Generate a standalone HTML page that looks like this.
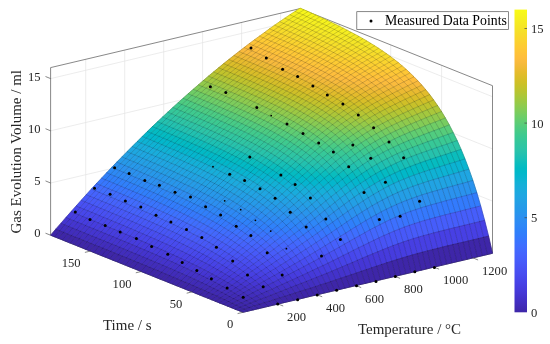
<!DOCTYPE html>
<html><head><meta charset="utf-8"><title>Gas Evolution Volume</title>
<style>html,body{margin:0;padding:0;background:#fff}svg{display:block}</style></head>
<body>
<svg width="550" height="344" viewBox="0 0 550 344" font-family="'Liberation Serif', 'Times New Roman', serif">
<rect width="550" height="344" fill="#fff"/>
<path d="M85.7,226.9L85.7,59.3M278.1,304L85.7,226.9M124.7,217.7L124.7,50.1M317.1,294.8L124.7,217.7M163.7,208.5L163.7,40.9M356.1,285.6L163.7,208.5M202.6,199.2L202.6,31.6M395,276.3L202.6,199.2M241.6,190L241.6,22.4M434,267.1L241.6,190M280.6,180.8L280.6,13.2M473,257.9L280.6,180.8M441.6,232.9L441.6,65.3M192.1,291.9L441.6,232.9M390.7,212.5L390.7,44.9M141.2,271.5L390.7,212.5M339.8,192.1L339.8,24.5M90.3,251.1L339.8,192.1M50.6,183L300.1,124M300.1,124L492.5,201.1M50.6,130.8L300.1,71.8M300.1,71.8L492.5,148.9M50.6,78.6L300.1,19.6M300.1,19.6L492.5,96.7" stroke="#e4e4e4" stroke-width="0.7" fill="none"/>
<path d="M50.6,235.2L50.6,67.6M50.6,67.6L300.1,8.6M300.1,8.6L492.5,85.7M492.5,85.7L492.5,253.3M300.1,176.2L300.1,8.6M50.6,235.2L243,312.3M243,312.3L492.5,253.3" stroke="#555" stroke-width="0.7" fill="none"/>
<g stroke-width="0.7" stroke-linejoin="round">
<path fill="#f7f61a" stroke="#f7f61a" d="M298.9,13.1L304,9.8 300.1,8.1 295,11.4z"/>
<path fill="#f6f11e" stroke="#f6f11e" d="M293.8,16.5L298.9,13.1 295,11.4 289.9,14.8z"/>
<path fill="#f5ec22" stroke="#f5ec22" d="M288.8,19.9L293.8,16.5 289.9,14.8 284.8,18.2z"/>
<path fill="#f5e725" stroke="#f5e725" d="M283.7,23.4L288.8,19.9 284.8,18.2 279.7,21.7z"/>
<path fill="#f5e128" stroke="#f5e128" d="M278.6,26.9L283.7,23.4 279.7,21.7 274.6,25.2z"/>
<path fill="#f7dc2a" stroke="#f7dc2a" d="M273.5,30.5L278.6,26.9 274.6,25.2 269.5,28.8z"/>
<path fill="#fad62d" stroke="#fad62d" d="M268.4,34.1L273.5,30.5 269.5,28.8 264.5,32.5z"/>
<path fill="#fcd030" stroke="#fcd030" d="M263.3,37.8L268.4,34.1 264.5,32.5 259.4,36.2z"/>
<path fill="#feca33" stroke="#feca33" d="M258.2,41.6L263.3,37.8 259.4,36.2 254.3,39.9z"/>
<path fill="#fec438" stroke="#fec438" d="M253.1,45.4L258.2,41.6 254.3,39.9 249.2,43.7z"/>
<path fill="#febe3c" stroke="#febe3c" d="M248,49.2L253.1,45.4 249.2,43.7 244.1,47.6z"/>
<path fill="#f9ba3d" stroke="#f9ba3d" d="M242.9,53.2L248,49.2 244.1,47.6 239,51.5z"/>
<path fill="#f0ba36" stroke="#f0ba36" d="M237.8,57.1L242.9,53.2 239,51.5 233.9,55.5z"/>
<path fill="#e7bb2d" stroke="#e7bb2d" d="M232.7,61.2L237.8,57.1 233.9,55.5 228.8,59.5z"/>
<path fill="#dbbd29" stroke="#dbbd29" d="M227.6,65.3L232.7,61.2 228.8,59.5 223.7,63.6z"/>
<path fill="#cfc028" stroke="#cfc028" d="M222.6,69.4L227.6,65.3 223.7,63.6 218.6,67.8z"/>
<path fill="#c2c22c" stroke="#c2c22c" d="M217.5,73.6L222.6,69.4 218.6,67.8 213.5,72z"/>
<path fill="#b3c534" stroke="#b3c534" d="M212.4,77.8L217.5,73.6 213.5,72 208.4,76.2z"/>
<path fill="#a3c83f" stroke="#a3c83f" d="M207.3,82.1L212.4,77.8 208.4,76.2 203.4,80.5z"/>
<path fill="#92ca4b" stroke="#92ca4b" d="M202.2,86.5L207.3,82.1 203.4,80.5 198.3,84.9z"/>
<path fill="#81cc59" stroke="#81cc59" d="M197.1,90.9L202.2,86.5 198.3,84.9 193.2,89.3z"/>
<path fill="#6fcd66" stroke="#6fcd66" d="M192,95.4L197.1,90.9 193.2,89.3 188.1,93.8z"/>
<path fill="#5ecc74" stroke="#5ecc74" d="M186.9,99.9L192,95.4 188.1,93.8 183,98.3z"/>
<path fill="#4ecc81" stroke="#4ecc81" d="M181.8,104.5L186.9,99.9 183,98.3 177.9,102.9z"/>
<path fill="#3fca8e" stroke="#3fca8e" d="M176.7,109.1L181.8,104.5 177.9,102.9 172.8,107.5z"/>
<path fill="#35c79a" stroke="#35c79a" d="M171.6,113.8L176.7,109.1 172.8,107.5 167.7,112.2z"/>
<path fill="#2ec4a4" stroke="#2ec4a4" d="M166.5,118.6L171.6,113.8 167.7,112.2 162.6,117z"/>
<path fill="#24c1ae" stroke="#24c1ae" d="M161.5,123.4L166.5,118.6 162.6,117 157.5,121.8z"/>
<path fill="#14beb8" stroke="#14beb8" d="M156.4,128.2L161.5,123.4 157.5,121.8 152.4,126.6z"/>
<path fill="#04bbc2" stroke="#04bbc2" d="M151.3,133.1L156.4,128.2 152.4,126.6 147.3,131.5z"/>
<path fill="#02b7cb" stroke="#02b7cb" d="M146.2,138.1L151.3,133.1 147.3,131.5 142.3,136.5z"/>
<path fill="#0db3d4" stroke="#0db3d4" d="M141.1,143.1L146.2,138.1 142.3,136.5 137.2,141.5z"/>
<path fill="#18addb" stroke="#18addb" d="M136,148.2L141.1,143.1 137.2,141.5 132.1,146.6z"/>
<path fill="#1ea7e1" stroke="#1ea7e1" d="M130.9,153.3L136,148.2 132.1,146.6 127,151.7z"/>
<path fill="#23a0e5" stroke="#23a0e5" d="M125.8,158.5L130.9,153.3 127,151.7 121.9,156.9z"/>
<path fill="#2699e9" stroke="#2699e9" d="M120.7,163.7L125.8,158.5 121.9,156.9 116.8,162.1z"/>
<path fill="#2b91ef" stroke="#2b91ef" d="M115.6,169L120.7,163.7 116.8,162.1 111.7,167.4z"/>
<path fill="#2d89f5" stroke="#2d89f5" d="M110.5,174.4L115.6,169 111.7,167.4 106.6,172.8z"/>
<path fill="#2f80fa" stroke="#2f80fa" d="M105.4,179.8L110.5,174.4 106.6,172.8 101.5,178.2z"/>
<path fill="#3777fe" stroke="#3777fe" d="M100.4,185.2L105.4,179.8 101.5,178.2 96.4,183.6z"/>
<path fill="#406dfe" stroke="#406dfe" d="M95.3,190.7L100.4,185.2 96.4,183.6 91.3,189.1z"/>
<path fill="#4563fd" stroke="#4563fd" d="M90.2,196.3L95.3,190.7 91.3,189.1 86.2,194.7z"/>
<path fill="#475af9" stroke="#475af9" d="M85.1,201.9L90.2,196.3 86.2,194.7 81.2,200.3z"/>
<path fill="#4850f3" stroke="#4850f3" d="M80,207.6L85.1,201.9 81.2,200.3 76.1,206z"/>
<path fill="#4747eb" stroke="#4747eb" d="M74.9,213.3L80,207.6 76.1,206 71,211.7z"/>
<path fill="#463de0" stroke="#463de0" d="M69.8,219.1L74.9,213.3 71,211.7 65.9,217.5z"/>
<path fill="#4435d0" stroke="#4435d0" d="M64.7,224.9L69.8,219.1 65.9,217.5 60.8,223.4z"/>
<path fill="#412dbd" stroke="#412dbd" d="M59.6,230.8L64.7,224.9 60.8,223.4 55.7,229.2z"/>
<path fill="#3e26a8" stroke="#3e26a8" d="M54.5,236.8L59.6,230.8 55.7,229.2 50.6,235.2z"/>
<path fill="#f7f61b" stroke="#f7f61b" d="M302.9,14.8L308,11.5 304,9.8 298.9,13.1z"/>
<path fill="#f6f11f" stroke="#f6f11f" d="M297.8,18.2L302.9,14.8 298.9,13.1 293.8,16.5z"/>
<path fill="#f5ec22" stroke="#f5ec22" d="M292.7,21.6L297.8,18.2 293.8,16.5 288.8,19.9z"/>
<path fill="#f5e725" stroke="#f5e725" d="M287.6,25.1L292.7,21.6 288.8,19.9 283.7,23.4z"/>
<path fill="#f5e128" stroke="#f5e128" d="M282.5,28.6L287.6,25.1 283.7,23.4 278.6,26.9z"/>
<path fill="#f7db2a" stroke="#f7db2a" d="M277.4,32.2L282.5,28.6 278.6,26.9 273.5,30.5z"/>
<path fill="#fad62d" stroke="#fad62d" d="M272.3,35.8L277.4,32.2 273.5,30.5 268.4,34.1z"/>
<path fill="#fcd030" stroke="#fcd030" d="M267.2,39.5L272.3,35.8 268.4,34.1 263.3,37.8z"/>
<path fill="#feca33" stroke="#feca33" d="M262.1,43.2L267.2,39.5 263.3,37.8 258.2,41.6z"/>
<path fill="#fec438" stroke="#fec438" d="M257,47L262.1,43.2 258.2,41.6 253.1,45.4z"/>
<path fill="#febe3c" stroke="#febe3c" d="M251.9,50.9L257,47 253.1,45.4 248,49.2z"/>
<path fill="#f9ba3d" stroke="#f9ba3d" d="M246.9,54.8L251.9,50.9 248,49.2 242.9,53.2z"/>
<path fill="#f0ba36" stroke="#f0ba36" d="M241.8,58.8L246.9,54.8 242.9,53.2 237.8,57.1z"/>
<path fill="#e6bb2d" stroke="#e6bb2d" d="M236.7,62.8L241.8,58.8 237.8,57.1 232.7,61.2z"/>
<path fill="#dbbd29" stroke="#dbbd29" d="M231.6,66.9L236.7,62.8 232.7,61.2 227.6,65.3z"/>
<path fill="#cfc028" stroke="#cfc028" d="M226.5,71L231.6,66.9 227.6,65.3 222.6,69.4z"/>
<path fill="#c1c32c" stroke="#c1c32c" d="M221.4,75.2L226.5,71 222.6,69.4 217.5,73.6z"/>
<path fill="#b3c534" stroke="#b3c534" d="M216.3,79.5L221.4,75.2 217.5,73.6 212.4,77.8z"/>
<path fill="#a3c83f" stroke="#a3c83f" d="M211.2,83.8L216.3,79.5 212.4,77.8 207.3,82.1z"/>
<path fill="#92ca4b" stroke="#92ca4b" d="M206.1,88.1L211.2,83.8 207.3,82.1 202.2,86.5z"/>
<path fill="#81cc59" stroke="#81cc59" d="M201,92.5L206.1,88.1 202.2,86.5 197.1,90.9z"/>
<path fill="#6fcd66" stroke="#6fcd66" d="M195.9,97L201,92.5 197.1,90.9 192,95.4z"/>
<path fill="#5ecc74" stroke="#5ecc74" d="M190.8,101.5L195.9,97 192,95.4 186.9,99.9z"/>
<path fill="#4dcc82" stroke="#4dcc82" d="M185.7,106.1L190.8,101.5 186.9,99.9 181.8,104.5z"/>
<path fill="#3fca8e" stroke="#3fca8e" d="M180.7,110.8L185.7,106.1 181.8,104.5 176.7,109.1z"/>
<path fill="#35c79a" stroke="#35c79a" d="M175.6,115.5L180.7,110.8 176.7,109.1 171.6,113.8z"/>
<path fill="#2ec4a4" stroke="#2ec4a4" d="M170.5,120.2L175.6,115.5 171.6,113.8 166.5,118.6z"/>
<path fill="#24c1af" stroke="#24c1af" d="M165.4,125L170.5,120.2 166.5,118.6 161.5,123.4z"/>
<path fill="#14beb8" stroke="#14beb8" d="M160.3,129.9L165.4,125 161.5,123.4 156.4,128.2z"/>
<path fill="#04bbc2" stroke="#04bbc2" d="M155.2,134.8L160.3,129.9 156.4,128.2 151.3,133.1z"/>
<path fill="#02b7cb" stroke="#02b7cb" d="M150.1,139.7L155.2,134.8 151.3,133.1 146.2,138.1z"/>
<path fill="#0eb3d4" stroke="#0eb3d4" d="M145,144.8L150.1,139.7 146.2,138.1 141.1,143.1z"/>
<path fill="#18addb" stroke="#18addb" d="M139.9,149.8L145,144.8 141.1,143.1 136,148.2z"/>
<path fill="#1ea7e1" stroke="#1ea7e1" d="M134.8,155L139.9,149.8 136,148.2 130.9,153.3z"/>
<path fill="#23a0e5" stroke="#23a0e5" d="M129.7,160.1L134.8,155 130.9,153.3 125.8,158.5z"/>
<path fill="#2699e9" stroke="#2699e9" d="M124.6,165.4L129.7,160.1 125.8,158.5 120.7,163.7z"/>
<path fill="#2b91ef" stroke="#2b91ef" d="M119.6,170.7L124.6,165.4 120.7,163.7 115.6,169z"/>
<path fill="#2d89f5" stroke="#2d89f5" d="M114.5,176L119.6,170.7 115.6,169 110.5,174.4z"/>
<path fill="#2f80fa" stroke="#2f80fa" d="M109.4,181.4L114.5,176 110.5,174.4 105.4,179.8z"/>
<path fill="#3777fe" stroke="#3777fe" d="M104.3,186.9L109.4,181.4 105.4,179.8 100.4,185.2z"/>
<path fill="#406dfe" stroke="#406dfe" d="M99.2,192.4L104.3,186.9 100.4,185.2 95.3,190.7z"/>
<path fill="#4563fd" stroke="#4563fd" d="M94.1,197.9L99.2,192.4 95.3,190.7 90.2,196.3z"/>
<path fill="#475af9" stroke="#475af9" d="M89,203.5L94.1,197.9 90.2,196.3 85.1,201.9z"/>
<path fill="#4850f3" stroke="#4850f3" d="M83.9,209.2L89,203.5 85.1,201.9 80,207.6z"/>
<path fill="#4747eb" stroke="#4747eb" d="M78.8,214.9L83.9,209.2 80,207.6 74.9,213.3z"/>
<path fill="#463de0" stroke="#463de0" d="M73.7,220.7L78.8,214.9 74.9,213.3 69.8,219.1z"/>
<path fill="#4435d0" stroke="#4435d0" d="M68.6,226.5L73.7,220.7 69.8,219.1 64.7,224.9z"/>
<path fill="#412dbd" stroke="#412dbd" d="M63.5,232.4L68.6,226.5 64.7,224.9 59.6,230.8z"/>
<path fill="#3e26a8" stroke="#3e26a8" d="M58.5,238.3L63.5,232.4 59.6,230.8 54.5,236.8z"/>
<path fill="#f7f51b" stroke="#f7f51b" d="M306.8,16.6L311.9,13.3 308,11.5 302.9,14.8z"/>
<path fill="#f6f01f" stroke="#f6f01f" d="M301.7,19.9L306.8,16.6 302.9,14.8 297.8,18.2z"/>
<path fill="#f5eb23" stroke="#f5eb23" d="M296.6,23.3L301.7,19.9 297.8,18.2 292.7,21.6z"/>
<path fill="#f5e626" stroke="#f5e626" d="M291.5,26.8L296.6,23.3 292.7,21.6 287.6,25.1z"/>
<path fill="#f6e128" stroke="#f6e128" d="M286.4,30.3L291.5,26.8 287.6,25.1 282.5,28.6z"/>
<path fill="#f7db2a" stroke="#f7db2a" d="M281.3,33.9L286.4,30.3 282.5,28.6 277.4,32.2z"/>
<path fill="#fad52d" stroke="#fad52d" d="M276.2,37.5L281.3,33.9 277.4,32.2 272.3,35.8z"/>
<path fill="#fccf30" stroke="#fccf30" d="M271.1,41.2L276.2,37.5 272.3,35.8 267.2,39.5z"/>
<path fill="#fec934" stroke="#fec934" d="M266.1,44.9L271.1,41.2 267.2,39.5 262.1,43.2z"/>
<path fill="#fec438" stroke="#fec438" d="M261,48.7L266.1,44.9 262.1,43.2 257,47z"/>
<path fill="#febe3c" stroke="#febe3c" d="M255.9,52.5L261,48.7 257,47 251.9,50.9z"/>
<path fill="#f8ba3d" stroke="#f8ba3d" d="M250.8,56.4L255.9,52.5 251.9,50.9 246.9,54.8z"/>
<path fill="#f0ba36" stroke="#f0ba36" d="M245.7,60.4L250.8,56.4 246.9,54.8 241.8,58.8z"/>
<path fill="#e6bb2d" stroke="#e6bb2d" d="M240.6,64.4L245.7,60.4 241.8,58.8 236.7,62.8z"/>
<path fill="#dbbd29" stroke="#dbbd29" d="M235.5,68.5L240.6,64.4 236.7,62.8 231.6,66.9z"/>
<path fill="#cfc028" stroke="#cfc028" d="M230.4,72.6L235.5,68.5 231.6,66.9 226.5,71z"/>
<path fill="#c1c32c" stroke="#c1c32c" d="M225.3,76.8L230.4,72.6 226.5,71 221.4,75.2z"/>
<path fill="#b2c534" stroke="#b2c534" d="M220.2,81.1L225.3,76.8 221.4,75.2 216.3,79.5z"/>
<path fill="#a3c83f" stroke="#a3c83f" d="M215.1,85.4L220.2,81.1 216.3,79.5 211.2,83.8z"/>
<path fill="#92ca4c" stroke="#92ca4c" d="M210,89.8L215.1,85.4 211.2,83.8 206.1,88.1z"/>
<path fill="#80cc59" stroke="#80cc59" d="M205,94.2L210,89.8 206.1,88.1 201,92.5z"/>
<path fill="#6ecd66" stroke="#6ecd66" d="M199.9,98.6L205,94.2 201,92.5 195.9,97z"/>
<path fill="#5dcc74" stroke="#5dcc74" d="M194.8,103.2L199.9,98.6 195.9,97 190.8,101.5z"/>
<path fill="#4dcc82" stroke="#4dcc82" d="M189.7,107.8L194.8,103.2 190.8,101.5 185.7,106.1z"/>
<path fill="#3fca8e" stroke="#3fca8e" d="M184.6,112.4L189.7,107.8 185.7,106.1 180.7,110.8z"/>
<path fill="#35c79a" stroke="#35c79a" d="M179.5,117.1L184.6,112.4 180.7,110.8 175.6,115.5z"/>
<path fill="#2ec4a5" stroke="#2ec4a5" d="M174.4,121.8L179.5,117.1 175.6,115.5 170.5,120.2z"/>
<path fill="#24c1af" stroke="#24c1af" d="M169.3,126.7L174.4,121.8 170.5,120.2 165.4,125z"/>
<path fill="#13beb8" stroke="#13beb8" d="M164.2,131.5L169.3,126.7 165.4,125 160.3,129.9z"/>
<path fill="#04bbc2" stroke="#04bbc2" d="M159.1,136.4L164.2,131.5 160.3,129.9 155.2,134.8z"/>
<path fill="#02b7cb" stroke="#02b7cb" d="M154,141.4L159.1,136.4 155.2,134.8 150.1,139.7z"/>
<path fill="#0eb2d4" stroke="#0eb2d4" d="M148.9,146.4L154,141.4 150.1,139.7 145,144.8z"/>
<path fill="#19addc" stroke="#19addc" d="M143.8,151.5L148.9,146.4 145,144.8 139.9,149.8z"/>
<path fill="#1ea7e1" stroke="#1ea7e1" d="M138.8,156.6L143.8,151.5 139.9,149.8 134.8,155z"/>
<path fill="#23a0e5" stroke="#23a0e5" d="M133.7,161.8L138.8,156.6 134.8,155 129.7,160.1z"/>
<path fill="#2699e9" stroke="#2699e9" d="M128.6,167L133.7,161.8 129.7,160.1 124.6,165.4z"/>
<path fill="#2b91ef" stroke="#2b91ef" d="M123.5,172.3L128.6,167 124.6,165.4 119.6,170.7z"/>
<path fill="#2d89f5" stroke="#2d89f5" d="M118.4,177.6L123.5,172.3 119.6,170.7 114.5,176z"/>
<path fill="#2f80fa" stroke="#2f80fa" d="M113.3,183L118.4,177.6 114.5,176 109.4,181.4z"/>
<path fill="#3777fe" stroke="#3777fe" d="M108.2,188.5L113.3,183 109.4,181.4 104.3,186.9z"/>
<path fill="#406dfe" stroke="#406dfe" d="M103.1,194L108.2,188.5 104.3,186.9 99.2,192.4z"/>
<path fill="#4563fd" stroke="#4563fd" d="M98,199.5L103.1,194 99.2,192.4 94.1,197.9z"/>
<path fill="#475af9" stroke="#475af9" d="M92.9,205.1L98,199.5 94.1,197.9 89,203.5z"/>
<path fill="#4850f3" stroke="#4850f3" d="M87.8,210.8L92.9,205.1 89,203.5 83.9,209.2z"/>
<path fill="#4747eb" stroke="#4747eb" d="M82.7,216.5L87.8,210.8 83.9,209.2 78.8,214.9z"/>
<path fill="#463de0" stroke="#463de0" d="M77.7,222.3L82.7,216.5 78.8,214.9 73.7,220.7z"/>
<path fill="#4435d0" stroke="#4435d0" d="M72.6,228.1L77.7,222.3 73.7,220.7 68.6,226.5z"/>
<path fill="#412dbd" stroke="#412dbd" d="M67.5,234L72.6,228.1 68.6,226.5 63.5,232.4z"/>
<path fill="#3e26a8" stroke="#3e26a8" d="M62.4,239.9L67.5,234 63.5,232.4 58.5,238.3z"/>
<path fill="#f7f51b" stroke="#f7f51b" d="M310.7,18.4L315.8,15.1 311.9,13.3 306.8,16.6z"/>
<path fill="#f6f01f" stroke="#f6f01f" d="M305.6,21.7L310.7,18.4 306.8,16.6 301.7,19.9z"/>
<path fill="#f5eb23" stroke="#f5eb23" d="M300.5,25.1L305.6,21.7 301.7,19.9 296.6,23.3z"/>
<path fill="#f5e626" stroke="#f5e626" d="M295.4,28.5L300.5,25.1 296.6,23.3 291.5,26.8z"/>
<path fill="#f6e028" stroke="#f6e028" d="M290.3,32L295.4,28.5 291.5,26.8 286.4,30.3z"/>
<path fill="#f7db2b" stroke="#f7db2b" d="M285.3,35.6L290.3,32 286.4,30.3 281.3,33.9z"/>
<path fill="#fad52d" stroke="#fad52d" d="M280.2,39.2L285.3,35.6 281.3,33.9 276.2,37.5z"/>
<path fill="#fccf30" stroke="#fccf30" d="M275.1,42.9L280.2,39.2 276.2,37.5 271.1,41.2z"/>
<path fill="#fec934" stroke="#fec934" d="M270,46.6L275.1,42.9 271.1,41.2 266.1,44.9z"/>
<path fill="#fec338" stroke="#fec338" d="M264.9,50.4L270,46.6 266.1,44.9 261,48.7z"/>
<path fill="#febe3c" stroke="#febe3c" d="M259.8,54.2L264.9,50.4 261,48.7 255.9,52.5z"/>
<path fill="#f8ba3d" stroke="#f8ba3d" d="M254.7,58.1L259.8,54.2 255.9,52.5 250.8,56.4z"/>
<path fill="#efba35" stroke="#efba35" d="M249.6,62.1L254.7,58.1 250.8,56.4 245.7,60.4z"/>
<path fill="#e6bb2d" stroke="#e6bb2d" d="M244.5,66.1L249.6,62.1 245.7,60.4 240.6,64.4z"/>
<path fill="#dbbd28" stroke="#dbbd28" d="M239.4,70.2L244.5,66.1 240.6,64.4 235.5,68.5z"/>
<path fill="#cec028" stroke="#cec028" d="M234.3,74.3L239.4,70.2 235.5,68.5 230.4,72.6z"/>
<path fill="#c1c32c" stroke="#c1c32c" d="M229.2,78.5L234.3,74.3 230.4,72.6 225.3,76.8z"/>
<path fill="#b2c535" stroke="#b2c535" d="M224.2,82.7L229.2,78.5 225.3,76.8 220.2,81.1z"/>
<path fill="#a2c83f" stroke="#a2c83f" d="M219.1,87L224.2,82.7 220.2,81.1 215.1,85.4z"/>
<path fill="#92ca4c" stroke="#92ca4c" d="M214,91.4L219.1,87 215.1,85.4 210,89.8z"/>
<path fill="#80cc59" stroke="#80cc59" d="M208.9,95.8L214,91.4 210,89.8 205,94.2z"/>
<path fill="#6ecd67" stroke="#6ecd67" d="M203.8,100.3L208.9,95.8 205,94.2 199.9,98.6z"/>
<path fill="#5dcc75" stroke="#5dcc75" d="M198.7,104.8L203.8,100.3 199.9,98.6 194.8,103.2z"/>
<path fill="#4dcc82" stroke="#4dcc82" d="M193.6,109.4L198.7,104.8 194.8,103.2 189.7,107.8z"/>
<path fill="#3eca8f" stroke="#3eca8f" d="M188.5,114L193.6,109.4 189.7,107.8 184.6,112.4z"/>
<path fill="#35c79a" stroke="#35c79a" d="M183.4,118.7L188.5,114 184.6,112.4 179.5,117.1z"/>
<path fill="#2dc4a5" stroke="#2dc4a5" d="M178.3,123.5L183.4,118.7 179.5,117.1 174.4,121.8z"/>
<path fill="#23c1af" stroke="#23c1af" d="M173.2,128.3L178.3,123.5 174.4,121.8 169.3,126.7z"/>
<path fill="#13beb9" stroke="#13beb9" d="M168.1,133.2L173.2,128.3 169.3,126.7 164.2,131.5z"/>
<path fill="#03bbc2" stroke="#03bbc2" d="M163.1,138.1L168.1,133.2 164.2,131.5 159.1,136.4z"/>
<path fill="#02b7cb" stroke="#02b7cb" d="M158,143L163.1,138.1 159.1,136.4 154,141.4z"/>
<path fill="#0eb2d4" stroke="#0eb2d4" d="M152.9,148.1L158,143 154,141.4 148.9,146.4z"/>
<path fill="#19addc" stroke="#19addc" d="M147.8,153.1L152.9,148.1 148.9,146.4 143.8,151.5z"/>
<path fill="#1ea7e1" stroke="#1ea7e1" d="M142.7,158.3L147.8,153.1 143.8,151.5 138.8,156.6z"/>
<path fill="#23a0e5" stroke="#23a0e5" d="M137.6,163.4L142.7,158.3 138.8,156.6 133.7,161.8z"/>
<path fill="#2699ea" stroke="#2699ea" d="M132.5,168.7L137.6,163.4 133.7,161.8 128.6,167z"/>
<path fill="#2b91ef" stroke="#2b91ef" d="M127.4,173.9L132.5,168.7 128.6,167 123.5,172.3z"/>
<path fill="#2d89f5" stroke="#2d89f5" d="M122.3,179.3L127.4,173.9 123.5,172.3 118.4,177.6z"/>
<path fill="#2f80fa" stroke="#2f80fa" d="M117.2,184.7L122.3,179.3 118.4,177.6 113.3,183z"/>
<path fill="#3777fe" stroke="#3777fe" d="M112.1,190.1L117.2,184.7 113.3,183 108.2,188.5z"/>
<path fill="#406dfe" stroke="#406dfe" d="M107,195.6L112.1,190.1 108.2,188.5 103.1,194z"/>
<path fill="#4563fd" stroke="#4563fd" d="M101.9,201.2L107,195.6 103.1,194 98,199.5z"/>
<path fill="#475af9" stroke="#475af9" d="M96.9,206.8L101.9,201.2 98,199.5 92.9,205.1z"/>
<path fill="#4850f3" stroke="#4850f3" d="M91.8,212.4L96.9,206.8 92.9,205.1 87.8,210.8z"/>
<path fill="#4747eb" stroke="#4747eb" d="M86.7,218.1L91.8,212.4 87.8,210.8 82.7,216.5z"/>
<path fill="#463de0" stroke="#463de0" d="M81.6,223.9L86.7,218.1 82.7,216.5 77.7,222.3z"/>
<path fill="#4435d0" stroke="#4435d0" d="M76.5,229.7L81.6,223.9 77.7,222.3 72.6,228.1z"/>
<path fill="#412dbd" stroke="#412dbd" d="M71.4,235.6L76.5,229.7 72.6,228.1 67.5,234z"/>
<path fill="#3e26a8" stroke="#3e26a8" d="M66.3,241.5L71.4,235.6 67.5,234 62.4,239.9z"/>
<path fill="#f7f41c" stroke="#f7f41c" d="M314.6,20.1L319.7,16.9 315.8,15.1 310.7,18.4z"/>
<path fill="#f6f020" stroke="#f6f020" d="M309.5,23.5L314.6,20.1 310.7,18.4 305.6,21.7z"/>
<path fill="#f5eb23" stroke="#f5eb23" d="M304.5,26.8L309.5,23.5 305.6,21.7 300.5,25.1z"/>
<path fill="#f5e526" stroke="#f5e526" d="M299.4,30.3L304.5,26.8 300.5,25.1 295.4,28.5z"/>
<path fill="#f6e028" stroke="#f6e028" d="M294.3,33.8L299.4,30.3 295.4,28.5 290.3,32z"/>
<path fill="#f8da2b" stroke="#f8da2b" d="M289.2,37.3L294.3,33.8 290.3,32 285.3,35.6z"/>
<path fill="#fad52e" stroke="#fad52e" d="M284.1,40.9L289.2,37.3 285.3,35.6 280.2,39.2z"/>
<path fill="#fccf30" stroke="#fccf30" d="M279,44.6L284.1,40.9 280.2,39.2 275.1,42.9z"/>
<path fill="#fec934" stroke="#fec934" d="M273.9,48.3L279,44.6 275.1,42.9 270,46.6z"/>
<path fill="#fec338" stroke="#fec338" d="M268.8,52L273.9,48.3 270,46.6 264.9,50.4z"/>
<path fill="#febe3c" stroke="#febe3c" d="M263.7,55.9L268.8,52 264.9,50.4 259.8,54.2z"/>
<path fill="#f8ba3d" stroke="#f8ba3d" d="M258.6,59.8L263.7,55.9 259.8,54.2 254.7,58.1z"/>
<path fill="#efba35" stroke="#efba35" d="M253.5,63.7L258.6,59.8 254.7,58.1 249.6,62.1z"/>
<path fill="#e5bb2d" stroke="#e5bb2d" d="M248.4,67.7L253.5,63.7 249.6,62.1 244.5,66.1z"/>
<path fill="#dabd28" stroke="#dabd28" d="M243.4,71.8L248.4,67.7 244.5,66.1 239.4,70.2z"/>
<path fill="#cec028" stroke="#cec028" d="M238.3,75.9L243.4,71.8 239.4,70.2 234.3,74.3z"/>
<path fill="#c1c32d" stroke="#c1c32d" d="M233.2,80.1L238.3,75.9 234.3,74.3 229.2,78.5z"/>
<path fill="#b2c635" stroke="#b2c635" d="M228.1,84.4L233.2,80.1 229.2,78.5 224.2,82.7z"/>
<path fill="#a2c83f" stroke="#a2c83f" d="M223,88.7L228.1,84.4 224.2,82.7 219.1,87z"/>
<path fill="#91ca4c" stroke="#91ca4c" d="M217.9,93L223,88.7 219.1,87 214,91.4z"/>
<path fill="#80cc59" stroke="#80cc59" d="M212.8,97.4L217.9,93 214,91.4 208.9,95.8z"/>
<path fill="#6ecd67" stroke="#6ecd67" d="M207.7,101.9L212.8,97.4 208.9,95.8 203.8,100.3z"/>
<path fill="#5dcc75" stroke="#5dcc75" d="M202.6,106.5L207.7,101.9 203.8,100.3 198.7,104.8z"/>
<path fill="#4dcb82" stroke="#4dcb82" d="M197.5,111L202.6,106.5 198.7,104.8 193.6,109.4z"/>
<path fill="#3eca8f" stroke="#3eca8f" d="M192.4,115.7L197.5,111 193.6,109.4 188.5,114z"/>
<path fill="#35c79a" stroke="#35c79a" d="M187.3,120.4L192.4,115.7 188.5,114 183.4,118.7z"/>
<path fill="#2dc4a5" stroke="#2dc4a5" d="M182.3,125.1L187.3,120.4 183.4,118.7 178.3,123.5z"/>
<path fill="#23c1af" stroke="#23c1af" d="M177.2,130L182.3,125.1 178.3,123.5 173.2,128.3z"/>
<path fill="#12beb9" stroke="#12beb9" d="M172.1,134.8L177.2,130 173.2,128.3 168.1,133.2z"/>
<path fill="#03bbc2" stroke="#03bbc2" d="M167,139.7L172.1,134.8 168.1,133.2 163.1,138.1z"/>
<path fill="#03b7cc" stroke="#03b7cc" d="M161.9,144.7L167,139.7 163.1,138.1 158,143z"/>
<path fill="#0eb2d4" stroke="#0eb2d4" d="M156.8,149.7L161.9,144.7 158,143 152.9,148.1z"/>
<path fill="#19addc" stroke="#19addc" d="M151.7,154.8L156.8,149.7 152.9,148.1 147.8,153.1z"/>
<path fill="#1ea6e1" stroke="#1ea6e1" d="M146.6,159.9L151.7,154.8 147.8,153.1 142.7,158.3z"/>
<path fill="#23a0e5" stroke="#23a0e5" d="M141.5,165.1L146.6,159.9 142.7,158.3 137.6,163.4z"/>
<path fill="#2698ea" stroke="#2698ea" d="M136.4,170.3L141.5,165.1 137.6,163.4 132.5,168.7z"/>
<path fill="#2b91ef" stroke="#2b91ef" d="M131.3,175.6L136.4,170.3 132.5,168.7 127.4,173.9z"/>
<path fill="#2d89f6" stroke="#2d89f6" d="M126.2,180.9L131.3,175.6 127.4,173.9 122.3,179.3z"/>
<path fill="#3080fa" stroke="#3080fa" d="M121.2,186.3L126.2,180.9 122.3,179.3 117.2,184.7z"/>
<path fill="#3776fe" stroke="#3776fe" d="M116.1,191.7L121.2,186.3 117.2,184.7 112.1,190.1z"/>
<path fill="#406dfe" stroke="#406dfe" d="M111,197.2L116.1,191.7 112.1,190.1 107,195.6z"/>
<path fill="#4563fc" stroke="#4563fc" d="M105.9,202.8L111,197.2 107,195.6 101.9,201.2z"/>
<path fill="#475af9" stroke="#475af9" d="M100.8,208.4L105.9,202.8 101.9,201.2 96.9,206.8z"/>
<path fill="#4850f3" stroke="#4850f3" d="M95.7,214L100.8,208.4 96.9,206.8 91.8,212.4z"/>
<path fill="#4747eb" stroke="#4747eb" d="M90.6,219.7L95.7,214 91.8,212.4 86.7,218.1z"/>
<path fill="#463de0" stroke="#463de0" d="M85.5,225.5L90.6,219.7 86.7,218.1 81.6,223.9z"/>
<path fill="#4435d0" stroke="#4435d0" d="M80.4,231.3L85.5,225.5 81.6,223.9 76.5,229.7z"/>
<path fill="#412dbd" stroke="#412dbd" d="M75.3,237.2L80.4,231.3 76.5,229.7 71.4,235.6z"/>
<path fill="#3e26a8" stroke="#3e26a8" d="M70.2,243.1L75.3,237.2 71.4,235.6 66.3,241.5z"/>
<path fill="#f7f41c" stroke="#f7f41c" d="M318.6,21.9L323.7,18.7 319.7,16.9 314.6,20.1z"/>
<path fill="#f6ef20" stroke="#f6ef20" d="M313.5,25.3L318.6,21.9 314.6,20.1 309.5,23.5z"/>
<path fill="#f5ea24" stroke="#f5ea24" d="M308.4,28.6L313.5,25.3 309.5,23.5 304.5,26.8z"/>
<path fill="#f5e526" stroke="#f5e526" d="M303.3,32L308.4,28.6 304.5,26.8 299.4,30.3z"/>
<path fill="#f6e029" stroke="#f6e029" d="M298.2,35.5L303.3,32 299.4,30.3 294.3,33.8z"/>
<path fill="#f8da2b" stroke="#f8da2b" d="M293.1,39L298.2,35.5 294.3,33.8 289.2,37.3z"/>
<path fill="#fad42e" stroke="#fad42e" d="M288,42.6L293.1,39 289.2,37.3 284.1,40.9z"/>
<path fill="#fdce31" stroke="#fdce31" d="M282.9,46.3L288,42.6 284.1,40.9 279,44.6z"/>
<path fill="#fec934" stroke="#fec934" d="M277.8,50L282.9,46.3 279,44.6 273.9,48.3z"/>
<path fill="#fec338" stroke="#fec338" d="M272.7,53.7L277.8,50 273.9,48.3 268.8,52z"/>
<path fill="#febd3c" stroke="#febd3c" d="M267.6,57.6L272.7,53.7 268.8,52 263.7,55.9z"/>
<path fill="#f8ba3d" stroke="#f8ba3d" d="M262.6,61.4L267.6,57.6 263.7,55.9 258.6,59.8z"/>
<path fill="#efba35" stroke="#efba35" d="M257.5,65.4L262.6,61.4 258.6,59.8 253.5,63.7z"/>
<path fill="#e5bb2d" stroke="#e5bb2d" d="M252.4,69.4L257.5,65.4 253.5,63.7 248.4,67.7z"/>
<path fill="#dabd28" stroke="#dabd28" d="M247.3,73.5L252.4,69.4 248.4,67.7 243.4,71.8z"/>
<path fill="#cec028" stroke="#cec028" d="M242.2,77.6L247.3,73.5 243.4,71.8 238.3,75.9z"/>
<path fill="#c0c32d" stroke="#c0c32d" d="M237.1,81.8L242.2,77.6 238.3,75.9 233.2,80.1z"/>
<path fill="#b1c635" stroke="#b1c635" d="M232,86L237.1,81.8 233.2,80.1 228.1,84.4z"/>
<path fill="#a2c840" stroke="#a2c840" d="M226.9,90.3L232,86 228.1,84.4 223,88.7z"/>
<path fill="#91ca4c" stroke="#91ca4c" d="M221.8,94.7L226.9,90.3 223,88.7 217.9,93z"/>
<path fill="#7fcc5a" stroke="#7fcc5a" d="M216.7,99.1L221.8,94.7 217.9,93 212.8,97.4z"/>
<path fill="#6dcd67" stroke="#6dcd67" d="M211.6,103.6L216.7,99.1 212.8,97.4 207.7,101.9z"/>
<path fill="#5ccc75" stroke="#5ccc75" d="M206.5,108.1L211.6,103.6 207.7,101.9 202.6,106.5z"/>
<path fill="#4ccb83" stroke="#4ccb83" d="M201.5,112.7L206.5,108.1 202.6,106.5 197.5,111z"/>
<path fill="#3eca8f" stroke="#3eca8f" d="M196.4,117.4L201.5,112.7 197.5,111 192.4,115.7z"/>
<path fill="#35c79b" stroke="#35c79b" d="M191.3,122.1L196.4,117.4 192.4,115.7 187.3,120.4z"/>
<path fill="#2dc4a5" stroke="#2dc4a5" d="M186.2,126.8L191.3,122.1 187.3,120.4 182.3,125.1z"/>
<path fill="#22c1af" stroke="#22c1af" d="M181.1,131.6L186.2,126.8 182.3,125.1 177.2,130z"/>
<path fill="#12beb9" stroke="#12beb9" d="M176,136.5L181.1,131.6 177.2,130 172.1,134.8z"/>
<path fill="#03bbc3" stroke="#03bbc3" d="M170.9,141.4L176,136.5 172.1,134.8 167,139.7z"/>
<path fill="#03b7cc" stroke="#03b7cc" d="M165.8,146.4L170.9,141.4 167,139.7 161.9,144.7z"/>
<path fill="#0fb2d4" stroke="#0fb2d4" d="M160.7,151.4L165.8,146.4 161.9,144.7 156.8,149.7z"/>
<path fill="#19addc" stroke="#19addc" d="M155.6,156.5L160.7,151.4 156.8,149.7 151.7,154.8z"/>
<path fill="#1fa6e1" stroke="#1fa6e1" d="M150.5,161.6L155.6,156.5 151.7,154.8 146.6,159.9z"/>
<path fill="#239fe5" stroke="#239fe5" d="M145.4,166.8L150.5,161.6 146.6,159.9 141.5,165.1z"/>
<path fill="#2798ea" stroke="#2798ea" d="M140.4,172L145.4,166.8 141.5,165.1 136.4,170.3z"/>
<path fill="#2b91ef" stroke="#2b91ef" d="M135.3,177.3L140.4,172 136.4,170.3 131.3,175.6z"/>
<path fill="#2d88f6" stroke="#2d88f6" d="M130.2,182.6L135.3,177.3 131.3,175.6 126.2,180.9z"/>
<path fill="#3080fb" stroke="#3080fb" d="M125.1,188L130.2,182.6 126.2,180.9 121.2,186.3z"/>
<path fill="#3776fe" stroke="#3776fe" d="M120,193.4L125.1,188 121.2,186.3 116.1,191.7z"/>
<path fill="#406cfe" stroke="#406cfe" d="M114.9,198.9L120,193.4 116.1,191.7 111,197.2z"/>
<path fill="#4563fc" stroke="#4563fc" d="M109.8,204.4L114.9,198.9 111,197.2 105.9,202.8z"/>
<path fill="#4759f9" stroke="#4759f9" d="M104.7,210L109.8,204.4 105.9,202.8 100.8,208.4z"/>
<path fill="#4850f3" stroke="#4850f3" d="M99.6,215.6L104.7,210 100.8,208.4 95.7,214z"/>
<path fill="#4747eb" stroke="#4747eb" d="M94.5,221.3L99.6,215.6 95.7,214 90.6,219.7z"/>
<path fill="#463de0" stroke="#463de0" d="M89.4,227.1L94.5,221.3 90.6,219.7 85.5,225.5z"/>
<path fill="#4435d0" stroke="#4435d0" d="M84.3,232.9L89.4,227.1 85.5,225.5 80.4,231.3z"/>
<path fill="#412dbd" stroke="#412dbd" d="M79.3,238.7L84.3,232.9 80.4,231.3 75.3,237.2z"/>
<path fill="#3e26a8" stroke="#3e26a8" d="M74.2,244.6L79.3,238.7 75.3,237.2 70.2,243.1z"/>
<path fill="#f7f31d" stroke="#f7f31d" d="M322.5,23.8L327.6,20.5 323.7,18.7 318.6,21.9z"/>
<path fill="#f5ee21" stroke="#f5ee21" d="M317.4,27.1L322.5,23.8 318.6,21.9 313.5,25.3z"/>
<path fill="#f5ea24" stroke="#f5ea24" d="M312.3,30.4L317.4,27.1 313.5,25.3 308.4,28.6z"/>
<path fill="#f5e426" stroke="#f5e426" d="M307.2,33.8L312.3,30.4 308.4,28.6 303.3,32z"/>
<path fill="#f6df29" stroke="#f6df29" d="M302.1,37.3L307.2,33.8 303.3,32 298.2,35.5z"/>
<path fill="#f8da2b" stroke="#f8da2b" d="M297,40.8L302.1,37.3 298.2,35.5 293.1,39z"/>
<path fill="#fad42e" stroke="#fad42e" d="M291.9,44.4L297,40.8 293.1,39 288,42.6z"/>
<path fill="#fdce31" stroke="#fdce31" d="M286.9,48L291.9,44.4 288,42.6 282.9,46.3z"/>
<path fill="#fec834" stroke="#fec834" d="M281.8,51.7L286.9,48 282.9,46.3 277.8,50z"/>
<path fill="#fec339" stroke="#fec339" d="M276.7,55.4L281.8,51.7 277.8,50 272.7,53.7z"/>
<path fill="#fdbd3d" stroke="#fdbd3d" d="M271.6,59.3L276.7,55.4 272.7,53.7 267.6,57.6z"/>
<path fill="#f7ba3c" stroke="#f7ba3c" d="M266.5,63.1L271.6,59.3 267.6,57.6 262.6,61.4z"/>
<path fill="#eeba35" stroke="#eeba35" d="M261.4,67.1L266.5,63.1 262.6,61.4 257.5,65.4z"/>
<path fill="#e5bb2c" stroke="#e5bb2c" d="M256.3,71.1L261.4,67.1 257.5,65.4 252.4,69.4z"/>
<path fill="#dabd28" stroke="#dabd28" d="M251.2,75.1L256.3,71.1 252.4,69.4 247.3,73.5z"/>
<path fill="#cdc028" stroke="#cdc028" d="M246.1,79.3L251.2,75.1 247.3,73.5 242.2,77.6z"/>
<path fill="#c0c32d" stroke="#c0c32d" d="M241,83.4L246.1,79.3 242.2,77.6 237.1,81.8z"/>
<path fill="#b1c635" stroke="#b1c635" d="M235.9,87.7L241,83.4 237.1,81.8 232,86z"/>
<path fill="#a1c840" stroke="#a1c840" d="M230.8,92L235.9,87.7 232,86 226.9,90.3z"/>
<path fill="#90ca4d" stroke="#90ca4d" d="M225.7,96.3L230.8,92 226.9,90.3 221.8,94.7z"/>
<path fill="#7fcc5a" stroke="#7fcc5a" d="M220.7,100.8L225.7,96.3 221.8,94.7 216.7,99.1z"/>
<path fill="#6dcd68" stroke="#6dcd68" d="M215.6,105.2L220.7,100.8 216.7,99.1 211.6,103.6z"/>
<path fill="#5ccc76" stroke="#5ccc76" d="M210.5,109.8L215.6,105.2 211.6,103.6 206.5,108.1z"/>
<path fill="#4ccb83" stroke="#4ccb83" d="M205.4,114.4L210.5,109.8 206.5,108.1 201.5,112.7z"/>
<path fill="#3eca8f" stroke="#3eca8f" d="M200.3,119L205.4,114.4 201.5,112.7 196.4,117.4z"/>
<path fill="#34c79b" stroke="#34c79b" d="M195.2,123.7L200.3,119 196.4,117.4 191.3,122.1z"/>
<path fill="#2dc4a6" stroke="#2dc4a6" d="M190.1,128.5L195.2,123.7 191.3,122.1 186.2,126.8z"/>
<path fill="#22c1b0" stroke="#22c1b0" d="M185,133.3L190.1,128.5 186.2,126.8 181.1,131.6z"/>
<path fill="#11beb9" stroke="#11beb9" d="M179.9,138.2L185,133.3 181.1,131.6 176,136.5z"/>
<path fill="#02bbc3" stroke="#02bbc3" d="M174.8,143.1L179.9,138.2 176,136.5 170.9,141.4z"/>
<path fill="#03b7cc" stroke="#03b7cc" d="M169.7,148.1L174.8,143.1 170.9,141.4 165.8,146.4z"/>
<path fill="#0fb2d5" stroke="#0fb2d5" d="M164.6,153.1L169.7,148.1 165.8,146.4 160.7,151.4z"/>
<path fill="#19acdc" stroke="#19acdc" d="M159.6,158.1L164.6,153.1 160.7,151.4 155.6,156.5z"/>
<path fill="#1fa6e2" stroke="#1fa6e2" d="M154.5,163.3L159.6,158.1 155.6,156.5 150.5,161.6z"/>
<path fill="#249fe5" stroke="#249fe5" d="M149.4,168.4L154.5,163.3 150.5,161.6 145.4,166.8z"/>
<path fill="#2798ea" stroke="#2798ea" d="M144.3,173.7L149.4,168.4 145.4,166.8 140.4,172z"/>
<path fill="#2b90ef" stroke="#2b90ef" d="M139.2,178.9L144.3,173.7 140.4,172 135.3,177.3z"/>
<path fill="#2d88f6" stroke="#2d88f6" d="M134.1,184.2L139.2,178.9 135.3,177.3 130.2,182.6z"/>
<path fill="#3080fb" stroke="#3080fb" d="M129,189.6L134.1,184.2 130.2,182.6 125.1,188z"/>
<path fill="#3876fe" stroke="#3876fe" d="M123.9,195L129,189.6 125.1,188 120,193.4z"/>
<path fill="#406cfe" stroke="#406cfe" d="M118.8,200.5L123.9,195 120,193.4 114.9,198.9z"/>
<path fill="#4563fc" stroke="#4563fc" d="M113.7,206L118.8,200.5 114.9,198.9 109.8,204.4z"/>
<path fill="#4759f9" stroke="#4759f9" d="M108.6,211.6L113.7,206 109.8,204.4 104.7,210z"/>
<path fill="#4850f3" stroke="#4850f3" d="M103.5,217.3L108.6,211.6 104.7,210 99.6,215.6z"/>
<path fill="#4746eb" stroke="#4746eb" d="M98.5,222.9L103.5,217.3 99.6,215.6 94.5,221.3z"/>
<path fill="#463de0" stroke="#463de0" d="M93.4,228.7L98.5,222.9 94.5,221.3 89.4,227.1z"/>
<path fill="#4435d0" stroke="#4435d0" d="M88.3,234.5L93.4,228.7 89.4,227.1 84.3,232.9z"/>
<path fill="#412dbd" stroke="#412dbd" d="M83.2,240.3L88.3,234.5 84.3,232.9 79.3,238.7z"/>
<path fill="#3e26a8" stroke="#3e26a8" d="M78.1,246.2L83.2,240.3 79.3,238.7 74.2,244.6z"/>
<path fill="#f6f31d" stroke="#f6f31d" d="M326.4,25.6L331.5,22.4 327.6,20.5 322.5,23.8z"/>
<path fill="#f5ee21" stroke="#f5ee21" d="M321.3,28.9L326.4,25.6 322.5,23.8 317.4,27.1z"/>
<path fill="#f5e924" stroke="#f5e924" d="M316.2,32.2L321.3,28.9 317.4,27.1 312.3,30.4z"/>
<path fill="#f5e427" stroke="#f5e427" d="M311.1,35.6L316.2,32.2 312.3,30.4 307.2,33.8z"/>
<path fill="#f6df29" stroke="#f6df29" d="M306.1,39.1L311.1,35.6 307.2,33.8 302.1,37.3z"/>
<path fill="#f8d92b" stroke="#f8d92b" d="M301,42.6L306.1,39.1 302.1,37.3 297,40.8z"/>
<path fill="#fbd32e" stroke="#fbd32e" d="M295.9,46.1L301,42.6 297,40.8 291.9,44.4z"/>
<path fill="#fdce31" stroke="#fdce31" d="M290.8,49.8L295.9,46.1 291.9,44.4 286.9,48z"/>
<path fill="#fec835" stroke="#fec835" d="M285.7,53.4L290.8,49.8 286.9,48 281.8,51.7z"/>
<path fill="#fec239" stroke="#fec239" d="M280.6,57.2L285.7,53.4 281.8,51.7 276.7,55.4z"/>
<path fill="#fdbd3d" stroke="#fdbd3d" d="M275.5,61L280.6,57.2 276.7,55.4 271.6,59.3z"/>
<path fill="#f7ba3c" stroke="#f7ba3c" d="M270.4,64.8L275.5,61 271.6,59.3 266.5,63.1z"/>
<path fill="#eeba34" stroke="#eeba34" d="M265.3,68.8L270.4,64.8 266.5,63.1 261.4,67.1z"/>
<path fill="#e4bb2c" stroke="#e4bb2c" d="M260.2,72.8L265.3,68.8 261.4,67.1 256.3,71.1z"/>
<path fill="#d9bd28" stroke="#d9bd28" d="M255.1,76.8L260.2,72.8 256.3,71.1 251.2,75.1z"/>
<path fill="#cdc028" stroke="#cdc028" d="M250,80.9L255.1,76.8 251.2,75.1 246.1,79.3z"/>
<path fill="#bfc32d" stroke="#bfc32d" d="M245,85.1L250,80.9 246.1,79.3 241,83.4z"/>
<path fill="#b0c636" stroke="#b0c636" d="M239.9,89.3L245,85.1 241,83.4 235.9,87.7z"/>
<path fill="#a1c840" stroke="#a1c840" d="M234.8,93.6L239.9,89.3 235.9,87.7 230.8,92z"/>
<path fill="#90ca4d" stroke="#90ca4d" d="M229.7,98L234.8,93.6 230.8,92 225.7,96.3z"/>
<path fill="#7ecc5b" stroke="#7ecc5b" d="M224.6,102.4L229.7,98 225.7,96.3 220.7,100.8z"/>
<path fill="#6ccd68" stroke="#6ccd68" d="M219.5,106.9L224.6,102.4 220.7,100.8 215.6,105.2z"/>
<path fill="#5bcc76" stroke="#5bcc76" d="M214.4,111.5L219.5,106.9 215.6,105.2 210.5,109.8z"/>
<path fill="#4bcb83" stroke="#4bcb83" d="M209.3,116L214.4,111.5 210.5,109.8 205.4,114.4z"/>
<path fill="#3dca90" stroke="#3dca90" d="M204.2,120.7L209.3,116 205.4,114.4 200.3,119z"/>
<path fill="#34c79b" stroke="#34c79b" d="M199.1,125.4L204.2,120.7 200.3,119 195.2,123.7z"/>
<path fill="#2dc4a6" stroke="#2dc4a6" d="M194,130.2L199.1,125.4 195.2,123.7 190.1,128.5z"/>
<path fill="#22c1b0" stroke="#22c1b0" d="M188.9,135L194,130.2 190.1,128.5 185,133.3z"/>
<path fill="#11beba" stroke="#11beba" d="M183.8,139.9L188.9,135 185,133.3 179.9,138.2z"/>
<path fill="#02bbc3" stroke="#02bbc3" d="M178.8,144.8L183.8,139.9 179.9,138.2 174.8,143.1z"/>
<path fill="#03b6cc" stroke="#03b6cc" d="M173.7,149.7L178.8,144.8 174.8,143.1 169.7,148.1z"/>
<path fill="#10b2d5" stroke="#10b2d5" d="M168.6,154.8L173.7,149.7 169.7,148.1 164.6,153.1z"/>
<path fill="#19acdc" stroke="#19acdc" d="M163.5,159.8L168.6,154.8 164.6,153.1 159.6,158.1z"/>
<path fill="#1fa6e2" stroke="#1fa6e2" d="M158.4,164.9L163.5,159.8 159.6,158.1 154.5,163.3z"/>
<path fill="#249fe5" stroke="#249fe5" d="M153.3,170.1L158.4,164.9 154.5,163.3 149.4,168.4z"/>
<path fill="#2798ea" stroke="#2798ea" d="M148.2,175.3L153.3,170.1 149.4,168.4 144.3,173.7z"/>
<path fill="#2b90f0" stroke="#2b90f0" d="M143.1,180.6L148.2,175.3 144.3,173.7 139.2,178.9z"/>
<path fill="#2d88f6" stroke="#2d88f6" d="M138,185.9L143.1,180.6 139.2,178.9 134.1,184.2z"/>
<path fill="#307ffb" stroke="#307ffb" d="M132.9,191.3L138,185.9 134.1,184.2 129,189.6z"/>
<path fill="#3876fe" stroke="#3876fe" d="M127.8,196.7L132.9,191.3 129,189.6 123.9,195z"/>
<path fill="#406cfe" stroke="#406cfe" d="M122.7,202.2L127.8,196.7 123.9,195 118.8,200.5z"/>
<path fill="#4562fc" stroke="#4562fc" d="M117.7,207.7L122.7,202.2 118.8,200.5 113.7,206z"/>
<path fill="#4759f8" stroke="#4759f8" d="M112.6,213.3L117.7,207.7 113.7,206 108.6,211.6z"/>
<path fill="#4850f2" stroke="#4850f2" d="M107.5,218.9L112.6,213.3 108.6,211.6 103.5,217.3z"/>
<path fill="#4746eb" stroke="#4746eb" d="M102.4,224.6L107.5,218.9 103.5,217.3 98.5,222.9z"/>
<path fill="#463de0" stroke="#463de0" d="M97.3,230.3L102.4,224.6 98.5,222.9 93.4,228.7z"/>
<path fill="#4435d0" stroke="#4435d0" d="M92.2,236.1L97.3,230.3 93.4,228.7 88.3,234.5z"/>
<path fill="#412dbd" stroke="#412dbd" d="M87.1,241.9L92.2,236.1 88.3,234.5 83.2,240.3z"/>
<path fill="#3e26a8" stroke="#3e26a8" d="M82,247.8L87.1,241.9 83.2,240.3 78.1,246.2z"/>
<path fill="#f6f21e" stroke="#f6f21e" d="M330.3,27.5L335.4,24.3 331.5,22.4 326.4,25.6z"/>
<path fill="#f5ed21" stroke="#f5ed21" d="M325.3,30.8L330.3,27.5 326.4,25.6 321.3,28.9z"/>
<path fill="#f5e825" stroke="#f5e825" d="M320.2,34.1L325.3,30.8 321.3,28.9 316.2,32.2z"/>
<path fill="#f5e327" stroke="#f5e327" d="M315.1,37.5L320.2,34.1 316.2,32.2 311.1,35.6z"/>
<path fill="#f6de29" stroke="#f6de29" d="M310,40.9L315.1,37.5 311.1,35.6 306.1,39.1z"/>
<path fill="#f8d82c" stroke="#f8d82c" d="M304.9,44.4L310,40.9 306.1,39.1 301,42.6z"/>
<path fill="#fbd32e" stroke="#fbd32e" d="M299.8,47.9L304.9,44.4 301,42.6 295.9,46.1z"/>
<path fill="#fdcd31" stroke="#fdcd31" d="M294.7,51.5L299.8,47.9 295.9,46.1 290.8,49.8z"/>
<path fill="#fec835" stroke="#fec835" d="M289.6,55.2L294.7,51.5 290.8,49.8 285.7,53.4z"/>
<path fill="#fec239" stroke="#fec239" d="M284.5,58.9L289.6,55.2 285.7,53.4 280.6,57.2z"/>
<path fill="#fdbd3d" stroke="#fdbd3d" d="M279.4,62.7L284.5,58.9 280.6,57.2 275.5,61z"/>
<path fill="#f6ba3c" stroke="#f6ba3c" d="M274.3,66.6L279.4,62.7 275.5,61 270.4,64.8z"/>
<path fill="#eeba34" stroke="#eeba34" d="M269.2,70.5L274.3,66.6 270.4,64.8 265.3,68.8z"/>
<path fill="#e4bb2c" stroke="#e4bb2c" d="M264.2,74.5L269.2,70.5 265.3,68.8 260.2,72.8z"/>
<path fill="#d9be28" stroke="#d9be28" d="M259.1,78.5L264.2,74.5 260.2,72.8 255.1,76.8z"/>
<path fill="#ccc028" stroke="#ccc028" d="M254,82.6L259.1,78.5 255.1,76.8 250,80.9z"/>
<path fill="#bfc32d" stroke="#bfc32d" d="M248.9,86.8L254,82.6 250,80.9 245,85.1z"/>
<path fill="#b0c636" stroke="#b0c636" d="M243.8,91L248.9,86.8 245,85.1 239.9,89.3z"/>
<path fill="#a0c841" stroke="#a0c841" d="M238.7,95.3L243.8,91 239.9,89.3 234.8,93.6z"/>
<path fill="#8fcb4e" stroke="#8fcb4e" d="M233.6,99.7L238.7,95.3 234.8,93.6 229.7,98z"/>
<path fill="#7ecc5b" stroke="#7ecc5b" d="M228.5,104.1L233.6,99.7 229.7,98 224.6,102.4z"/>
<path fill="#6ccd69" stroke="#6ccd69" d="M223.4,108.6L228.5,104.1 224.6,102.4 219.5,106.9z"/>
<path fill="#5bcc77" stroke="#5bcc77" d="M218.3,113.1L223.4,108.6 219.5,106.9 214.4,111.5z"/>
<path fill="#4bcb84" stroke="#4bcb84" d="M213.2,117.7L218.3,113.1 214.4,111.5 209.3,116z"/>
<path fill="#3dc990" stroke="#3dc990" d="M208.1,122.4L213.2,117.7 209.3,116 204.2,120.7z"/>
<path fill="#34c79c" stroke="#34c79c" d="M203.1,127.1L208.1,122.4 204.2,120.7 199.1,125.4z"/>
<path fill="#2cc4a6" stroke="#2cc4a6" d="M198,131.9L203.1,127.1 199.1,125.4 194,130.2z"/>
<path fill="#21c1b0" stroke="#21c1b0" d="M192.9,136.7L198,131.9 194,130.2 188.9,135z"/>
<path fill="#10beba" stroke="#10beba" d="M187.8,141.6L192.9,136.7 188.9,135 183.8,139.9z"/>
<path fill="#02bac3" stroke="#02bac3" d="M182.7,146.5L187.8,141.6 183.8,139.9 178.8,144.8z"/>
<path fill="#04b6cd" stroke="#04b6cd" d="M177.6,151.4L182.7,146.5 178.8,144.8 173.7,149.7z"/>
<path fill="#10b2d5" stroke="#10b2d5" d="M172.5,156.5L177.6,151.4 173.7,149.7 168.6,154.8z"/>
<path fill="#1aacdd" stroke="#1aacdd" d="M167.4,161.5L172.5,156.5 168.6,154.8 163.5,159.8z"/>
<path fill="#1fa6e2" stroke="#1fa6e2" d="M162.3,166.6L167.4,161.5 163.5,159.8 158.4,164.9z"/>
<path fill="#249fe6" stroke="#249fe6" d="M157.2,171.8L162.3,166.6 158.4,164.9 153.3,170.1z"/>
<path fill="#2798ea" stroke="#2798ea" d="M152.1,177L157.2,171.8 153.3,170.1 148.2,175.3z"/>
<path fill="#2c90f0" stroke="#2c90f0" d="M147,182.3L152.1,177 148.2,175.3 143.1,180.6z"/>
<path fill="#2d88f6" stroke="#2d88f6" d="M141.9,187.6L147,182.3 143.1,180.6 138,185.9z"/>
<path fill="#307ffb" stroke="#307ffb" d="M136.9,193L141.9,187.6 138,185.9 132.9,191.3z"/>
<path fill="#3876fe" stroke="#3876fe" d="M131.8,198.4L136.9,193 132.9,191.3 127.8,196.7z"/>
<path fill="#406cfe" stroke="#406cfe" d="M126.7,203.8L131.8,198.4 127.8,196.7 122.7,202.2z"/>
<path fill="#4562fc" stroke="#4562fc" d="M121.6,209.3L126.7,203.8 122.7,202.2 117.7,207.7z"/>
<path fill="#4759f8" stroke="#4759f8" d="M116.5,214.9L121.6,209.3 117.7,207.7 112.6,213.3z"/>
<path fill="#4850f2" stroke="#4850f2" d="M111.4,220.5L116.5,214.9 112.6,213.3 107.5,218.9z"/>
<path fill="#4746ea" stroke="#4746ea" d="M106.3,226.2L111.4,220.5 107.5,218.9 102.4,224.6z"/>
<path fill="#463ddf" stroke="#463ddf" d="M101.2,231.9L106.3,226.2 102.4,224.6 97.3,230.3z"/>
<path fill="#4435d0" stroke="#4435d0" d="M96.1,237.7L101.2,231.9 97.3,230.3 92.2,236.1z"/>
<path fill="#412dbd" stroke="#412dbd" d="M91,243.5L96.1,237.7 92.2,236.1 87.1,241.9z"/>
<path fill="#3e26a8" stroke="#3e26a8" d="M85.9,249.4L91,243.5 87.1,241.9 82,247.8z"/>
<path fill="#f6f11e" stroke="#f6f11e" d="M334.3,29.4L339.4,26.2 335.4,24.3 330.3,27.5z"/>
<path fill="#f5ec22" stroke="#f5ec22" d="M329.2,32.7L334.3,29.4 330.3,27.5 325.3,30.8z"/>
<path fill="#f5e825" stroke="#f5e825" d="M324.1,36L329.2,32.7 325.3,30.8 320.2,34.1z"/>
<path fill="#f5e327" stroke="#f5e327" d="M319,39.3L324.1,36 320.2,34.1 315.1,37.5z"/>
<path fill="#f6dd29" stroke="#f6dd29" d="M313.9,42.7L319,39.3 315.1,37.5 310,40.9z"/>
<path fill="#f9d82c" stroke="#f9d82c" d="M308.8,46.2L313.9,42.7 310,40.9 304.9,44.4z"/>
<path fill="#fbd22f" stroke="#fbd22f" d="M303.7,49.7L308.8,46.2 304.9,44.4 299.8,47.9z"/>
<path fill="#fdcd32" stroke="#fdcd32" d="M298.6,53.3L303.7,49.7 299.8,47.9 294.7,51.5z"/>
<path fill="#fec735" stroke="#fec735" d="M293.5,57L298.6,53.3 294.7,51.5 289.6,55.2z"/>
<path fill="#fec239" stroke="#fec239" d="M288.4,60.7L293.5,57 289.6,55.2 284.5,58.9z"/>
<path fill="#fcbd3d" stroke="#fcbd3d" d="M283.4,64.5L288.4,60.7 284.5,58.9 279.4,62.7z"/>
<path fill="#f6ba3b" stroke="#f6ba3b" d="M278.3,68.3L283.4,64.5 279.4,62.7 274.3,66.6z"/>
<path fill="#edba33" stroke="#edba33" d="M273.2,72.2L278.3,68.3 274.3,66.6 269.2,70.5z"/>
<path fill="#e3bc2c" stroke="#e3bc2c" d="M268.1,76.2L273.2,72.2 269.2,70.5 264.2,74.5z"/>
<path fill="#d8be28" stroke="#d8be28" d="M263,80.2L268.1,76.2 264.2,74.5 259.1,78.5z"/>
<path fill="#ccc028" stroke="#ccc028" d="M257.9,84.3L263,80.2 259.1,78.5 254,82.6z"/>
<path fill="#bec32e" stroke="#bec32e" d="M252.8,88.5L257.9,84.3 254,82.6 248.9,86.8z"/>
<path fill="#afc636" stroke="#afc636" d="M247.7,92.7L252.8,88.5 248.9,86.8 243.8,91z"/>
<path fill="#9fc941" stroke="#9fc941" d="M242.6,97L247.7,92.7 243.8,91 238.7,95.3z"/>
<path fill="#8ecb4e" stroke="#8ecb4e" d="M237.5,101.4L242.6,97 238.7,95.3 233.6,99.7z"/>
<path fill="#7dcc5c" stroke="#7dcc5c" d="M232.4,105.8L237.5,101.4 233.6,99.7 228.5,104.1z"/>
<path fill="#6bcd69" stroke="#6bcd69" d="M227.3,110.3L232.4,105.8 228.5,104.1 223.4,108.6z"/>
<path fill="#5acc77" stroke="#5acc77" d="M222.3,114.8L227.3,110.3 223.4,108.6 218.3,113.1z"/>
<path fill="#4acb84" stroke="#4acb84" d="M217.2,119.4L222.3,114.8 218.3,113.1 213.2,117.7z"/>
<path fill="#3dc991" stroke="#3dc991" d="M212.1,124.1L217.2,119.4 213.2,117.7 208.1,122.4z"/>
<path fill="#34c79c" stroke="#34c79c" d="M207,128.8L212.1,124.1 208.1,122.4 203.1,127.1z"/>
<path fill="#2cc4a7" stroke="#2cc4a7" d="M201.9,133.6L207,128.8 203.1,127.1 198,131.9z"/>
<path fill="#20c1b1" stroke="#20c1b1" d="M196.8,138.4L201.9,133.6 198,131.9 192.9,136.7z"/>
<path fill="#0fbeba" stroke="#0fbeba" d="M191.7,143.3L196.8,138.4 192.9,136.7 187.8,141.6z"/>
<path fill="#02bac4" stroke="#02bac4" d="M186.6,148.2L191.7,143.3 187.8,141.6 182.7,146.5z"/>
<path fill="#04b6cd" stroke="#04b6cd" d="M181.5,153.2L186.6,148.2 182.7,146.5 177.6,151.4z"/>
<path fill="#11b1d6" stroke="#11b1d6" d="M176.4,158.2L181.5,153.2 177.6,151.4 172.5,156.5z"/>
<path fill="#1aacdd" stroke="#1aacdd" d="M171.3,163.2L176.4,158.2 172.5,156.5 167.4,161.5z"/>
<path fill="#1fa5e2" stroke="#1fa5e2" d="M166.2,168.4L171.3,163.2 167.4,161.5 162.3,166.6z"/>
<path fill="#249fe6" stroke="#249fe6" d="M161.2,173.5L166.2,168.4 162.3,166.6 157.2,171.8z"/>
<path fill="#2797ea" stroke="#2797ea" d="M156.1,178.7L161.2,173.5 157.2,171.8 152.1,177z"/>
<path fill="#2c90f0" stroke="#2c90f0" d="M151,184L156.1,178.7 152.1,177 147,182.3z"/>
<path fill="#2d88f6" stroke="#2d88f6" d="M145.9,189.3L151,184 147,182.3 141.9,187.6z"/>
<path fill="#307ffb" stroke="#307ffb" d="M140.8,194.6L145.9,189.3 141.9,187.6 136.9,193z"/>
<path fill="#3875fe" stroke="#3875fe" d="M135.7,200L140.8,194.6 136.9,193 131.8,198.4z"/>
<path fill="#416cfe" stroke="#416cfe" d="M130.6,205.5L135.7,200 131.8,198.4 126.7,203.8z"/>
<path fill="#4562fc" stroke="#4562fc" d="M125.5,211L130.6,205.5 126.7,203.8 121.6,209.3z"/>
<path fill="#4759f8" stroke="#4759f8" d="M120.4,216.5L125.5,211 121.6,209.3 116.5,214.9z"/>
<path fill="#4850f2" stroke="#4850f2" d="M115.3,222.1L120.4,216.5 116.5,214.9 111.4,220.5z"/>
<path fill="#4746ea" stroke="#4746ea" d="M110.2,227.8L115.3,222.1 111.4,220.5 106.3,226.2z"/>
<path fill="#463ddf" stroke="#463ddf" d="M105.1,233.5L110.2,227.8 106.3,226.2 101.2,231.9z"/>
<path fill="#4434d0" stroke="#4434d0" d="M100,239.3L105.1,233.5 101.2,231.9 96.1,237.7z"/>
<path fill="#412dbd" stroke="#412dbd" d="M95,245.1L100,239.3 96.1,237.7 91,243.5z"/>
<path fill="#3e26a8" stroke="#3e26a8" d="M89.9,250.9L95,245.1 91,243.5 85.9,249.4z"/>
<path fill="#f6f01f" stroke="#f6f01f" d="M338.2,31.4L343.3,28.2 339.4,26.2 334.3,29.4z"/>
<path fill="#f5ec22" stroke="#f5ec22" d="M333.1,34.6L338.2,31.4 334.3,29.4 329.2,32.7z"/>
<path fill="#f5e725" stroke="#f5e725" d="M328,37.9L333.1,34.6 329.2,32.7 324.1,36z"/>
<path fill="#f5e228" stroke="#f5e228" d="M322.9,41.2L328,37.9 324.1,36 319,39.3z"/>
<path fill="#f7dd2a" stroke="#f7dd2a" d="M317.8,44.6L322.9,41.2 319,39.3 313.9,42.7z"/>
<path fill="#f9d72c" stroke="#f9d72c" d="M312.7,48.1L317.8,44.6 313.9,42.7 308.8,46.2z"/>
<path fill="#fbd22f" stroke="#fbd22f" d="M307.6,51.6L312.7,48.1 308.8,46.2 303.7,49.7z"/>
<path fill="#fdcc32" stroke="#fdcc32" d="M302.6,55.1L307.6,51.6 303.7,49.7 298.6,53.3z"/>
<path fill="#fec736" stroke="#fec736" d="M297.5,58.8L302.6,55.1 298.6,53.3 293.5,57z"/>
<path fill="#fec13a" stroke="#fec13a" d="M292.4,62.5L297.5,58.8 293.5,57 288.4,60.7z"/>
<path fill="#fcbc3d" stroke="#fcbc3d" d="M287.3,66.2L292.4,62.5 288.4,60.7 283.4,64.5z"/>
<path fill="#f5ba3b" stroke="#f5ba3b" d="M282.2,70.1L287.3,66.2 283.4,64.5 278.3,68.3z"/>
<path fill="#ecba33" stroke="#ecba33" d="M277.1,74L282.2,70.1 278.3,68.3 273.2,72.2z"/>
<path fill="#e3bc2c" stroke="#e3bc2c" d="M272,77.9L277.1,74 273.2,72.2 268.1,76.2z"/>
<path fill="#d7be28" stroke="#d7be28" d="M266.9,82L272,77.9 268.1,76.2 263,80.2z"/>
<path fill="#cbc129" stroke="#cbc129" d="M261.8,86.1L266.9,82 263,80.2 257.9,84.3z"/>
<path fill="#bdc32e" stroke="#bdc32e" d="M256.7,90.2L261.8,86.1 257.9,84.3 252.8,88.5z"/>
<path fill="#afc637" stroke="#afc637" d="M251.6,94.4L256.7,90.2 252.8,88.5 247.7,92.7z"/>
<path fill="#9fc942" stroke="#9fc942" d="M246.5,98.7L251.6,94.4 247.7,92.7 242.6,97z"/>
<path fill="#8ecb4f" stroke="#8ecb4f" d="M241.5,103.1L246.5,98.7 242.6,97 237.5,101.4z"/>
<path fill="#7ccc5c" stroke="#7ccc5c" d="M236.4,107.5L241.5,103.1 237.5,101.4 232.4,105.8z"/>
<path fill="#6acd6a" stroke="#6acd6a" d="M231.3,112L236.4,107.5 232.4,105.8 227.3,110.3z"/>
<path fill="#5acc78" stroke="#5acc78" d="M226.2,116.6L231.3,112 227.3,110.3 222.3,114.8z"/>
<path fill="#49cb85" stroke="#49cb85" d="M221.1,121.2L226.2,116.6 222.3,114.8 217.2,119.4z"/>
<path fill="#3cc991" stroke="#3cc991" d="M216,125.8L221.1,121.2 217.2,119.4 212.1,124.1z"/>
<path fill="#33c79d" stroke="#33c79d" d="M210.9,130.5L216,125.8 212.1,124.1 207,128.8z"/>
<path fill="#2cc4a7" stroke="#2cc4a7" d="M205.8,135.3L210.9,130.5 207,128.8 201.9,133.6z"/>
<path fill="#20c1b1" stroke="#20c1b1" d="M200.7,140.1L205.8,135.3 201.9,133.6 196.8,138.4z"/>
<path fill="#0fbebb" stroke="#0fbebb" d="M195.6,145L200.7,140.1 196.8,138.4 191.7,143.3z"/>
<path fill="#02bac4" stroke="#02bac4" d="M190.5,149.9L195.6,145 191.7,143.3 186.6,148.2z"/>
<path fill="#05b6cd" stroke="#05b6cd" d="M185.4,154.9L190.5,149.9 186.6,148.2 181.5,153.2z"/>
<path fill="#11b1d6" stroke="#11b1d6" d="M180.4,159.9L185.4,154.9 181.5,153.2 176.4,158.2z"/>
<path fill="#1aacdd" stroke="#1aacdd" d="M175.3,165L180.4,159.9 176.4,158.2 171.3,163.2z"/>
<path fill="#1fa5e2" stroke="#1fa5e2" d="M170.2,170.1L175.3,165 171.3,163.2 166.2,168.4z"/>
<path fill="#249ee6" stroke="#249ee6" d="M165.1,175.2L170.2,170.1 166.2,168.4 161.2,173.5z"/>
<path fill="#2797eb" stroke="#2797eb" d="M160,180.4L165.1,175.2 161.2,173.5 156.1,178.7z"/>
<path fill="#2c8ff0" stroke="#2c8ff0" d="M154.9,185.7L160,180.4 156.1,178.7 151,184z"/>
<path fill="#2d87f7" stroke="#2d87f7" d="M149.8,191L154.9,185.7 151,184 145.9,189.3z"/>
<path fill="#307ffb" stroke="#307ffb" d="M144.7,196.3L149.8,191 145.9,189.3 140.8,194.6z"/>
<path fill="#3875fe" stroke="#3875fe" d="M139.6,201.7L144.7,196.3 140.8,194.6 135.7,200z"/>
<path fill="#416bfe" stroke="#416bfe" d="M134.5,207.2L139.6,201.7 135.7,200 130.6,205.5z"/>
<path fill="#4562fc" stroke="#4562fc" d="M129.4,212.6L134.5,207.2 130.6,205.5 125.5,211z"/>
<path fill="#4759f8" stroke="#4759f8" d="M124.3,218.2L129.4,212.6 125.5,211 120.4,216.5z"/>
<path fill="#4850f2" stroke="#4850f2" d="M119.3,223.8L124.3,218.2 120.4,216.5 115.3,222.1z"/>
<path fill="#4746ea" stroke="#4746ea" d="M114.2,229.4L119.3,223.8 115.3,222.1 110.2,227.8z"/>
<path fill="#463ddf" stroke="#463ddf" d="M109.1,235.1L114.2,229.4 110.2,227.8 105.1,233.5z"/>
<path fill="#4434d0" stroke="#4434d0" d="M104,240.9L109.1,235.1 105.1,233.5 100,239.3z"/>
<path fill="#412dbd" stroke="#412dbd" d="M98.9,246.7L104,240.9 100,239.3 95,245.1z"/>
<path fill="#3e26a8" stroke="#3e26a8" d="M93.8,252.5L98.9,246.7 95,245.1 89.9,250.9z"/>
<path fill="#f6ef20" stroke="#f6ef20" d="M342.1,33.4L347.2,30.2 343.3,28.2 338.2,31.4z"/>
<path fill="#f5eb23" stroke="#f5eb23" d="M337,36.6L342.1,33.4 338.2,31.4 333.1,34.6z"/>
<path fill="#f5e626" stroke="#f5e626" d="M331.9,39.8L337,36.6 333.1,34.6 328,37.9z"/>
<path fill="#f6e128" stroke="#f6e128" d="M326.9,43.2L331.9,39.8 328,37.9 322.9,41.2z"/>
<path fill="#f7dc2a" stroke="#f7dc2a" d="M321.8,46.5L326.9,43.2 322.9,41.2 317.8,44.6z"/>
<path fill="#f9d62d" stroke="#f9d62d" d="M316.7,50L321.8,46.5 317.8,44.6 312.7,48.1z"/>
<path fill="#fcd12f" stroke="#fcd12f" d="M311.6,53.4L316.7,50 312.7,48.1 307.6,51.6z"/>
<path fill="#fdcb32" stroke="#fdcb32" d="M306.5,57L311.6,53.4 307.6,51.6 302.6,55.1z"/>
<path fill="#fec636" stroke="#fec636" d="M301.4,60.6L306.5,57 302.6,55.1 297.5,58.8z"/>
<path fill="#fec13a" stroke="#fec13a" d="M296.3,64.3L301.4,60.6 297.5,58.8 292.4,62.5z"/>
<path fill="#fbbc3d" stroke="#fbbc3d" d="M291.2,68L296.3,64.3 292.4,62.5 287.3,66.2z"/>
<path fill="#f5ba3a" stroke="#f5ba3a" d="M286.1,71.8L291.2,68 287.3,66.2 282.2,70.1z"/>
<path fill="#ecba32" stroke="#ecba32" d="M281,75.7L286.1,71.8 282.2,70.1 277.1,74z"/>
<path fill="#e2bc2b" stroke="#e2bc2b" d="M275.9,79.7L281,75.7 277.1,74 272,77.9z"/>
<path fill="#d7be28" stroke="#d7be28" d="M270.8,83.7L275.9,79.7 272,77.9 266.9,82z"/>
<path fill="#cac129" stroke="#cac129" d="M265.7,87.8L270.8,83.7 266.9,82 261.8,86.1z"/>
<path fill="#bdc32f" stroke="#bdc32f" d="M260.7,92L265.7,87.8 261.8,86.1 256.7,90.2z"/>
<path fill="#aec637" stroke="#aec637" d="M255.6,96.2L260.7,92 256.7,90.2 251.6,94.4z"/>
<path fill="#9ec942" stroke="#9ec942" d="M250.5,100.5L255.6,96.2 251.6,94.4 246.5,98.7z"/>
<path fill="#8dcb4f" stroke="#8dcb4f" d="M245.4,104.8L250.5,100.5 246.5,98.7 241.5,103.1z"/>
<path fill="#7bcc5d" stroke="#7bcc5d" d="M240.3,109.3L245.4,104.8 241.5,103.1 236.4,107.5z"/>
<path fill="#69cd6a" stroke="#69cd6a" d="M235.2,113.7L240.3,109.3 236.4,107.5 231.3,112z"/>
<path fill="#59cc78" stroke="#59cc78" d="M230.1,118.3L235.2,113.7 231.3,112 226.2,116.6z"/>
<path fill="#49cb86" stroke="#49cb86" d="M225,122.9L230.1,118.3 226.2,116.6 221.1,121.2z"/>
<path fill="#3cc992" stroke="#3cc992" d="M219.9,127.6L225,122.9 221.1,121.2 216,125.8z"/>
<path fill="#33c69d" stroke="#33c69d" d="M214.8,132.3L219.9,127.6 216,125.8 210.9,130.5z"/>
<path fill="#2bc3a8" stroke="#2bc3a8" d="M209.7,137.1L214.8,132.3 210.9,130.5 205.8,135.3z"/>
<path fill="#1fc0b2" stroke="#1fc0b2" d="M204.6,141.9L209.7,137.1 205.8,135.3 200.7,140.1z"/>
<path fill="#0ebdbb" stroke="#0ebdbb" d="M199.6,146.8L204.6,141.9 200.7,140.1 195.6,145z"/>
<path fill="#02bac5" stroke="#02bac5" d="M194.5,151.7L199.6,146.8 195.6,145 190.5,149.9z"/>
<path fill="#05b6ce" stroke="#05b6ce" d="M189.4,156.6L194.5,151.7 190.5,149.9 185.4,154.9z"/>
<path fill="#12b1d6" stroke="#12b1d6" d="M184.3,161.7L189.4,156.6 185.4,154.9 180.4,159.9z"/>
<path fill="#1aabdd" stroke="#1aabdd" d="M179.2,166.7L184.3,161.7 180.4,159.9 175.3,165z"/>
<path fill="#20a5e2" stroke="#20a5e2" d="M174.1,171.8L179.2,166.7 175.3,165 170.2,170.1z"/>
<path fill="#249ee6" stroke="#249ee6" d="M169,177L174.1,171.8 170.2,170.1 165.1,175.2z"/>
<path fill="#2797eb" stroke="#2797eb" d="M163.9,182.2L169,177 165.1,175.2 160,180.4z"/>
<path fill="#2c8ff0" stroke="#2c8ff0" d="M158.8,187.4L163.9,182.2 160,180.4 154.9,185.7z"/>
<path fill="#2e87f7" stroke="#2e87f7" d="M153.7,192.7L158.8,187.4 154.9,185.7 149.8,191z"/>
<path fill="#307efb" stroke="#307efb" d="M148.6,198L153.7,192.7 149.8,191 144.7,196.3z"/>
<path fill="#3975fe" stroke="#3975fe" d="M143.5,203.4L148.6,198 144.7,196.3 139.6,201.7z"/>
<path fill="#416bfe" stroke="#416bfe" d="M138.5,208.8L143.5,203.4 139.6,201.7 134.5,207.2z"/>
<path fill="#4562fc" stroke="#4562fc" d="M133.4,214.3L138.5,208.8 134.5,207.2 129.4,212.6z"/>
<path fill="#4759f8" stroke="#4759f8" d="M128.3,219.8L133.4,214.3 129.4,212.6 124.3,218.2z"/>
<path fill="#484ff2" stroke="#484ff2" d="M123.2,225.4L128.3,219.8 124.3,218.2 119.3,223.8z"/>
<path fill="#4746ea" stroke="#4746ea" d="M118.1,231L123.2,225.4 119.3,223.8 114.2,229.4z"/>
<path fill="#463ddf" stroke="#463ddf" d="M113,236.7L118.1,231 114.2,229.4 109.1,235.1z"/>
<path fill="#4434d0" stroke="#4434d0" d="M107.9,242.5L113,236.7 109.1,235.1 104,240.9z"/>
<path fill="#412dbd" stroke="#412dbd" d="M102.8,248.2L107.9,242.5 104,240.9 98.9,246.7z"/>
<path fill="#3e26a8" stroke="#3e26a8" d="M97.7,254.1L102.8,248.2 98.9,246.7 93.8,252.5z"/>
<path fill="#f5ee21" stroke="#f5ee21" d="M346.1,35.4L351.1,32.3 347.2,30.2 342.1,33.4z"/>
<path fill="#f5ea24" stroke="#f5ea24" d="M341,38.6L346.1,35.4 342.1,33.4 337,36.6z"/>
<path fill="#f5e526" stroke="#f5e526" d="M335.9,41.8L341,38.6 337,36.6 331.9,39.8z"/>
<path fill="#f6e028" stroke="#f6e028" d="M330.8,45.1L335.9,41.8 331.9,39.8 326.9,43.2z"/>
<path fill="#f7db2b" stroke="#f7db2b" d="M325.7,48.5L330.8,45.1 326.9,43.2 321.8,46.5z"/>
<path fill="#fad62d" stroke="#fad62d" d="M320.6,51.9L325.7,48.5 321.8,46.5 316.7,50z"/>
<path fill="#fcd030" stroke="#fcd030" d="M315.5,55.3L320.6,51.9 316.7,50 311.6,53.4z"/>
<path fill="#fdcb33" stroke="#fdcb33" d="M310.4,58.9L315.5,55.3 311.6,53.4 306.5,57z"/>
<path fill="#fec537" stroke="#fec537" d="M305.3,62.5L310.4,58.9 306.5,57 301.4,60.6z"/>
<path fill="#fec03b" stroke="#fec03b" d="M300.2,66.1L305.3,62.5 301.4,60.6 296.3,64.3z"/>
<path fill="#fbbc3d" stroke="#fbbc3d" d="M295.1,69.8L300.2,66.1 296.3,64.3 291.2,68z"/>
<path fill="#f4ba39" stroke="#f4ba39" d="M290,73.6L295.1,69.8 291.2,68 286.1,71.8z"/>
<path fill="#ebba31" stroke="#ebba31" d="M285,77.5L290,73.6 286.1,71.8 281,75.7z"/>
<path fill="#e1bc2b" stroke="#e1bc2b" d="M279.9,81.5L285,77.5 281,75.7 275.9,79.7z"/>
<path fill="#d6be28" stroke="#d6be28" d="M274.8,85.5L279.9,81.5 275.9,79.7 270.8,83.7z"/>
<path fill="#c9c129" stroke="#c9c129" d="M269.7,89.6L274.8,85.5 270.8,83.7 265.7,87.8z"/>
<path fill="#bcc42f" stroke="#bcc42f" d="M264.6,93.7L269.7,89.6 265.7,87.8 260.7,92z"/>
<path fill="#adc638" stroke="#adc638" d="M259.5,97.9L264.6,93.7 260.7,92 255.6,96.2z"/>
<path fill="#9dc943" stroke="#9dc943" d="M254.4,102.2L259.5,97.9 255.6,96.2 250.5,100.5z"/>
<path fill="#8ccb50" stroke="#8ccb50" d="M249.3,106.6L254.4,102.2 250.5,100.5 245.4,104.8z"/>
<path fill="#7acc5d" stroke="#7acc5d" d="M244.2,111L249.3,106.6 245.4,104.8 240.3,109.3z"/>
<path fill="#68cd6b" stroke="#68cd6b" d="M239.1,115.5L244.2,111 240.3,109.3 235.2,113.7z"/>
<path fill="#58cc79" stroke="#58cc79" d="M234,120.1L239.1,115.5 235.2,113.7 230.1,118.3z"/>
<path fill="#48cb86" stroke="#48cb86" d="M228.9,124.7L234,120.1 230.1,118.3 225,122.9z"/>
<path fill="#3bc992" stroke="#3bc992" d="M223.8,129.3L228.9,124.7 225,122.9 219.9,127.6z"/>
<path fill="#32c69e" stroke="#32c69e" d="M218.8,134.1L223.8,129.3 219.9,127.6 214.8,132.3z"/>
<path fill="#2bc3a8" stroke="#2bc3a8" d="M213.7,138.8L218.8,134.1 214.8,132.3 209.7,137.1z"/>
<path fill="#1ec0b2" stroke="#1ec0b2" d="M208.6,143.7L213.7,138.8 209.7,137.1 204.6,141.9z"/>
<path fill="#0dbdbc" stroke="#0dbdbc" d="M203.5,148.5L208.6,143.7 204.6,141.9 199.6,146.8z"/>
<path fill="#01bac5" stroke="#01bac5" d="M198.4,153.4L203.5,148.5 199.6,146.8 194.5,151.7z"/>
<path fill="#05b6ce" stroke="#05b6ce" d="M193.3,158.4L198.4,153.4 194.5,151.7 189.4,156.6z"/>
<path fill="#12b1d7" stroke="#12b1d7" d="M188.2,163.4L193.3,158.4 189.4,156.6 184.3,161.7z"/>
<path fill="#1babde" stroke="#1babde" d="M183.1,168.5L188.2,163.4 184.3,161.7 179.2,166.7z"/>
<path fill="#20a5e3" stroke="#20a5e3" d="M178,173.6L183.1,168.5 179.2,166.7 174.1,171.8z"/>
<path fill="#249ee6" stroke="#249ee6" d="M172.9,178.7L178,173.6 174.1,171.8 169,177z"/>
<path fill="#2797eb" stroke="#2797eb" d="M167.8,183.9L172.9,178.7 169,177 163.9,182.2z"/>
<path fill="#2c8ff1" stroke="#2c8ff1" d="M162.7,189.1L167.8,183.9 163.9,182.2 158.8,187.4z"/>
<path fill="#2e87f7" stroke="#2e87f7" d="M157.7,194.4L162.7,189.1 158.8,187.4 153.7,192.7z"/>
<path fill="#317efb" stroke="#317efb" d="M152.6,199.7L157.7,194.4 153.7,192.7 148.6,198z"/>
<path fill="#3975fe" stroke="#3975fe" d="M147.5,205.1L152.6,199.7 148.6,198 143.5,203.4z"/>
<path fill="#416bfe" stroke="#416bfe" d="M142.4,210.5L147.5,205.1 143.5,203.4 138.5,208.8z"/>
<path fill="#4562fc" stroke="#4562fc" d="M137.3,216L142.4,210.5 138.5,208.8 133.4,214.3z"/>
<path fill="#4758f8" stroke="#4758f8" d="M132.2,221.5L137.3,216 133.4,214.3 128.3,219.8z"/>
<path fill="#484ff2" stroke="#484ff2" d="M127.1,227.1L132.2,221.5 128.3,219.8 123.2,225.4z"/>
<path fill="#4746ea" stroke="#4746ea" d="M122,232.7L127.1,227.1 123.2,225.4 118.1,231z"/>
<path fill="#463cdf" stroke="#463cdf" d="M116.9,238.3L122,232.7 118.1,231 113,236.7z"/>
<path fill="#4434cf" stroke="#4434cf" d="M111.8,244.1L116.9,238.3 113,236.7 107.9,242.5z"/>
<path fill="#412dbd" stroke="#412dbd" d="M106.7,249.8L111.8,244.1 107.9,242.5 102.8,248.2z"/>
<path fill="#3e26a8" stroke="#3e26a8" d="M101.6,255.7L106.7,249.8 102.8,248.2 97.7,254.1z"/>
<path fill="#f5ed22" stroke="#f5ed22" d="M350,37.5L355.1,34.4 351.1,32.3 346.1,35.4z"/>
<path fill="#f5e924" stroke="#f5e924" d="M344.9,40.7L350,37.5 346.1,35.4 341,38.6z"/>
<path fill="#f5e427" stroke="#f5e427" d="M339.8,43.9L344.9,40.7 341,38.6 335.9,41.8z"/>
<path fill="#f6df29" stroke="#f6df29" d="M334.7,47.1L339.8,43.9 335.9,41.8 330.8,45.1z"/>
<path fill="#f8da2b" stroke="#f8da2b" d="M329.6,50.5L334.7,47.1 330.8,45.1 325.7,48.5z"/>
<path fill="#fad52e" stroke="#fad52e" d="M324.5,53.8L329.6,50.5 325.7,48.5 320.6,51.9z"/>
<path fill="#fccf30" stroke="#fccf30" d="M319.4,57.3L324.5,53.8 320.6,51.9 315.5,55.3z"/>
<path fill="#feca33" stroke="#feca33" d="M314.3,60.8L319.4,57.3 315.5,55.3 310.4,58.9z"/>
<path fill="#fec537" stroke="#fec537" d="M309.2,64.4L314.3,60.8 310.4,58.9 305.3,62.5z"/>
<path fill="#febf3b" stroke="#febf3b" d="M304.2,68L309.2,64.4 305.3,62.5 300.2,66.1z"/>
<path fill="#fabb3d" stroke="#fabb3d" d="M299.1,71.7L304.2,68 300.2,66.1 295.1,69.8z"/>
<path fill="#f3ba39" stroke="#f3ba39" d="M294,75.5L299.1,71.7 295.1,69.8 290,73.6z"/>
<path fill="#eaba31" stroke="#eaba31" d="M288.9,79.3L294,75.5 290,73.6 285,77.5z"/>
<path fill="#e0bc2a" stroke="#e0bc2a" d="M283.8,83.3L288.9,79.3 285,77.5 279.9,81.5z"/>
<path fill="#d5be28" stroke="#d5be28" d="M278.7,87.3L283.8,83.3 279.9,81.5 274.8,85.5z"/>
<path fill="#c9c129" stroke="#c9c129" d="M273.6,91.3L278.7,87.3 274.8,85.5 269.7,89.6z"/>
<path fill="#bbc430" stroke="#bbc430" d="M268.5,95.5L273.6,91.3 269.7,89.6 264.6,93.7z"/>
<path fill="#acc738" stroke="#acc738" d="M263.4,99.7L268.5,95.5 264.6,93.7 259.5,97.9z"/>
<path fill="#9cc944" stroke="#9cc944" d="M258.3,104L263.4,99.7 259.5,97.9 254.4,102.2z"/>
<path fill="#8bcb51" stroke="#8bcb51" d="M253.2,108.4L258.3,104 254.4,102.2 249.3,106.6z"/>
<path fill="#79cc5e" stroke="#79cc5e" d="M248.1,112.8L253.2,108.4 249.3,106.6 244.2,111z"/>
<path fill="#67cd6c" stroke="#67cd6c" d="M243.1,117.3L248.1,112.8 244.2,111 239.1,115.5z"/>
<path fill="#57cc7a" stroke="#57cc7a" d="M238,121.8L243.1,117.3 239.1,115.5 234,120.1z"/>
<path fill="#47cb87" stroke="#47cb87" d="M232.9,126.4L238,121.8 234,120.1 228.9,124.7z"/>
<path fill="#3ac993" stroke="#3ac993" d="M227.8,131.1L232.9,126.4 228.9,124.7 223.8,129.3z"/>
<path fill="#32c69e" stroke="#32c69e" d="M222.7,135.8L227.8,131.1 223.8,129.3 218.8,134.1z"/>
<path fill="#2ac3a9" stroke="#2ac3a9" d="M217.6,140.6L222.7,135.8 218.8,134.1 213.7,138.8z"/>
<path fill="#1dc0b3" stroke="#1dc0b3" d="M212.5,145.4L217.6,140.6 213.7,138.8 208.6,143.7z"/>
<path fill="#0cbdbc" stroke="#0cbdbc" d="M207.4,150.3L212.5,145.4 208.6,143.7 203.5,148.5z"/>
<path fill="#01b9c6" stroke="#01b9c6" d="M202.3,155.2L207.4,150.3 203.5,148.5 198.4,153.4z"/>
<path fill="#06b5cf" stroke="#06b5cf" d="M197.2,160.2L202.3,155.2 198.4,153.4 193.3,158.4z"/>
<path fill="#13b0d7" stroke="#13b0d7" d="M192.1,165.2L197.2,160.2 193.3,158.4 188.2,163.4z"/>
<path fill="#1babde" stroke="#1babde" d="M187,170.3L192.1,165.2 188.2,163.4 183.1,168.5z"/>
<path fill="#20a4e3" stroke="#20a4e3" d="M181.9,175.4L187,170.3 183.1,168.5 178,173.6z"/>
<path fill="#249de6" stroke="#249de6" d="M176.9,180.5L181.9,175.4 178,173.6 172.9,178.7z"/>
<path fill="#2796eb" stroke="#2796eb" d="M171.8,185.7L176.9,180.5 172.9,178.7 167.8,183.9z"/>
<path fill="#2c8ff1" stroke="#2c8ff1" d="M166.7,190.9L171.8,185.7 167.8,183.9 162.7,189.1z"/>
<path fill="#2e86f7" stroke="#2e86f7" d="M161.6,196.2L166.7,190.9 162.7,189.1 157.7,194.4z"/>
<path fill="#317efb" stroke="#317efb" d="M156.5,201.5L161.6,196.2 157.7,194.4 152.6,199.7z"/>
<path fill="#3974fe" stroke="#3974fe" d="M151.4,206.8L156.5,201.5 152.6,199.7 147.5,205.1z"/>
<path fill="#416bfe" stroke="#416bfe" d="M146.3,212.2L151.4,206.8 147.5,205.1 142.4,210.5z"/>
<path fill="#4561fc" stroke="#4561fc" d="M141.2,217.7L146.3,212.2 142.4,210.5 137.3,216z"/>
<path fill="#4758f8" stroke="#4758f8" d="M136.1,223.2L141.2,217.7 137.3,216 132.2,221.5z"/>
<path fill="#484ff2" stroke="#484ff2" d="M131,228.7L136.1,223.2 132.2,221.5 127.1,227.1z"/>
<path fill="#4746ea" stroke="#4746ea" d="M125.9,234.3L131,228.7 127.1,227.1 122,232.7z"/>
<path fill="#463cdf" stroke="#463cdf" d="M120.8,240L125.9,234.3 122,232.7 116.9,238.3z"/>
<path fill="#4434cf" stroke="#4434cf" d="M115.8,245.7L120.8,240 116.9,238.3 111.8,244.1z"/>
<path fill="#412dbc" stroke="#412dbc" d="M110.7,251.4L115.8,245.7 111.8,244.1 106.7,249.8z"/>
<path fill="#3e26a8" stroke="#3e26a8" d="M105.6,257.2L110.7,251.4 106.7,249.8 101.6,255.7z"/>
<path fill="#f5ec22" stroke="#f5ec22" d="M353.9,39.6L359,36.5 355.1,34.4 350,37.5z"/>
<path fill="#f5e725" stroke="#f5e725" d="M348.8,42.8L353.9,39.6 350,37.5 344.9,40.7z"/>
<path fill="#f5e327" stroke="#f5e327" d="M343.7,46L348.8,42.8 344.9,40.7 339.8,43.9z"/>
<path fill="#f6de29" stroke="#f6de29" d="M338.6,49.2L343.7,46 339.8,43.9 334.7,47.1z"/>
<path fill="#f8d92c" stroke="#f8d92c" d="M333.5,52.5L338.6,49.2 334.7,47.1 329.6,50.5z"/>
<path fill="#fad42e" stroke="#fad42e" d="M328.4,55.8L333.5,52.5 329.6,50.5 324.5,53.8z"/>
<path fill="#fdce31" stroke="#fdce31" d="M323.4,59.3L328.4,55.8 324.5,53.8 319.4,57.3z"/>
<path fill="#fec934" stroke="#fec934" d="M318.3,62.7L323.4,59.3 319.4,57.3 314.3,60.8z"/>
<path fill="#fec438" stroke="#fec438" d="M313.2,66.3L318.3,62.7 314.3,60.8 309.2,64.4z"/>
<path fill="#febf3c" stroke="#febf3c" d="M308.1,69.9L313.2,66.3 309.2,64.4 304.2,68z"/>
<path fill="#fabb3d" stroke="#fabb3d" d="M303,73.6L308.1,69.9 304.2,68 299.1,71.7z"/>
<path fill="#f2ba38" stroke="#f2ba38" d="M297.9,77.4L303,73.6 299.1,71.7 294,75.5z"/>
<path fill="#e9bb30" stroke="#e9bb30" d="M292.8,81.2L297.9,77.4 294,75.5 288.9,79.3z"/>
<path fill="#dfbc2a" stroke="#dfbc2a" d="M287.7,85.1L292.8,81.2 288.9,79.3 283.8,83.3z"/>
<path fill="#d4bf28" stroke="#d4bf28" d="M282.6,89.1L287.7,85.1 283.8,83.3 278.7,87.3z"/>
<path fill="#c7c129" stroke="#c7c129" d="M277.5,93.2L282.6,89.1 278.7,87.3 273.6,91.3z"/>
<path fill="#bac430" stroke="#bac430" d="M272.4,97.3L277.5,93.2 273.6,91.3 268.5,95.5z"/>
<path fill="#abc739" stroke="#abc739" d="M267.3,101.5L272.4,97.3 268.5,95.5 263.4,99.7z"/>
<path fill="#9bc945" stroke="#9bc945" d="M262.3,105.8L267.3,101.5 263.4,99.7 258.3,104z"/>
<path fill="#8acb52" stroke="#8acb52" d="M257.2,110.2L262.3,105.8 258.3,104 253.2,108.4z"/>
<path fill="#78cc5f" stroke="#78cc5f" d="M252.1,114.6L257.2,110.2 253.2,108.4 248.1,112.8z"/>
<path fill="#66cd6d" stroke="#66cd6d" d="M247,119.1L252.1,114.6 248.1,112.8 243.1,117.3z"/>
<path fill="#56cc7b" stroke="#56cc7b" d="M241.9,123.6L247,119.1 243.1,117.3 238,121.8z"/>
<path fill="#46cb88" stroke="#46cb88" d="M236.8,128.2L241.9,123.6 238,121.8 232.9,126.4z"/>
<path fill="#3ac994" stroke="#3ac994" d="M231.7,132.9L236.8,128.2 232.9,126.4 227.8,131.1z"/>
<path fill="#32c69f" stroke="#32c69f" d="M226.6,137.6L231.7,132.9 227.8,131.1 222.7,135.8z"/>
<path fill="#29c3a9" stroke="#29c3a9" d="M221.5,142.4L226.6,137.6 222.7,135.8 217.6,140.6z"/>
<path fill="#1cc0b3" stroke="#1cc0b3" d="M216.4,147.3L221.5,142.4 217.6,140.6 212.5,145.4z"/>
<path fill="#0bbdbd" stroke="#0bbdbd" d="M211.3,152.1L216.4,147.3 212.5,145.4 207.4,150.3z"/>
<path fill="#01b9c6" stroke="#01b9c6" d="M206.2,157.1L211.3,152.1 207.4,150.3 202.3,155.2z"/>
<path fill="#07b5cf" stroke="#07b5cf" d="M201.2,162L206.2,157.1 202.3,155.2 197.2,160.2z"/>
<path fill="#13b0d8" stroke="#13b0d8" d="M196.1,167L201.2,162 197.2,160.2 192.1,165.2z"/>
<path fill="#1baade" stroke="#1baade" d="M191,172.1L196.1,167 192.1,165.2 187,170.3z"/>
<path fill="#20a4e3" stroke="#20a4e3" d="M185.9,177.2L191,172.1 187,170.3 181.9,175.4z"/>
<path fill="#259de7" stroke="#259de7" d="M180.8,182.3L185.9,177.2 181.9,175.4 176.9,180.5z"/>
<path fill="#2896ec" stroke="#2896ec" d="M175.7,187.5L180.8,182.3 176.9,180.5 171.8,185.7z"/>
<path fill="#2c8ef1" stroke="#2c8ef1" d="M170.6,192.7L175.7,187.5 171.8,185.7 166.7,190.9z"/>
<path fill="#2e86f7" stroke="#2e86f7" d="M165.5,197.9L170.6,192.7 166.7,190.9 161.6,196.2z"/>
<path fill="#317dfb" stroke="#317dfb" d="M160.4,203.2L165.5,197.9 161.6,196.2 156.5,201.5z"/>
<path fill="#3a74fe" stroke="#3a74fe" d="M155.3,208.6L160.4,203.2 156.5,201.5 151.4,206.8z"/>
<path fill="#426afe" stroke="#426afe" d="M150.2,213.9L155.3,208.6 151.4,206.8 146.3,212.2z"/>
<path fill="#4561fc" stroke="#4561fc" d="M145.1,219.4L150.2,213.9 146.3,212.2 141.2,217.7z"/>
<path fill="#4758f8" stroke="#4758f8" d="M140,224.9L145.1,219.4 141.2,217.7 136.1,223.2z"/>
<path fill="#484ff2" stroke="#484ff2" d="M135,230.4L140,224.9 136.1,223.2 131,228.7z"/>
<path fill="#4746ea" stroke="#4746ea" d="M129.9,236L135,230.4 131,228.7 125.9,234.3z"/>
<path fill="#463cdf" stroke="#463cdf" d="M124.8,241.6L129.9,236 125.9,234.3 120.8,240z"/>
<path fill="#4434cf" stroke="#4434cf" d="M119.7,247.3L124.8,241.6 120.8,240 115.8,245.7z"/>
<path fill="#412dbc" stroke="#412dbc" d="M114.6,253L119.7,247.3 115.8,245.7 110.7,251.4z"/>
<path fill="#3e26a8" stroke="#3e26a8" d="M109.5,258.8L114.6,253 110.7,251.4 105.6,257.2z"/>
<path fill="#f5ea23" stroke="#f5ea23" d="M357.8,41.8L362.9,38.7 359,36.5 353.9,39.6z"/>
<path fill="#f5e626" stroke="#f5e626" d="M352.7,44.9L357.8,41.8 353.9,39.6 348.8,42.8z"/>
<path fill="#f5e128" stroke="#f5e128" d="M347.6,48.1L352.7,44.9 348.8,42.8 343.7,46z"/>
<path fill="#f7dd2a" stroke="#f7dd2a" d="M342.6,51.3L347.6,48.1 343.7,46 338.6,49.2z"/>
<path fill="#f9d82c" stroke="#f9d82c" d="M337.5,54.6L342.6,51.3 338.6,49.2 333.5,52.5z"/>
<path fill="#fbd22f" stroke="#fbd22f" d="M332.4,57.9L337.5,54.6 333.5,52.5 328.4,55.8z"/>
<path fill="#fdcd31" stroke="#fdcd31" d="M327.3,61.3L332.4,57.9 328.4,55.8 323.4,59.3z"/>
<path fill="#fec835" stroke="#fec835" d="M322.2,64.7L327.3,61.3 323.4,59.3 318.3,62.7z"/>
<path fill="#fec338" stroke="#fec338" d="M317.1,68.3L322.2,64.7 318.3,62.7 313.2,66.3z"/>
<path fill="#febe3c" stroke="#febe3c" d="M312,71.8L317.1,68.3 313.2,66.3 308.1,69.9z"/>
<path fill="#f9bb3d" stroke="#f9bb3d" d="M306.9,75.5L312,71.8 308.1,69.9 303,73.6z"/>
<path fill="#f1ba37" stroke="#f1ba37" d="M301.8,79.3L306.9,75.5 303,73.6 297.9,77.4z"/>
<path fill="#e8bb2f" stroke="#e8bb2f" d="M296.7,83.1L301.8,79.3 297.9,77.4 292.8,81.2z"/>
<path fill="#debc2a" stroke="#debc2a" d="M291.6,87L296.7,83.1 292.8,81.2 287.7,85.1z"/>
<path fill="#d3bf27" stroke="#d3bf27" d="M286.5,91L291.6,87 287.7,85.1 282.6,89.1z"/>
<path fill="#c6c22a" stroke="#c6c22a" d="M281.5,95L286.5,91 282.6,89.1 277.5,93.2z"/>
<path fill="#b8c431" stroke="#b8c431" d="M276.4,99.1L281.5,95 277.5,93.2 272.4,97.3z"/>
<path fill="#a9c73a" stroke="#a9c73a" d="M271.3,103.4L276.4,99.1 272.4,97.3 267.3,101.5z"/>
<path fill="#99c946" stroke="#99c946" d="M266.2,107.6L271.3,103.4 267.3,101.5 262.3,105.8z"/>
<path fill="#88cb53" stroke="#88cb53" d="M261.1,112L266.2,107.6 262.3,105.8 257.2,110.2z"/>
<path fill="#76cc60" stroke="#76cc60" d="M256,116.4L261.1,112 257.2,110.2 252.1,114.6z"/>
<path fill="#65cd6e" stroke="#65cd6e" d="M250.9,120.9L256,116.4 252.1,114.6 247,119.1z"/>
<path fill="#55cc7c" stroke="#55cc7c" d="M245.8,125.5L250.9,120.9 247,119.1 241.9,123.6z"/>
<path fill="#45cb89" stroke="#45cb89" d="M240.7,130.1L245.8,125.5 241.9,123.6 236.8,128.2z"/>
<path fill="#39c895" stroke="#39c895" d="M235.6,134.8L240.7,130.1 236.8,128.2 231.7,132.9z"/>
<path fill="#31c6a0" stroke="#31c6a0" d="M230.5,139.5L235.6,134.8 231.7,132.9 226.6,137.6z"/>
<path fill="#28c3aa" stroke="#28c3aa" d="M225.4,144.3L230.5,139.5 226.6,137.6 221.5,142.4z"/>
<path fill="#1bc0b4" stroke="#1bc0b4" d="M220.4,149.1L225.4,144.3 221.5,142.4 216.4,147.3z"/>
<path fill="#0abdbe" stroke="#0abdbe" d="M215.3,154L220.4,149.1 216.4,147.3 211.3,152.1z"/>
<path fill="#01b9c7" stroke="#01b9c7" d="M210.2,158.9L215.3,154 211.3,152.1 206.2,157.1z"/>
<path fill="#07b5d0" stroke="#07b5d0" d="M205.1,163.9L210.2,158.9 206.2,157.1 201.2,162z"/>
<path fill="#14b0d8" stroke="#14b0d8" d="M200,168.9L205.1,163.9 201.2,162 196.1,167z"/>
<path fill="#1caadf" stroke="#1caadf" d="M194.9,173.9L200,168.9 196.1,167 191,172.1z"/>
<path fill="#21a3e3" stroke="#21a3e3" d="M189.8,179L194.9,173.9 191,172.1 185.9,177.2z"/>
<path fill="#259de7" stroke="#259de7" d="M184.7,184.1L189.8,179 185.9,177.2 180.8,182.3z"/>
<path fill="#2895ec" stroke="#2895ec" d="M179.6,189.3L184.7,184.1 180.8,182.3 175.7,187.5z"/>
<path fill="#2c8ef2" stroke="#2c8ef2" d="M174.5,194.5L179.6,189.3 175.7,187.5 170.6,192.7z"/>
<path fill="#2e86f8" stroke="#2e86f8" d="M169.4,199.7L174.5,194.5 170.6,192.7 165.5,197.9z"/>
<path fill="#317dfc" stroke="#317dfc" d="M164.3,205L169.4,199.7 165.5,197.9 160.4,203.2z"/>
<path fill="#3a74fe" stroke="#3a74fe" d="M159.3,210.3L164.3,205 160.4,203.2 155.3,208.6z"/>
<path fill="#426afe" stroke="#426afe" d="M154.2,215.7L159.3,210.3 155.3,208.6 150.2,213.9z"/>
<path fill="#4661fc" stroke="#4661fc" d="M149.1,221.1L154.2,215.7 150.2,213.9 145.1,219.4z"/>
<path fill="#4758f8" stroke="#4758f8" d="M144,226.6L149.1,221.1 145.1,219.4 140,224.9z"/>
<path fill="#484ff2" stroke="#484ff2" d="M138.9,232.1L144,226.6 140,224.9 135,230.4z"/>
<path fill="#4745e9" stroke="#4745e9" d="M133.8,237.6L138.9,232.1 135,230.4 129.9,236z"/>
<path fill="#463cdf" stroke="#463cdf" d="M128.7,243.2L133.8,237.6 129.9,236 124.8,241.6z"/>
<path fill="#4434cf" stroke="#4434cf" d="M123.6,248.9L128.7,243.2 124.8,241.6 119.7,247.3z"/>
<path fill="#412dbc" stroke="#412dbc" d="M118.5,254.6L123.6,248.9 119.7,247.3 114.6,253z"/>
<path fill="#3e26a8" stroke="#3e26a8" d="M113.4,260.4L118.5,254.6 114.6,253 109.5,258.8z"/>
<path fill="#f5e924" stroke="#f5e924" d="M361.8,44.1L366.9,41 362.9,38.7 357.8,41.8z"/>
<path fill="#f5e426" stroke="#f5e426" d="M356.7,47.2L361.8,44.1 357.8,41.8 352.7,44.9z"/>
<path fill="#f6e028" stroke="#f6e028" d="M351.6,50.3L356.7,47.2 352.7,44.9 347.6,48.1z"/>
<path fill="#f7db2a" stroke="#f7db2a" d="M346.5,53.5L351.6,50.3 347.6,48.1 342.6,51.3z"/>
<path fill="#f9d62d" stroke="#f9d62d" d="M341.4,56.7L346.5,53.5 342.6,51.3 337.5,54.6z"/>
<path fill="#fcd12f" stroke="#fcd12f" d="M336.3,60L341.4,56.7 337.5,54.6 332.4,57.9z"/>
<path fill="#fdcc32" stroke="#fdcc32" d="M331.2,63.4L336.3,60 332.4,57.9 327.3,61.3z"/>
<path fill="#fec735" stroke="#fec735" d="M326.1,66.8L331.2,63.4 327.3,61.3 322.2,64.7z"/>
<path fill="#fec239" stroke="#fec239" d="M321,70.3L326.1,66.8 322.2,64.7 317.1,68.3z"/>
<path fill="#fdbd3d" stroke="#fdbd3d" d="M315.9,73.8L321,70.3 317.1,68.3 312,71.8z"/>
<path fill="#f8ba3d" stroke="#f8ba3d" d="M310.8,77.5L315.9,73.8 312,71.8 306.9,75.5z"/>
<path fill="#f0ba36" stroke="#f0ba36" d="M305.7,81.2L310.8,77.5 306.9,75.5 301.8,79.3z"/>
<path fill="#e7bb2e" stroke="#e7bb2e" d="M300.7,85L305.7,81.2 301.8,79.3 296.7,83.1z"/>
<path fill="#ddbd29" stroke="#ddbd29" d="M295.6,88.9L300.7,85 296.7,83.1 291.6,87z"/>
<path fill="#d1bf27" stroke="#d1bf27" d="M290.5,92.9L295.6,88.9 291.6,87 286.5,91z"/>
<path fill="#c5c22a" stroke="#c5c22a" d="M285.4,96.9L290.5,92.9 286.5,91 281.5,95z"/>
<path fill="#b7c532" stroke="#b7c532" d="M280.3,101L285.4,96.9 281.5,95 276.4,99.1z"/>
<path fill="#a8c73b" stroke="#a8c73b" d="M275.2,105.2L280.3,101 276.4,99.1 271.3,103.4z"/>
<path fill="#98ca47" stroke="#98ca47" d="M270.1,109.5L275.2,105.2 271.3,103.4 266.2,107.6z"/>
<path fill="#87cb54" stroke="#87cb54" d="M265,113.9L270.1,109.5 266.2,107.6 261.1,112z"/>
<path fill="#75cc61" stroke="#75cc61" d="M259.9,118.3L265,113.9 261.1,112 256,116.4z"/>
<path fill="#63cd6f" stroke="#63cd6f" d="M254.8,122.8L259.9,118.3 256,116.4 250.9,120.9z"/>
<path fill="#53cc7d" stroke="#53cc7d" d="M249.7,127.3L254.8,122.8 250.9,120.9 245.8,125.5z"/>
<path fill="#44cb8a" stroke="#44cb8a" d="M244.6,131.9L249.7,127.3 245.8,125.5 240.7,130.1z"/>
<path fill="#38c896" stroke="#38c896" d="M239.6,136.6L244.6,131.9 240.7,130.1 235.6,134.8z"/>
<path fill="#30c5a1" stroke="#30c5a1" d="M234.5,141.4L239.6,136.6 235.6,134.8 230.5,139.5z"/>
<path fill="#28c2ab" stroke="#28c2ab" d="M229.4,146.1L234.5,141.4 230.5,139.5 225.4,144.3z"/>
<path fill="#1abfb5" stroke="#1abfb5" d="M224.3,151L229.4,146.1 225.4,144.3 220.4,149.1z"/>
<path fill="#09bcbe" stroke="#09bcbe" d="M219.2,155.8L224.3,151 220.4,149.1 215.3,154z"/>
<path fill="#01b9c8" stroke="#01b9c8" d="M214.1,160.8L219.2,155.8 215.3,154 210.2,158.9z"/>
<path fill="#08b4d1" stroke="#08b4d1" d="M209,165.7L214.1,160.8 210.2,158.9 205.1,163.9z"/>
<path fill="#15afd9" stroke="#15afd9" d="M203.9,170.7L209,165.7 205.1,163.9 200,168.9z"/>
<path fill="#1caadf" stroke="#1caadf" d="M198.8,175.8L203.9,170.7 200,168.9 194.9,173.9z"/>
<path fill="#21a3e3" stroke="#21a3e3" d="M193.7,180.8L198.8,175.8 194.9,173.9 189.8,179z"/>
<path fill="#259ce7" stroke="#259ce7" d="M188.6,185.9L193.7,180.8 189.8,179 184.7,184.1z"/>
<path fill="#2895ec" stroke="#2895ec" d="M183.5,191.1L188.6,185.9 184.7,184.1 179.6,189.3z"/>
<path fill="#2d8df2" stroke="#2d8df2" d="M178.5,196.3L183.5,191.1 179.6,189.3 174.5,194.5z"/>
<path fill="#2e85f8" stroke="#2e85f8" d="M173.4,201.5L178.5,196.3 174.5,194.5 169.4,199.7z"/>
<path fill="#327dfc" stroke="#327dfc" d="M168.3,206.8L173.4,201.5 169.4,199.7 164.3,205z"/>
<path fill="#3a73fe" stroke="#3a73fe" d="M163.2,212.1L168.3,206.8 164.3,205 159.3,210.3z"/>
<path fill="#426afe" stroke="#426afe" d="M158.1,217.4L163.2,212.1 159.3,210.3 154.2,215.7z"/>
<path fill="#4660fc" stroke="#4660fc" d="M153,222.8L158.1,217.4 154.2,215.7 149.1,221.1z"/>
<path fill="#4757f7" stroke="#4757f7" d="M147.9,228.3L153,222.8 149.1,221.1 144,226.6z"/>
<path fill="#484ef1" stroke="#484ef1" d="M142.8,233.8L147.9,228.3 144,226.6 138.9,232.1z"/>
<path fill="#4745e9" stroke="#4745e9" d="M137.7,239.3L142.8,233.8 138.9,232.1 133.8,237.6z"/>
<path fill="#463cde" stroke="#463cde" d="M132.6,244.9L137.7,239.3 133.8,237.6 128.7,243.2z"/>
<path fill="#4434cf" stroke="#4434cf" d="M127.5,250.5L132.6,244.9 128.7,243.2 123.6,248.9z"/>
<path fill="#412dbc" stroke="#412dbc" d="M122.4,256.2L127.5,250.5 123.6,248.9 118.5,254.6z"/>
<path fill="#3e26a8" stroke="#3e26a8" d="M117.4,261.9L122.4,256.2 118.5,254.6 113.4,260.4z"/>
<path fill="#f5e725" stroke="#f5e725" d="M365.7,46.4L370.8,43.4 366.9,41 361.8,44.1z"/>
<path fill="#f5e327" stroke="#f5e327" d="M360.6,49.4L365.7,46.4 361.8,44.1 356.7,47.2z"/>
<path fill="#f6de29" stroke="#f6de29" d="M355.5,52.6L360.6,49.4 356.7,47.2 351.6,50.3z"/>
<path fill="#f8da2b" stroke="#f8da2b" d="M350.4,55.7L355.5,52.6 351.6,50.3 346.5,53.5z"/>
<path fill="#fad52e" stroke="#fad52e" d="M345.3,58.9L350.4,55.7 346.5,53.5 341.4,56.7z"/>
<path fill="#fcd030" stroke="#fcd030" d="M340.2,62.2L345.3,58.9 341.4,56.7 336.3,60z"/>
<path fill="#fdcb33" stroke="#fdcb33" d="M335.1,65.5L340.2,62.2 336.3,60 331.2,63.4z"/>
<path fill="#fec636" stroke="#fec636" d="M330,68.9L335.1,65.5 331.2,63.4 326.1,66.8z"/>
<path fill="#fec13a" stroke="#fec13a" d="M325,72.3L330,68.9 326.1,66.8 321,70.3z"/>
<path fill="#fcbd3d" stroke="#fcbd3d" d="M319.9,75.9L325,72.3 321,70.3 315.9,73.8z"/>
<path fill="#f6ba3c" stroke="#f6ba3c" d="M314.8,79.5L319.9,75.9 315.9,73.8 310.8,77.5z"/>
<path fill="#eeba35" stroke="#eeba35" d="M309.7,83.2L314.8,79.5 310.8,77.5 305.7,81.2z"/>
<path fill="#e5bb2d" stroke="#e5bb2d" d="M304.6,87L309.7,83.2 305.7,81.2 300.7,85z"/>
<path fill="#dbbd29" stroke="#dbbd29" d="M299.5,90.8L304.6,87 300.7,85 295.6,88.9z"/>
<path fill="#d0bf27" stroke="#d0bf27" d="M294.4,94.8L299.5,90.8 295.6,88.9 290.5,92.9z"/>
<path fill="#c3c22b" stroke="#c3c22b" d="M289.3,98.8L294.4,94.8 290.5,92.9 285.4,96.9z"/>
<path fill="#b5c533" stroke="#b5c533" d="M284.2,102.9L289.3,98.8 285.4,96.9 280.3,101z"/>
<path fill="#a6c83d" stroke="#a6c83d" d="M279.1,107.1L284.2,102.9 280.3,101 275.2,105.2z"/>
<path fill="#96ca48" stroke="#96ca48" d="M274,111.4L279.1,107.1 275.2,105.2 270.1,109.5z"/>
<path fill="#85cb56" stroke="#85cb56" d="M268.9,115.7L274,111.4 270.1,109.5 265,113.9z"/>
<path fill="#73cd63" stroke="#73cd63" d="M263.8,120.2L268.9,115.7 265,113.9 259.9,118.3z"/>
<path fill="#62cd71" stroke="#62cd71" d="M258.8,124.7L263.8,120.2 259.9,118.3 254.8,122.8z"/>
<path fill="#52cc7e" stroke="#52cc7e" d="M253.7,129.2L258.8,124.7 254.8,122.8 249.7,127.3z"/>
<path fill="#42ca8b" stroke="#42ca8b" d="M248.6,133.8L253.7,129.2 249.7,127.3 244.6,131.9z"/>
<path fill="#37c897" stroke="#37c897" d="M243.5,138.5L248.6,133.8 244.6,131.9 239.6,136.6z"/>
<path fill="#30c5a2" stroke="#30c5a2" d="M238.4,143.3L243.5,138.5 239.6,136.6 234.5,141.4z"/>
<path fill="#27c2ac" stroke="#27c2ac" d="M233.3,148L238.4,143.3 234.5,141.4 229.4,146.1z"/>
<path fill="#18bfb6" stroke="#18bfb6" d="M228.2,152.9L233.3,148 229.4,146.1 224.3,151z"/>
<path fill="#07bcbf" stroke="#07bcbf" d="M223.1,157.8L228.2,152.9 224.3,151 219.2,155.8z"/>
<path fill="#01b8c8" stroke="#01b8c8" d="M218,162.7L223.1,157.8 219.2,155.8 214.1,160.8z"/>
<path fill="#09b4d1" stroke="#09b4d1" d="M212.9,167.6L218,162.7 214.1,160.8 209,165.7z"/>
<path fill="#16afd9" stroke="#16afd9" d="M207.8,172.6L212.9,167.6 209,165.7 203.9,170.7z"/>
<path fill="#1da9e0" stroke="#1da9e0" d="M202.7,177.6L207.8,172.6 203.9,170.7 198.8,175.8z"/>
<path fill="#21a2e4" stroke="#21a2e4" d="M197.7,182.7L202.7,177.6 198.8,175.8 193.7,180.8z"/>
<path fill="#259ce7" stroke="#259ce7" d="M192.6,187.8L197.7,182.7 193.7,180.8 188.6,185.9z"/>
<path fill="#2994ed" stroke="#2994ed" d="M187.5,192.9L192.6,187.8 188.6,185.9 183.5,191.1z"/>
<path fill="#2d8df2" stroke="#2d8df2" d="M182.4,198.1L187.5,192.9 183.5,191.1 178.5,196.3z"/>
<path fill="#2e85f8" stroke="#2e85f8" d="M177.3,203.3L182.4,198.1 178.5,196.3 173.4,201.5z"/>
<path fill="#327cfc" stroke="#327cfc" d="M172.2,208.6L177.3,203.3 173.4,201.5 168.3,206.8z"/>
<path fill="#3b73fe" stroke="#3b73fe" d="M167.1,213.9L172.2,208.6 168.3,206.8 163.2,212.1z"/>
<path fill="#4269fe" stroke="#4269fe" d="M162,219.2L167.1,213.9 163.2,212.1 158.1,217.4z"/>
<path fill="#4660fc" stroke="#4660fc" d="M156.9,224.6L162,219.2 158.1,217.4 153,222.8z"/>
<path fill="#4757f7" stroke="#4757f7" d="M151.8,230L156.9,224.6 153,222.8 147.9,228.3z"/>
<path fill="#484ef1" stroke="#484ef1" d="M146.7,235.5L151.8,230 147.9,228.3 142.8,233.8z"/>
<path fill="#4745e9" stroke="#4745e9" d="M141.6,241L146.7,235.5 142.8,233.8 137.7,239.3z"/>
<path fill="#463cde" stroke="#463cde" d="M136.6,246.5L141.6,241 137.7,239.3 132.6,244.9z"/>
<path fill="#4434cf" stroke="#4434cf" d="M131.5,252.1L136.6,246.5 132.6,244.9 127.5,250.5z"/>
<path fill="#412dbc" stroke="#412dbc" d="M126.4,257.8L131.5,252.1 127.5,250.5 122.4,256.2z"/>
<path fill="#3e26a8" stroke="#3e26a8" d="M121.3,263.5L126.4,257.8 122.4,256.2 117.4,261.9z"/>
<path fill="#f5e526" stroke="#f5e526" d="M369.6,48.8L374.7,45.8 370.8,43.4 365.7,46.4z"/>
<path fill="#f6e128" stroke="#f6e128" d="M364.5,51.8L369.6,48.8 365.7,46.4 360.6,49.4z"/>
<path fill="#f7dc2a" stroke="#f7dc2a" d="M359.4,54.9L364.5,51.8 360.6,49.4 355.5,52.6z"/>
<path fill="#f9d82c" stroke="#f9d82c" d="M354.3,58L359.4,54.9 355.5,52.6 350.4,55.7z"/>
<path fill="#fbd32e" stroke="#fbd32e" d="M349.2,61.2L354.3,58 350.4,55.7 345.3,58.9z"/>
<path fill="#fdce31" stroke="#fdce31" d="M344.2,64.4L349.2,61.2 345.3,58.9 340.2,62.2z"/>
<path fill="#fec934" stroke="#fec934" d="M339.1,67.7L344.2,64.4 340.2,62.2 335.1,65.5z"/>
<path fill="#fec537" stroke="#fec537" d="M334,71L339.1,67.7 335.1,65.5 330,68.9z"/>
<path fill="#fec03b" stroke="#fec03b" d="M328.9,74.5L334,71 330,68.9 325,72.3z"/>
<path fill="#fbbc3d" stroke="#fbbc3d" d="M323.8,78L328.9,74.5 325,72.3 319.9,75.9z"/>
<path fill="#f5ba3a" stroke="#f5ba3a" d="M318.7,81.6L323.8,78 319.9,75.9 314.8,79.5z"/>
<path fill="#edba33" stroke="#edba33" d="M313.6,85.2L318.7,81.6 314.8,79.5 309.7,83.2z"/>
<path fill="#e4bb2c" stroke="#e4bb2c" d="M308.5,89L313.6,85.2 309.7,83.2 304.6,87z"/>
<path fill="#d9bd28" stroke="#d9bd28" d="M303.4,92.8L308.5,89 304.6,87 299.5,90.8z"/>
<path fill="#cec028" stroke="#cec028" d="M298.3,96.8L303.4,92.8 299.5,90.8 294.4,94.8z"/>
<path fill="#c1c32c" stroke="#c1c32c" d="M293.2,100.8L298.3,96.8 294.4,94.8 289.3,98.8z"/>
<path fill="#b3c534" stroke="#b3c534" d="M288.1,104.9L293.2,100.8 289.3,98.8 284.2,102.9z"/>
<path fill="#a4c83e" stroke="#a4c83e" d="M283.1,109.1L288.1,104.9 284.2,102.9 279.1,107.1z"/>
<path fill="#94ca4a" stroke="#94ca4a" d="M278,113.3L283.1,109.1 279.1,107.1 274,111.4z"/>
<path fill="#83cc57" stroke="#83cc57" d="M272.9,117.7L278,113.3 274,111.4 268.9,115.7z"/>
<path fill="#71cd64" stroke="#71cd64" d="M267.8,122.1L272.9,117.7 268.9,115.7 263.8,120.2z"/>
<path fill="#60cd72" stroke="#60cd72" d="M262.7,126.6L267.8,122.1 263.8,120.2 258.8,124.7z"/>
<path fill="#50cc80" stroke="#50cc80" d="M257.6,131.2L262.7,126.6 258.8,124.7 253.7,129.2z"/>
<path fill="#41ca8c" stroke="#41ca8c" d="M252.5,135.8L257.6,131.2 253.7,129.2 248.6,133.8z"/>
<path fill="#36c898" stroke="#36c898" d="M247.4,140.5L252.5,135.8 248.6,133.8 243.5,138.5z"/>
<path fill="#2fc5a3" stroke="#2fc5a3" d="M242.3,145.2L247.4,140.5 243.5,138.5 238.4,143.3z"/>
<path fill="#26c2ad" stroke="#26c2ad" d="M237.2,150L242.3,145.2 238.4,143.3 233.3,148z"/>
<path fill="#17bfb7" stroke="#17bfb7" d="M232.1,154.8L237.2,150 233.3,148 228.2,152.9z"/>
<path fill="#06bcc0" stroke="#06bcc0" d="M227,159.7L232.1,154.8 228.2,152.9 223.1,157.8z"/>
<path fill="#01b8c9" stroke="#01b8c9" d="M221.9,164.6L227,159.7 223.1,157.8 218,162.7z"/>
<path fill="#0bb3d2" stroke="#0bb3d2" d="M216.9,169.6L221.9,164.6 218,162.7 212.9,167.6z"/>
<path fill="#17aeda" stroke="#17aeda" d="M211.8,174.5L216.9,169.6 212.9,167.6 207.8,172.6z"/>
<path fill="#1da8e0" stroke="#1da8e0" d="M206.7,179.6L211.8,174.5 207.8,172.6 202.7,177.6z"/>
<path fill="#22a2e4" stroke="#22a2e4" d="M201.6,184.6L206.7,179.6 202.7,177.6 197.7,182.7z"/>
<path fill="#259be8" stroke="#259be8" d="M196.5,189.7L201.6,184.6 197.7,182.7 192.6,187.8z"/>
<path fill="#2994ed" stroke="#2994ed" d="M191.4,194.8L196.5,189.7 192.6,187.8 187.5,192.9z"/>
<path fill="#2d8cf3" stroke="#2d8cf3" d="M186.3,200L191.4,194.8 187.5,192.9 182.4,198.1z"/>
<path fill="#2e84f8" stroke="#2e84f8" d="M181.2,205.2L186.3,200 182.4,198.1 177.3,203.3z"/>
<path fill="#327cfc" stroke="#327cfc" d="M176.1,210.4L181.2,205.2 177.3,203.3 172.2,208.6z"/>
<path fill="#3b72ff" stroke="#3b72ff" d="M171,215.7L176.1,210.4 172.2,208.6 167.1,213.9z"/>
<path fill="#4369fe" stroke="#4369fe" d="M165.9,221L171,215.7 167.1,213.9 162,219.2z"/>
<path fill="#4660fb" stroke="#4660fb" d="M160.8,226.3L165.9,221 162,219.2 156.9,224.6z"/>
<path fill="#4757f7" stroke="#4757f7" d="M155.8,231.7L160.8,226.3 156.9,224.6 151.8,230z"/>
<path fill="#484ef1" stroke="#484ef1" d="M150.7,237.2L155.8,231.7 151.8,230 146.7,235.5z"/>
<path fill="#4745e9" stroke="#4745e9" d="M145.6,242.6L150.7,237.2 146.7,235.5 141.6,241z"/>
<path fill="#463cde" stroke="#463cde" d="M140.5,248.2L145.6,242.6 141.6,241 136.6,246.5z"/>
<path fill="#4434ce" stroke="#4434ce" d="M135.4,253.8L140.5,248.2 136.6,246.5 131.5,252.1z"/>
<path fill="#412dbc" stroke="#412dbc" d="M130.3,259.4L135.4,253.8 131.5,252.1 126.4,257.8z"/>
<path fill="#3e26a8" stroke="#3e26a8" d="M125.2,265.1L130.3,259.4 126.4,257.8 121.3,263.5z"/>
<path fill="#f5e327" stroke="#f5e327" d="M373.5,51.3L378.6,48.3 374.7,45.8 369.6,48.8z"/>
<path fill="#f6df29" stroke="#f6df29" d="M368.4,54.3L373.5,51.3 369.6,48.8 364.5,51.8z"/>
<path fill="#f8da2b" stroke="#f8da2b" d="M363.4,57.3L368.4,54.3 364.5,51.8 359.4,54.9z"/>
<path fill="#fad62d" stroke="#fad62d" d="M358.3,60.4L363.4,57.3 359.4,54.9 354.3,58z"/>
<path fill="#fcd12f" stroke="#fcd12f" d="M353.2,63.5L358.3,60.4 354.3,58 349.2,61.2z"/>
<path fill="#fdcd32" stroke="#fdcd32" d="M348.1,66.7L353.2,63.5 349.2,61.2 344.2,64.4z"/>
<path fill="#fec835" stroke="#fec835" d="M343,70L348.1,66.7 344.2,64.4 339.1,67.7z"/>
<path fill="#fec338" stroke="#fec338" d="M337.9,73.3L343,70 339.1,67.7 334,71z"/>
<path fill="#febe3c" stroke="#febe3c" d="M332.8,76.7L337.9,73.3 334,71 328.9,74.5z"/>
<path fill="#fabb3d" stroke="#fabb3d" d="M327.7,80.1L332.8,76.7 328.9,74.5 323.8,78z"/>
<path fill="#f3ba39" stroke="#f3ba39" d="M322.6,83.7L327.7,80.1 323.8,78 318.7,81.6z"/>
<path fill="#ebba31" stroke="#ebba31" d="M317.5,87.3L322.6,83.7 318.7,81.6 313.6,85.2z"/>
<path fill="#e2bc2b" stroke="#e2bc2b" d="M312.4,91.1L317.5,87.3 313.6,85.2 308.5,89z"/>
<path fill="#d8be28" stroke="#d8be28" d="M307.3,94.9L312.4,91.1 308.5,89 303.4,92.8z"/>
<path fill="#ccc028" stroke="#ccc028" d="M302.3,98.8L307.3,94.9 303.4,92.8 298.3,96.8z"/>
<path fill="#bfc32d" stroke="#bfc32d" d="M297.2,102.8L302.3,98.8 298.3,96.8 293.2,100.8z"/>
<path fill="#b1c635" stroke="#b1c635" d="M292.1,106.9L297.2,102.8 293.2,100.8 288.1,104.9z"/>
<path fill="#a2c83f" stroke="#a2c83f" d="M287,111.1L292.1,106.9 288.1,104.9 283.1,109.1z"/>
<path fill="#92ca4c" stroke="#92ca4c" d="M281.9,115.3L287,111.1 283.1,109.1 278,113.3z"/>
<path fill="#81cc59" stroke="#81cc59" d="M276.8,119.7L281.9,115.3 278,113.3 272.9,117.7z"/>
<path fill="#6fcd66" stroke="#6fcd66" d="M271.7,124.1L276.8,119.7 272.9,117.7 267.8,122.1z"/>
<path fill="#5ecd74" stroke="#5ecd74" d="M266.6,128.6L271.7,124.1 267.8,122.1 262.7,126.6z"/>
<path fill="#4ecc81" stroke="#4ecc81" d="M261.5,133.1L266.6,128.6 262.7,126.6 257.6,131.2z"/>
<path fill="#3fca8e" stroke="#3fca8e" d="M256.4,137.8L261.5,133.1 257.6,131.2 252.5,135.8z"/>
<path fill="#36c799" stroke="#36c799" d="M251.3,142.4L256.4,137.8 252.5,135.8 247.4,140.5z"/>
<path fill="#2ec4a4" stroke="#2ec4a4" d="M246.2,147.2L251.3,142.4 247.4,140.5 242.3,145.2z"/>
<path fill="#24c2ae" stroke="#24c2ae" d="M241.2,152L246.2,147.2 242.3,145.2 237.2,150z"/>
<path fill="#14bfb8" stroke="#14bfb8" d="M236.1,156.8L241.2,152 237.2,150 232.1,154.8z"/>
<path fill="#05bbc1" stroke="#05bbc1" d="M231,161.7L236.1,156.8 232.1,154.8 227,159.7z"/>
<path fill="#01b7ca" stroke="#01b7ca" d="M225.9,166.6L231,161.7 227,159.7 221.9,164.6z"/>
<path fill="#0cb3d3" stroke="#0cb3d3" d="M220.8,171.5L225.9,166.6 221.9,164.6 216.9,169.6z"/>
<path fill="#17aedb" stroke="#17aedb" d="M215.7,176.5L220.8,171.5 216.9,169.6 211.8,174.5z"/>
<path fill="#1da8e0" stroke="#1da8e0" d="M210.6,181.5L215.7,176.5 211.8,174.5 206.7,179.6z"/>
<path fill="#22a1e4" stroke="#22a1e4" d="M205.5,186.5L210.6,181.5 206.7,179.6 201.6,184.6z"/>
<path fill="#269ae8" stroke="#269ae8" d="M200.4,191.6L205.5,186.5 201.6,184.6 196.5,189.7z"/>
<path fill="#2a93ed" stroke="#2a93ed" d="M195.3,196.7L200.4,191.6 196.5,189.7 191.4,194.8z"/>
<path fill="#2d8cf3" stroke="#2d8cf3" d="M190.2,201.9L195.3,196.7 191.4,194.8 186.3,200z"/>
<path fill="#2e84f9" stroke="#2e84f9" d="M185.1,207L190.2,201.9 186.3,200 181.2,205.2z"/>
<path fill="#337bfc" stroke="#337bfc" d="M180,212.2L185.1,207 181.2,205.2 176.1,210.4z"/>
<path fill="#3c71ff" stroke="#3c71ff" d="M175,217.5L180,212.2 176.1,210.4 171,215.7z"/>
<path fill="#4368fe" stroke="#4368fe" d="M169.9,222.8L175,217.5 171,215.7 165.9,221z"/>
<path fill="#465ffb" stroke="#465ffb" d="M164.8,228.1L169.9,222.8 165.9,221 160.8,226.3z"/>
<path fill="#4756f7" stroke="#4756f7" d="M159.7,233.5L164.8,228.1 160.8,226.3 155.8,231.7z"/>
<path fill="#484ef1" stroke="#484ef1" d="M154.6,238.9L159.7,233.5 155.8,231.7 150.7,237.2z"/>
<path fill="#4744e9" stroke="#4744e9" d="M149.5,244.3L154.6,238.9 150.7,237.2 145.6,242.6z"/>
<path fill="#463bde" stroke="#463bde" d="M144.4,249.8L149.5,244.3 145.6,242.6 140.5,248.2z"/>
<path fill="#4434ce" stroke="#4434ce" d="M139.3,255.4L144.4,249.8 140.5,248.2 135.4,253.8z"/>
<path fill="#412dbc" stroke="#412dbc" d="M134.2,261L139.3,255.4 135.4,253.8 130.3,259.4z"/>
<path fill="#3e26a8" stroke="#3e26a8" d="M129.1,266.7L134.2,261 130.3,259.4 125.2,265.1z"/>
<path fill="#f6e128" stroke="#f6e128" d="M377.5,53.9L382.6,51 378.6,48.3 373.5,51.3z"/>
<path fill="#f7dc2a" stroke="#f7dc2a" d="M372.4,56.8L377.5,53.9 373.5,51.3 368.4,54.3z"/>
<path fill="#f9d82c" stroke="#f9d82c" d="M367.3,59.8L372.4,56.8 368.4,54.3 363.4,57.3z"/>
<path fill="#fad42e" stroke="#fad42e" d="M362.2,62.8L367.3,59.8 363.4,57.3 358.3,60.4z"/>
<path fill="#fccf30" stroke="#fccf30" d="M357.1,65.9L362.2,62.8 358.3,60.4 353.2,63.5z"/>
<path fill="#fdcb33" stroke="#fdcb33" d="M352,69.1L357.1,65.9 353.2,63.5 348.1,66.7z"/>
<path fill="#fec636" stroke="#fec636" d="M346.9,72.3L352,69.1 348.1,66.7 343,70z"/>
<path fill="#fec239" stroke="#fec239" d="M341.8,75.6L346.9,72.3 343,70 337.9,73.3z"/>
<path fill="#fdbd3d" stroke="#fdbd3d" d="M336.7,78.9L341.8,75.6 337.9,73.3 332.8,76.7z"/>
<path fill="#f8ba3d" stroke="#f8ba3d" d="M331.6,82.4L336.7,78.9 332.8,76.7 327.7,80.1z"/>
<path fill="#f1ba37" stroke="#f1ba37" d="M326.5,85.9L331.6,82.4 327.7,80.1 322.6,83.7z"/>
<path fill="#e9bb30" stroke="#e9bb30" d="M321.5,89.5L326.5,85.9 322.6,83.7 317.5,87.3z"/>
<path fill="#e0bc2a" stroke="#e0bc2a" d="M316.4,93.2L321.5,89.5 317.5,87.3 312.4,91.1z"/>
<path fill="#d5be28" stroke="#d5be28" d="M311.3,97L316.4,93.2 312.4,91.1 307.3,94.9z"/>
<path fill="#cac129" stroke="#cac129" d="M306.2,100.9L311.3,97 307.3,94.9 302.3,98.8z"/>
<path fill="#bdc32e" stroke="#bdc32e" d="M301.1,104.9L306.2,100.9 302.3,98.8 297.2,102.8z"/>
<path fill="#afc637" stroke="#afc637" d="M296,109L301.1,104.9 297.2,102.8 292.1,106.9z"/>
<path fill="#9fc941" stroke="#9fc941" d="M290.9,113.1L296,109 292.1,106.9 287,111.1z"/>
<path fill="#8fcb4e" stroke="#8fcb4e" d="M285.8,117.4L290.9,113.1 287,111.1 281.9,115.3z"/>
<path fill="#7ecc5b" stroke="#7ecc5b" d="M280.7,121.7L285.8,117.4 281.9,115.3 276.8,119.7z"/>
<path fill="#6ccd68" stroke="#6ccd68" d="M275.6,126.1L280.7,121.7 276.8,119.7 271.7,124.1z"/>
<path fill="#5ccc76" stroke="#5ccc76" d="M270.5,130.6L275.6,126.1 271.7,124.1 266.6,128.6z"/>
<path fill="#4ccb83" stroke="#4ccb83" d="M265.4,135.2L270.5,130.6 266.6,128.6 261.5,133.1z"/>
<path fill="#3eca8f" stroke="#3eca8f" d="M260.4,139.8L265.4,135.2 261.5,133.1 256.4,137.8z"/>
<path fill="#35c79b" stroke="#35c79b" d="M255.3,144.5L260.4,139.8 256.4,137.8 251.3,142.4z"/>
<path fill="#2dc4a5" stroke="#2dc4a5" d="M250.2,149.2L255.3,144.5 251.3,142.4 246.2,147.2z"/>
<path fill="#23c1af" stroke="#23c1af" d="M245.1,154L250.2,149.2 246.2,147.2 241.2,152z"/>
<path fill="#12beb9" stroke="#12beb9" d="M240,158.8L245.1,154 241.2,152 236.1,156.8z"/>
<path fill="#03bbc2" stroke="#03bbc2" d="M234.9,163.7L240,158.8 236.1,156.8 231,161.7z"/>
<path fill="#02b7cb" stroke="#02b7cb" d="M229.8,168.6L234.9,163.7 231,161.7 225.9,166.6z"/>
<path fill="#0eb2d4" stroke="#0eb2d4" d="M224.7,173.5L229.8,168.6 225.9,166.6 220.8,171.5z"/>
<path fill="#18addb" stroke="#18addb" d="M219.6,178.5L224.7,173.5 220.8,171.5 215.7,176.5z"/>
<path fill="#1ea7e1" stroke="#1ea7e1" d="M214.5,183.5L219.6,178.5 215.7,176.5 210.6,181.5z"/>
<path fill="#23a1e5" stroke="#23a1e5" d="M209.4,188.5L214.5,183.5 210.6,181.5 205.5,186.5z"/>
<path fill="#269ae9" stroke="#269ae9" d="M204.3,193.6L209.4,188.5 205.5,186.5 200.4,191.6z"/>
<path fill="#2a92ee" stroke="#2a92ee" d="M199.3,198.7L204.3,193.6 200.4,191.6 195.3,196.7z"/>
<path fill="#2d8bf4" stroke="#2d8bf4" d="M194.2,203.8L199.3,198.7 195.3,196.7 190.2,201.9z"/>
<path fill="#2e83f9" stroke="#2e83f9" d="M189.1,208.9L194.2,203.8 190.2,201.9 185.1,207z"/>
<path fill="#337afd" stroke="#337afd" d="M184,214.1L189.1,208.9 185.1,207 180,212.2z"/>
<path fill="#3d71ff" stroke="#3d71ff" d="M178.9,219.3L184,214.1 180,212.2 175,217.5z"/>
<path fill="#4368fd" stroke="#4368fd" d="M173.8,224.6L178.9,219.3 175,217.5 169.9,222.8z"/>
<path fill="#465ffb" stroke="#465ffb" d="M168.7,229.9L173.8,224.6 169.9,222.8 164.8,228.1z"/>
<path fill="#4756f7" stroke="#4756f7" d="M163.6,235.2L168.7,229.9 164.8,228.1 159.7,233.5z"/>
<path fill="#484df0" stroke="#484df0" d="M158.5,240.6L163.6,235.2 159.7,233.5 154.6,238.9z"/>
<path fill="#4744e8" stroke="#4744e8" d="M153.4,246L158.5,240.6 154.6,238.9 149.5,244.3z"/>
<path fill="#463bdd" stroke="#463bdd" d="M148.3,251.5L153.4,246 149.5,244.3 144.4,249.8z"/>
<path fill="#4434ce" stroke="#4434ce" d="M143.2,257L148.3,251.5 144.4,249.8 139.3,255.4z"/>
<path fill="#412dbc" stroke="#412dbc" d="M138.1,262.6L143.2,257 139.3,255.4 134.2,261z"/>
<path fill="#3e26a8" stroke="#3e26a8" d="M133.1,268.2L138.1,262.6 134.2,261 129.1,266.7z"/>
<path fill="#f6de29" stroke="#f6de29" d="M381.4,56.5L386.5,53.7 382.6,51 377.5,53.9z"/>
<path fill="#f8da2b" stroke="#f8da2b" d="M376.3,59.5L381.4,56.5 377.5,53.9 372.4,56.8z"/>
<path fill="#fad62d" stroke="#fad62d" d="M371.2,62.4L376.3,59.5 372.4,56.8 367.3,59.8z"/>
<path fill="#fbd12f" stroke="#fbd12f" d="M366.1,65.4L371.2,62.4 367.3,59.8 362.2,62.8z"/>
<path fill="#fdcd32" stroke="#fdcd32" d="M361,68.5L366.1,65.4 362.2,62.8 357.1,65.9z"/>
<path fill="#fec934" stroke="#fec934" d="M355.9,71.6L361,68.5 357.1,65.9 352,69.1z"/>
<path fill="#fec437" stroke="#fec437" d="M350.8,74.7L355.9,71.6 352,69.1 346.9,72.3z"/>
<path fill="#fec03b" stroke="#fec03b" d="M345.7,78L350.8,74.7 346.9,72.3 341.8,75.6z"/>
<path fill="#fcbc3d" stroke="#fcbc3d" d="M340.7,81.3L345.7,78 341.8,75.6 336.7,78.9z"/>
<path fill="#f6ba3b" stroke="#f6ba3b" d="M335.6,84.7L340.7,81.3 336.7,78.9 331.6,82.4z"/>
<path fill="#efba35" stroke="#efba35" d="M330.5,88.2L335.6,84.7 331.6,82.4 326.5,85.9z"/>
<path fill="#e7bb2e" stroke="#e7bb2e" d="M325.4,91.7L330.5,88.2 326.5,85.9 321.5,89.5z"/>
<path fill="#ddbd29" stroke="#ddbd29" d="M320.3,95.4L325.4,91.7 321.5,89.5 316.4,93.2z"/>
<path fill="#d3bf27" stroke="#d3bf27" d="M315.2,99.2L320.3,95.4 316.4,93.2 311.3,97z"/>
<path fill="#c7c12a" stroke="#c7c12a" d="M310.1,103L315.2,99.2 311.3,97 306.2,100.9z"/>
<path fill="#bac430" stroke="#bac430" d="M305,107L310.1,103 306.2,100.9 301.1,104.9z"/>
<path fill="#acc738" stroke="#acc738" d="M299.9,111.1L305,107 301.1,104.9 296,109z"/>
<path fill="#9dc943" stroke="#9dc943" d="M294.8,115.2L299.9,111.1 296,109 290.9,113.1z"/>
<path fill="#8ccb50" stroke="#8ccb50" d="M289.7,119.5L294.8,115.2 290.9,113.1 285.8,117.4z"/>
<path fill="#7bcc5d" stroke="#7bcc5d" d="M284.6,123.8L289.7,119.5 285.8,117.4 280.7,121.7z"/>
<path fill="#6acd6a" stroke="#6acd6a" d="M279.6,128.2L284.6,123.8 280.7,121.7 275.6,126.1z"/>
<path fill="#59cc78" stroke="#59cc78" d="M274.5,132.7L279.6,128.2 275.6,126.1 270.5,130.6z"/>
<path fill="#49cb85" stroke="#49cb85" d="M269.4,137.3L274.5,132.7 270.5,130.6 265.4,135.2z"/>
<path fill="#3cc991" stroke="#3cc991" d="M264.3,141.9L269.4,137.3 265.4,135.2 260.4,139.8z"/>
<path fill="#33c79c" stroke="#33c79c" d="M259.2,146.6L264.3,141.9 260.4,139.8 255.3,144.5z"/>
<path fill="#2cc4a7" stroke="#2cc4a7" d="M254.1,151.3L259.2,146.6 255.3,144.5 250.2,149.2z"/>
<path fill="#20c1b1" stroke="#20c1b1" d="M249,156.1L254.1,151.3 250.2,149.2 245.1,154z"/>
<path fill="#10beba" stroke="#10beba" d="M243.9,160.9L249,156.1 245.1,154 240,158.8z"/>
<path fill="#02bac4" stroke="#02bac4" d="M238.8,165.8L243.9,160.9 240,158.8 234.9,163.7z"/>
<path fill="#04b6cd" stroke="#04b6cd" d="M233.7,170.7L238.8,165.8 234.9,163.7 229.8,168.6z"/>
<path fill="#10b2d5" stroke="#10b2d5" d="M228.6,175.6L233.7,170.7 229.8,168.6 224.7,173.5z"/>
<path fill="#19acdc" stroke="#19acdc" d="M223.5,180.5L228.6,175.6 224.7,173.5 219.6,178.5z"/>
<path fill="#1fa6e1" stroke="#1fa6e1" d="M218.5,185.5L223.5,180.5 219.6,178.5 214.5,183.5z"/>
<path fill="#23a0e5" stroke="#23a0e5" d="M213.4,190.5L218.5,185.5 214.5,183.5 209.4,188.5z"/>
<path fill="#2699e9" stroke="#2699e9" d="M208.3,195.6L213.4,190.5 209.4,188.5 204.3,193.6z"/>
<path fill="#2b92ee" stroke="#2b92ee" d="M203.2,200.6L208.3,195.6 204.3,193.6 199.3,198.7z"/>
<path fill="#2d8af4" stroke="#2d8af4" d="M198.1,205.7L203.2,200.6 199.3,198.7 194.2,203.8z"/>
<path fill="#2f82f9" stroke="#2f82f9" d="M193,210.8L198.1,205.7 194.2,203.8 189.1,208.9z"/>
<path fill="#3479fd" stroke="#3479fd" d="M187.9,216L193,210.8 189.1,208.9 184,214.1z"/>
<path fill="#3d70ff" stroke="#3d70ff" d="M182.8,221.2L187.9,216 184,214.1 178.9,219.3z"/>
<path fill="#4367fd" stroke="#4367fd" d="M177.7,226.4L182.8,221.2 178.9,219.3 173.8,224.6z"/>
<path fill="#465efb" stroke="#465efb" d="M172.6,231.7L177.7,226.4 173.8,224.6 168.7,229.9z"/>
<path fill="#4756f6" stroke="#4756f6" d="M167.5,237L172.6,231.7 168.7,229.9 163.6,235.2z"/>
<path fill="#484df0" stroke="#484df0" d="M162.4,242.4L167.5,237 163.6,235.2 158.5,240.6z"/>
<path fill="#4744e8" stroke="#4744e8" d="M157.4,247.8L162.4,242.4 158.5,240.6 153.4,246z"/>
<path fill="#463bdd" stroke="#463bdd" d="M152.3,253.2L157.4,247.8 153.4,246 148.3,251.5z"/>
<path fill="#4434ce" stroke="#4434ce" d="M147.2,258.7L152.3,253.2 148.3,251.5 143.2,257z"/>
<path fill="#412dbc" stroke="#412dbc" d="M142.1,264.2L147.2,258.7 143.2,257 138.1,262.6z"/>
<path fill="#3e26a8" stroke="#3e26a8" d="M137,269.8L142.1,264.2 138.1,262.6 133.1,268.2z"/>
<path fill="#f7db2b" stroke="#f7db2b" d="M385.3,59.3L390.4,56.5 386.5,53.7 381.4,56.5z"/>
<path fill="#f9d72c" stroke="#f9d72c" d="M380.2,62.2L385.3,59.3 381.4,56.5 376.3,59.5z"/>
<path fill="#fbd32e" stroke="#fbd32e" d="M375.1,65.1L380.2,62.2 376.3,59.5 371.2,62.4z"/>
<path fill="#fccf31" stroke="#fccf31" d="M370,68.1L375.1,65.1 371.2,62.4 366.1,65.4z"/>
<path fill="#fdcb33" stroke="#fdcb33" d="M365,71.1L370,68.1 366.1,65.4 361,68.5z"/>
<path fill="#fec636" stroke="#fec636" d="M359.9,74.1L365,71.1 361,68.5 355.9,71.6z"/>
<path fill="#fec239" stroke="#fec239" d="M354.8,77.3L359.9,74.1 355.9,71.6 350.8,74.7z"/>
<path fill="#febe3c" stroke="#febe3c" d="M349.7,80.5L354.8,77.3 350.8,74.7 345.7,78z"/>
<path fill="#fabb3d" stroke="#fabb3d" d="M344.6,83.7L349.7,80.5 345.7,78 340.7,81.3z"/>
<path fill="#f4ba39" stroke="#f4ba39" d="M339.5,87.1L344.6,83.7 340.7,81.3 335.6,84.7z"/>
<path fill="#ecba32" stroke="#ecba32" d="M334.4,90.5L339.5,87.1 335.6,84.7 330.5,88.2z"/>
<path fill="#e4bb2c" stroke="#e4bb2c" d="M329.3,94.1L334.4,90.5 330.5,88.2 325.4,91.7z"/>
<path fill="#dabd28" stroke="#dabd28" d="M324.2,97.7L329.3,94.1 325.4,91.7 320.3,95.4z"/>
<path fill="#d0bf27" stroke="#d0bf27" d="M319.1,101.4L324.2,97.7 320.3,95.4 315.2,99.2z"/>
<path fill="#c4c22b" stroke="#c4c22b" d="M314,105.3L319.1,101.4 315.2,99.2 310.1,103z"/>
<path fill="#b7c532" stroke="#b7c532" d="M308.9,109.2L314,105.3 310.1,103 305,107z"/>
<path fill="#a9c73b" stroke="#a9c73b" d="M303.8,113.3L308.9,109.2 305,107 299.9,111.1z"/>
<path fill="#99c946" stroke="#99c946" d="M298.8,117.4L303.8,113.3 299.9,111.1 294.8,115.2z"/>
<path fill="#89cb52" stroke="#89cb52" d="M293.7,121.6L298.8,117.4 294.8,115.2 289.7,119.5z"/>
<path fill="#78cc5f" stroke="#78cc5f" d="M288.6,126L293.7,121.6 289.7,119.5 284.6,123.8z"/>
<path fill="#67cd6d" stroke="#67cd6d" d="M283.5,130.4L288.6,126 284.6,123.8 279.6,128.2z"/>
<path fill="#57cc7a" stroke="#57cc7a" d="M278.4,134.8L283.5,130.4 279.6,128.2 274.5,132.7z"/>
<path fill="#47cb87" stroke="#47cb87" d="M273.3,139.4L278.4,134.8 274.5,132.7 269.4,137.3z"/>
<path fill="#3bc993" stroke="#3bc993" d="M268.2,144L273.3,139.4 269.4,137.3 264.3,141.9z"/>
<path fill="#32c69e" stroke="#32c69e" d="M263.1,148.7L268.2,144 264.3,141.9 259.2,146.6z"/>
<path fill="#2ac3a8" stroke="#2ac3a8" d="M258,153.4L263.1,148.7 259.2,146.6 254.1,151.3z"/>
<path fill="#1ec0b2" stroke="#1ec0b2" d="M252.9,158.2L258,153.4 254.1,151.3 249,156.1z"/>
<path fill="#0dbdbc" stroke="#0dbdbc" d="M247.8,163L252.9,158.2 249,156.1 243.9,160.9z"/>
<path fill="#02bac5" stroke="#02bac5" d="M242.7,167.9L247.8,163 243.9,160.9 238.8,165.8z"/>
<path fill="#05b6ce" stroke="#05b6ce" d="M237.7,172.8L242.7,167.9 238.8,165.8 233.7,170.7z"/>
<path fill="#12b1d6" stroke="#12b1d6" d="M232.6,177.7L237.7,172.8 233.7,170.7 228.6,175.6z"/>
<path fill="#1aacdd" stroke="#1aacdd" d="M227.5,182.6L232.6,177.7 228.6,175.6 223.5,180.5z"/>
<path fill="#1fa5e2" stroke="#1fa5e2" d="M222.4,187.6L227.5,182.6 223.5,180.5 218.5,185.5z"/>
<path fill="#249fe5" stroke="#249fe5" d="M217.3,192.6L222.4,187.6 218.5,185.5 213.4,190.5z"/>
<path fill="#2798ea" stroke="#2798ea" d="M212.2,197.6L217.3,192.6 213.4,190.5 208.3,195.6z"/>
<path fill="#2b91ef" stroke="#2b91ef" d="M207.1,202.7L212.2,197.6 208.3,195.6 203.2,200.6z"/>
<path fill="#2d89f5" stroke="#2d89f5" d="M202,207.7L207.1,202.7 203.2,200.6 198.1,205.7z"/>
<path fill="#2f81fa" stroke="#2f81fa" d="M196.9,212.8L202,207.7 198.1,205.7 193,210.8z"/>
<path fill="#3579fd" stroke="#3579fd" d="M191.8,217.9L196.9,212.8 193,210.8 187.9,216z"/>
<path fill="#3e6fff" stroke="#3e6fff" d="M186.7,223.1L191.8,217.9 187.9,216 182.8,221.2z"/>
<path fill="#4366fd" stroke="#4366fd" d="M181.6,228.3L186.7,223.1 182.8,221.2 177.7,226.4z"/>
<path fill="#465efb" stroke="#465efb" d="M176.6,233.5L181.6,228.3 177.7,226.4 172.6,231.7z"/>
<path fill="#4755f6" stroke="#4755f6" d="M171.5,238.8L176.6,233.5 172.6,231.7 167.5,237z"/>
<path fill="#484cf0" stroke="#484cf0" d="M166.4,244.1L171.5,238.8 167.5,237 162.4,242.4z"/>
<path fill="#4744e8" stroke="#4744e8" d="M161.3,249.5L166.4,244.1 162.4,242.4 157.4,247.8z"/>
<path fill="#463bdd" stroke="#463bdd" d="M156.2,254.9L161.3,249.5 157.4,247.8 152.3,253.2z"/>
<path fill="#4433cd" stroke="#4433cd" d="M151.1,260.3L156.2,254.9 152.3,253.2 147.2,258.7z"/>
<path fill="#412dbb" stroke="#412dbb" d="M146,265.8L151.1,260.3 147.2,258.7 142.1,264.2z"/>
<path fill="#3e26a8" stroke="#3e26a8" d="M140.9,271.4L146,265.8 142.1,264.2 137,269.8z"/>
<path fill="#f9d82c" stroke="#f9d82c" d="M389.2,62.3L394.3,59.5 390.4,56.5 385.3,59.3z"/>
<path fill="#fad42e" stroke="#fad42e" d="M384.2,65.1L389.2,62.3 385.3,59.3 380.2,62.2z"/>
<path fill="#fcd030" stroke="#fcd030" d="M379.1,68L384.2,65.1 380.2,62.2 375.1,65.1z"/>
<path fill="#fdcc32" stroke="#fdcc32" d="M374,70.9L379.1,68 375.1,65.1 370,68.1z"/>
<path fill="#fec835" stroke="#fec835" d="M368.9,73.8L374,70.9 370,68.1 365,71.1z"/>
<path fill="#fec438" stroke="#fec438" d="M363.8,76.8L368.9,73.8 365,71.1 359.9,74.1z"/>
<path fill="#fec03b" stroke="#fec03b" d="M358.7,79.9L363.8,76.8 359.9,74.1 354.8,77.3z"/>
<path fill="#fcbc3d" stroke="#fcbc3d" d="M353.6,83L358.7,79.9 354.8,77.3 349.7,80.5z"/>
<path fill="#f7ba3c" stroke="#f7ba3c" d="M348.5,86.3L353.6,83 349.7,80.5 344.6,83.7z"/>
<path fill="#f1ba36" stroke="#f1ba36" d="M343.4,89.6L348.5,86.3 344.6,83.7 339.5,87.1z"/>
<path fill="#e9bb30" stroke="#e9bb30" d="M338.3,93L343.4,89.6 339.5,87.1 334.4,90.5z"/>
<path fill="#e1bc2b" stroke="#e1bc2b" d="M333.2,96.5L338.3,93 334.4,90.5 329.3,94.1z"/>
<path fill="#d7be28" stroke="#d7be28" d="M328.1,100.1L333.2,96.5 329.3,94.1 324.2,97.7z"/>
<path fill="#ccc028" stroke="#ccc028" d="M323.1,103.8L328.1,100.1 324.2,97.7 319.1,101.4z"/>
<path fill="#c1c32c" stroke="#c1c32c" d="M318,107.6L323.1,103.8 319.1,101.4 314,105.3z"/>
<path fill="#b3c534" stroke="#b3c534" d="M312.9,111.5L318,107.6 314,105.3 308.9,109.2z"/>
<path fill="#a5c83d" stroke="#a5c83d" d="M307.8,115.5L312.9,111.5 308.9,109.2 303.8,113.3z"/>
<path fill="#96ca49" stroke="#96ca49" d="M302.7,119.7L307.8,115.5 303.8,113.3 298.8,117.4z"/>
<path fill="#85cb55" stroke="#85cb55" d="M297.6,123.9L302.7,119.7 298.8,117.4 293.7,121.6z"/>
<path fill="#74cc62" stroke="#74cc62" d="M292.5,128.2L297.6,123.9 293.7,121.6 288.6,126z"/>
<path fill="#63cd6f" stroke="#63cd6f" d="M287.4,132.6L292.5,128.2 288.6,126 283.5,130.4z"/>
<path fill="#54cc7d" stroke="#54cc7d" d="M282.3,137.1L287.4,132.6 283.5,130.4 278.4,134.8z"/>
<path fill="#44cb89" stroke="#44cb89" d="M277.2,141.6L282.3,137.1 278.4,134.8 273.3,139.4z"/>
<path fill="#39c895" stroke="#39c895" d="M272.1,146.2L277.2,141.6 273.3,139.4 268.2,144z"/>
<path fill="#31c6a0" stroke="#31c6a0" d="M267,150.9L272.1,146.2 268.2,144 263.1,148.7z"/>
<path fill="#28c3aa" stroke="#28c3aa" d="M261.9,155.7L267,150.9 263.1,148.7 258,153.4z"/>
<path fill="#1bc0b4" stroke="#1bc0b4" d="M256.9,160.4L261.9,155.7 258,153.4 252.9,158.2z"/>
<path fill="#0abdbd" stroke="#0abdbd" d="M251.8,165.2L256.9,160.4 252.9,158.2 247.8,163z"/>
<path fill="#01b9c6" stroke="#01b9c6" d="M246.7,170.1L251.8,165.2 247.8,163 242.7,167.9z"/>
<path fill="#07b5cf" stroke="#07b5cf" d="M241.6,175L246.7,170.1 242.7,167.9 237.7,172.8z"/>
<path fill="#13b0d7" stroke="#13b0d7" d="M236.5,179.9L241.6,175 237.7,172.8 232.6,177.7z"/>
<path fill="#1babde" stroke="#1babde" d="M231.4,184.8L236.5,179.9 232.6,177.7 227.5,182.6z"/>
<path fill="#20a5e3" stroke="#20a5e3" d="M226.3,189.7L231.4,184.8 227.5,182.6 222.4,187.6z"/>
<path fill="#249ee6" stroke="#249ee6" d="M221.2,194.7L226.3,189.7 222.4,187.6 217.3,192.6z"/>
<path fill="#2797eb" stroke="#2797eb" d="M216.1,199.7L221.2,194.7 217.3,192.6 212.2,197.6z"/>
<path fill="#2c90f0" stroke="#2c90f0" d="M211,204.7L216.1,199.7 212.2,197.6 207.1,202.7z"/>
<path fill="#2d88f6" stroke="#2d88f6" d="M205.9,209.7L211,204.7 207.1,202.7 202,207.7z"/>
<path fill="#2f80fa" stroke="#2f80fa" d="M200.8,214.8L205.9,209.7 202,207.7 196.9,212.8z"/>
<path fill="#3678fe" stroke="#3678fe" d="M195.8,219.9L200.8,214.8 196.9,212.8 191.8,217.9z"/>
<path fill="#3f6fff" stroke="#3f6fff" d="M190.7,225L195.8,219.9 191.8,217.9 186.7,223.1z"/>
<path fill="#4466fd" stroke="#4466fd" d="M185.6,230.2L190.7,225 186.7,223.1 181.6,228.3z"/>
<path fill="#465dfa" stroke="#465dfa" d="M180.5,235.4L185.6,230.2 181.6,228.3 176.6,233.5z"/>
<path fill="#4755f6" stroke="#4755f6" d="M175.4,240.6L180.5,235.4 176.6,233.5 171.5,238.8z"/>
<path fill="#484cef" stroke="#484cef" d="M170.3,245.9L175.4,240.6 171.5,238.8 166.4,244.1z"/>
<path fill="#4743e7" stroke="#4743e7" d="M165.2,251.2L170.3,245.9 166.4,244.1 161.3,249.5z"/>
<path fill="#463bdc" stroke="#463bdc" d="M160.1,256.6L165.2,251.2 161.3,249.5 156.2,254.9z"/>
<path fill="#4433cd" stroke="#4433cd" d="M155,262L160.1,256.6 156.2,254.9 151.1,260.3z"/>
<path fill="#412dbb" stroke="#412dbb" d="M149.9,267.5L155,262 151.1,260.3 146,265.8z"/>
<path fill="#3e26a8" stroke="#3e26a8" d="M144.8,273L149.9,267.5 146,265.8 140.9,271.4z"/>
<path fill="#fad42e" stroke="#fad42e" d="M393.2,65.3L398.3,62.6 394.3,59.5 389.2,62.3z"/>
<path fill="#fcd030" stroke="#fcd030" d="M388.1,68.1L393.2,65.3 389.2,62.3 384.2,65.1z"/>
<path fill="#fdcd32" stroke="#fdcd32" d="M383,70.9L388.1,68.1 384.2,65.1 379.1,68z"/>
<path fill="#fec934" stroke="#fec934" d="M377.9,73.8L383,70.9 379.1,68 374,70.9z"/>
<path fill="#fec537" stroke="#fec537" d="M372.8,76.7L377.9,73.8 374,70.9 368.9,73.8z"/>
<path fill="#fec13a" stroke="#fec13a" d="M367.7,79.6L372.8,76.7 368.9,73.8 363.8,76.8z"/>
<path fill="#febd3c" stroke="#febd3c" d="M362.6,82.7L367.7,79.6 363.8,76.8 358.7,79.9z"/>
<path fill="#f9bb3d" stroke="#f9bb3d" d="M357.5,85.8L362.6,82.7 358.7,79.9 353.6,83z"/>
<path fill="#f4ba39" stroke="#f4ba39" d="M352.4,88.9L357.5,85.8 353.6,83 348.5,86.3z"/>
<path fill="#edba33" stroke="#edba33" d="M347.3,92.2L352.4,88.9 348.5,86.3 343.4,89.6z"/>
<path fill="#e6bb2d" stroke="#e6bb2d" d="M342.3,95.5L347.3,92.2 343.4,89.6 338.3,93z"/>
<path fill="#ddbd29" stroke="#ddbd29" d="M337.2,99L342.3,95.5 338.3,93 333.2,96.5z"/>
<path fill="#d3bf27" stroke="#d3bf27" d="M332.1,102.6L337.2,99 333.2,96.5 328.1,100.1z"/>
<path fill="#c9c129" stroke="#c9c129" d="M327,106.2L332.1,102.6 328.1,100.1 323.1,103.8z"/>
<path fill="#bdc42f" stroke="#bdc42f" d="M321.9,110L327,106.2 323.1,103.8 318,107.6z"/>
<path fill="#afc636" stroke="#afc636" d="M316.8,113.9L321.9,110 318,107.6 312.9,111.5z"/>
<path fill="#a1c840" stroke="#a1c840" d="M311.7,117.9L316.8,113.9 312.9,111.5 307.8,115.5z"/>
<path fill="#92ca4c" stroke="#92ca4c" d="M306.6,122L311.7,117.9 307.8,115.5 302.7,119.7z"/>
<path fill="#81cc58" stroke="#81cc58" d="M301.5,126.2L306.6,122 302.7,119.7 297.6,123.9z"/>
<path fill="#70cd65" stroke="#70cd65" d="M296.4,130.5L301.5,126.2 297.6,123.9 292.5,128.2z"/>
<path fill="#60cd72" stroke="#60cd72" d="M291.3,134.9L296.4,130.5 292.5,128.2 287.4,132.6z"/>
<path fill="#50cc80" stroke="#50cc80" d="M286.2,139.4L291.3,134.9 287.4,132.6 282.3,137.1z"/>
<path fill="#41ca8c" stroke="#41ca8c" d="M281.2,143.9L286.2,139.4 282.3,137.1 277.2,141.6z"/>
<path fill="#37c898" stroke="#37c898" d="M276.1,148.5L281.2,143.9 277.2,141.6 272.1,146.2z"/>
<path fill="#2fc5a2" stroke="#2fc5a2" d="M271,153.2L276.1,148.5 272.1,146.2 267,150.9z"/>
<path fill="#26c2ac" stroke="#26c2ac" d="M265.9,157.9L271,153.2 267,150.9 261.9,155.7z"/>
<path fill="#18bfb6" stroke="#18bfb6" d="M260.8,162.7L265.9,157.9 261.9,155.7 256.9,160.4z"/>
<path fill="#08bcbf" stroke="#08bcbf" d="M255.7,167.5L260.8,162.7 256.9,160.4 251.8,165.2z"/>
<path fill="#01b8c8" stroke="#01b8c8" d="M250.6,172.4L255.7,167.5 251.8,165.2 246.7,170.1z"/>
<path fill="#09b4d1" stroke="#09b4d1" d="M245.5,177.2L250.6,172.4 246.7,170.1 241.6,175z"/>
<path fill="#15afd9" stroke="#15afd9" d="M240.4,182.1L245.5,177.2 241.6,175 236.5,179.9z"/>
<path fill="#1caadf" stroke="#1caadf" d="M235.3,187L240.4,182.1 236.5,179.9 231.4,184.8z"/>
<path fill="#21a3e3" stroke="#21a3e3" d="M230.2,191.9L235.3,187 231.4,184.8 226.3,189.7z"/>
<path fill="#259de7" stroke="#259de7" d="M225.1,196.9L230.2,191.9 226.3,189.7 221.2,194.7z"/>
<path fill="#2896eb" stroke="#2896eb" d="M220,201.8L225.1,196.9 221.2,194.7 216.1,199.7z"/>
<path fill="#2c8ff1" stroke="#2c8ff1" d="M215,206.8L220,201.8 216.1,199.7 211,204.7z"/>
<path fill="#2d87f7" stroke="#2d87f7" d="M209.9,211.8L215,206.8 211,204.7 205.9,209.7z"/>
<path fill="#307ffb" stroke="#307ffb" d="M204.8,216.9L209.9,211.8 205.9,209.7 200.8,214.8z"/>
<path fill="#3777fe" stroke="#3777fe" d="M199.7,221.9L204.8,216.9 200.8,214.8 195.8,219.9z"/>
<path fill="#3f6efe" stroke="#3f6efe" d="M194.6,227L199.7,221.9 195.8,219.9 190.7,225z"/>
<path fill="#4465fd" stroke="#4465fd" d="M189.5,232.1L194.6,227 190.7,225 185.6,230.2z"/>
<path fill="#475cfa" stroke="#475cfa" d="M184.4,237.3L189.5,232.1 185.6,230.2 180.5,235.4z"/>
<path fill="#4854f5" stroke="#4854f5" d="M179.3,242.5L184.4,237.3 180.5,235.4 175.4,240.6z"/>
<path fill="#484bef" stroke="#484bef" d="M174.2,247.7L179.3,242.5 175.4,240.6 170.3,245.9z"/>
<path fill="#4743e7" stroke="#4743e7" d="M169.1,253L174.2,247.7 170.3,245.9 165.2,251.2z"/>
<path fill="#463adc" stroke="#463adc" d="M164,258.3L169.1,253 165.2,251.2 160.1,256.6z"/>
<path fill="#4433cd" stroke="#4433cd" d="M158.9,263.7L164,258.3 160.1,256.6 155,262z"/>
<path fill="#412dbb" stroke="#412dbb" d="M153.9,269.1L158.9,263.7 155,262 149.9,267.5z"/>
<path fill="#3e26a8" stroke="#3e26a8" d="M148.8,274.5L153.9,269.1 149.9,267.5 144.8,273z"/>
<path fill="#fcd030" stroke="#fcd030" d="M397.1,68.6L402.2,65.9 398.3,62.6 393.2,65.3z"/>
<path fill="#fdcd32" stroke="#fdcd32" d="M392,71.3L397.1,68.6 393.2,65.3 388.1,68.1z"/>
<path fill="#fec934" stroke="#fec934" d="M386.9,74L392,71.3 388.1,68.1 383,70.9z"/>
<path fill="#fec536" stroke="#fec536" d="M381.8,76.8L386.9,74 383,70.9 377.9,73.8z"/>
<path fill="#fec239" stroke="#fec239" d="M376.7,79.7L381.8,76.8 377.9,73.8 372.8,76.7z"/>
<path fill="#febe3c" stroke="#febe3c" d="M371.6,82.6L376.7,79.7 372.8,76.7 367.7,79.6z"/>
<path fill="#fbbc3d" stroke="#fbbc3d" d="M366.5,85.6L371.6,82.6 367.7,79.6 362.6,82.7z"/>
<path fill="#f6ba3b" stroke="#f6ba3b" d="M361.5,88.6L366.5,85.6 362.6,82.7 357.5,85.8z"/>
<path fill="#f0ba36" stroke="#f0ba36" d="M356.4,91.7L361.5,88.6 357.5,85.8 352.4,88.9z"/>
<path fill="#e9bb30" stroke="#e9bb30" d="M351.3,94.9L356.4,91.7 352.4,88.9 347.3,92.2z"/>
<path fill="#e1bc2b" stroke="#e1bc2b" d="M346.2,98.2L351.3,94.9 347.3,92.2 342.3,95.5z"/>
<path fill="#d9be28" stroke="#d9be28" d="M341.1,101.6L346.2,98.2 342.3,95.5 337.2,99z"/>
<path fill="#cfc028" stroke="#cfc028" d="M336,105.1L341.1,101.6 337.2,99 332.1,102.6z"/>
<path fill="#c4c22b" stroke="#c4c22b" d="M330.9,108.8L336,105.1 332.1,102.6 327,106.2z"/>
<path fill="#b8c431" stroke="#b8c431" d="M325.8,112.5L330.9,108.8 327,106.2 321.9,110z"/>
<path fill="#abc739" stroke="#abc739" d="M320.7,116.4L325.8,112.5 321.9,110 316.8,113.9z"/>
<path fill="#9cc943" stroke="#9cc943" d="M315.6,120.4L320.7,116.4 316.8,113.9 311.7,117.9z"/>
<path fill="#8dcb4f" stroke="#8dcb4f" d="M310.5,124.4L315.6,120.4 311.7,117.9 306.6,122z"/>
<path fill="#7dcc5c" stroke="#7dcc5c" d="M305.4,128.6L310.5,124.4 306.6,122 301.5,126.2z"/>
<path fill="#6ccd69" stroke="#6ccd69" d="M300.4,132.9L305.4,128.6 301.5,126.2 296.4,130.5z"/>
<path fill="#5ccc76" stroke="#5ccc76" d="M295.3,137.3L300.4,132.9 296.4,130.5 291.3,134.9z"/>
<path fill="#4ccb83" stroke="#4ccb83" d="M290.2,141.8L295.3,137.3 291.3,134.9 286.2,139.4z"/>
<path fill="#3eca8f" stroke="#3eca8f" d="M285.1,146.3L290.2,141.8 286.2,139.4 281.2,143.9z"/>
<path fill="#35c79a" stroke="#35c79a" d="M280,150.9L285.1,146.3 281.2,143.9 276.1,148.5z"/>
<path fill="#2ec4a5" stroke="#2ec4a5" d="M274.9,155.6L280,150.9 276.1,148.5 271,153.2z"/>
<path fill="#24c1ae" stroke="#24c1ae" d="M269.8,160.3L274.9,155.6 271,153.2 265.9,157.9z"/>
<path fill="#14bfb8" stroke="#14bfb8" d="M264.7,165.1L269.8,160.3 265.9,157.9 260.8,162.7z"/>
<path fill="#05bbc1" stroke="#05bbc1" d="M259.6,169.9L264.7,165.1 260.8,162.7 255.7,167.5z"/>
<path fill="#01b8ca" stroke="#01b8ca" d="M254.5,174.7L259.6,169.9 255.7,167.5 250.6,172.4z"/>
<path fill="#0bb3d2" stroke="#0bb3d2" d="M249.4,179.5L254.5,174.7 250.6,172.4 245.5,177.2z"/>
<path fill="#17aeda" stroke="#17aeda" d="M244.3,184.4L249.4,179.5 245.5,177.2 240.4,182.1z"/>
<path fill="#1da9e0" stroke="#1da9e0" d="M239.3,189.3L244.3,184.4 240.4,182.1 235.3,187z"/>
<path fill="#22a2e4" stroke="#22a2e4" d="M234.2,194.2L239.3,189.3 235.3,187 230.2,191.9z"/>
<path fill="#259ce7" stroke="#259ce7" d="M229.1,199.1L234.2,194.2 230.2,191.9 225.1,196.9z"/>
<path fill="#2895ec" stroke="#2895ec" d="M224,204L229.1,199.1 225.1,196.9 220,201.8z"/>
<path fill="#2c8ef2" stroke="#2c8ef2" d="M218.9,209L224,204 220,201.8 215,206.8z"/>
<path fill="#2e86f7" stroke="#2e86f7" d="M213.8,214L218.9,209 215,206.8 209.9,211.8z"/>
<path fill="#317efb" stroke="#317efb" d="M208.7,218.9L213.8,214 209.9,211.8 204.8,216.9z"/>
<path fill="#3876fe" stroke="#3876fe" d="M203.6,224L208.7,218.9 204.8,216.9 199.7,221.9z"/>
<path fill="#406dfe" stroke="#406dfe" d="M198.5,229L203.6,224 199.7,221.9 194.6,227z"/>
<path fill="#4464fd" stroke="#4464fd" d="M193.4,234.1L198.5,229 194.6,227 189.5,232.1z"/>
<path fill="#475cfa" stroke="#475cfa" d="M188.3,239.2L193.4,234.1 189.5,232.1 184.4,237.3z"/>
<path fill="#4853f5" stroke="#4853f5" d="M183.2,244.4L188.3,239.2 184.4,237.3 179.3,242.5z"/>
<path fill="#484bef" stroke="#484bef" d="M178.1,249.5L183.2,244.4 179.3,242.5 174.2,247.7z"/>
<path fill="#4742e6" stroke="#4742e6" d="M173.1,254.8L178.1,249.5 174.2,247.7 169.1,253z"/>
<path fill="#463adb" stroke="#463adb" d="M168,260L173.1,254.8 169.1,253 164,258.3z"/>
<path fill="#4433cc" stroke="#4433cc" d="M162.9,265.3L168,260 164,258.3 158.9,263.7z"/>
<path fill="#412dbb" stroke="#412dbb" d="M157.8,270.7L162.9,265.3 158.9,263.7 153.9,269.1z"/>
<path fill="#3e26a8" stroke="#3e26a8" d="M152.7,276.1L157.8,270.7 153.9,269.1 148.8,274.5z"/>
<path fill="#fdcc32" stroke="#fdcc32" d="M401,71.9L406.1,69.3 402.2,65.9 397.1,68.6z"/>
<path fill="#fec934" stroke="#fec934" d="M395.9,74.6L401,71.9 397.1,68.6 392,71.3z"/>
<path fill="#fec537" stroke="#fec537" d="M390.8,77.3L395.9,74.6 392,71.3 386.9,74z"/>
<path fill="#fec239" stroke="#fec239" d="M385.7,80.1L390.8,77.3 386.9,74 381.8,76.8z"/>
<path fill="#febe3c" stroke="#febe3c" d="M380.7,82.9L385.7,80.1 381.8,76.8 376.7,79.7z"/>
<path fill="#fbbc3d" stroke="#fbbc3d" d="M375.6,85.7L380.7,82.9 376.7,79.7 371.6,82.6z"/>
<path fill="#f7ba3c" stroke="#f7ba3c" d="M370.5,88.6L375.6,85.7 371.6,82.6 366.5,85.6z"/>
<path fill="#f2ba37" stroke="#f2ba37" d="M365.4,91.6L370.5,88.6 366.5,85.6 361.5,88.6z"/>
<path fill="#ebba32" stroke="#ebba32" d="M360.3,94.6L365.4,91.6 361.5,88.6 356.4,91.7z"/>
<path fill="#e5bb2c" stroke="#e5bb2c" d="M355.2,97.8L360.3,94.6 356.4,91.7 351.3,94.9z"/>
<path fill="#ddbd29" stroke="#ddbd29" d="M350.1,101L355.2,97.8 351.3,94.9 346.2,98.2z"/>
<path fill="#d4bf28" stroke="#d4bf28" d="M345,104.4L350.1,101 346.2,98.2 341.1,101.6z"/>
<path fill="#cac129" stroke="#cac129" d="M339.9,107.9L345,104.4 341.1,101.6 336,105.1z"/>
<path fill="#bfc32d" stroke="#bfc32d" d="M334.8,111.4L339.9,107.9 336,105.1 330.9,108.8z"/>
<path fill="#b3c534" stroke="#b3c534" d="M329.7,115.2L334.8,111.4 330.9,108.8 325.8,112.5z"/>
<path fill="#a5c83d" stroke="#a5c83d" d="M324.6,119L329.7,115.2 325.8,112.5 320.7,116.4z"/>
<path fill="#97ca48" stroke="#97ca48" d="M319.6,122.9L324.6,119 320.7,116.4 315.6,120.4z"/>
<path fill="#88cb53" stroke="#88cb53" d="M314.5,127L319.6,122.9 315.6,120.4 310.5,124.4z"/>
<path fill="#77cc60" stroke="#77cc60" d="M309.4,131.2L314.5,127 310.5,124.4 305.4,128.6z"/>
<path fill="#67cd6d" stroke="#67cd6d" d="M304.3,135.4L309.4,131.2 305.4,128.6 300.4,132.9z"/>
<path fill="#57cc7a" stroke="#57cc7a" d="M299.2,139.8L304.3,135.4 300.4,132.9 295.3,137.3z"/>
<path fill="#48cb86" stroke="#48cb86" d="M294.1,144.3L299.2,139.8 295.3,137.3 290.2,141.8z"/>
<path fill="#3cc992" stroke="#3cc992" d="M289,148.8L294.1,144.3 290.2,141.8 285.1,146.3z"/>
<path fill="#33c69d" stroke="#33c69d" d="M283.9,153.4L289,148.8 285.1,146.3 280,150.9z"/>
<path fill="#2cc4a7" stroke="#2cc4a7" d="M278.8,158.1L283.9,153.4 280,150.9 274.9,155.6z"/>
<path fill="#20c1b1" stroke="#20c1b1" d="M273.7,162.8L278.8,158.1 274.9,155.6 269.8,160.3z"/>
<path fill="#10beba" stroke="#10beba" d="M268.6,167.5L273.7,162.8 269.8,160.3 264.7,165.1z"/>
<path fill="#02bac3" stroke="#02bac3" d="M263.5,172.3L268.6,167.5 264.7,165.1 259.6,169.9z"/>
<path fill="#03b7cc" stroke="#03b7cc" d="M258.5,177.1L263.5,172.3 259.6,169.9 254.5,174.7z"/>
<path fill="#0fb2d4" stroke="#0fb2d4" d="M253.4,181.9L258.5,177.1 254.5,174.7 249.4,179.5z"/>
<path fill="#19addc" stroke="#19addc" d="M248.3,186.8L253.4,181.9 249.4,179.5 244.3,184.4z"/>
<path fill="#1ea7e1" stroke="#1ea7e1" d="M243.2,191.6L248.3,186.8 244.3,184.4 239.3,189.3z"/>
<path fill="#23a1e4" stroke="#23a1e4" d="M238.1,196.5L243.2,191.6 239.3,189.3 234.2,194.2z"/>
<path fill="#269ae8" stroke="#269ae8" d="M233,201.4L238.1,196.5 234.2,194.2 229.1,199.1z"/>
<path fill="#2994ed" stroke="#2994ed" d="M227.9,206.3L233,201.4 229.1,199.1 224,204z"/>
<path fill="#2d8cf3" stroke="#2d8cf3" d="M222.8,211.2L227.9,206.3 224,204 218.9,209z"/>
<path fill="#2e85f8" stroke="#2e85f8" d="M217.7,216.1L222.8,211.2 218.9,209 213.8,214z"/>
<path fill="#317dfc" stroke="#317dfc" d="M212.6,221.1L217.7,216.1 213.8,214 208.7,218.9z"/>
<path fill="#3974fe" stroke="#3974fe" d="M207.5,226.1L212.6,221.1 208.7,218.9 203.6,224z"/>
<path fill="#416cfe" stroke="#416cfe" d="M202.4,231.1L207.5,226.1 203.6,224 198.5,229z"/>
<path fill="#4563fd" stroke="#4563fd" d="M197.4,236.1L202.4,231.1 198.5,229 193.4,234.1z"/>
<path fill="#475bf9" stroke="#475bf9" d="M192.3,241.2L197.4,236.1 193.4,234.1 188.3,239.2z"/>
<path fill="#4853f5" stroke="#4853f5" d="M187.2,246.3L192.3,241.2 188.3,239.2 183.2,244.4z"/>
<path fill="#484aee" stroke="#484aee" d="M182.1,251.4L187.2,246.3 183.2,244.4 178.1,249.5z"/>
<path fill="#4742e6" stroke="#4742e6" d="M177,256.6L182.1,251.4 178.1,249.5 173.1,254.8z"/>
<path fill="#463adb" stroke="#463adb" d="M171.9,261.8L177,256.6 173.1,254.8 168,260z"/>
<path fill="#4433cc" stroke="#4433cc" d="M166.8,267L171.9,261.8 168,260 162.9,265.3z"/>
<path fill="#412cbb" stroke="#412cbb" d="M161.7,272.3L166.8,267 162.9,265.3 157.8,270.7z"/>
<path fill="#3e26a8" stroke="#3e26a8" d="M156.6,277.7L161.7,272.3 157.8,270.7 152.7,276.1z"/>
<path fill="#fec735" stroke="#fec735" d="M405,75.5L410,72.9 406.1,69.3 401,71.9z"/>
<path fill="#fec437" stroke="#fec437" d="M399.9,78.1L405,75.5 401,71.9 395.9,74.6z"/>
<path fill="#fec13a" stroke="#fec13a" d="M394.8,80.8L399.9,78.1 395.9,74.6 390.8,77.3z"/>
<path fill="#febe3c" stroke="#febe3c" d="M389.7,83.5L394.8,80.8 390.8,77.3 385.7,80.1z"/>
<path fill="#fbbc3d" stroke="#fbbc3d" d="M384.6,86.2L389.7,83.5 385.7,80.1 380.7,82.9z"/>
<path fill="#f7ba3c" stroke="#f7ba3c" d="M379.5,89L384.6,86.2 380.7,82.9 375.6,85.7z"/>
<path fill="#f2ba38" stroke="#f2ba38" d="M374.4,91.8L379.5,89 375.6,85.7 370.5,88.6z"/>
<path fill="#ecba33" stroke="#ecba33" d="M369.3,94.7L374.4,91.8 370.5,88.6 365.4,91.6z"/>
<path fill="#e6bb2d" stroke="#e6bb2d" d="M364.2,97.7L369.3,94.7 365.4,91.6 360.3,94.6z"/>
<path fill="#dfbc2a" stroke="#dfbc2a" d="M359.1,100.8L364.2,97.7 360.3,94.6 355.2,97.8z"/>
<path fill="#d7be28" stroke="#d7be28" d="M354,104L359.1,100.8 355.2,97.8 350.1,101z"/>
<path fill="#cec028" stroke="#cec028" d="M348.9,107.3L354,104 350.1,101 345,104.4z"/>
<path fill="#c4c22b" stroke="#c4c22b" d="M343.8,110.7L348.9,107.3 345,104.4 339.9,107.9z"/>
<path fill="#b9c430" stroke="#b9c430" d="M338.8,114.3L343.8,110.7 339.9,107.9 334.8,111.4z"/>
<path fill="#adc638" stroke="#adc638" d="M333.7,117.9L338.8,114.3 334.8,111.4 329.7,115.2z"/>
<path fill="#9fc941" stroke="#9fc941" d="M328.6,121.7L333.7,117.9 329.7,115.2 324.6,119z"/>
<path fill="#91ca4c" stroke="#91ca4c" d="M323.5,125.6L328.6,121.7 324.6,119 319.6,122.9z"/>
<path fill="#82cc58" stroke="#82cc58" d="M318.4,129.7L323.5,125.6 319.6,122.9 314.5,127z"/>
<path fill="#71cd64" stroke="#71cd64" d="M313.3,133.8L318.4,129.7 314.5,127 309.4,131.2z"/>
<path fill="#61cd71" stroke="#61cd71" d="M308.2,138.1L313.3,133.8 309.4,131.2 304.3,135.4z"/>
<path fill="#52cc7e" stroke="#52cc7e" d="M303.1,142.4L308.2,138.1 304.3,135.4 299.2,139.8z"/>
<path fill="#44cb8a" stroke="#44cb8a" d="M298,146.9L303.1,142.4 299.2,139.8 294.1,144.3z"/>
<path fill="#39c895" stroke="#39c895" d="M292.9,151.4L298,146.9 294.1,144.3 289,148.8z"/>
<path fill="#31c6a0" stroke="#31c6a0" d="M287.8,156L292.9,151.4 289,148.8 283.9,153.4z"/>
<path fill="#29c3aa" stroke="#29c3aa" d="M282.7,160.6L287.8,156 283.9,153.4 278.8,158.1z"/>
<path fill="#1cc0b3" stroke="#1cc0b3" d="M277.7,165.3L282.7,160.6 278.8,158.1 273.7,162.8z"/>
<path fill="#0bbdbd" stroke="#0bbdbd" d="M272.6,170.1L277.7,165.3 273.7,162.8 268.6,167.5z"/>
<path fill="#01b9c6" stroke="#01b9c6" d="M267.5,174.8L272.6,170.1 268.6,167.5 263.5,172.3z"/>
<path fill="#06b6ce" stroke="#06b6ce" d="M262.4,179.6L267.5,174.8 263.5,172.3 258.5,177.1z"/>
<path fill="#12b1d6" stroke="#12b1d6" d="M257.3,184.4L262.4,179.6 258.5,177.1 253.4,181.9z"/>
<path fill="#1aacdd" stroke="#1aacdd" d="M252.2,189.3L257.3,184.4 253.4,181.9 248.3,186.8z"/>
<path fill="#1fa6e2" stroke="#1fa6e2" d="M247.1,194.1L252.2,189.3 248.3,186.8 243.2,191.6z"/>
<path fill="#239fe5" stroke="#239fe5" d="M242,198.9L247.1,194.1 243.2,191.6 238.1,196.5z"/>
<path fill="#2699e9" stroke="#2699e9" d="M236.9,203.8L242,198.9 238.1,196.5 233,201.4z"/>
<path fill="#2a92ee" stroke="#2a92ee" d="M231.8,208.6L236.9,203.8 233,201.4 227.9,206.3z"/>
<path fill="#2d8bf4" stroke="#2d8bf4" d="M226.7,213.5L231.8,208.6 227.9,206.3 222.8,211.2z"/>
<path fill="#2e84f9" stroke="#2e84f9" d="M221.6,218.4L226.7,213.5 222.8,211.2 217.7,216.1z"/>
<path fill="#327cfc" stroke="#327cfc" d="M216.6,223.3L221.6,218.4 217.7,216.1 212.6,221.1z"/>
<path fill="#3b73fe" stroke="#3b73fe" d="M211.5,228.2L216.6,223.3 212.6,221.1 207.5,226.1z"/>
<path fill="#416afe" stroke="#416afe" d="M206.4,233.2L211.5,228.2 207.5,226.1 202.4,231.1z"/>
<path fill="#4562fc" stroke="#4562fc" d="M201.3,238.1L206.4,233.2 202.4,231.1 197.4,236.1z"/>
<path fill="#475af9" stroke="#475af9" d="M196.2,243.1L201.3,238.1 197.4,236.1 192.3,241.2z"/>
<path fill="#4852f4" stroke="#4852f4" d="M191.1,248.2L196.2,243.1 192.3,241.2 187.2,246.3z"/>
<path fill="#484aee" stroke="#484aee" d="M186,253.3L191.1,248.2 187.2,246.3 182.1,251.4z"/>
<path fill="#4741e5" stroke="#4741e5" d="M180.9,258.4L186,253.3 182.1,251.4 177,256.6z"/>
<path fill="#4639da" stroke="#4639da" d="M175.8,263.5L180.9,258.4 177,256.6 171.9,261.8z"/>
<path fill="#4433cb" stroke="#4433cb" d="M170.7,268.7L175.8,263.5 171.9,261.8 166.8,267z"/>
<path fill="#412cba" stroke="#412cba" d="M165.6,274L170.7,268.7 166.8,267 161.7,272.3z"/>
<path fill="#3e26a8" stroke="#3e26a8" d="M160.5,279.3L165.6,274 161.7,272.3 156.6,277.7z"/>
<path fill="#fec339" stroke="#fec339" d="M408.9,79.3L414,76.8 410,72.9 405,75.5z"/>
<path fill="#fec03b" stroke="#fec03b" d="M403.8,81.9L408.9,79.3 405,75.5 399.9,78.1z"/>
<path fill="#fdbd3d" stroke="#fdbd3d" d="M398.7,84.4L403.8,81.9 399.9,78.1 394.8,80.8z"/>
<path fill="#fabb3d" stroke="#fabb3d" d="M393.6,87.1L398.7,84.4 394.8,80.8 389.7,83.5z"/>
<path fill="#f6ba3b" stroke="#f6ba3b" d="M388.5,89.7L393.6,87.1 389.7,83.5 384.6,86.2z"/>
<path fill="#f1ba37" stroke="#f1ba37" d="M383.4,92.4L388.5,89.7 384.6,86.2 379.5,89z"/>
<path fill="#ecba32" stroke="#ecba32" d="M378.3,95.2L383.4,92.4 379.5,89 374.4,91.8z"/>
<path fill="#e6bb2d" stroke="#e6bb2d" d="M373.2,98L378.3,95.2 374.4,91.8 369.3,94.7z"/>
<path fill="#e0bc2a" stroke="#e0bc2a" d="M368.1,101L373.2,98 369.3,94.7 364.2,97.7z"/>
<path fill="#d9be28" stroke="#d9be28" d="M363.1,104L368.1,101 364.2,97.7 359.1,100.8z"/>
<path fill="#d1bf27" stroke="#d1bf27" d="M358,107.1L363.1,104 359.1,100.8 354,104z"/>
<path fill="#c7c129" stroke="#c7c129" d="M352.9,110.4L358,107.1 354,104 348.9,107.3z"/>
<path fill="#bdc32e" stroke="#bdc32e" d="M347.8,113.7L352.9,110.4 348.9,107.3 343.8,110.7z"/>
<path fill="#b2c535" stroke="#b2c535" d="M342.7,117.2L347.8,113.7 343.8,110.7 338.8,114.3z"/>
<path fill="#a6c83d" stroke="#a6c83d" d="M337.6,120.8L342.7,117.2 338.8,114.3 333.7,117.9z"/>
<path fill="#98c946" stroke="#98c946" d="M332.5,124.6L337.6,120.8 333.7,117.9 328.6,121.7z"/>
<path fill="#8acb52" stroke="#8acb52" d="M327.4,128.5L332.5,124.6 328.6,121.7 323.5,125.6z"/>
<path fill="#7bcc5d" stroke="#7bcc5d" d="M322.3,132.5L327.4,128.5 323.5,125.6 318.4,129.7z"/>
<path fill="#6bcd69" stroke="#6bcd69" d="M317.2,136.6L322.3,132.5 318.4,129.7 313.3,133.8z"/>
<path fill="#5ccc76" stroke="#5ccc76" d="M312.1,140.8L317.2,136.6 313.3,133.8 308.2,138.1z"/>
<path fill="#4dcb82" stroke="#4dcb82" d="M307,145.2L312.1,140.8 308.2,138.1 303.1,142.4z"/>
<path fill="#3fca8e" stroke="#3fca8e" d="M301.9,149.6L307,145.2 303.1,142.4 298,146.9z"/>
<path fill="#36c799" stroke="#36c799" d="M296.9,154.1L301.9,149.6 298,146.9 292.9,151.4z"/>
<path fill="#2fc5a3" stroke="#2fc5a3" d="M291.8,158.7L296.9,154.1 292.9,151.4 287.8,156z"/>
<path fill="#25c2ad" stroke="#25c2ad" d="M286.7,163.3L291.8,158.7 287.8,156 282.7,160.6z"/>
<path fill="#17bfb6" stroke="#17bfb6" d="M281.6,168L286.7,163.3 282.7,160.6 277.7,165.3z"/>
<path fill="#07bcbf" stroke="#07bcbf" d="M276.5,172.7L281.6,168 277.7,165.3 272.6,170.1z"/>
<path fill="#01b8c8" stroke="#01b8c8" d="M271.4,177.5L276.5,172.7 272.6,170.1 267.5,174.8z"/>
<path fill="#08b4d1" stroke="#08b4d1" d="M266.3,182.2L271.4,177.5 267.5,174.8 262.4,179.6z"/>
<path fill="#14b0d8" stroke="#14b0d8" d="M261.2,187L266.3,182.2 262.4,179.6 257.3,184.4z"/>
<path fill="#1baade" stroke="#1baade" d="M256.1,191.8L261.2,187 257.3,184.4 252.2,189.3z"/>
<path fill="#20a4e3" stroke="#20a4e3" d="M251,196.6L256.1,191.8 252.2,189.3 247.1,194.1z"/>
<path fill="#249ee6" stroke="#249ee6" d="M245.9,201.4L251,196.6 247.1,194.1 242,198.9z"/>
<path fill="#2797ea" stroke="#2797ea" d="M240.8,206.2L245.9,201.4 242,198.9 236.9,203.8z"/>
<path fill="#2b91ef" stroke="#2b91ef" d="M235.8,211L240.8,206.2 236.9,203.8 231.8,208.6z"/>
<path fill="#2d89f5" stroke="#2d89f5" d="M230.7,215.9L235.8,211 231.8,208.6 226.7,213.5z"/>
<path fill="#2f82f9" stroke="#2f82f9" d="M225.6,220.7L230.7,215.9 226.7,213.5 221.6,218.4z"/>
<path fill="#347afd" stroke="#347afd" d="M220.5,225.5L225.6,220.7 221.6,218.4 216.6,223.3z"/>
<path fill="#3c72ff" stroke="#3c72ff" d="M215.4,230.4L220.5,225.5 216.6,223.3 211.5,228.2z"/>
<path fill="#4269fe" stroke="#4269fe" d="M210.3,235.3L215.4,230.4 211.5,228.2 206.4,233.2z"/>
<path fill="#4561fc" stroke="#4561fc" d="M205.2,240.2L210.3,235.3 206.4,233.2 201.3,238.1z"/>
<path fill="#4759f8" stroke="#4759f8" d="M200.1,245.2L205.2,240.2 201.3,238.1 196.2,243.1z"/>
<path fill="#4851f3" stroke="#4851f3" d="M195,250.2L200.1,245.2 196.2,243.1 191.1,248.2z"/>
<path fill="#4849ed" stroke="#4849ed" d="M189.9,255.2L195,250.2 191.1,248.2 186,253.3z"/>
<path fill="#4741e5" stroke="#4741e5" d="M184.8,260.2L189.9,255.2 186,253.3 180.9,258.4z"/>
<path fill="#4639d9" stroke="#4639d9" d="M179.7,265.3L184.8,260.2 180.9,258.4 175.8,263.5z"/>
<path fill="#4332cb" stroke="#4332cb" d="M174.7,270.4L179.7,265.3 175.8,263.5 170.7,268.7z"/>
<path fill="#412cba" stroke="#412cba" d="M169.6,275.6L174.7,270.4 170.7,268.7 165.6,274z"/>
<path fill="#3e26a8" stroke="#3e26a8" d="M164.5,280.8L169.6,275.6 165.6,274 160.5,279.3z"/>
<path fill="#febd3c" stroke="#febd3c" d="M412.8,83.3L417.9,80.8 414,76.8 408.9,79.3z"/>
<path fill="#fbbc3d" stroke="#fbbc3d" d="M407.7,85.8L412.8,83.3 408.9,79.3 403.8,81.9z"/>
<path fill="#f8ba3d" stroke="#f8ba3d" d="M402.6,88.3L407.7,85.8 403.8,81.9 398.7,84.4z"/>
<path fill="#f4ba39" stroke="#f4ba39" d="M397.5,90.9L402.6,88.3 398.7,84.4 393.6,87.1z"/>
<path fill="#efba35" stroke="#efba35" d="M392.4,93.5L397.5,90.9 393.6,87.1 388.5,89.7z"/>
<path fill="#eaba31" stroke="#eaba31" d="M387.3,96.1L392.4,93.5 388.5,89.7 383.4,92.4z"/>
<path fill="#e5bb2d" stroke="#e5bb2d" d="M382.3,98.8L387.3,96.1 383.4,92.4 378.3,95.2z"/>
<path fill="#dfbc2a" stroke="#dfbc2a" d="M377.2,101.6L382.3,98.8 378.3,95.2 373.2,98z"/>
<path fill="#d8be28" stroke="#d8be28" d="M372.1,104.4L377.2,101.6 373.2,98 368.1,101z"/>
<path fill="#d1bf27" stroke="#d1bf27" d="M367,107.4L372.1,104.4 368.1,101 363.1,104z"/>
<path fill="#c9c129" stroke="#c9c129" d="M361.9,110.4L367,107.4 363.1,104 358,107.1z"/>
<path fill="#c0c32d" stroke="#c0c32d" d="M356.8,113.6L361.9,110.4 358,107.1 352.9,110.4z"/>
<path fill="#b6c533" stroke="#b6c533" d="M351.7,116.9L356.8,113.6 352.9,110.4 347.8,113.7z"/>
<path fill="#aac73a" stroke="#aac73a" d="M346.6,120.4L351.7,116.9 347.8,113.7 342.7,117.2z"/>
<path fill="#9ec942" stroke="#9ec942" d="M341.5,123.9L346.6,120.4 342.7,117.2 337.6,120.8z"/>
<path fill="#91ca4d" stroke="#91ca4d" d="M336.4,127.7L341.5,123.9 337.6,120.8 332.5,124.6z"/>
<path fill="#82cc58" stroke="#82cc58" d="M331.3,131.5L336.4,127.7 332.5,124.6 327.4,128.5z"/>
<path fill="#73cd63" stroke="#73cd63" d="M326.2,135.5L331.3,131.5 327.4,128.5 322.3,132.5z"/>
<path fill="#64cd6f" stroke="#64cd6f" d="M321.2,139.6L326.2,135.5 322.3,132.5 317.2,136.6z"/>
<path fill="#55cc7c" stroke="#55cc7c" d="M316.1,143.8L321.2,139.6 317.2,136.6 312.1,140.8z"/>
<path fill="#47cb87" stroke="#47cb87" d="M311,148.1L316.1,143.8 312.1,140.8 307,145.2z"/>
<path fill="#3bc993" stroke="#3bc993" d="M305.9,152.5L311,148.1 307,145.2 301.9,149.6z"/>
<path fill="#33c69d" stroke="#33c69d" d="M300.8,157L305.9,152.5 301.9,149.6 296.9,154.1z"/>
<path fill="#2cc4a7" stroke="#2cc4a7" d="M295.7,161.5L300.8,157 296.9,154.1 291.8,158.7z"/>
<path fill="#21c1b0" stroke="#21c1b0" d="M290.6,166.2L295.7,161.5 291.8,158.7 286.7,163.3z"/>
<path fill="#11beba" stroke="#11beba" d="M285.5,170.8L290.6,166.2 286.7,163.3 281.6,168z"/>
<path fill="#03bbc2" stroke="#03bbc2" d="M280.4,175.5L285.5,170.8 281.6,168 276.5,172.7z"/>
<path fill="#02b7cb" stroke="#02b7cb" d="M275.3,180.2L280.4,175.5 276.5,172.7 271.4,177.5z"/>
<path fill="#0db3d3" stroke="#0db3d3" d="M270.2,185L275.3,180.2 271.4,177.5 266.3,182.2z"/>
<path fill="#17aeda" stroke="#17aeda" d="M265.1,189.7L270.2,185 266.3,182.2 261.2,187z"/>
<path fill="#1da8e0" stroke="#1da8e0" d="M260,194.5L265.1,189.7 261.2,187 256.1,191.8z"/>
<path fill="#22a2e4" stroke="#22a2e4" d="M255,199.2L260,194.5 256.1,191.8 251,196.6z"/>
<path fill="#259ce7" stroke="#259ce7" d="M249.9,204L255,199.2 251,196.6 245.9,201.4z"/>
<path fill="#2896ec" stroke="#2896ec" d="M244.8,208.8L249.9,204 245.9,201.4 240.8,206.2z"/>
<path fill="#2c8ff1" stroke="#2c8ff1" d="M239.7,213.5L244.8,208.8 240.8,206.2 235.8,211z"/>
<path fill="#2d88f6" stroke="#2d88f6" d="M234.6,218.3L239.7,213.5 235.8,211 230.7,215.9z"/>
<path fill="#2f80fa" stroke="#2f80fa" d="M229.5,223.1L234.6,218.3 230.7,215.9 225.6,220.7z"/>
<path fill="#3578fd" stroke="#3578fd" d="M224.4,227.9L229.5,223.1 225.6,220.7 220.5,225.5z"/>
<path fill="#3d70ff" stroke="#3d70ff" d="M219.3,232.7L224.4,227.9 220.5,225.5 215.4,230.4z"/>
<path fill="#4368fd" stroke="#4368fd" d="M214.2,237.5L219.3,232.7 215.4,230.4 210.3,235.3z"/>
<path fill="#4660fb" stroke="#4660fb" d="M209.1,242.4L214.2,237.5 210.3,235.3 205.2,240.2z"/>
<path fill="#4758f8" stroke="#4758f8" d="M204,247.2L209.1,242.4 205.2,240.2 200.1,245.2z"/>
<path fill="#4850f3" stroke="#4850f3" d="M198.9,252.2L204,247.2 200.1,245.2 195,250.2z"/>
<path fill="#4848ec" stroke="#4848ec" d="M193.9,257.1L198.9,252.2 195,250.2 189.9,255.2z"/>
<path fill="#4740e4" stroke="#4740e4" d="M188.8,262.1L193.9,257.1 189.9,255.2 184.8,260.2z"/>
<path fill="#4539d9" stroke="#4539d9" d="M183.7,267.1L188.8,262.1 184.8,260.2 179.7,265.3z"/>
<path fill="#4332ca" stroke="#4332ca" d="M178.6,272.2L183.7,267.1 179.7,265.3 174.7,270.4z"/>
<path fill="#412cba" stroke="#412cba" d="M173.5,277.3L178.6,272.2 174.7,270.4 169.6,275.6z"/>
<path fill="#3e26a8" stroke="#3e26a8" d="M168.4,282.4L173.5,277.3 169.6,275.6 164.5,280.8z"/>
<path fill="#f8ba3d" stroke="#f8ba3d" d="M416.7,87.6L421.8,85.1 417.9,80.8 412.8,83.3z"/>
<path fill="#f4ba39" stroke="#f4ba39" d="M411.6,90L416.7,87.6 412.8,83.3 407.7,85.8z"/>
<path fill="#f0ba36" stroke="#f0ba36" d="M406.5,92.4L411.6,90 407.7,85.8 402.6,88.3z"/>
<path fill="#ebba32" stroke="#ebba32" d="M401.5,94.9L406.5,92.4 402.6,88.3 397.5,90.9z"/>
<path fill="#e7bb2e" stroke="#e7bb2e" d="M396.4,97.4L401.5,94.9 397.5,90.9 392.4,93.5z"/>
<path fill="#e2bc2b" stroke="#e2bc2b" d="M391.3,100L396.4,97.4 392.4,93.5 387.3,96.1z"/>
<path fill="#dcbd29" stroke="#dcbd29" d="M386.2,102.6L391.3,100 387.3,96.1 382.3,98.8z"/>
<path fill="#d6be28" stroke="#d6be28" d="M381.1,105.3L386.2,102.6 382.3,98.8 377.2,101.6z"/>
<path fill="#cfc028" stroke="#cfc028" d="M376,108.1L381.1,105.3 377.2,101.6 372.1,104.4z"/>
<path fill="#c8c129" stroke="#c8c129" d="M370.9,111L376,108.1 372.1,104.4 367,107.4z"/>
<path fill="#c0c32d" stroke="#c0c32d" d="M365.8,114L370.9,111 367,107.4 361.9,110.4z"/>
<path fill="#b7c532" stroke="#b7c532" d="M360.7,117.1L365.8,114 361.9,110.4 356.8,113.6z"/>
<path fill="#acc738" stroke="#acc738" d="M355.6,120.3L360.7,117.1 356.8,113.6 351.7,116.9z"/>
<path fill="#a1c840" stroke="#a1c840" d="M350.5,123.7L355.6,120.3 351.7,116.9 346.6,120.4z"/>
<path fill="#95ca49" stroke="#95ca49" d="M345.4,127.2L350.5,123.7 346.6,120.4 341.5,123.9z"/>
<path fill="#88cb53" stroke="#88cb53" d="M340.4,130.9L345.4,127.2 341.5,123.9 336.4,127.7z"/>
<path fill="#79cc5e" stroke="#79cc5e" d="M335.3,134.7L340.4,130.9 336.4,127.7 331.3,131.5z"/>
<path fill="#6acd6a" stroke="#6acd6a" d="M330.2,138.6L335.3,134.7 331.3,131.5 326.2,135.5z"/>
<path fill="#5ccc76" stroke="#5ccc76" d="M325.1,142.7L330.2,138.6 326.2,135.5 321.2,139.6z"/>
<path fill="#4ecc81" stroke="#4ecc81" d="M320,146.9L325.1,142.7 321.2,139.6 316.1,143.8z"/>
<path fill="#41ca8d" stroke="#41ca8d" d="M314.9,151.2L320,146.9 316.1,143.8 311,148.1z"/>
<path fill="#37c897" stroke="#37c897" d="M309.8,155.5L314.9,151.2 311,148.1 305.9,152.5z"/>
<path fill="#30c5a2" stroke="#30c5a2" d="M304.7,160L309.8,155.5 305.9,152.5 300.8,157z"/>
<path fill="#28c2ab" stroke="#28c2ab" d="M299.6,164.5L304.7,160 300.8,157 295.7,161.5z"/>
<path fill="#1bc0b4" stroke="#1bc0b4" d="M294.5,169.1L299.6,164.5 295.7,161.5 290.6,166.2z"/>
<path fill="#0abdbd" stroke="#0abdbd" d="M289.4,173.8L294.5,169.1 290.6,166.2 285.5,170.8z"/>
<path fill="#01b9c6" stroke="#01b9c6" d="M284.3,178.4L289.4,173.8 285.5,170.8 280.4,175.5z"/>
<path fill="#05b6ce" stroke="#05b6ce" d="M279.3,183.1L284.3,178.4 280.4,175.5 275.3,180.2z"/>
<path fill="#12b1d6" stroke="#12b1d6" d="M274.2,187.8L279.3,183.1 275.3,180.2 270.2,185z"/>
<path fill="#1aacdd" stroke="#1aacdd" d="M269.1,192.5L274.2,187.8 270.2,185 265.1,189.7z"/>
<path fill="#1fa6e1" stroke="#1fa6e1" d="M264,197.3L269.1,192.5 265.1,189.7 260,194.5z"/>
<path fill="#23a0e5" stroke="#23a0e5" d="M258.9,202L264,197.3 260,194.5 255,199.2z"/>
<path fill="#269ae8" stroke="#269ae8" d="M253.8,206.7L258.9,202 255,199.2 249.9,204z"/>
<path fill="#2994ed" stroke="#2994ed" d="M248.7,211.4L253.8,206.7 249.9,204 244.8,208.8z"/>
<path fill="#2d8df2" stroke="#2d8df2" d="M243.6,216.1L248.7,211.4 244.8,208.8 239.7,213.5z"/>
<path fill="#2e86f7" stroke="#2e86f7" d="M238.5,220.8L243.6,216.1 239.7,213.5 234.6,218.3z"/>
<path fill="#307efb" stroke="#307efb" d="M233.4,225.5L238.5,220.8 234.6,218.3 229.5,223.1z"/>
<path fill="#3776fe" stroke="#3776fe" d="M228.3,230.3L233.4,225.5 229.5,223.1 224.4,227.9z"/>
<path fill="#3f6eff" stroke="#3f6eff" d="M223.2,235L228.3,230.3 224.4,227.9 219.3,232.7z"/>
<path fill="#4466fd" stroke="#4466fd" d="M218.1,239.8L223.2,235 219.3,232.7 214.2,237.5z"/>
<path fill="#465efb" stroke="#465efb" d="M213.1,244.6L218.1,239.8 214.2,237.5 209.1,242.4z"/>
<path fill="#4757f7" stroke="#4757f7" d="M208,249.4L213.1,244.6 209.1,242.4 204,247.2z"/>
<path fill="#484ff2" stroke="#484ff2" d="M202.9,254.2L208,249.4 204,247.2 198.9,252.2z"/>
<path fill="#4747ec" stroke="#4747ec" d="M197.8,259.1L202.9,254.2 198.9,252.2 193.9,257.1z"/>
<path fill="#4740e3" stroke="#4740e3" d="M192.7,264L197.8,259.1 193.9,257.1 188.8,262.1z"/>
<path fill="#4538d8" stroke="#4538d8" d="M187.6,268.9L192.7,264 188.8,262.1 183.7,267.1z"/>
<path fill="#4332c9" stroke="#4332c9" d="M182.5,273.9L187.6,268.9 183.7,267.1 178.6,272.2z"/>
<path fill="#412cb9" stroke="#412cb9" d="M177.4,278.9L182.5,273.9 178.6,272.2 173.5,277.3z"/>
<path fill="#3e26a8" stroke="#3e26a8" d="M172.3,284L177.4,278.9 173.5,277.3 168.4,282.4z"/>
<path fill="#eeba34" stroke="#eeba34" d="M420.7,92.1L425.7,89.7 421.8,85.1 416.7,87.6z"/>
<path fill="#eaba31" stroke="#eaba31" d="M415.6,94.4L420.7,92.1 416.7,87.6 411.6,90z"/>
<path fill="#e6bb2d" stroke="#e6bb2d" d="M410.5,96.8L415.6,94.4 411.6,90 406.5,92.4z"/>
<path fill="#e1bc2b" stroke="#e1bc2b" d="M405.4,99.2L410.5,96.8 406.5,92.4 401.5,94.9z"/>
<path fill="#ddbd29" stroke="#ddbd29" d="M400.3,101.7L405.4,99.2 401.5,94.9 396.4,97.4z"/>
<path fill="#d7be28" stroke="#d7be28" d="M395.2,104.2L400.3,101.7 396.4,97.4 391.3,100z"/>
<path fill="#d2bf27" stroke="#d2bf27" d="M390.1,106.7L395.2,104.2 391.3,100 386.2,102.6z"/>
<path fill="#ccc028" stroke="#ccc028" d="M385,109.3L390.1,106.7 386.2,102.6 381.1,105.3z"/>
<path fill="#c5c22a" stroke="#c5c22a" d="M379.9,112L385,109.3 381.1,105.3 376,108.1z"/>
<path fill="#bdc32e" stroke="#bdc32e" d="M374.8,114.8L379.9,112 376,108.1 370.9,111z"/>
<path fill="#b5c533" stroke="#b5c533" d="M369.7,117.8L374.8,114.8 370.9,111 365.8,114z"/>
<path fill="#acc738" stroke="#acc738" d="M364.6,120.8L369.7,117.8 365.8,114 360.7,117.1z"/>
<path fill="#a2c840" stroke="#a2c840" d="M359.6,124L364.6,120.8 360.7,117.1 355.6,120.3z"/>
<path fill="#97ca48" stroke="#97ca48" d="M354.5,127.3L359.6,124 355.6,120.3 350.5,123.7z"/>
<path fill="#8acb51" stroke="#8acb51" d="M349.4,130.7L354.5,127.3 350.5,123.7 345.4,127.2z"/>
<path fill="#7dcc5b" stroke="#7dcc5b" d="M344.3,134.3L349.4,130.7 345.4,127.2 340.4,130.9z"/>
<path fill="#6fcd66" stroke="#6fcd66" d="M339.2,138.1L344.3,134.3 340.4,130.9 335.3,134.7z"/>
<path fill="#61cd71" stroke="#61cd71" d="M334.1,142L339.2,138.1 335.3,134.7 330.2,138.6z"/>
<path fill="#54cc7d" stroke="#54cc7d" d="M329,146L334.1,142 330.2,138.6 325.1,142.7z"/>
<path fill="#46cb88" stroke="#46cb88" d="M323.9,150.2L329,146 325.1,142.7 320,146.9z"/>
<path fill="#3bc992" stroke="#3bc992" d="M318.8,154.4L323.9,150.2 320,146.9 314.9,151.2z"/>
<path fill="#33c79d" stroke="#33c79d" d="M313.7,158.8L318.8,154.4 314.9,151.2 309.8,155.5z"/>
<path fill="#2cc4a6" stroke="#2cc4a6" d="M308.6,163.2L313.7,158.8 309.8,155.5 304.7,160z"/>
<path fill="#22c1af" stroke="#22c1af" d="M303.5,167.7L308.6,163.2 304.7,160 299.6,164.5z"/>
<path fill="#13beb8" stroke="#13beb8" d="M298.5,172.3L303.5,167.7 299.6,164.5 294.5,169.1z"/>
<path fill="#05bbc1" stroke="#05bbc1" d="M293.4,176.9L298.5,172.3 294.5,169.1 289.4,173.8z"/>
<path fill="#01b8ca" stroke="#01b8ca" d="M288.3,181.5L293.4,176.9 289.4,173.8 284.3,178.4z"/>
<path fill="#0ab4d2" stroke="#0ab4d2" d="M283.2,186.2L288.3,181.5 284.3,178.4 279.3,183.1z"/>
<path fill="#15afd9" stroke="#15afd9" d="M278.1,190.8L283.2,186.2 279.3,183.1 274.2,187.8z"/>
<path fill="#1caadf" stroke="#1caadf" d="M273,195.5L278.1,190.8 274.2,187.8 269.1,192.5z"/>
<path fill="#20a4e3" stroke="#20a4e3" d="M267.9,200.2L273,195.5 269.1,192.5 264,197.3z"/>
<path fill="#249ee6" stroke="#249ee6" d="M262.8,204.8L267.9,200.2 264,197.3 258.9,202z"/>
<path fill="#2798ea" stroke="#2798ea" d="M257.7,209.5L262.8,204.8 258.9,202 253.8,206.7z"/>
<path fill="#2b91ef" stroke="#2b91ef" d="M252.6,214.1L257.7,209.5 253.8,206.7 248.7,211.4z"/>
<path fill="#2d8bf4" stroke="#2d8bf4" d="M247.5,218.8L252.6,214.1 248.7,211.4 243.6,216.1z"/>
<path fill="#2e84f9" stroke="#2e84f9" d="M242.4,223.4L247.5,218.8 243.6,216.1 238.5,220.8z"/>
<path fill="#327cfc" stroke="#327cfc" d="M237.4,228.1L242.4,223.4 238.5,220.8 233.4,225.5z"/>
<path fill="#3974fe" stroke="#3974fe" d="M232.3,232.7L237.4,228.1 233.4,225.5 228.3,230.3z"/>
<path fill="#406cfe" stroke="#406cfe" d="M227.2,237.4L232.3,232.7 228.3,230.3 223.2,235z"/>
<path fill="#4465fd" stroke="#4465fd" d="M222.1,242.1L227.2,237.4 223.2,235 218.1,239.8z"/>
<path fill="#465dfa" stroke="#465dfa" d="M217,246.8L222.1,242.1 218.1,239.8 213.1,244.6z"/>
<path fill="#4756f6" stroke="#4756f6" d="M211.9,251.5L217,246.8 213.1,244.6 208,249.4z"/>
<path fill="#484ef1" stroke="#484ef1" d="M206.8,256.3L211.9,251.5 208,249.4 202.9,254.2z"/>
<path fill="#4746eb" stroke="#4746eb" d="M201.7,261.1L206.8,256.3 202.9,254.2 197.8,259.1z"/>
<path fill="#473fe2" stroke="#473fe2" d="M196.6,265.9L201.7,261.1 197.8,259.1 192.7,264z"/>
<path fill="#4538d7" stroke="#4538d7" d="M191.5,270.8L196.6,265.9 192.7,264 187.6,268.9z"/>
<path fill="#4332c9" stroke="#4332c9" d="M186.4,275.7L191.5,270.8 187.6,268.9 182.5,273.9z"/>
<path fill="#412cb9" stroke="#412cb9" d="M181.3,280.6L186.4,275.7 182.5,273.9 177.4,278.9z"/>
<path fill="#3e26a8" stroke="#3e26a8" d="M176.2,285.6L181.3,280.6 177.4,278.9 172.3,284z"/>
<path fill="#e2bc2c" stroke="#e2bc2c" d="M424.6,96.9L429.7,94.6 425.7,89.7 420.7,92.1z"/>
<path fill="#debc2a" stroke="#debc2a" d="M419.5,99.2L424.6,96.9 420.7,92.1 415.6,94.4z"/>
<path fill="#dabd28" stroke="#dabd28" d="M414.4,101.5L419.5,99.2 415.6,94.4 410.5,96.8z"/>
<path fill="#d5be28" stroke="#d5be28" d="M409.3,103.9L414.4,101.5 410.5,96.8 405.4,99.2z"/>
<path fill="#d0bf27" stroke="#d0bf27" d="M404.2,106.2L409.3,103.9 405.4,99.2 400.3,101.7z"/>
<path fill="#cbc129" stroke="#cbc129" d="M399.1,108.6L404.2,106.2 400.3,101.7 395.2,104.2z"/>
<path fill="#c6c22a" stroke="#c6c22a" d="M394,111.1L399.1,108.6 395.2,104.2 390.1,106.7z"/>
<path fill="#bfc32d" stroke="#bfc32d" d="M388.9,113.6L394,111.1 390.1,106.7 385,109.3z"/>
<path fill="#b8c431" stroke="#b8c431" d="M383.8,116.2L388.9,113.6 385,109.3 379.9,112z"/>
<path fill="#b1c635" stroke="#b1c635" d="M378.8,119L383.8,116.2 379.9,112 374.8,114.8z"/>
<path fill="#a9c73b" stroke="#a9c73b" d="M373.7,121.8L378.8,119 374.8,114.8 369.7,117.8z"/>
<path fill="#a0c941" stroke="#a0c941" d="M368.6,124.8L373.7,121.8 369.7,117.8 364.6,120.8z"/>
<path fill="#95ca49" stroke="#95ca49" d="M363.5,127.9L368.6,124.8 364.6,120.8 359.6,124z"/>
<path fill="#8acb51" stroke="#8acb51" d="M358.4,131.1L363.5,127.9 359.6,124 354.5,127.3z"/>
<path fill="#7ecc5a" stroke="#7ecc5a" d="M353.3,134.5L358.4,131.1 354.5,127.3 349.4,130.7z"/>
<path fill="#71cd64" stroke="#71cd64" d="M348.2,138L353.3,134.5 349.4,130.7 344.3,134.3z"/>
<path fill="#64cd6f" stroke="#64cd6f" d="M343.1,141.7L348.2,138 344.3,134.3 339.2,138.1z"/>
<path fill="#58cc7a" stroke="#58cc7a" d="M338,145.6L343.1,141.7 339.2,138.1 334.1,142z"/>
<path fill="#4acb84" stroke="#4acb84" d="M332.9,149.6L338,145.6 334.1,142 329,146z"/>
<path fill="#3eca8f" stroke="#3eca8f" d="M327.8,153.7L332.9,149.6 329,146 323.9,150.2z"/>
<path fill="#36c899" stroke="#36c899" d="M322.7,157.9L327.8,153.7 323.9,150.2 318.8,154.4z"/>
<path fill="#2fc5a2" stroke="#2fc5a2" d="M317.7,162.2L322.7,157.9 318.8,154.4 313.7,158.8z"/>
<path fill="#27c2ab" stroke="#27c2ab" d="M312.6,166.6L317.7,162.2 313.7,158.8 308.6,163.2z"/>
<path fill="#1bc0b4" stroke="#1bc0b4" d="M307.5,171.1L312.6,166.6 308.6,163.2 303.5,167.7z"/>
<path fill="#0bbdbd" stroke="#0bbdbd" d="M302.4,175.6L307.5,171.1 303.5,167.7 298.5,172.3z"/>
<path fill="#01bac5" stroke="#01bac5" d="M297.3,180.2L302.4,175.6 298.5,172.3 293.4,176.9z"/>
<path fill="#05b6cd" stroke="#05b6cd" d="M292.2,184.8L297.3,180.2 293.4,176.9 288.3,181.5z"/>
<path fill="#10b2d5" stroke="#10b2d5" d="M287.1,189.4L292.2,184.8 288.3,181.5 283.2,186.2z"/>
<path fill="#19addc" stroke="#19addc" d="M282,194L287.1,189.4 283.2,186.2 278.1,190.8z"/>
<path fill="#1ea7e1" stroke="#1ea7e1" d="M276.9,198.6L282,194 278.1,190.8 273,195.5z"/>
<path fill="#22a2e4" stroke="#22a2e4" d="M271.8,203.2L276.9,198.6 273,195.5 267.9,200.2z"/>
<path fill="#259ce7" stroke="#259ce7" d="M266.7,207.8L271.8,203.2 267.9,200.2 262.8,204.8z"/>
<path fill="#2895ec" stroke="#2895ec" d="M261.6,212.4L266.7,207.8 262.8,204.8 257.7,209.5z"/>
<path fill="#2c8ff1" stroke="#2c8ff1" d="M256.6,217L261.6,212.4 257.7,209.5 252.6,214.1z"/>
<path fill="#2d88f6" stroke="#2d88f6" d="M251.5,221.6L256.6,217 252.6,214.1 247.5,218.8z"/>
<path fill="#2f81fa" stroke="#2f81fa" d="M246.4,226.2L251.5,221.6 247.5,218.8 242.4,223.4z"/>
<path fill="#347afd" stroke="#347afd" d="M241.3,230.7L246.4,226.2 242.4,223.4 237.4,228.1z"/>
<path fill="#3c72ff" stroke="#3c72ff" d="M236.2,235.3L241.3,230.7 237.4,228.1 232.3,232.7z"/>
<path fill="#426afe" stroke="#426afe" d="M231.1,239.9L236.2,235.3 232.3,232.7 227.2,237.4z"/>
<path fill="#4563fc" stroke="#4563fc" d="M226,244.5L231.1,239.9 227.2,237.4 222.1,242.1z"/>
<path fill="#475bfa" stroke="#475bfa" d="M220.9,249.1L226,244.5 222.1,242.1 217,246.8z"/>
<path fill="#4854f5" stroke="#4854f5" d="M215.8,253.8L220.9,249.1 217,246.8 211.9,251.5z"/>
<path fill="#484df0" stroke="#484df0" d="M210.7,258.4L215.8,253.8 211.9,251.5 206.8,256.3z"/>
<path fill="#4745ea" stroke="#4745ea" d="M205.6,263.1L210.7,258.4 206.8,256.3 201.7,261.1z"/>
<path fill="#463ee1" stroke="#463ee1" d="M200.5,267.9L205.6,263.1 201.7,261.1 196.6,265.9z"/>
<path fill="#4537d6" stroke="#4537d6" d="M195.5,272.6L200.5,267.9 196.6,265.9 191.5,270.8z"/>
<path fill="#4331c8" stroke="#4331c8" d="M190.4,277.4L195.5,272.6 191.5,270.8 186.4,275.7z"/>
<path fill="#412cb9" stroke="#412cb9" d="M185.3,282.3L190.4,277.4 186.4,275.7 181.3,280.6z"/>
<path fill="#3e26a8" stroke="#3e26a8" d="M180.2,287.1L185.3,282.3 181.3,280.6 176.2,285.6z"/>
<path fill="#d4bf28" stroke="#d4bf28" d="M428.5,102.1L433.6,99.9 429.7,94.6 424.6,96.9z"/>
<path fill="#d0bf27" stroke="#d0bf27" d="M423.4,104.3L428.5,102.1 424.6,96.9 419.5,99.2z"/>
<path fill="#cbc029" stroke="#cbc029" d="M418.3,106.5L423.4,104.3 419.5,99.2 414.4,101.5z"/>
<path fill="#c7c12a" stroke="#c7c12a" d="M413.2,108.8L418.3,106.5 414.4,101.5 409.3,103.9z"/>
<path fill="#c2c22c" stroke="#c2c22c" d="M408.1,111.1L413.2,108.8 409.3,103.9 404.2,106.2z"/>
<path fill="#bcc42f" stroke="#bcc42f" d="M403.1,113.4L408.1,111.1 404.2,106.2 399.1,108.6z"/>
<path fill="#b7c532" stroke="#b7c532" d="M398,115.8L403.1,113.4 399.1,108.6 394,111.1z"/>
<path fill="#b0c636" stroke="#b0c636" d="M392.9,118.2L398,115.8 394,111.1 388.9,113.6z"/>
<path fill="#aac73a" stroke="#aac73a" d="M387.8,120.7L392.9,118.2 388.9,113.6 383.8,116.2z"/>
<path fill="#a2c83f" stroke="#a2c83f" d="M382.7,123.4L387.8,120.7 383.8,116.2 378.8,119z"/>
<path fill="#9ac945" stroke="#9ac945" d="M377.6,126.1L382.7,123.4 378.8,119 373.7,121.8z"/>
<path fill="#91ca4c" stroke="#91ca4c" d="M372.5,129L377.6,126.1 373.7,121.8 368.6,124.8z"/>
<path fill="#87cb54" stroke="#87cb54" d="M367.4,132L372.5,129 368.6,124.8 363.5,127.9z"/>
<path fill="#7dcc5c" stroke="#7dcc5c" d="M362.3,135.2L367.4,132 363.5,127.9 358.4,131.1z"/>
<path fill="#71cd64" stroke="#71cd64" d="M357.2,138.5L362.3,135.2 358.4,131.1 353.3,134.5z"/>
<path fill="#65cd6e" stroke="#65cd6e" d="M352.1,142L357.2,138.5 353.3,134.5 348.2,138z"/>
<path fill="#59cc78" stroke="#59cc78" d="M347,145.6L352.1,142 348.2,138 343.1,141.7z"/>
<path fill="#4dcb82" stroke="#4dcb82" d="M341.9,149.4L347,145.6 343.1,141.7 338,145.6z"/>
<path fill="#41ca8c" stroke="#41ca8c" d="M336.9,153.3L341.9,149.4 338,145.6 332.9,149.6z"/>
<path fill="#38c896" stroke="#38c896" d="M331.8,157.4L336.9,153.3 332.9,149.6 327.8,153.7z"/>
<path fill="#31c69f" stroke="#31c69f" d="M326.7,161.6L331.8,157.4 327.8,153.7 322.7,157.9z"/>
<path fill="#2bc3a8" stroke="#2bc3a8" d="M321.6,165.9L326.7,161.6 322.7,157.9 317.7,162.2z"/>
<path fill="#20c1b1" stroke="#20c1b1" d="M316.5,170.2L321.6,165.9 317.7,162.2 312.6,166.6z"/>
<path fill="#11beb9" stroke="#11beb9" d="M311.4,174.7L316.5,170.2 312.6,166.6 307.5,171.1z"/>
<path fill="#04bbc2" stroke="#04bbc2" d="M306.3,179.1L311.4,174.7 307.5,171.1 302.4,175.6z"/>
<path fill="#01b8ca" stroke="#01b8ca" d="M301.2,183.7L306.3,179.1 302.4,175.6 297.3,180.2z"/>
<path fill="#0ab4d2" stroke="#0ab4d2" d="M296.1,188.2L301.2,183.7 297.3,180.2 292.2,184.8z"/>
<path fill="#15afd9" stroke="#15afd9" d="M291,192.8L296.1,188.2 292.2,184.8 287.1,189.4z"/>
<path fill="#1baadf" stroke="#1baadf" d="M285.9,197.3L291,192.8 287.1,189.4 282,194z"/>
<path fill="#20a5e3" stroke="#20a5e3" d="M280.8,201.9L285.9,197.3 282,194 276.9,198.6z"/>
<path fill="#249fe6" stroke="#249fe6" d="M275.8,206.4L280.8,201.9 276.9,198.6 271.8,203.2z"/>
<path fill="#2699e9" stroke="#2699e9" d="M270.7,211L275.8,206.4 271.8,203.2 266.7,207.8z"/>
<path fill="#2a93ee" stroke="#2a93ee" d="M265.6,215.5L270.7,211 266.7,207.8 261.6,212.4z"/>
<path fill="#2d8cf3" stroke="#2d8cf3" d="M260.5,220L265.6,215.5 261.6,212.4 256.6,217z"/>
<path fill="#2e85f8" stroke="#2e85f8" d="M255.4,224.5L260.5,220 256.6,217 251.5,221.6z"/>
<path fill="#307ffb" stroke="#307ffb" d="M250.3,229L255.4,224.5 251.5,221.6 246.4,226.2z"/>
<path fill="#3777fe" stroke="#3777fe" d="M245.2,233.5L250.3,229 246.4,226.2 241.3,230.7z"/>
<path fill="#3e6fff" stroke="#3e6fff" d="M240.1,238L245.2,233.5 241.3,230.7 236.2,235.3z"/>
<path fill="#4368fe" stroke="#4368fe" d="M235,242.5L240.1,238 236.2,235.3 231.1,239.9z"/>
<path fill="#4561fc" stroke="#4561fc" d="M229.9,247L235,242.5 231.1,239.9 226,244.5z"/>
<path fill="#475af9" stroke="#475af9" d="M224.8,251.5L229.9,247 226,244.5 220.9,249.1z"/>
<path fill="#4853f5" stroke="#4853f5" d="M219.7,256.1L224.8,251.5 220.9,249.1 215.8,253.8z"/>
<path fill="#484cef" stroke="#484cef" d="M214.7,260.6L219.7,256.1 215.8,253.8 210.7,258.4z"/>
<path fill="#4744e8" stroke="#4744e8" d="M209.6,265.2L214.7,260.6 210.7,258.4 205.6,263.1z"/>
<path fill="#463de0" stroke="#463de0" d="M204.5,269.9L209.6,265.2 205.6,263.1 200.5,267.9z"/>
<path fill="#4537d5" stroke="#4537d5" d="M199.4,274.5L204.5,269.9 200.5,267.9 195.5,272.6z"/>
<path fill="#4331c7" stroke="#4331c7" d="M194.3,279.2L199.4,274.5 195.5,272.6 190.4,277.4z"/>
<path fill="#402cb8" stroke="#402cb8" d="M189.2,283.9L194.3,279.2 190.4,277.4 185.3,282.3z"/>
<path fill="#3e26a8" stroke="#3e26a8" d="M184.1,288.7L189.2,283.9 185.3,282.3 180.2,287.1z"/>
<path fill="#c3c22b" stroke="#c3c22b" d="M432.4,107.6L437.5,105.5 433.6,99.9 428.5,102.1z"/>
<path fill="#bec32e" stroke="#bec32e" d="M427.3,109.8L432.4,107.6 428.5,102.1 423.4,104.3z"/>
<path fill="#bac430" stroke="#bac430" d="M422.3,111.9L427.3,109.8 423.4,104.3 418.3,106.5z"/>
<path fill="#b5c533" stroke="#b5c533" d="M417.2,114.1L422.3,111.9 418.3,106.5 413.2,108.8z"/>
<path fill="#b0c636" stroke="#b0c636" d="M412.1,116.3L417.2,114.1 413.2,108.8 408.1,111.1z"/>
<path fill="#abc739" stroke="#abc739" d="M407,118.5L412.1,116.3 408.1,111.1 403.1,113.4z"/>
<path fill="#a5c83d" stroke="#a5c83d" d="M401.9,120.8L407,118.5 403.1,113.4 398,115.8z"/>
<path fill="#9fc941" stroke="#9fc941" d="M396.8,123.2L401.9,120.8 398,115.8 392.9,118.2z"/>
<path fill="#99c946" stroke="#99c946" d="M391.7,125.6L396.8,123.2 392.9,118.2 387.8,120.7z"/>
<path fill="#91ca4c" stroke="#91ca4c" d="M386.6,128.1L391.7,125.6 387.8,120.7 382.7,123.4z"/>
<path fill="#8acb52" stroke="#8acb52" d="M381.5,130.8L386.6,128.1 382.7,123.4 377.6,126.1z"/>
<path fill="#81cc59" stroke="#81cc59" d="M376.4,133.6L381.5,130.8 377.6,126.1 372.5,129z"/>
<path fill="#77cc60" stroke="#77cc60" d="M371.3,136.5L376.4,133.6 372.5,129 367.4,132z"/>
<path fill="#6dcd67" stroke="#6dcd67" d="M366.2,139.6L371.3,136.5 367.4,132 362.3,135.2z"/>
<path fill="#62cd70" stroke="#62cd70" d="M361.2,142.9L366.2,139.6 362.3,135.2 357.2,138.5z"/>
<path fill="#58cc79" stroke="#58cc79" d="M356.1,146.3L361.2,142.9 357.2,138.5 352.1,142z"/>
<path fill="#4ccb82" stroke="#4ccb82" d="M351,149.8L356.1,146.3 352.1,142 347,145.6z"/>
<path fill="#42ca8c" stroke="#42ca8c" d="M345.9,153.6L351,149.8 347,145.6 341.9,149.4z"/>
<path fill="#39c895" stroke="#39c895" d="M340.8,157.4L345.9,153.6 341.9,149.4 336.9,153.3z"/>
<path fill="#33c69e" stroke="#33c69e" d="M335.7,161.4L340.8,157.4 336.9,153.3 331.8,157.4z"/>
<path fill="#2cc4a6" stroke="#2cc4a6" d="M330.6,165.6L335.7,161.4 331.8,157.4 326.7,161.6z"/>
<path fill="#24c1af" stroke="#24c1af" d="M325.5,169.8L330.6,165.6 326.7,161.6 321.6,165.9z"/>
<path fill="#16bfb7" stroke="#16bfb7" d="M320.4,174.1L325.5,169.8 321.6,165.9 316.5,170.2z"/>
<path fill="#07bcbf" stroke="#07bcbf" d="M315.3,178.5L320.4,174.1 316.5,170.2 311.4,174.7z"/>
<path fill="#01b9c7" stroke="#01b9c7" d="M310.2,182.9L315.3,178.5 311.4,174.7 306.3,179.1z"/>
<path fill="#06b5cf" stroke="#06b5cf" d="M305.1,187.4L310.2,182.9 306.3,179.1 301.2,183.7z"/>
<path fill="#12b1d6" stroke="#12b1d6" d="M300,191.9L305.1,187.4 301.2,183.7 296.1,188.2z"/>
<path fill="#19acdc" stroke="#19acdc" d="M295,196.4L300,191.9 296.1,188.2 291,192.8z"/>
<path fill="#1ea7e1" stroke="#1ea7e1" d="M289.9,200.9L295,196.4 291,192.8 285.9,197.3z"/>
<path fill="#22a1e4" stroke="#22a1e4" d="M284.8,205.3L289.9,200.9 285.9,197.3 280.8,201.9z"/>
<path fill="#259be7" stroke="#259be7" d="M279.7,209.8L284.8,205.3 280.8,201.9 275.8,206.4z"/>
<path fill="#2896ec" stroke="#2896ec" d="M274.6,214.3L279.7,209.8 275.8,206.4 270.7,211z"/>
<path fill="#2c8ff0" stroke="#2c8ff0" d="M269.5,218.7L274.6,214.3 270.7,211 265.6,215.5z"/>
<path fill="#2d89f5" stroke="#2d89f5" d="M264.4,223.1L269.5,218.7 265.6,215.5 260.5,220z"/>
<path fill="#2f82f9" stroke="#2f82f9" d="M259.3,227.5L264.4,223.1 260.5,220 255.4,224.5z"/>
<path fill="#327cfc" stroke="#327cfc" d="M254.2,232L259.3,227.5 255.4,224.5 250.3,229z"/>
<path fill="#3974fe" stroke="#3974fe" d="M249.1,236.3L254.2,232 250.3,229 245.2,233.5z"/>
<path fill="#406dfe" stroke="#406dfe" d="M244,240.7L249.1,236.3 245.2,233.5 240.1,238z"/>
<path fill="#4466fd" stroke="#4466fd" d="M238.9,245.1L244,240.7 240.1,238 235,242.5z"/>
<path fill="#465ffb" stroke="#465ffb" d="M233.9,249.6L238.9,245.1 235,242.5 229.9,247z"/>
<path fill="#4758f8" stroke="#4758f8" d="M228.8,254L233.9,249.6 229.9,247 224.8,251.5z"/>
<path fill="#4851f3" stroke="#4851f3" d="M223.7,258.4L228.8,254 224.8,251.5 219.7,256.1z"/>
<path fill="#484aee" stroke="#484aee" d="M218.6,262.9L223.7,258.4 219.7,256.1 214.7,260.6z"/>
<path fill="#4743e7" stroke="#4743e7" d="M213.5,267.4L218.6,262.9 214.7,260.6 209.6,265.2z"/>
<path fill="#463cdf" stroke="#463cdf" d="M208.4,271.9L213.5,267.4 209.6,265.2 204.5,269.9z"/>
<path fill="#4536d4" stroke="#4536d4" d="M203.3,276.4L208.4,271.9 204.5,269.9 199.4,274.5z"/>
<path fill="#4331c6" stroke="#4331c6" d="M198.2,281L203.3,276.4 199.4,274.5 194.3,279.2z"/>
<path fill="#402bb8" stroke="#402bb8" d="M193.1,285.6L198.2,281 194.3,279.2 189.2,283.9z"/>
<path fill="#3e26a8" stroke="#3e26a8" d="M188,290.3L193.1,285.6 189.2,283.9 184.1,288.7z"/>
<path fill="#adc638" stroke="#adc638" d="M436.4,113.6L441.5,111.5 437.5,105.5 432.4,107.6z"/>
<path fill="#a9c73b" stroke="#a9c73b" d="M431.3,115.6L436.4,113.6 432.4,107.6 427.3,109.8z"/>
<path fill="#a4c83e" stroke="#a4c83e" d="M426.2,117.7L431.3,115.6 427.3,109.8 422.3,111.9z"/>
<path fill="#a0c841" stroke="#a0c841" d="M421.1,119.8L426.2,117.7 422.3,111.9 417.2,114.1z"/>
<path fill="#9bc945" stroke="#9bc945" d="M416,121.9L421.1,119.8 417.2,114.1 412.1,116.3z"/>
<path fill="#96ca48" stroke="#96ca48" d="M410.9,124L416,121.9 412.1,116.3 407,118.5z"/>
<path fill="#91ca4c" stroke="#91ca4c" d="M405.8,126.2L410.9,124 407,118.5 401.9,120.8z"/>
<path fill="#8bcb51" stroke="#8bcb51" d="M400.7,128.5L405.8,126.2 401.9,120.8 396.8,123.2z"/>
<path fill="#85cb56" stroke="#85cb56" d="M395.6,130.8L400.7,128.5 396.8,123.2 391.7,125.6z"/>
<path fill="#7ecc5b" stroke="#7ecc5b" d="M390.5,133.3L395.6,130.8 391.7,125.6 386.6,128.1z"/>
<path fill="#76cc60" stroke="#76cc60" d="M385.4,135.9L390.5,133.3 386.6,128.1 381.5,130.8z"/>
<path fill="#6ecd67" stroke="#6ecd67" d="M380.4,138.5L385.4,135.9 381.5,130.8 376.4,133.6z"/>
<path fill="#66cd6d" stroke="#66cd6d" d="M375.3,141.4L380.4,138.5 376.4,133.6 371.3,136.5z"/>
<path fill="#5dcc75" stroke="#5dcc75" d="M370.2,144.4L375.3,141.4 371.3,136.5 366.2,139.6z"/>
<path fill="#53cc7d" stroke="#53cc7d" d="M365.1,147.5L370.2,144.4 366.2,139.6 361.2,142.9z"/>
<path fill="#49cb85" stroke="#49cb85" d="M360,150.9L365.1,147.5 361.2,142.9 356.1,146.3z"/>
<path fill="#40ca8d" stroke="#40ca8d" d="M354.9,154.4L360,150.9 356.1,146.3 351,149.8z"/>
<path fill="#38c896" stroke="#38c896" d="M349.8,158L354.9,154.4 351,149.8 345.9,153.6z"/>
<path fill="#32c69e" stroke="#32c69e" d="M344.7,161.8L349.8,158 345.9,153.6 340.8,157.4z"/>
<path fill="#2dc4a6" stroke="#2dc4a6" d="M339.6,165.8L344.7,161.8 340.8,157.4 335.7,161.4z"/>
<path fill="#25c2ae" stroke="#25c2ae" d="M334.5,169.8L339.6,165.8 335.7,161.4 330.6,165.6z"/>
<path fill="#18bfb6" stroke="#18bfb6" d="M329.4,174L334.5,169.8 330.6,165.6 325.5,169.8z"/>
<path fill="#0abdbe" stroke="#0abdbe" d="M324.3,178.2L329.4,174 325.5,169.8 320.4,174.1z"/>
<path fill="#01bac6" stroke="#01bac6" d="M319.3,182.6L324.3,178.2 320.4,174.1 315.3,178.5z"/>
<path fill="#04b6cd" stroke="#04b6cd" d="M314.2,186.9L319.3,182.6 315.3,178.5 310.2,182.9z"/>
<path fill="#0fb2d4" stroke="#0fb2d4" d="M309.1,191.3L314.2,186.9 310.2,182.9 305.1,187.4z"/>
<path fill="#18aedb" stroke="#18aedb" d="M304,195.8L309.1,191.3 305.1,187.4 300,191.9z"/>
<path fill="#1da9e0" stroke="#1da9e0" d="M298.9,200.2L304,195.8 300,191.9 295,196.4z"/>
<path fill="#21a3e3" stroke="#21a3e3" d="M293.8,204.6L298.9,200.2 295,196.4 289.9,200.9z"/>
<path fill="#249ee6" stroke="#249ee6" d="M288.7,209L293.8,204.6 289.9,200.9 284.8,205.3z"/>
<path fill="#2798ea" stroke="#2798ea" d="M283.6,213.4L288.7,209 284.8,205.3 279.7,209.8z"/>
<path fill="#2b92ee" stroke="#2b92ee" d="M278.5,217.8L283.6,213.4 279.7,209.8 274.6,214.3z"/>
<path fill="#2d8cf3" stroke="#2d8cf3" d="M273.4,222.1L278.5,217.8 274.6,214.3 269.5,218.7z"/>
<path fill="#2e85f8" stroke="#2e85f8" d="M268.3,226.4L273.4,222.1 269.5,218.7 264.4,223.1z"/>
<path fill="#307ffb" stroke="#307ffb" d="M263.2,230.8L268.3,226.4 264.4,223.1 259.3,227.5z"/>
<path fill="#3678fd" stroke="#3678fd" d="M258.1,235.1L263.2,230.8 259.3,227.5 254.2,232z"/>
<path fill="#3d71ff" stroke="#3d71ff" d="M253.1,239.3L258.1,235.1 254.2,232 249.1,236.3z"/>
<path fill="#426afe" stroke="#426afe" d="M248,243.6L253.1,239.3 249.1,236.3 244,240.7z"/>
<path fill="#4563fc" stroke="#4563fc" d="M242.9,247.9L248,243.6 244,240.7 238.9,245.1z"/>
<path fill="#475cfa" stroke="#475cfa" d="M237.8,252.2L242.9,247.9 238.9,245.1 233.9,249.6z"/>
<path fill="#4756f6" stroke="#4756f6" d="M232.7,256.5L237.8,252.2 233.9,249.6 228.8,254z"/>
<path fill="#484ff2" stroke="#484ff2" d="M227.6,260.9L232.7,256.5 228.8,254 223.7,258.4z"/>
<path fill="#4849ec" stroke="#4849ec" d="M222.5,265.2L227.6,260.9 223.7,258.4 218.6,262.9z"/>
<path fill="#4742e6" stroke="#4742e6" d="M217.4,269.6L222.5,265.2 218.6,262.9 213.5,267.4z"/>
<path fill="#463bdd" stroke="#463bdd" d="M212.3,274L217.4,269.6 213.5,267.4 208.4,271.9z"/>
<path fill="#4535d2" stroke="#4535d2" d="M207.2,278.4L212.3,274 208.4,271.9 203.3,276.4z"/>
<path fill="#4330c5" stroke="#4330c5" d="M202.1,282.8L207.2,278.4 203.3,276.4 198.2,281z"/>
<path fill="#402bb7" stroke="#402bb7" d="M197,287.3L202.1,282.8 198.2,281 193.1,285.6z"/>
<path fill="#3e26a8" stroke="#3e26a8" d="M192,291.8L197,287.3 193.1,285.6 188,290.3z"/>
<path fill="#94ca4a" stroke="#94ca4a" d="M440.3,120L445.4,118 441.5,111.5 436.4,113.6z"/>
<path fill="#90ca4d" stroke="#90ca4d" d="M435.2,122L440.3,120 436.4,113.6 431.3,115.6z"/>
<path fill="#8ccb50" stroke="#8ccb50" d="M430.1,123.9L435.2,122 431.3,115.6 426.2,117.7z"/>
<path fill="#87cb54" stroke="#87cb54" d="M425,125.9L430.1,123.9 426.2,117.7 421.1,119.8z"/>
<path fill="#83cc57" stroke="#83cc57" d="M419.9,128L425,125.9 421.1,119.8 416,121.9z"/>
<path fill="#7ecc5b" stroke="#7ecc5b" d="M414.8,130L419.9,128 416,121.9 410.9,124z"/>
<path fill="#79cc5e" stroke="#79cc5e" d="M409.7,132.1L414.8,130 410.9,124 405.8,126.2z"/>
<path fill="#74cd62" stroke="#74cd62" d="M404.6,134.3L409.7,132.1 405.8,126.2 400.7,128.5z"/>
<path fill="#6ecd67" stroke="#6ecd67" d="M399.6,136.5L404.6,134.3 400.7,128.5 395.6,130.8z"/>
<path fill="#68cd6b" stroke="#68cd6b" d="M394.5,138.9L399.6,136.5 395.6,130.8 390.5,133.3z"/>
<path fill="#62cd71" stroke="#62cd71" d="M389.4,141.3L394.5,138.9 390.5,133.3 385.4,135.9z"/>
<path fill="#5bcc76" stroke="#5bcc76" d="M384.3,143.9L389.4,141.3 385.4,135.9 380.4,138.5z"/>
<path fill="#54cc7d" stroke="#54cc7d" d="M379.2,146.7L384.3,143.9 380.4,138.5 375.3,141.4z"/>
<path fill="#4ccb83" stroke="#4ccb83" d="M374.1,149.6L379.2,146.7 375.3,141.4 370.2,144.4z"/>
<path fill="#44ca8a" stroke="#44ca8a" d="M369,152.6L374.1,149.6 370.2,144.4 365.1,147.5z"/>
<path fill="#3cc991" stroke="#3cc991" d="M363.9,155.9L369,152.6 365.1,147.5 360,150.9z"/>
<path fill="#36c899" stroke="#36c899" d="M358.8,159.3L363.9,155.9 360,150.9 354.9,154.4z"/>
<path fill="#31c6a0" stroke="#31c6a0" d="M353.7,162.9L358.8,159.3 354.9,154.4 349.8,158z"/>
<path fill="#2cc4a7" stroke="#2cc4a7" d="M348.6,166.6L353.7,162.9 349.8,158 344.7,161.8z"/>
<path fill="#24c1af" stroke="#24c1af" d="M343.5,170.4L348.6,166.6 344.7,161.8 339.6,165.8z"/>
<path fill="#18bfb6" stroke="#18bfb6" d="M338.5,174.4L343.5,170.4 339.6,165.8 334.5,169.8z"/>
<path fill="#0abdbd" stroke="#0abdbd" d="M333.4,178.5L338.5,174.4 334.5,169.8 329.4,174z"/>
<path fill="#02bac5" stroke="#02bac5" d="M328.3,182.7L333.4,178.5 329.4,174 324.3,178.2z"/>
<path fill="#03b6cc" stroke="#03b6cc" d="M323.2,187L328.3,182.7 324.3,178.2 319.3,182.6z"/>
<path fill="#0db3d3" stroke="#0db3d3" d="M318.1,191.3L323.2,187 319.3,182.6 314.2,186.9z"/>
<path fill="#16aeda" stroke="#16aeda" d="M313,195.6L318.1,191.3 314.2,186.9 309.1,191.3z"/>
<path fill="#1caadf" stroke="#1caadf" d="M307.9,199.9L313,195.6 309.1,191.3 304,195.8z"/>
<path fill="#20a4e3" stroke="#20a4e3" d="M302.8,204.2L307.9,199.9 304,195.8 298.9,200.2z"/>
<path fill="#249fe5" stroke="#249fe5" d="M297.7,208.6L302.8,204.2 298.9,200.2 293.8,204.6z"/>
<path fill="#2699e9" stroke="#2699e9" d="M292.6,212.9L297.7,208.6 293.8,204.6 288.7,209z"/>
<path fill="#2994ed" stroke="#2994ed" d="M287.5,217.2L292.6,212.9 288.7,209 283.6,213.4z"/>
<path fill="#2c8ef2" stroke="#2c8ef2" d="M282.4,221.4L287.5,217.2 283.6,213.4 278.5,217.8z"/>
<path fill="#2d88f6" stroke="#2d88f6" d="M277.4,225.7L282.4,221.4 278.5,217.8 273.4,222.1z"/>
<path fill="#2f82fa" stroke="#2f82fa" d="M272.3,229.9L277.4,225.7 273.4,222.1 268.3,226.4z"/>
<path fill="#337bfc" stroke="#337bfc" d="M267.2,234.1L272.3,229.9 268.3,226.4 263.2,230.8z"/>
<path fill="#3a74fe" stroke="#3a74fe" d="M262.1,238.3L267.2,234.1 263.2,230.8 258.1,235.1z"/>
<path fill="#406dfe" stroke="#406dfe" d="M257,242.5L262.1,238.3 258.1,235.1 253.1,239.3z"/>
<path fill="#4367fd" stroke="#4367fd" d="M251.9,246.7L257,242.5 253.1,239.3 248,243.6z"/>
<path fill="#4660fc" stroke="#4660fc" d="M246.8,250.8L251.9,246.7 248,243.6 242.9,247.9z"/>
<path fill="#475af9" stroke="#475af9" d="M241.7,255L246.8,250.8 242.9,247.9 237.8,252.2z"/>
<path fill="#4854f5" stroke="#4854f5" d="M236.6,259.2L241.7,255 237.8,252.2 232.7,256.5z"/>
<path fill="#484df0" stroke="#484df0" d="M231.5,263.4L236.6,259.2 232.7,256.5 227.6,260.9z"/>
<path fill="#4747eb" stroke="#4747eb" d="M226.4,267.6L231.5,263.4 227.6,260.9 222.5,265.2z"/>
<path fill="#4740e4" stroke="#4740e4" d="M221.3,271.8L226.4,267.6 222.5,265.2 217.4,269.6z"/>
<path fill="#463adb" stroke="#463adb" d="M216.2,276.1L221.3,271.8 217.4,269.6 212.3,274z"/>
<path fill="#4435d0" stroke="#4435d0" d="M211.2,280.4L216.2,276.1 212.3,274 207.2,278.4z"/>
<path fill="#4230c4" stroke="#4230c4" d="M206.1,284.7L211.2,280.4 207.2,278.4 202.1,282.8z"/>
<path fill="#402bb7" stroke="#402bb7" d="M201,289L206.1,284.7 202.1,282.8 197,287.3z"/>
<path fill="#3e26a8" stroke="#3e26a8" d="M195.9,293.4L201,289 197,287.3 192,291.8z"/>
<path fill="#77cc60" stroke="#77cc60" d="M444.2,126.9L449.3,124.9 445.4,118 440.3,120z"/>
<path fill="#73cd63" stroke="#73cd63" d="M439.1,128.8L444.2,126.9 440.3,120 435.2,122z"/>
<path fill="#6fcd66" stroke="#6fcd66" d="M434,130.7L439.1,128.8 435.2,122 430.1,123.9z"/>
<path fill="#6bcd69" stroke="#6bcd69" d="M428.9,132.6L434,130.7 430.1,123.9 425,125.9z"/>
<path fill="#68cd6c" stroke="#68cd6c" d="M423.8,134.5L428.9,132.6 425,125.9 419.9,128z"/>
<path fill="#64cd6f" stroke="#64cd6f" d="M418.8,136.5L423.8,134.5 419.9,128 414.8,130z"/>
<path fill="#60cd72" stroke="#60cd72" d="M413.7,138.5L418.8,136.5 414.8,130 409.7,132.1z"/>
<path fill="#5ccc76" stroke="#5ccc76" d="M408.6,140.5L413.7,138.5 409.7,132.1 404.6,134.3z"/>
<path fill="#57cc7a" stroke="#57cc7a" d="M403.5,142.7L408.6,140.5 404.6,134.3 399.6,136.5z"/>
<path fill="#52cc7e" stroke="#52cc7e" d="M398.4,144.9L403.5,142.7 399.6,136.5 394.5,138.9z"/>
<path fill="#4dcb82" stroke="#4dcb82" d="M393.3,147.3L398.4,144.9 394.5,138.9 389.4,141.3z"/>
<path fill="#47cb87" stroke="#47cb87" d="M388.2,149.8L393.3,147.3 389.4,141.3 384.3,143.9z"/>
<path fill="#41ca8c" stroke="#41ca8c" d="M383.1,152.4L388.2,149.8 384.3,143.9 379.2,146.7z"/>
<path fill="#3cc992" stroke="#3cc992" d="M378,155.2L383.1,152.4 379.2,146.7 374.1,149.6z"/>
<path fill="#37c898" stroke="#37c898" d="M372.9,158.2L378,155.2 374.1,149.6 369,152.6z"/>
<path fill="#33c69e" stroke="#33c69e" d="M367.8,161.3L372.9,158.2 369,152.6 363.9,155.9z"/>
<path fill="#2ec5a4" stroke="#2ec5a4" d="M362.7,164.6L367.8,161.3 363.9,155.9 358.8,159.3z"/>
<path fill="#28c3aa" stroke="#28c3aa" d="M357.7,168.1L362.7,164.6 358.8,159.3 353.7,162.9z"/>
<path fill="#20c1b1" stroke="#20c1b1" d="M352.6,171.7L357.7,168.1 353.7,162.9 348.6,166.6z"/>
<path fill="#14bfb8" stroke="#14bfb8" d="M347.5,175.5L352.6,171.7 348.6,166.6 343.5,170.4z"/>
<path fill="#08bcbf" stroke="#08bcbf" d="M342.4,179.4L347.5,175.5 343.5,170.4 338.5,174.4z"/>
<path fill="#01b9c6" stroke="#01b9c6" d="M337.3,183.4L342.4,179.4 338.5,174.4 333.4,178.5z"/>
<path fill="#04b6cd" stroke="#04b6cd" d="M332.2,187.5L337.3,183.4 333.4,178.5 328.3,182.7z"/>
<path fill="#0db3d4" stroke="#0db3d4" d="M327.1,191.7L332.2,187.5 328.3,182.7 323.2,187z"/>
<path fill="#16afda" stroke="#16afda" d="M322,195.9L327.1,191.7 323.2,187 318.1,191.3z"/>
<path fill="#1caadf" stroke="#1caadf" d="M316.9,200.1L322,195.9 318.1,191.3 313,195.6z"/>
<path fill="#20a5e2" stroke="#20a5e2" d="M311.8,204.4L316.9,200.1 313,195.6 307.9,199.9z"/>
<path fill="#23a0e5" stroke="#23a0e5" d="M306.7,208.6L311.8,204.4 307.9,199.9 302.8,204.2z"/>
<path fill="#269ae8" stroke="#269ae8" d="M301.6,212.8L306.7,208.6 302.8,204.2 297.7,208.6z"/>
<path fill="#2995ec" stroke="#2995ec" d="M296.6,217L301.6,212.8 297.7,208.6 292.6,212.9z"/>
<path fill="#2c8ff1" stroke="#2c8ff1" d="M291.5,221.2L296.6,217 292.6,212.9 287.5,217.2z"/>
<path fill="#2d89f5" stroke="#2d89f5" d="M286.4,225.4L291.5,221.2 287.5,217.2 282.4,221.4z"/>
<path fill="#2e83f9" stroke="#2e83f9" d="M281.3,229.5L286.4,225.4 282.4,221.4 277.4,225.7z"/>
<path fill="#317dfc" stroke="#317dfc" d="M276.2,233.6L281.3,229.5 277.4,225.7 272.3,229.9z"/>
<path fill="#3776fe" stroke="#3776fe" d="M271.1,237.7L276.2,233.6 272.3,229.9 267.2,234.1z"/>
<path fill="#3e70ff" stroke="#3e70ff" d="M266,241.7L271.1,237.7 267.2,234.1 262.1,238.3z"/>
<path fill="#4269fe" stroke="#4269fe" d="M260.9,245.8L266,241.7 262.1,238.3 257,242.5z"/>
<path fill="#4563fd" stroke="#4563fd" d="M255.8,249.8L260.9,245.8 257,242.5 251.9,246.7z"/>
<path fill="#465dfa" stroke="#465dfa" d="M250.7,253.9L255.8,249.8 251.9,246.7 246.8,250.8z"/>
<path fill="#4757f7" stroke="#4757f7" d="M245.6,257.9L250.7,253.9 246.8,250.8 241.7,255z"/>
<path fill="#4851f3" stroke="#4851f3" d="M240.5,261.9L245.6,257.9 241.7,255 236.6,259.2z"/>
<path fill="#484bef" stroke="#484bef" d="M235.5,266L240.5,261.9 236.6,259.2 231.5,263.4z"/>
<path fill="#4745e9" stroke="#4745e9" d="M230.4,270.1L235.5,266 231.5,263.4 226.4,267.6z"/>
<path fill="#473fe2" stroke="#473fe2" d="M225.3,274.2L230.4,270.1 226.4,267.6 221.3,271.8z"/>
<path fill="#4639d9" stroke="#4639d9" d="M220.2,278.3L225.3,274.2 221.3,271.8 216.2,276.1z"/>
<path fill="#4434cf" stroke="#4434cf" d="M215.1,282.4L220.2,278.3 216.2,276.1 211.2,280.4z"/>
<path fill="#422fc2" stroke="#422fc2" d="M210,286.6L215.1,282.4 211.2,280.4 206.1,284.7z"/>
<path fill="#402bb6" stroke="#402bb6" d="M204.9,290.8L210,286.6 206.1,284.7 201,289z"/>
<path fill="#3e26a8" stroke="#3e26a8" d="M199.8,295L204.9,290.8 201,289 195.9,293.4z"/>
<path fill="#59cc78" stroke="#59cc78" d="M448.1,134.3L453.2,132.5 449.3,124.9 444.2,126.9z"/>
<path fill="#56cc7b" stroke="#56cc7b" d="M443.1,136.1L448.1,134.3 444.2,126.9 439.1,128.8z"/>
<path fill="#53cc7d" stroke="#53cc7d" d="M438,137.9L443.1,136.1 439.1,128.8 434,130.7z"/>
<path fill="#50cc80" stroke="#50cc80" d="M432.9,139.8L438,137.9 434,130.7 428.9,132.6z"/>
<path fill="#4dcc82" stroke="#4dcc82" d="M427.8,141.6L432.9,139.8 428.9,132.6 423.8,134.5z"/>
<path fill="#4acb85" stroke="#4acb85" d="M422.7,143.5L427.8,141.6 423.8,134.5 418.8,136.5z"/>
<path fill="#47cb87" stroke="#47cb87" d="M417.6,145.4L422.7,143.5 418.8,136.5 413.7,138.5z"/>
<path fill="#44cb8a" stroke="#44cb8a" d="M412.5,147.3L417.6,145.4 413.7,138.5 408.6,140.5z"/>
<path fill="#40ca8d" stroke="#40ca8d" d="M407.4,149.4L412.5,147.3 408.6,140.5 403.5,142.7z"/>
<path fill="#3dc990" stroke="#3dc990" d="M402.3,151.5L407.4,149.4 403.5,142.7 398.4,144.9z"/>
<path fill="#3ac994" stroke="#3ac994" d="M397.2,153.7L402.3,151.5 398.4,144.9 393.3,147.3z"/>
<path fill="#37c898" stroke="#37c898" d="M392.1,156.1L397.2,153.7 393.3,147.3 388.2,149.8z"/>
<path fill="#34c79c" stroke="#34c79c" d="M387,158.7L392.1,156.1 388.2,149.8 383.1,152.4z"/>
<path fill="#31c6a0" stroke="#31c6a0" d="M381.9,161.3L387,158.7 383.1,152.4 378,155.2z"/>
<path fill="#2dc4a5" stroke="#2dc4a5" d="M376.9,164.2L381.9,161.3 378,155.2 372.9,158.2z"/>
<path fill="#28c3aa" stroke="#28c3aa" d="M371.8,167.2L376.9,164.2 372.9,158.2 367.8,161.3z"/>
<path fill="#22c1b0" stroke="#22c1b0" d="M366.7,170.5L371.8,167.2 367.8,161.3 362.7,164.6z"/>
<path fill="#19bfb6" stroke="#19bfb6" d="M361.6,173.8L366.7,170.5 362.7,164.6 357.7,168.1z"/>
<path fill="#0dbdbc" stroke="#0dbdbc" d="M356.5,177.4L361.6,173.8 357.7,168.1 352.6,171.7z"/>
<path fill="#04bbc2" stroke="#04bbc2" d="M351.4,181L356.5,177.4 352.6,171.7 347.5,175.5z"/>
<path fill="#01b8c8" stroke="#01b8c8" d="M346.3,184.9L351.4,181 347.5,175.5 342.4,179.4z"/>
<path fill="#06b5cf" stroke="#06b5cf" d="M341.2,188.8L346.3,184.9 342.4,179.4 337.3,183.4z"/>
<path fill="#10b2d5" stroke="#10b2d5" d="M336.1,192.8L341.2,188.8 337.3,183.4 332.2,187.5z"/>
<path fill="#18aedb" stroke="#18aedb" d="M331,196.8L336.1,192.8 332.2,187.5 327.1,191.7z"/>
<path fill="#1ca9df" stroke="#1ca9df" d="M325.9,200.9L331,196.8 327.1,191.7 322,195.9z"/>
<path fill="#20a4e3" stroke="#20a4e3" d="M320.8,205L325.9,200.9 322,195.9 316.9,200.1z"/>
<path fill="#249fe5" stroke="#249fe5" d="M315.8,209.1L320.8,205 316.9,200.1 311.8,204.4z"/>
<path fill="#269ae8" stroke="#269ae8" d="M310.7,213.3L315.8,209.1 311.8,204.4 306.7,208.6z"/>
<path fill="#2995ec" stroke="#2995ec" d="M305.6,217.4L310.7,213.3 306.7,208.6 301.6,212.8z"/>
<path fill="#2c8ff0" stroke="#2c8ff0" d="M300.5,221.4L305.6,217.4 301.6,212.8 296.6,217z"/>
<path fill="#2d8af5" stroke="#2d8af5" d="M295.4,225.5L300.5,221.4 296.6,217 291.5,221.2z"/>
<path fill="#2e84f9" stroke="#2e84f9" d="M290.3,229.5L295.4,225.5 291.5,221.2 286.4,225.4z"/>
<path fill="#317efb" stroke="#317efb" d="M285.2,233.5L290.3,229.5 286.4,225.4 281.3,229.5z"/>
<path fill="#3678fe" stroke="#3678fe" d="M280.1,237.5L285.2,233.5 281.3,229.5 276.2,233.6z"/>
<path fill="#3c71ff" stroke="#3c71ff" d="M275,241.4L280.1,237.5 276.2,233.6 271.1,237.7z"/>
<path fill="#416bfe" stroke="#416bfe" d="M269.9,245.3L275,241.4 271.1,237.7 266,241.7z"/>
<path fill="#4465fd" stroke="#4465fd" d="M264.8,249.2L269.9,245.3 266,241.7 260.9,245.8z"/>
<path fill="#465ffb" stroke="#465ffb" d="M259.7,253.1L264.8,249.2 260.9,245.8 255.8,249.8z"/>
<path fill="#475af9" stroke="#475af9" d="M254.7,257L259.7,253.1 255.8,249.8 250.7,253.9z"/>
<path fill="#4854f5" stroke="#4854f5" d="M249.6,260.9L254.7,257 250.7,253.9 245.6,257.9z"/>
<path fill="#484ef1" stroke="#484ef1" d="M244.5,264.8L249.6,260.9 245.6,257.9 240.5,261.9z"/>
<path fill="#4849ed" stroke="#4849ed" d="M239.4,268.7L244.5,264.8 240.5,261.9 235.5,266z"/>
<path fill="#4743e7" stroke="#4743e7" d="M234.3,272.6L239.4,268.7 235.5,266 230.4,270.1z"/>
<path fill="#463de0" stroke="#463de0" d="M229.2,276.5L234.3,272.6 230.4,270.1 225.3,274.2z"/>
<path fill="#4538d7" stroke="#4538d7" d="M224.1,280.5L229.2,276.5 225.3,274.2 220.2,278.3z"/>
<path fill="#4433cd" stroke="#4433cd" d="M219,284.5L224.1,280.5 220.2,278.3 215.1,282.4z"/>
<path fill="#422fc1" stroke="#422fc1" d="M213.9,288.5L219,284.5 215.1,282.4 210,286.6z"/>
<path fill="#402ab5" stroke="#402ab5" d="M208.8,292.5L213.9,288.5 210,286.6 204.9,290.8z"/>
<path fill="#3e26a8" stroke="#3e26a8" d="M203.7,296.6L208.8,292.5 204.9,290.8 199.8,295z"/>
<path fill="#3dc990" stroke="#3dc990" d="M452.1,142.3L457.2,140.6 453.2,132.5 448.1,134.3z"/>
<path fill="#3bc992" stroke="#3bc992" d="M447,144.1L452.1,142.3 448.1,134.3 443.1,136.1z"/>
<path fill="#3ac994" stroke="#3ac994" d="M441.9,145.8L447,144.1 443.1,136.1 438,137.9z"/>
<path fill="#38c896" stroke="#38c896" d="M436.8,147.5L441.9,145.8 438,137.9 432.9,139.8z"/>
<path fill="#37c898" stroke="#37c898" d="M431.7,149.3L436.8,147.5 432.9,139.8 427.8,141.6z"/>
<path fill="#35c799" stroke="#35c799" d="M426.6,151.1L431.7,149.3 427.8,141.6 422.7,143.5z"/>
<path fill="#34c79b" stroke="#34c79b" d="M421.5,152.9L426.6,151.1 422.7,143.5 417.6,145.4z"/>
<path fill="#33c69d" stroke="#33c69d" d="M416.4,154.7L421.5,152.9 417.6,145.4 412.5,147.3z"/>
<path fill="#31c6a0" stroke="#31c6a0" d="M411.3,156.6L416.4,154.7 412.5,147.3 407.4,149.4z"/>
<path fill="#30c5a2" stroke="#30c5a2" d="M406.2,158.7L411.3,156.6 407.4,149.4 402.3,151.5z"/>
<path fill="#2ec4a5" stroke="#2ec4a5" d="M401.2,160.8L406.2,158.7 402.3,151.5 397.2,153.7z"/>
<path fill="#2bc3a8" stroke="#2bc3a8" d="M396.1,163.1L401.2,160.8 397.2,153.7 392.1,156.1z"/>
<path fill="#28c2ab" stroke="#28c2ab" d="M391,165.5L396.1,163.1 392.1,156.1 387,158.7z"/>
<path fill="#23c1af" stroke="#23c1af" d="M385.9,168.1L391,165.5 387,158.7 381.9,161.3z"/>
<path fill="#1dc0b3" stroke="#1dc0b3" d="M380.8,170.8L385.9,168.1 381.9,161.3 376.9,164.2z"/>
<path fill="#15bfb7" stroke="#15bfb7" d="M375.7,173.7L380.8,170.8 376.9,164.2 371.8,167.2z"/>
<path fill="#0bbdbc" stroke="#0bbdbc" d="M370.6,176.8L375.7,173.7 371.8,167.2 366.7,170.5z"/>
<path fill="#04bbc2" stroke="#04bbc2" d="M365.5,180.1L370.6,176.8 366.7,170.5 361.6,173.8z"/>
<path fill="#01b9c7" stroke="#01b9c7" d="M360.4,183.5L365.5,180.1 361.6,173.8 356.5,177.4z"/>
<path fill="#04b6cd" stroke="#04b6cd" d="M355.3,187.1L360.4,183.5 356.5,177.4 351.4,181z"/>
<path fill="#0cb3d2" stroke="#0cb3d2" d="M350.2,190.8L355.3,187.1 351.4,181 346.3,184.9z"/>
<path fill="#14b0d8" stroke="#14b0d8" d="M345.1,194.5L350.2,190.8 346.3,184.9 341.2,188.8z"/>
<path fill="#1aacdd" stroke="#1aacdd" d="M340,198.4L345.1,194.5 341.2,188.8 336.1,192.8z"/>
<path fill="#1ea7e1" stroke="#1ea7e1" d="M335,202.3L340,198.4 336.1,192.8 331,196.8z"/>
<path fill="#21a3e3" stroke="#21a3e3" d="M329.9,206.3L335,202.3 331,196.8 325.9,200.9z"/>
<path fill="#249ee6" stroke="#249ee6" d="M324.8,210.3L329.9,206.3 325.9,200.9 320.8,205z"/>
<path fill="#2699e9" stroke="#2699e9" d="M319.7,214.3L324.8,210.3 320.8,205 315.8,209.1z"/>
<path fill="#2994ed" stroke="#2994ed" d="M314.6,218.3L319.7,214.3 315.8,209.1 310.7,213.3z"/>
<path fill="#2c8ef1" stroke="#2c8ef1" d="M309.5,222.2L314.6,218.3 310.7,213.3 305.6,217.4z"/>
<path fill="#2d89f5" stroke="#2d89f5" d="M304.4,226.2L309.5,222.2 305.6,217.4 300.5,221.4z"/>
<path fill="#2e83f9" stroke="#2e83f9" d="M299.3,230.1L304.4,226.2 300.5,221.4 295.4,225.5z"/>
<path fill="#317efb" stroke="#317efb" d="M294.2,233.9L299.3,230.1 295.4,225.5 290.3,229.5z"/>
<path fill="#3678fd" stroke="#3678fd" d="M289.1,237.8L294.2,233.9 290.3,229.5 285.2,233.5z"/>
<path fill="#3c72ff" stroke="#3c72ff" d="M284,241.6L289.1,237.8 285.2,233.5 280.1,237.5z"/>
<path fill="#406cfe" stroke="#406cfe" d="M278.9,245.4L284,241.6 280.1,237.5 275,241.4z"/>
<path fill="#4466fd" stroke="#4466fd" d="M273.9,249.1L278.9,245.4 275,241.4 269.9,245.3z"/>
<path fill="#4661fc" stroke="#4661fc" d="M268.8,252.9L273.9,249.1 269.9,245.3 264.8,249.2z"/>
<path fill="#475bf9" stroke="#475bf9" d="M263.7,256.6L268.8,252.9 264.8,249.2 259.7,253.1z"/>
<path fill="#4756f7" stroke="#4756f7" d="M258.6,260.3L263.7,256.6 259.7,253.1 254.7,257z"/>
<path fill="#4851f3" stroke="#4851f3" d="M253.5,264.1L258.6,260.3 254.7,257 249.6,260.9z"/>
<path fill="#484bef" stroke="#484bef" d="M248.4,267.8L253.5,264.1 249.6,260.9 244.5,264.8z"/>
<path fill="#4746ea" stroke="#4746ea" d="M243.3,271.5L248.4,267.8 244.5,264.8 239.4,268.7z"/>
<path fill="#4741e4" stroke="#4741e4" d="M238.2,275.3L243.3,271.5 239.4,268.7 234.3,272.6z"/>
<path fill="#463bdd" stroke="#463bdd" d="M233.1,279L238.2,275.3 234.3,272.6 229.2,276.5z"/>
<path fill="#4537d5" stroke="#4537d5" d="M228,282.8L233.1,279 229.2,276.5 224.1,280.5z"/>
<path fill="#4332ca" stroke="#4332ca" d="M222.9,286.6L228,282.8 224.1,280.5 219,284.5z"/>
<path fill="#422ebf" stroke="#422ebf" d="M217.8,290.4L222.9,286.6 219,284.5 213.9,288.5z"/>
<path fill="#402ab4" stroke="#402ab4" d="M212.8,294.3L217.8,290.4 213.9,288.5 208.8,292.5z"/>
<path fill="#3e26a8" stroke="#3e26a8" d="M207.7,298.1L212.8,294.3 208.8,292.5 203.7,296.6z"/>
<path fill="#2cc4a7" stroke="#2cc4a7" d="M456,151L461.1,149.4 457.2,140.6 452.1,142.3z"/>
<path fill="#2bc3a8" stroke="#2bc3a8" d="M450.9,152.7L456,151 452.1,142.3 447,144.1z"/>
<path fill="#2ac3a9" stroke="#2ac3a9" d="M445.8,154.4L450.9,152.7 447,144.1 441.9,145.8z"/>
<path fill="#28c3aa" stroke="#28c3aa" d="M440.7,156L445.8,154.4 441.9,145.8 436.8,147.5z"/>
<path fill="#27c2ac" stroke="#27c2ac" d="M435.6,157.7L440.7,156 436.8,147.5 431.7,149.3z"/>
<path fill="#26c2ad" stroke="#26c2ad" d="M430.5,159.3L435.6,157.7 431.7,149.3 426.6,151.1z"/>
<path fill="#24c1ae" stroke="#24c1ae" d="M425.4,161L430.5,159.3 426.6,151.1 421.5,152.9z"/>
<path fill="#22c1b0" stroke="#22c1b0" d="M420.4,162.8L425.4,161 421.5,152.9 416.4,154.7z"/>
<path fill="#1fc0b1" stroke="#1fc0b1" d="M415.3,164.6L420.4,162.8 416.4,154.7 411.3,156.6z"/>
<path fill="#1cc0b3" stroke="#1cc0b3" d="M410.2,166.5L415.3,164.6 411.3,156.6 406.2,158.7z"/>
<path fill="#19bfb6" stroke="#19bfb6" d="M405.1,168.5L410.2,166.5 406.2,158.7 401.2,160.8z"/>
<path fill="#14beb8" stroke="#14beb8" d="M400,170.7L405.1,168.5 401.2,160.8 396.1,163.1z"/>
<path fill="#0ebebb" stroke="#0ebebb" d="M394.9,173L400,170.7 396.1,163.1 391,165.5z"/>
<path fill="#09bcbe" stroke="#09bcbe" d="M389.8,175.4L394.9,173 391,165.5 385.9,168.1z"/>
<path fill="#04bbc2" stroke="#04bbc2" d="M384.7,178.1L389.8,175.4 385.9,168.1 380.8,170.8z"/>
<path fill="#01b9c6" stroke="#01b9c6" d="M379.6,180.9L384.7,178.1 380.8,170.8 375.7,173.7z"/>
<path fill="#01b8ca" stroke="#01b8ca" d="M374.5,183.8L379.6,180.9 375.7,173.7 370.6,176.8z"/>
<path fill="#06b5ce" stroke="#06b5ce" d="M369.4,186.9L374.5,183.8 370.6,176.8 365.5,180.1z"/>
<path fill="#0db3d3" stroke="#0db3d3" d="M364.3,190.2L369.4,186.9 365.5,180.1 360.4,183.5z"/>
<path fill="#14b0d8" stroke="#14b0d8" d="M359.3,193.7L364.3,190.2 360.4,183.5 355.3,187.1z"/>
<path fill="#19acdc" stroke="#19acdc" d="M354.2,197.2L359.3,193.7 355.3,187.1 350.2,190.8z"/>
<path fill="#1da9e0" stroke="#1da9e0" d="M349.1,200.8L354.2,197.2 350.2,190.8 345.1,194.5z"/>
<path fill="#20a4e3" stroke="#20a4e3" d="M344,204.6L349.1,200.8 345.1,194.5 340,198.4z"/>
<path fill="#23a0e5" stroke="#23a0e5" d="M338.9,208.4L344,204.6 340,198.4 335,202.3z"/>
<path fill="#259be8" stroke="#259be8" d="M333.8,212.2L338.9,208.4 335,202.3 329.9,206.3z"/>
<path fill="#2796eb" stroke="#2796eb" d="M328.7,216L333.8,212.2 329.9,206.3 324.8,210.3z"/>
<path fill="#2b91ef" stroke="#2b91ef" d="M323.6,219.8L328.7,216 324.8,210.3 319.7,214.3z"/>
<path fill="#2d8cf3" stroke="#2d8cf3" d="M318.5,223.7L323.6,219.8 319.7,214.3 314.6,218.3z"/>
<path fill="#2e87f7" stroke="#2e87f7" d="M313.4,227.5L318.5,223.7 314.6,218.3 309.5,222.2z"/>
<path fill="#2f82fa" stroke="#2f82fa" d="M308.3,231.2L313.4,227.5 309.5,222.2 304.4,226.2z"/>
<path fill="#327cfc" stroke="#327cfc" d="M303.2,235L308.3,231.2 304.4,226.2 299.3,230.1z"/>
<path fill="#3777fe" stroke="#3777fe" d="M298.1,238.7L303.2,235 299.3,230.1 294.2,233.9z"/>
<path fill="#3d71ff" stroke="#3d71ff" d="M293.1,242.3L298.1,238.7 294.2,233.9 289.1,237.8z"/>
<path fill="#416bfe" stroke="#416bfe" d="M288,246L293.1,242.3 289.1,237.8 284,241.6z"/>
<path fill="#4466fd" stroke="#4466fd" d="M282.9,249.6L288,246 284,241.6 278.9,245.4z"/>
<path fill="#4561fc" stroke="#4561fc" d="M277.8,253.2L282.9,249.6 278.9,245.4 273.9,249.1z"/>
<path fill="#475cfa" stroke="#475cfa" d="M272.7,256.7L277.8,253.2 273.9,249.1 268.8,252.9z"/>
<path fill="#4757f7" stroke="#4757f7" d="M267.6,260.3L272.7,256.7 268.8,252.9 263.7,256.6z"/>
<path fill="#4852f4" stroke="#4852f4" d="M262.5,263.8L267.6,260.3 263.7,256.6 258.6,260.3z"/>
<path fill="#484df0" stroke="#484df0" d="M257.4,267.4L262.5,263.8 258.6,260.3 253.5,264.1z"/>
<path fill="#4848ec" stroke="#4848ec" d="M252.3,270.9L257.4,267.4 253.5,264.1 248.4,267.8z"/>
<path fill="#4743e7" stroke="#4743e7" d="M247.2,274.5L252.3,270.9 248.4,267.8 243.3,271.5z"/>
<path fill="#463ee1" stroke="#463ee1" d="M242.1,278L247.2,274.5 243.3,271.5 238.2,275.3z"/>
<path fill="#4639da" stroke="#4639da" d="M237,281.6L242.1,278 238.2,275.3 233.1,279z"/>
<path fill="#4435d2" stroke="#4435d2" d="M232,285.2L237,281.6 233.1,279 228,282.8z"/>
<path fill="#4331c8" stroke="#4331c8" d="M226.9,288.8L232,285.2 228,282.8 222.9,286.6z"/>
<path fill="#412ebe" stroke="#412ebe" d="M221.8,292.4L226.9,288.8 222.9,286.6 217.8,290.4z"/>
<path fill="#402ab4" stroke="#402ab4" d="M216.7,296L221.8,292.4 217.8,290.4 212.8,294.3z"/>
<path fill="#3e26a8" stroke="#3e26a8" d="M211.6,299.7L216.7,296 212.8,294.3 207.7,298.1z"/>
<path fill="#0cbdbc" stroke="#0cbdbc" d="M459.9,160.5L465,158.9 461.1,149.4 456,151z"/>
<path fill="#0bbdbd" stroke="#0bbdbd" d="M454.8,162.1L459.9,160.5 456,151 450.9,152.7z"/>
<path fill="#09bdbe" stroke="#09bdbe" d="M449.7,163.6L454.8,162.1 450.9,152.7 445.8,154.4z"/>
<path fill="#08bcbf" stroke="#08bcbf" d="M444.6,165.2L449.7,163.6 445.8,154.4 440.7,156z"/>
<path fill="#07bcc0" stroke="#07bcc0" d="M439.6,166.8L444.6,165.2 440.7,156 435.6,157.7z"/>
<path fill="#06bcc0" stroke="#06bcc0" d="M434.5,168.3L439.6,166.8 435.6,157.7 430.5,159.3z"/>
<path fill="#04bbc2" stroke="#04bbc2" d="M429.4,169.9L434.5,168.3 430.5,159.3 425.4,161z"/>
<path fill="#03bbc3" stroke="#03bbc3" d="M424.3,171.6L429.4,169.9 425.4,161 420.4,162.8z"/>
<path fill="#02bac4" stroke="#02bac4" d="M419.2,173.3L424.3,171.6 420.4,162.8 415.3,164.6z"/>
<path fill="#01bac5" stroke="#01bac5" d="M414.1,175.1L419.2,173.3 415.3,164.6 410.2,166.5z"/>
<path fill="#01b9c7" stroke="#01b9c7" d="M409,177L414.1,175.1 410.2,166.5 405.1,168.5z"/>
<path fill="#01b8c9" stroke="#01b8c9" d="M403.9,179.1L409,177 405.1,168.5 400,170.7z"/>
<path fill="#03b7cb" stroke="#03b7cb" d="M398.8,181.2L403.9,179.1 400,170.7 394.9,173z"/>
<path fill="#05b6ce" stroke="#05b6ce" d="M393.7,183.5L398.8,181.2 394.9,173 389.8,175.4z"/>
<path fill="#09b4d1" stroke="#09b4d1" d="M388.6,186L393.7,183.5 389.8,175.4 384.7,178.1z"/>
<path fill="#0fb2d4" stroke="#0fb2d4" d="M383.5,188.7L388.6,186 384.7,178.1 379.6,180.9z"/>
<path fill="#14b0d8" stroke="#14b0d8" d="M378.5,191.5L383.5,188.7 379.6,180.9 374.5,183.8z"/>
<path fill="#18addb" stroke="#18addb" d="M373.4,194.5L378.5,191.5 374.5,183.8 369.4,186.9z"/>
<path fill="#1baade" stroke="#1baade" d="M368.3,197.6L373.4,194.5 369.4,186.9 364.3,190.2z"/>
<path fill="#1ea7e1" stroke="#1ea7e1" d="M363.2,200.9L368.3,197.6 364.3,190.2 359.3,193.7z"/>
<path fill="#21a3e3" stroke="#21a3e3" d="M358.1,204.3L363.2,200.9 359.3,193.7 354.2,197.2z"/>
<path fill="#239fe5" stroke="#239fe5" d="M353,207.7L358.1,204.3 354.2,197.2 349.1,200.8z"/>
<path fill="#259be8" stroke="#259be8" d="M347.9,211.3L353,207.7 349.1,200.8 344,204.6z"/>
<path fill="#2797eb" stroke="#2797eb" d="M342.8,214.9L347.9,211.3 344,204.6 338.9,208.4z"/>
<path fill="#2a92ee" stroke="#2a92ee" d="M337.7,218.5L342.8,214.9 338.9,208.4 333.8,212.2z"/>
<path fill="#2c8ef2" stroke="#2c8ef2" d="M332.6,222.2L337.7,218.5 333.8,212.2 328.7,216z"/>
<path fill="#2d89f5" stroke="#2d89f5" d="M327.5,225.8L332.6,222.2 328.7,216 323.6,219.8z"/>
<path fill="#2e84f9" stroke="#2e84f9" d="M322.4,229.5L327.5,225.8 323.6,219.8 318.5,223.7z"/>
<path fill="#307ffb" stroke="#307ffb" d="M317.4,233.1L322.4,229.5 318.5,223.7 313.4,227.5z"/>
<path fill="#3479fd" stroke="#3479fd" d="M312.3,236.7L317.4,233.1 313.4,227.5 308.3,231.2z"/>
<path fill="#3a74fe" stroke="#3a74fe" d="M307.2,240.2L312.3,236.7 308.3,231.2 303.2,235z"/>
<path fill="#3f6fff" stroke="#3f6fff" d="M302.1,243.7L307.2,240.2 303.2,235 298.1,238.7z"/>
<path fill="#4269fe" stroke="#4269fe" d="M297,247.2L302.1,243.7 298.1,238.7 293.1,242.3z"/>
<path fill="#4464fd" stroke="#4464fd" d="M291.9,250.6L297,247.2 293.1,242.3 288,246z"/>
<path fill="#4660fb" stroke="#4660fb" d="M286.8,254.1L291.9,250.6 288,246 282.9,249.6z"/>
<path fill="#475bf9" stroke="#475bf9" d="M281.7,257.4L286.8,254.1 282.9,249.6 277.8,253.2z"/>
<path fill="#4757f7" stroke="#4757f7" d="M276.6,260.8L281.7,257.4 277.8,253.2 272.7,256.7z"/>
<path fill="#4852f4" stroke="#4852f4" d="M271.5,264.2L276.6,260.8 272.7,256.7 267.6,260.3z"/>
<path fill="#484df1" stroke="#484df1" d="M266.4,267.5L271.5,264.2 267.6,260.3 262.5,263.8z"/>
<path fill="#4849ed" stroke="#4849ed" d="M261.3,270.8L266.4,267.5 262.5,263.8 257.4,267.4z"/>
<path fill="#4744e8" stroke="#4744e8" d="M256.2,274.2L261.3,270.8 257.4,267.4 252.3,270.9z"/>
<path fill="#4740e3" stroke="#4740e3" d="M251.2,277.5L256.2,274.2 252.3,270.9 247.2,274.5z"/>
<path fill="#463bde" stroke="#463bde" d="M246.1,280.9L251.2,277.5 247.2,274.5 242.1,278z"/>
<path fill="#4537d6" stroke="#4537d6" d="M241,284.2L246.1,280.9 242.1,278 237,281.6z"/>
<path fill="#4434ce" stroke="#4434ce" d="M235.9,287.6L241,284.2 237,281.6 232,285.2z"/>
<path fill="#4330c5" stroke="#4330c5" d="M230.8,291L235.9,287.6 232,285.2 226.9,288.8z"/>
<path fill="#412dbc" stroke="#412dbc" d="M225.7,294.4L230.8,291 226.9,288.8 221.8,292.4z"/>
<path fill="#4029b3" stroke="#4029b3" d="M220.6,297.8L225.7,294.4 221.8,292.4 216.7,296z"/>
<path fill="#3e26a8" stroke="#3e26a8" d="M215.5,301.3L220.6,297.8 216.7,296 211.6,299.7z"/>
<path fill="#09b4d1" stroke="#09b4d1" d="M463.8,170.7L468.9,169.2 465,158.9 459.9,160.5z"/>
<path fill="#0ab4d2" stroke="#0ab4d2" d="M458.8,172.2L463.8,170.7 459.9,160.5 454.8,162.1z"/>
<path fill="#0bb3d2" stroke="#0bb3d2" d="M453.7,173.7L458.8,172.2 454.8,162.1 449.7,163.6z"/>
<path fill="#0cb3d3" stroke="#0cb3d3" d="M448.6,175.2L453.7,173.7 449.7,163.6 444.6,165.2z"/>
<path fill="#0db3d4" stroke="#0db3d4" d="M443.5,176.7L448.6,175.2 444.6,165.2 439.6,166.8z"/>
<path fill="#0eb2d4" stroke="#0eb2d4" d="M438.4,178.2L443.5,176.7 439.6,166.8 434.5,168.3z"/>
<path fill="#10b2d5" stroke="#10b2d5" d="M433.3,179.7L438.4,178.2 434.5,168.3 429.4,169.9z"/>
<path fill="#11b1d6" stroke="#11b1d6" d="M428.2,181.2L433.3,179.7 429.4,169.9 424.3,171.6z"/>
<path fill="#12b1d6" stroke="#12b1d6" d="M423.1,182.9L428.2,181.2 424.3,171.6 419.2,173.3z"/>
<path fill="#13b0d7" stroke="#13b0d7" d="M418,184.6L423.1,182.9 419.2,173.3 414.1,175.1z"/>
<path fill="#15afd9" stroke="#15afd9" d="M412.9,186.3L418,184.6 414.1,175.1 409,177z"/>
<path fill="#17aeda" stroke="#17aeda" d="M407.8,188.3L412.9,186.3 409,177 403.9,179.1z"/>
<path fill="#19addc" stroke="#19addc" d="M402.7,190.3L407.8,188.3 403.9,179.1 398.8,181.2z"/>
<path fill="#1aacdd" stroke="#1aacdd" d="M397.7,192.5L402.7,190.3 398.8,181.2 393.7,183.5z"/>
<path fill="#1caadf" stroke="#1caadf" d="M392.6,194.8L397.7,192.5 393.7,183.5 388.6,186z"/>
<path fill="#1ea8e0" stroke="#1ea8e0" d="M387.5,197.3L392.6,194.8 388.6,186 383.5,188.7z"/>
<path fill="#1fa5e2" stroke="#1fa5e2" d="M382.4,200L387.5,197.3 383.5,188.7 378.5,191.5z"/>
<path fill="#21a2e4" stroke="#21a2e4" d="M377.3,202.8L382.4,200 378.5,191.5 373.4,194.5z"/>
<path fill="#239fe5" stroke="#239fe5" d="M372.2,205.7L377.3,202.8 373.4,194.5 368.3,197.6z"/>
<path fill="#259ce7" stroke="#259ce7" d="M367.1,208.8L372.2,205.7 368.3,197.6 363.2,200.9z"/>
<path fill="#2698ea" stroke="#2698ea" d="M362,212L367.1,208.8 363.2,200.9 358.1,204.3z"/>
<path fill="#2995ec" stroke="#2995ec" d="M356.9,215.3L362,212 358.1,204.3 353,207.7z"/>
<path fill="#2b91ef" stroke="#2b91ef" d="M351.8,218.6L356.9,215.3 353,207.7 347.9,211.3z"/>
<path fill="#2d8cf3" stroke="#2d8cf3" d="M346.7,222L351.8,218.6 347.9,211.3 342.8,214.9z"/>
<path fill="#2d88f6" stroke="#2d88f6" d="M341.6,225.5L346.7,222 342.8,214.9 337.7,218.5z"/>
<path fill="#2e83f9" stroke="#2e83f9" d="M336.6,228.9L341.6,225.5 337.7,218.5 332.6,222.2z"/>
<path fill="#307efb" stroke="#307efb" d="M331.5,232.4L336.6,228.9 332.6,222.2 327.5,225.8z"/>
<path fill="#3479fd" stroke="#3479fd" d="M326.4,235.8L331.5,232.4 327.5,225.8 322.4,229.5z"/>
<path fill="#3974fe" stroke="#3974fe" d="M321.3,239.2L326.4,235.8 322.4,229.5 317.4,233.1z"/>
<path fill="#3e6fff" stroke="#3e6fff" d="M316.2,242.5L321.3,239.2 317.4,233.1 312.3,236.7z"/>
<path fill="#416bfe" stroke="#416bfe" d="M311.1,245.9L316.2,242.5 312.3,236.7 307.2,240.2z"/>
<path fill="#4466fd" stroke="#4466fd" d="M306,249.2L311.1,245.9 307.2,240.2 302.1,243.7z"/>
<path fill="#4561fc" stroke="#4561fc" d="M300.9,252.4L306,249.2 302.1,243.7 297,247.2z"/>
<path fill="#465dfa" stroke="#465dfa" d="M295.8,255.6L300.9,252.4 297,247.2 291.9,250.6z"/>
<path fill="#4759f8" stroke="#4759f8" d="M290.7,258.8L295.8,255.6 291.9,250.6 286.8,254.1z"/>
<path fill="#4755f6" stroke="#4755f6" d="M285.6,262L290.7,258.8 286.8,254.1 281.7,257.4z"/>
<path fill="#4851f3" stroke="#4851f3" d="M280.5,265.1L285.6,262 281.7,257.4 276.6,260.8z"/>
<path fill="#484df0" stroke="#484df0" d="M275.5,268.3L280.5,265.1 276.6,260.8 271.5,264.2z"/>
<path fill="#4849ed" stroke="#4849ed" d="M270.4,271.4L275.5,268.3 271.5,264.2 266.4,267.5z"/>
<path fill="#4744e9" stroke="#4744e9" d="M265.3,274.5L270.4,271.4 266.4,267.5 261.3,270.8z"/>
<path fill="#4740e4" stroke="#4740e4" d="M260.2,277.6L265.3,274.5 261.3,270.8 256.2,274.2z"/>
<path fill="#463cdf" stroke="#463cdf" d="M255.1,280.7L260.2,277.6 256.2,274.2 251.2,277.5z"/>
<path fill="#4539d9" stroke="#4539d9" d="M250,283.9L255.1,280.7 251.2,277.5 246.1,280.9z"/>
<path fill="#4535d2" stroke="#4535d2" d="M244.9,287L250,283.9 246.1,280.9 241,284.2z"/>
<path fill="#4332ca" stroke="#4332ca" d="M239.8,290.1L244.9,287 241,284.2 235.9,287.6z"/>
<path fill="#422fc2" stroke="#422fc2" d="M234.7,293.3L239.8,290.1 235.9,287.6 230.8,291z"/>
<path fill="#412cba" stroke="#412cba" d="M229.6,296.5L234.7,293.3 230.8,291 225.7,294.4z"/>
<path fill="#3f29b1" stroke="#3f29b1" d="M224.5,299.6L229.6,296.5 225.7,294.4 220.6,297.8z"/>
<path fill="#3e26a8" stroke="#3e26a8" d="M219.4,302.9L224.5,299.6 220.6,297.8 215.5,301.3z"/>
<path fill="#1fa6e2" stroke="#1fa6e2" d="M467.8,181.9L472.9,180.4 468.9,169.2 463.8,170.7z"/>
<path fill="#1fa6e2" stroke="#1fa6e2" d="M462.7,183.3L467.8,181.9 463.8,170.7 458.8,172.2z"/>
<path fill="#1fa5e2" stroke="#1fa5e2" d="M457.6,184.7L462.7,183.3 458.8,172.2 453.7,173.7z"/>
<path fill="#20a5e2" stroke="#20a5e2" d="M452.5,186.1L457.6,184.7 453.7,173.7 448.6,175.2z"/>
<path fill="#20a4e3" stroke="#20a4e3" d="M447.4,187.5L452.5,186.1 448.6,175.2 443.5,176.7z"/>
<path fill="#20a4e3" stroke="#20a4e3" d="M442.3,188.9L447.4,187.5 443.5,176.7 438.4,178.2z"/>
<path fill="#21a4e3" stroke="#21a4e3" d="M437.2,190.4L442.3,188.9 438.4,178.2 433.3,179.7z"/>
<path fill="#21a3e3" stroke="#21a3e3" d="M432.1,191.8L437.2,190.4 433.3,179.7 428.2,181.2z"/>
<path fill="#21a3e3" stroke="#21a3e3" d="M427,193.3L432.1,191.8 428.2,181.2 423.1,182.9z"/>
<path fill="#22a2e4" stroke="#22a2e4" d="M421.9,194.9L427,193.3 423.1,182.9 418,184.6z"/>
<path fill="#22a1e4" stroke="#22a1e4" d="M416.9,196.6L421.9,194.9 418,184.6 412.9,186.3z"/>
<path fill="#23a0e5" stroke="#23a0e5" d="M411.8,198.4L416.9,196.6 412.9,186.3 407.8,188.3z"/>
<path fill="#249fe5" stroke="#249fe5" d="M406.7,200.3L411.8,198.4 407.8,188.3 402.7,190.3z"/>
<path fill="#249ee6" stroke="#249ee6" d="M401.6,202.3L406.7,200.3 402.7,190.3 397.7,192.5z"/>
<path fill="#259ce7" stroke="#259ce7" d="M396.5,204.5L401.6,202.3 397.7,192.5 392.6,194.8z"/>
<path fill="#269ae9" stroke="#269ae9" d="M391.4,206.8L396.5,204.5 392.6,194.8 387.5,197.3z"/>
<path fill="#2798ea" stroke="#2798ea" d="M386.3,209.3L391.4,206.8 387.5,197.3 382.4,200z"/>
<path fill="#2895ec" stroke="#2895ec" d="M381.2,211.9L386.3,209.3 382.4,200 377.3,202.8z"/>
<path fill="#2b92ee" stroke="#2b92ee" d="M376.1,214.7L381.2,211.9 377.3,202.8 372.2,205.7z"/>
<path fill="#2c8ff1" stroke="#2c8ff1" d="M371,217.5L376.1,214.7 372.2,205.7 367.1,208.8z"/>
<path fill="#2d8bf4" stroke="#2d8bf4" d="M365.9,220.5L371,217.5 367.1,208.8 362,212z"/>
<path fill="#2d87f6" stroke="#2d87f6" d="M360.8,223.6L365.9,220.5 362,212 356.9,215.3z"/>
<path fill="#2e84f9" stroke="#2e84f9" d="M355.8,226.7L360.8,223.6 356.9,215.3 351.8,218.6z"/>
<path fill="#307ffb" stroke="#307ffb" d="M350.7,229.9L355.8,226.7 351.8,218.6 346.7,222z"/>
<path fill="#337bfc" stroke="#337bfc" d="M345.6,233.1L350.7,229.9 346.7,222 341.6,225.5z"/>
<path fill="#3776fe" stroke="#3776fe" d="M340.5,236.2L345.6,233.1 341.6,225.5 336.6,228.9z"/>
<path fill="#3c72ff" stroke="#3c72ff" d="M335.4,239.4L340.5,236.2 336.6,228.9 331.5,232.4z"/>
<path fill="#3f6dfe" stroke="#3f6dfe" d="M330.3,242.6L335.4,239.4 331.5,232.4 326.4,235.8z"/>
<path fill="#4269fe" stroke="#4269fe" d="M325.2,245.7L330.3,242.6 326.4,235.8 321.3,239.2z"/>
<path fill="#4465fd" stroke="#4465fd" d="M320.1,248.9L325.2,245.7 321.3,239.2 316.2,242.5z"/>
<path fill="#4661fc" stroke="#4661fc" d="M315,251.9L320.1,248.9 316.2,242.5 311.1,245.9z"/>
<path fill="#475dfa" stroke="#475dfa" d="M309.9,255L315,251.9 311.1,245.9 306,249.2z"/>
<path fill="#4759f8" stroke="#4759f8" d="M304.8,258L309.9,255 306,249.2 300.9,252.4z"/>
<path fill="#4755f6" stroke="#4755f6" d="M299.7,261L304.8,258 300.9,252.4 295.8,255.6z"/>
<path fill="#4852f4" stroke="#4852f4" d="M294.7,263.9L299.7,261 295.8,255.6 290.7,258.8z"/>
<path fill="#484ef1" stroke="#484ef1" d="M289.6,266.8L294.7,263.9 290.7,258.8 285.6,262z"/>
<path fill="#484aee" stroke="#484aee" d="M284.5,269.7L289.6,266.8 285.6,262 280.5,265.1z"/>
<path fill="#4747eb" stroke="#4747eb" d="M279.4,272.6L284.5,269.7 280.5,265.1 275.5,268.3z"/>
<path fill="#4743e7" stroke="#4743e7" d="M274.3,275.5L279.4,272.6 275.5,268.3 270.4,271.4z"/>
<path fill="#4740e3" stroke="#4740e3" d="M269.2,278.4L274.3,275.5 270.4,271.4 265.3,274.5z"/>
<path fill="#463cdf" stroke="#463cdf" d="M264.1,281.2L269.2,278.4 265.3,274.5 260.2,277.6z"/>
<path fill="#4639d9" stroke="#4639d9" d="M259,284.1L264.1,281.2 260.2,277.6 255.1,280.7z"/>
<path fill="#4536d4" stroke="#4536d4" d="M253.9,287L259,284.1 255.1,280.7 250,283.9z"/>
<path fill="#4433cd" stroke="#4433cd" d="M248.8,289.9L253.9,287 250,283.9 244.9,287z"/>
<path fill="#4331c6" stroke="#4331c6" d="M243.7,292.7L248.8,289.9 244.9,287 239.8,290.1z"/>
<path fill="#422ebf" stroke="#422ebf" d="M238.6,295.6L243.7,292.7 239.8,290.1 234.7,293.3z"/>
<path fill="#402bb8" stroke="#402bb8" d="M233.6,298.6L238.6,295.6 234.7,293.3 229.6,296.5z"/>
<path fill="#3f29b0" stroke="#3f29b0" d="M228.5,301.5L233.6,298.6 229.6,296.5 224.5,299.6z"/>
<path fill="#3e26a8" stroke="#3e26a8" d="M223.4,304.4L228.5,301.5 224.5,299.6 219.4,302.9z"/>
<path fill="#2a93ee" stroke="#2a93ee" d="M471.7,194L476.8,192.6 472.9,180.4 467.8,181.9z"/>
<path fill="#2a93ee" stroke="#2a93ee" d="M466.6,195.4L471.7,194 467.8,181.9 462.7,183.3z"/>
<path fill="#2a92ee" stroke="#2a92ee" d="M461.5,196.7L466.6,195.4 462.7,183.3 457.6,184.7z"/>
<path fill="#2a92ee" stroke="#2a92ee" d="M456.4,198L461.5,196.7 457.6,184.7 452.5,186.1z"/>
<path fill="#2b92ee" stroke="#2b92ee" d="M451.3,199.4L456.4,198 452.5,186.1 447.4,187.5z"/>
<path fill="#2b92ee" stroke="#2b92ee" d="M446.2,200.7L451.3,199.4 447.4,187.5 442.3,188.9z"/>
<path fill="#2b91ef" stroke="#2b91ef" d="M441.2,202.1L446.2,200.7 442.3,188.9 437.2,190.4z"/>
<path fill="#2b91ef" stroke="#2b91ef" d="M436.1,203.5L441.2,202.1 437.2,190.4 432.1,191.8z"/>
<path fill="#2b91ef" stroke="#2b91ef" d="M431,204.9L436.1,203.5 432.1,191.8 427,193.3z"/>
<path fill="#2c90f0" stroke="#2c90f0" d="M425.9,206.4L431,204.9 427,193.3 421.9,194.9z"/>
<path fill="#2c8ff0" stroke="#2c8ff0" d="M420.8,207.9L425.9,206.4 421.9,194.9 416.9,196.6z"/>
<path fill="#2c8ef1" stroke="#2c8ef1" d="M415.7,209.6L420.8,207.9 416.9,196.6 411.8,198.4z"/>
<path fill="#2d8df2" stroke="#2d8df2" d="M410.6,211.3L415.7,209.6 411.8,198.4 406.7,200.3z"/>
<path fill="#2d8cf3" stroke="#2d8cf3" d="M405.5,213.2L410.6,211.3 406.7,200.3 401.6,202.3z"/>
<path fill="#2d8af4" stroke="#2d8af4" d="M400.4,215.2L405.5,213.2 401.6,202.3 396.5,204.5z"/>
<path fill="#2d89f6" stroke="#2d89f6" d="M395.3,217.4L400.4,215.2 396.5,204.5 391.4,206.8z"/>
<path fill="#2e86f7" stroke="#2e86f7" d="M390.2,219.6L395.3,217.4 391.4,206.8 386.3,209.3z"/>
<path fill="#2e84f8" stroke="#2e84f8" d="M385.1,222L390.2,219.6 386.3,209.3 381.2,211.9z"/>
<path fill="#2f81fa" stroke="#2f81fa" d="M380,224.6L385.1,222 381.2,211.9 376.1,214.7z"/>
<path fill="#317efb" stroke="#317efb" d="M375,227.2L380,224.6 376.1,214.7 371,217.5z"/>
<path fill="#337bfc" stroke="#337bfc" d="M369.9,229.9L375,227.2 371,217.5 365.9,220.5z"/>
<path fill="#3677fe" stroke="#3677fe" d="M364.8,232.7L369.9,229.9 365.9,220.5 360.8,223.6z"/>
<path fill="#3a73fe" stroke="#3a73fe" d="M359.7,235.6L364.8,232.7 360.8,223.6 355.8,226.7z"/>
<path fill="#3e6fff" stroke="#3e6fff" d="M354.6,238.4L359.7,235.6 355.8,226.7 350.7,229.9z"/>
<path fill="#416cfe" stroke="#416cfe" d="M349.5,241.3L354.6,238.4 350.7,229.9 345.6,233.1z"/>
<path fill="#4368fe" stroke="#4368fe" d="M344.4,244.2L349.5,241.3 345.6,233.1 340.5,236.2z"/>
<path fill="#4464fd" stroke="#4464fd" d="M339.3,247.1L344.4,244.2 340.5,236.2 335.4,239.4z"/>
<path fill="#4660fc" stroke="#4660fc" d="M334.2,250L339.3,247.1 335.4,239.4 330.3,242.6z"/>
<path fill="#465dfa" stroke="#465dfa" d="M329.1,252.9L334.2,250 330.3,242.6 325.2,245.7z"/>
<path fill="#4759f9" stroke="#4759f9" d="M324,255.7L329.1,252.9 325.2,245.7 320.1,248.9z"/>
<path fill="#4756f7" stroke="#4756f7" d="M318.9,258.5L324,255.7 320.1,248.9 315,251.9z"/>
<path fill="#4853f5" stroke="#4853f5" d="M313.9,261.3L318.9,258.5 315,251.9 309.9,255z"/>
<path fill="#4850f2" stroke="#4850f2" d="M308.8,264L313.9,261.3 309.9,255 304.8,258z"/>
<path fill="#484cf0" stroke="#484cf0" d="M303.7,266.7L308.8,264 304.8,258 299.7,261z"/>
<path fill="#4849ed" stroke="#4849ed" d="M298.6,269.4L303.7,266.7 299.7,261 294.7,263.9z"/>
<path fill="#4746ea" stroke="#4746ea" d="M293.5,272L298.6,269.4 294.7,263.9 289.6,266.8z"/>
<path fill="#4743e7" stroke="#4743e7" d="M288.4,274.6L293.5,272 289.6,266.8 284.5,269.7z"/>
<path fill="#4740e4" stroke="#4740e4" d="M283.3,277.3L288.4,274.6 284.5,269.7 279.4,272.6z"/>
<path fill="#463de0" stroke="#463de0" d="M278.2,279.9L283.3,277.3 279.4,272.6 274.3,275.5z"/>
<path fill="#463bdc" stroke="#463bdc" d="M273.1,282.5L278.2,279.9 274.3,275.5 269.2,278.4z"/>
<path fill="#4538d7" stroke="#4538d7" d="M268,285L273.1,282.5 269.2,278.4 264.1,281.2z"/>
<path fill="#4536d2" stroke="#4536d2" d="M262.9,287.6L268,285 264.1,281.2 259,284.1z"/>
<path fill="#4433cd" stroke="#4433cd" d="M257.8,290.2L262.9,287.6 259,284.1 253.9,287z"/>
<path fill="#4331c7" stroke="#4331c7" d="M252.8,292.8L257.8,290.2 253.9,287 248.8,289.9z"/>
<path fill="#422fc1" stroke="#422fc1" d="M247.7,295.5L252.8,292.8 248.8,289.9 243.7,292.7z"/>
<path fill="#412dbb" stroke="#412dbb" d="M242.6,298.1L247.7,295.5 243.7,292.7 238.6,295.6z"/>
<path fill="#402ab5" stroke="#402ab5" d="M237.5,300.7L242.6,298.1 238.6,295.6 233.6,298.6z"/>
<path fill="#3f28af" stroke="#3f28af" d="M232.4,303.3L237.5,300.7 233.6,298.6 228.5,301.5z"/>
<path fill="#3e26a8" stroke="#3e26a8" d="M227.3,306L232.4,303.3 228.5,301.5 223.4,304.4z"/>
<path fill="#327bfc" stroke="#327bfc" d="M475.6,207.2L480.7,205.9 476.8,192.6 471.7,194z"/>
<path fill="#337bfc" stroke="#337bfc" d="M470.5,208.5L475.6,207.2 471.7,194 466.6,195.4z"/>
<path fill="#337bfc" stroke="#337bfc" d="M465.4,209.8L470.5,208.5 466.6,195.4 461.5,196.7z"/>
<path fill="#337bfd" stroke="#337bfd" d="M460.4,211.1L465.4,209.8 461.5,196.7 456.4,198z"/>
<path fill="#337bfd" stroke="#337bfd" d="M455.3,212.4L460.4,211.1 456.4,198 451.3,199.4z"/>
<path fill="#337afd" stroke="#337afd" d="M450.2,213.6L455.3,212.4 451.3,199.4 446.2,200.7z"/>
<path fill="#337afd" stroke="#337afd" d="M445.1,214.9L450.2,213.6 446.2,200.7 441.2,202.1z"/>
<path fill="#347afd" stroke="#347afd" d="M440,216.2L445.1,214.9 441.2,202.1 436.1,203.5z"/>
<path fill="#347afd" stroke="#347afd" d="M434.9,217.6L440,216.2 436.1,203.5 431,204.9z"/>
<path fill="#3479fd" stroke="#3479fd" d="M429.8,219L434.9,217.6 431,204.9 425.9,206.4z"/>
<path fill="#3579fd" stroke="#3579fd" d="M424.7,220.4L429.8,219 425.9,206.4 420.8,207.9z"/>
<path fill="#3678fe" stroke="#3678fe" d="M419.6,222L424.7,220.4 420.8,207.9 415.7,209.6z"/>
<path fill="#3777fe" stroke="#3777fe" d="M414.5,223.6L419.6,222 415.7,209.6 410.6,211.3z"/>
<path fill="#3876fe" stroke="#3876fe" d="M409.4,225.3L414.5,223.6 410.6,211.3 405.5,213.2z"/>
<path fill="#3974fe" stroke="#3974fe" d="M404.3,227.1L409.4,225.3 405.5,213.2 400.4,215.2z"/>
<path fill="#3b72fe" stroke="#3b72fe" d="M399.3,229.1L404.3,227.1 400.4,215.2 395.3,217.4z"/>
<path fill="#3d70ff" stroke="#3d70ff" d="M394.2,231.1L399.3,229.1 395.3,217.4 390.2,219.6z"/>
<path fill="#3f6eff" stroke="#3f6eff" d="M389.1,233.3L394.2,231.1 390.2,219.6 385.1,222z"/>
<path fill="#406cfe" stroke="#406cfe" d="M384,235.5L389.1,233.3 385.1,222 380,224.6z"/>
<path fill="#4269fe" stroke="#4269fe" d="M378.9,237.9L384,235.5 380,224.6 375,227.2z"/>
<path fill="#4367fd" stroke="#4367fd" d="M373.8,240.3L378.9,237.9 375,227.2 369.9,229.9z"/>
<path fill="#4564fd" stroke="#4564fd" d="M368.7,242.8L373.8,240.3 369.9,229.9 364.8,232.7z"/>
<path fill="#4561fc" stroke="#4561fc" d="M363.6,245.3L368.7,242.8 364.8,232.7 359.7,235.6z"/>
<path fill="#465efb" stroke="#465efb" d="M358.5,247.8L363.6,245.3 359.7,235.6 354.6,238.4z"/>
<path fill="#475bf9" stroke="#475bf9" d="M353.4,250.4L358.5,247.8 354.6,238.4 349.5,241.3z"/>
<path fill="#4758f8" stroke="#4758f8" d="M348.3,253L353.4,250.4 349.5,241.3 344.4,244.2z"/>
<path fill="#4756f6" stroke="#4756f6" d="M343.2,255.5L348.3,253 344.4,244.2 339.3,247.1z"/>
<path fill="#4853f5" stroke="#4853f5" d="M338.1,258.1L343.2,255.5 339.3,247.1 334.2,250z"/>
<path fill="#4850f2" stroke="#4850f2" d="M333.1,260.6L338.1,258.1 334.2,250 329.1,252.9z"/>
<path fill="#484df0" stroke="#484df0" d="M328,263.1L333.1,260.6 329.1,252.9 324,255.7z"/>
<path fill="#484aee" stroke="#484aee" d="M322.9,265.6L328,263.1 324,255.7 318.9,258.5z"/>
<path fill="#4848ec" stroke="#4848ec" d="M317.8,268L322.9,265.6 318.9,258.5 313.9,261.3z"/>
<path fill="#4745e9" stroke="#4745e9" d="M312.7,270.4L317.8,268 313.9,261.3 308.8,264z"/>
<path fill="#4743e7" stroke="#4743e7" d="M307.6,272.8L312.7,270.4 308.8,264 303.7,266.7z"/>
<path fill="#4740e4" stroke="#4740e4" d="M302.5,275.2L307.6,272.8 303.7,266.7 298.6,269.4z"/>
<path fill="#463ee1" stroke="#463ee1" d="M297.4,277.5L302.5,275.2 298.6,269.4 293.5,272z"/>
<path fill="#463cde" stroke="#463cde" d="M292.3,279.9L297.4,277.5 293.5,272 288.4,274.6z"/>
<path fill="#463ada" stroke="#463ada" d="M287.2,282.2L292.3,279.9 288.4,274.6 283.3,277.3z"/>
<path fill="#4537d7" stroke="#4537d7" d="M282.1,284.5L287.2,282.2 283.3,277.3 278.2,279.9z"/>
<path fill="#4536d2" stroke="#4536d2" d="M277,286.8L282.1,284.5 278.2,279.9 273.1,282.5z"/>
<path fill="#4434ce" stroke="#4434ce" d="M272,289.1L277,286.8 273.1,282.5 268,285z"/>
<path fill="#4332ca" stroke="#4332ca" d="M266.9,291.4L272,289.1 268,285 262.9,287.6z"/>
<path fill="#4330c5" stroke="#4330c5" d="M261.8,293.7L266.9,291.4 262.9,287.6 257.8,290.2z"/>
<path fill="#422fc1" stroke="#422fc1" d="M256.7,296L261.8,293.7 257.8,290.2 252.8,292.8z"/>
<path fill="#412dbc" stroke="#412dbc" d="M251.6,298.3L256.7,296 252.8,292.8 247.7,295.5z"/>
<path fill="#402bb7" stroke="#402bb7" d="M246.5,300.6L251.6,298.3 247.7,295.5 242.6,298.1z"/>
<path fill="#402ab3" stroke="#402ab3" d="M241.4,302.9L246.5,300.6 242.6,298.1 237.5,300.7z"/>
<path fill="#3f28ae" stroke="#3f28ae" d="M236.3,305.2L241.4,302.9 237.5,300.7 232.4,303.3z"/>
<path fill="#3e26a8" stroke="#3e26a8" d="M231.2,307.6L236.3,305.2 232.4,303.3 227.3,306z"/>
<path fill="#465efb" stroke="#465efb" d="M479.6,221.6L484.6,220.3 480.7,205.9 475.6,207.2z"/>
<path fill="#465efb" stroke="#465efb" d="M474.5,222.9L479.6,221.6 475.6,207.2 470.5,208.5z"/>
<path fill="#465efb" stroke="#465efb" d="M469.4,224.1L474.5,222.9 470.5,208.5 465.4,209.8z"/>
<path fill="#465efb" stroke="#465efb" d="M464.3,225.3L469.4,224.1 465.4,209.8 460.4,211.1z"/>
<path fill="#465efb" stroke="#465efb" d="M459.2,226.6L464.3,225.3 460.4,211.1 455.3,212.4z"/>
<path fill="#465efb" stroke="#465efb" d="M454.1,227.8L459.2,226.6 455.3,212.4 450.2,213.6z"/>
<path fill="#465efb" stroke="#465efb" d="M449,229L454.1,227.8 450.2,213.6 445.1,214.9z"/>
<path fill="#465efb" stroke="#465efb" d="M443.9,230.3L449,229 445.1,214.9 440,216.2z"/>
<path fill="#465efb" stroke="#465efb" d="M438.8,231.6L443.9,230.3 440,216.2 434.9,217.6z"/>
<path fill="#465dfb" stroke="#465dfb" d="M433.7,232.9L438.8,231.6 434.9,217.6 429.8,219z"/>
<path fill="#465dfa" stroke="#465dfa" d="M428.6,234.3L433.7,232.9 429.8,219 424.7,220.4z"/>
<path fill="#475dfa" stroke="#475dfa" d="M423.5,235.7L428.6,234.3 424.7,220.4 419.6,222z"/>
<path fill="#475cfa" stroke="#475cfa" d="M418.5,237.1L423.5,235.7 419.6,222 414.5,223.6z"/>
<path fill="#475bfa" stroke="#475bfa" d="M413.4,238.7L418.5,237.1 414.5,223.6 409.4,225.3z"/>
<path fill="#475af9" stroke="#475af9" d="M408.3,240.3L413.4,238.7 409.4,225.3 404.3,227.1z"/>
<path fill="#4759f9" stroke="#4759f9" d="M403.2,242L408.3,240.3 404.3,227.1 399.3,229.1z"/>
<path fill="#4758f8" stroke="#4758f8" d="M398.1,243.8L403.2,242 399.3,229.1 394.2,231.1z"/>
<path fill="#4757f7" stroke="#4757f7" d="M393,245.7L398.1,243.8 394.2,231.1 389.1,233.3z"/>
<path fill="#4755f6" stroke="#4755f6" d="M387.9,247.7L393,245.7 389.1,233.3 384,235.5z"/>
<path fill="#4853f5" stroke="#4853f5" d="M382.8,249.7L387.9,247.7 384,235.5 378.9,237.9z"/>
<path fill="#4852f4" stroke="#4852f4" d="M377.7,251.8L382.8,249.7 378.9,237.9 373.8,240.3z"/>
<path fill="#4850f2" stroke="#4850f2" d="M372.6,253.9L377.7,251.8 373.8,240.3 368.7,242.8z"/>
<path fill="#484ef1" stroke="#484ef1" d="M367.5,256L372.6,253.9 368.7,242.8 363.6,245.3z"/>
<path fill="#484cef" stroke="#484cef" d="M362.4,258.2L367.5,256 363.6,245.3 358.5,247.8z"/>
<path fill="#484aed" stroke="#484aed" d="M357.4,260.4L362.4,258.2 358.5,247.8 353.4,250.4z"/>
<path fill="#4747ec" stroke="#4747ec" d="M352.3,262.6L357.4,260.4 353.4,250.4 348.3,253z"/>
<path fill="#4745e9" stroke="#4745e9" d="M347.2,264.7L352.3,262.6 348.3,253 343.2,255.5z"/>
<path fill="#4743e7" stroke="#4743e7" d="M342.1,266.9L347.2,264.7 343.2,255.5 338.1,258.1z"/>
<path fill="#4741e5" stroke="#4741e5" d="M337,269L342.1,266.9 338.1,258.1 333.1,260.6z"/>
<path fill="#473fe3" stroke="#473fe3" d="M331.9,271.2L337,269 333.1,260.6 328,263.1z"/>
<path fill="#463ee0" stroke="#463ee0" d="M326.8,273.3L331.9,271.2 328,263.1 322.9,265.6z"/>
<path fill="#463cde" stroke="#463cde" d="M321.7,275.3L326.8,273.3 322.9,265.6 317.8,268z"/>
<path fill="#463adb" stroke="#463adb" d="M316.6,277.4L321.7,275.3 317.8,268 312.7,270.4z"/>
<path fill="#4539d9" stroke="#4539d9" d="M311.5,279.4L316.6,277.4 312.7,270.4 307.6,272.8z"/>
<path fill="#4537d6" stroke="#4537d6" d="M306.4,281.5L311.5,279.4 307.6,272.8 302.5,275.2z"/>
<path fill="#4536d3" stroke="#4536d3" d="M301.3,283.5L306.4,281.5 302.5,275.2 297.4,277.5z"/>
<path fill="#4434d0" stroke="#4434d0" d="M296.2,285.4L301.3,283.5 297.4,277.5 292.3,279.9z"/>
<path fill="#4433cd" stroke="#4433cd" d="M291.2,287.4L296.2,285.4 292.3,279.9 287.2,282.2z"/>
<path fill="#4332ca" stroke="#4332ca" d="M286.1,289.4L291.2,287.4 287.2,282.2 282.1,284.5z"/>
<path fill="#4331c6" stroke="#4331c6" d="M281,291.4L286.1,289.4 282.1,284.5 277,286.8z"/>
<path fill="#4230c3" stroke="#4230c3" d="M275.9,293.3L281,291.4 277,286.8 272,289.1z"/>
<path fill="#422ec0" stroke="#422ec0" d="M270.8,295.3L275.9,293.3 272,289.1 266.9,291.4z"/>
<path fill="#412dbd" stroke="#412dbd" d="M265.7,297.3L270.8,295.3 266.9,291.4 261.8,293.7z"/>
<path fill="#412cba" stroke="#412cba" d="M260.6,299.2L265.7,297.3 261.8,293.7 256.7,296z"/>
<path fill="#402bb6" stroke="#402bb6" d="M255.5,301.2L260.6,299.2 256.7,296 251.6,298.3z"/>
<path fill="#402ab3" stroke="#402ab3" d="M250.4,303.2L255.5,301.2 251.6,298.3 246.5,300.6z"/>
<path fill="#3f29b0" stroke="#3f29b0" d="M245.3,305.2L250.4,303.2 246.5,300.6 241.4,302.9z"/>
<path fill="#3e27ac" stroke="#3e27ac" d="M240.2,307.2L245.3,305.2 241.4,302.9 236.3,305.2z"/>
<path fill="#3e26a8" stroke="#3e26a8" d="M235.1,309.2L240.2,307.2 236.3,305.2 231.2,307.6z"/>
<path fill="#4740e4" stroke="#4740e4" d="M483.5,237.3L488.6,236.1 484.6,220.3 479.6,221.6z"/>
<path fill="#4740e4" stroke="#4740e4" d="M478.4,238.6L483.5,237.3 479.6,221.6 474.5,222.9z"/>
<path fill="#4740e4" stroke="#4740e4" d="M473.3,239.8L478.4,238.6 474.5,222.9 469.4,224.1z"/>
<path fill="#4740e4" stroke="#4740e4" d="M468.2,241L473.3,239.8 469.4,224.1 464.3,225.3z"/>
<path fill="#4740e4" stroke="#4740e4" d="M463.1,242.2L468.2,241 464.3,225.3 459.2,226.6z"/>
<path fill="#4740e4" stroke="#4740e4" d="M458,243.4L463.1,242.2 459.2,226.6 454.1,227.8z"/>
<path fill="#4740e4" stroke="#4740e4" d="M452.9,244.6L458,243.4 454.1,227.8 449,229z"/>
<path fill="#4740e4" stroke="#4740e4" d="M447.8,245.8L452.9,244.6 449,229 443.9,230.3z"/>
<path fill="#4740e4" stroke="#4740e4" d="M442.7,247L447.8,245.8 443.9,230.3 438.8,231.6z"/>
<path fill="#4740e4" stroke="#4740e4" d="M437.7,248.3L442.7,247 438.8,231.6 433.7,232.9z"/>
<path fill="#4740e4" stroke="#4740e4" d="M432.6,249.6L437.7,248.3 433.7,232.9 428.6,234.3z"/>
<path fill="#4740e3" stroke="#4740e3" d="M427.5,250.9L432.6,249.6 428.6,234.3 423.5,235.7z"/>
<path fill="#4740e3" stroke="#4740e3" d="M422.4,252.2L427.5,250.9 423.5,235.7 418.5,237.1z"/>
<path fill="#473fe3" stroke="#473fe3" d="M417.3,253.6L422.4,252.2 418.5,237.1 413.4,238.7z"/>
<path fill="#473fe2" stroke="#473fe2" d="M412.2,255L417.3,253.6 413.4,238.7 408.3,240.3z"/>
<path fill="#473ee1" stroke="#473ee1" d="M407.1,256.5L412.2,255 408.3,240.3 403.2,242z"/>
<path fill="#463de0" stroke="#463de0" d="M402,258L407.1,256.5 403.2,242 398.1,243.8z"/>
<path fill="#463ddf" stroke="#463ddf" d="M396.9,259.6L402,258 398.1,243.8 393,245.7z"/>
<path fill="#463cde" stroke="#463cde" d="M391.8,261.2L396.9,259.6 393,245.7 387.9,247.7z"/>
<path fill="#463bdd" stroke="#463bdd" d="M386.7,262.8L391.8,261.2 387.9,247.7 382.8,249.7z"/>
<path fill="#463adb" stroke="#463adb" d="M381.6,264.5L386.7,262.8 382.8,249.7 377.7,251.8z"/>
<path fill="#4639da" stroke="#4639da" d="M376.6,266.2L381.6,264.5 377.7,251.8 372.6,253.9z"/>
<path fill="#4538d8" stroke="#4538d8" d="M371.5,267.9L376.6,266.2 372.6,253.9 367.5,256z"/>
<path fill="#4537d6" stroke="#4537d6" d="M366.4,269.6L371.5,267.9 367.5,256 362.4,258.2z"/>
<path fill="#4536d5" stroke="#4536d5" d="M361.3,271.3L366.4,269.6 362.4,258.2 357.4,260.4z"/>
<path fill="#4536d3" stroke="#4536d3" d="M356.2,273.1L361.3,271.3 357.4,260.4 352.3,262.6z"/>
<path fill="#4435d0" stroke="#4435d0" d="M351.1,274.8L356.2,273.1 352.3,262.6 347.2,264.7z"/>
<path fill="#4434ce" stroke="#4434ce" d="M346,276.5L351.1,274.8 347.2,264.7 342.1,266.9z"/>
<path fill="#4433cc" stroke="#4433cc" d="M340.9,278.2L346,276.5 342.1,266.9 337,269z"/>
<path fill="#4332cb" stroke="#4332cb" d="M335.8,279.9L340.9,278.2 337,269 331.9,271.2z"/>
<path fill="#4332c9" stroke="#4332c9" d="M330.7,281.6L335.8,279.9 331.9,271.2 326.8,273.3z"/>
<path fill="#4331c7" stroke="#4331c7" d="M325.6,283.3L330.7,281.6 326.8,273.3 321.7,275.3z"/>
<path fill="#4330c5" stroke="#4330c5" d="M320.5,284.9L325.6,283.3 321.7,275.3 316.6,277.4z"/>
<path fill="#4230c3" stroke="#4230c3" d="M315.5,286.6L320.5,284.9 316.6,277.4 311.5,279.4z"/>
<path fill="#422fc1" stroke="#422fc1" d="M310.4,288.2L315.5,286.6 311.5,279.4 306.4,281.5z"/>
<path fill="#422ebf" stroke="#422ebf" d="M305.3,289.8L310.4,288.2 306.4,281.5 301.3,283.5z"/>
<path fill="#412ebd" stroke="#412ebd" d="M300.2,291.4L305.3,289.8 301.3,283.5 296.2,285.4z"/>
<path fill="#412dbc" stroke="#412dbc" d="M295.1,293L300.2,291.4 296.2,285.4 291.2,287.4z"/>
<path fill="#412cba" stroke="#412cba" d="M290,294.7L295.1,293 291.2,287.4 286.1,289.4z"/>
<path fill="#412cb8" stroke="#412cb8" d="M284.9,296.3L290,294.7 286.1,289.4 281,291.4z"/>
<path fill="#402bb7" stroke="#402bb7" d="M279.8,297.9L284.9,296.3 281,291.4 275.9,293.3z"/>
<path fill="#402ab5" stroke="#402ab5" d="M274.7,299.5L279.8,297.9 275.9,293.3 270.8,295.3z"/>
<path fill="#402ab3" stroke="#402ab3" d="M269.6,301.1L274.7,299.5 270.8,295.3 265.7,297.3z"/>
<path fill="#3f29b2" stroke="#3f29b2" d="M264.5,302.7L269.6,301.1 265.7,297.3 260.6,299.2z"/>
<path fill="#3f29b0" stroke="#3f29b0" d="M259.4,304.3L264.5,302.7 260.6,299.2 255.5,301.2z"/>
<path fill="#3f28ae" stroke="#3f28ae" d="M254.3,305.9L259.4,304.3 255.5,301.2 250.4,303.2z"/>
<path fill="#3e28ac" stroke="#3e28ac" d="M249.3,307.5L254.3,305.9 250.4,303.2 245.3,305.2z"/>
<path fill="#3e27aa" stroke="#3e27aa" d="M244.2,309.1L249.3,307.5 245.3,305.2 240.2,307.2z"/>
<path fill="#3e26a8" stroke="#3e26a8" d="M239.1,310.7L244.2,309.1 240.2,307.2 235.1,309.2z"/>
<path fill="#3e26a8" stroke="#3e26a8" d="M487.4,254.5L492.5,253.3 488.6,236.1 483.5,237.3z"/>
<path fill="#3e26a8" stroke="#3e26a8" d="M482.3,255.7L487.4,254.5 483.5,237.3 478.4,238.6z"/>
<path fill="#3e26a8" stroke="#3e26a8" d="M477.2,256.9L482.3,255.7 478.4,238.6 473.3,239.8z"/>
<path fill="#3e26a8" stroke="#3e26a8" d="M472.1,258.1L477.2,256.9 473.3,239.8 468.2,241z"/>
<path fill="#3e26a8" stroke="#3e26a8" d="M467,259.3L472.1,258.1 468.2,241 463.1,242.2z"/>
<path fill="#3e26a8" stroke="#3e26a8" d="M461.9,260.5L467,259.3 463.1,242.2 458,243.4z"/>
<path fill="#3e26a8" stroke="#3e26a8" d="M456.9,261.7L461.9,260.5 458,243.4 452.9,244.6z"/>
<path fill="#3e26a8" stroke="#3e26a8" d="M451.8,262.9L456.9,261.7 452.9,244.6 447.8,245.8z"/>
<path fill="#3e26a8" stroke="#3e26a8" d="M446.7,264.1L451.8,262.9 447.8,245.8 442.7,247z"/>
<path fill="#3e26a8" stroke="#3e26a8" d="M441.6,265.3L446.7,264.1 442.7,247 437.7,248.3z"/>
<path fill="#3e26a8" stroke="#3e26a8" d="M436.5,266.5L441.6,265.3 437.7,248.3 432.6,249.6z"/>
<path fill="#3e26a8" stroke="#3e26a8" d="M431.4,267.7L436.5,266.5 432.6,249.6 427.5,250.9z"/>
<path fill="#3e26a8" stroke="#3e26a8" d="M426.3,269L431.4,267.7 427.5,250.9 422.4,252.2z"/>
<path fill="#3e26a8" stroke="#3e26a8" d="M421.2,270.2L426.3,269 422.4,252.2 417.3,253.6z"/>
<path fill="#3e26a8" stroke="#3e26a8" d="M416.1,271.4L421.2,270.2 417.3,253.6 412.2,255z"/>
<path fill="#3e26a8" stroke="#3e26a8" d="M411,272.6L416.1,271.4 412.2,255 407.1,256.5z"/>
<path fill="#3e26a8" stroke="#3e26a8" d="M405.9,273.8L411,272.6 407.1,256.5 402,258z"/>
<path fill="#3e26a8" stroke="#3e26a8" d="M400.8,275L405.9,273.8 402,258 396.9,259.6z"/>
<path fill="#3e26a8" stroke="#3e26a8" d="M395.8,276.2L400.8,275 396.9,259.6 391.8,261.2z"/>
<path fill="#3e26a8" stroke="#3e26a8" d="M390.7,277.4L395.8,276.2 391.8,261.2 386.7,262.8z"/>
<path fill="#3e26a8" stroke="#3e26a8" d="M385.6,278.6L390.7,277.4 386.7,262.8 381.6,264.5z"/>
<path fill="#3e26a8" stroke="#3e26a8" d="M380.5,279.8L385.6,278.6 381.6,264.5 376.6,266.2z"/>
<path fill="#3e26a8" stroke="#3e26a8" d="M375.4,281L380.5,279.8 376.6,266.2 371.5,267.9z"/>
<path fill="#3e26a8" stroke="#3e26a8" d="M370.3,282.2L375.4,281 371.5,267.9 366.4,269.6z"/>
<path fill="#3e26a8" stroke="#3e26a8" d="M365.2,283.4L370.3,282.2 366.4,269.6 361.3,271.3z"/>
<path fill="#3e26a8" stroke="#3e26a8" d="M360.1,284.6L365.2,283.4 361.3,271.3 356.2,273.1z"/>
<path fill="#3e26a8" stroke="#3e26a8" d="M355,285.8L360.1,284.6 356.2,273.1 351.1,274.8z"/>
<path fill="#3e26a8" stroke="#3e26a8" d="M349.9,287L355,285.8 351.1,274.8 346,276.5z"/>
<path fill="#3e26a8" stroke="#3e26a8" d="M344.8,288.2L349.9,287 346,276.5 340.9,278.2z"/>
<path fill="#3e26a8" stroke="#3e26a8" d="M339.7,289.4L344.8,288.2 340.9,278.2 335.8,279.9z"/>
<path fill="#3e26a8" stroke="#3e26a8" d="M334.7,290.6L339.7,289.4 335.8,279.9 330.7,281.6z"/>
<path fill="#3e26a8" stroke="#3e26a8" d="M329.6,291.8L334.7,290.6 330.7,281.6 325.6,283.3z"/>
<path fill="#3e26a8" stroke="#3e26a8" d="M324.5,293L329.6,291.8 325.6,283.3 320.5,284.9z"/>
<path fill="#3e26a8" stroke="#3e26a8" d="M319.4,294.2L324.5,293 320.5,284.9 315.5,286.6z"/>
<path fill="#3e26a8" stroke="#3e26a8" d="M314.3,295.4L319.4,294.2 315.5,286.6 310.4,288.2z"/>
<path fill="#3e26a8" stroke="#3e26a8" d="M309.2,296.6L314.3,295.4 310.4,288.2 305.3,289.8z"/>
<path fill="#3e26a8" stroke="#3e26a8" d="M304.1,297.9L309.2,296.6 305.3,289.8 300.2,291.4z"/>
<path fill="#3e26a8" stroke="#3e26a8" d="M299,299.1L304.1,297.9 300.2,291.4 295.1,293z"/>
<path fill="#3e26a8" stroke="#3e26a8" d="M293.9,300.3L299,299.1 295.1,293 290,294.7z"/>
<path fill="#3e26a8" stroke="#3e26a8" d="M288.8,301.5L293.9,300.3 290,294.7 284.9,296.3z"/>
<path fill="#3e26a8" stroke="#3e26a8" d="M283.7,302.7L288.8,301.5 284.9,296.3 279.8,297.9z"/>
<path fill="#3e26a8" stroke="#3e26a8" d="M278.6,303.9L283.7,302.7 279.8,297.9 274.7,299.5z"/>
<path fill="#3e26a8" stroke="#3e26a8" d="M273.6,305.1L278.6,303.9 274.7,299.5 269.6,301.1z"/>
<path fill="#3e26a8" stroke="#3e26a8" d="M268.5,306.3L273.6,305.1 269.6,301.1 264.5,302.7z"/>
<path fill="#3e26a8" stroke="#3e26a8" d="M263.4,307.5L268.5,306.3 264.5,302.7 259.4,304.3z"/>
<path fill="#3e26a8" stroke="#3e26a8" d="M258.3,308.7L263.4,307.5 259.4,304.3 254.3,305.9z"/>
<path fill="#3e26a8" stroke="#3e26a8" d="M253.2,309.9L258.3,308.7 254.3,305.9 249.3,307.5z"/>
<path fill="#3e26a8" stroke="#3e26a8" d="M248.1,311.1L253.2,309.9 249.3,307.5 244.2,309.1z"/>
<path fill="#3e26a8" stroke="#3e26a8" d="M243,312.3L248.1,311.1 244.2,309.1 239.1,310.7z"/>
</g>
<path d="M243,312.3 248.1,311.1 253.2,309.9 258.3,308.7 263.4,307.5 268.5,306.3 273.6,305.1 278.6,303.9 283.7,302.7 288.8,301.5 293.9,300.3 299,299.1 304.1,297.9 309.2,296.6 314.3,295.4 319.4,294.2 324.5,293 329.6,291.8 334.7,290.6 339.7,289.4 344.8,288.2 349.9,287 355,285.8 360.1,284.6 365.2,283.4 370.3,282.2 375.4,281 380.5,279.8 385.6,278.6 390.7,277.4 395.8,276.2 400.8,275 405.9,273.8 411,272.6 416.1,271.4 421.2,270.2 426.3,269 431.4,267.7 436.5,266.5 441.6,265.3 446.7,264.1 451.8,262.9 456.9,261.7 461.9,260.5 467,259.3 472.1,258.1 477.2,256.9 482.3,255.7 487.4,254.5 492.5,253.3M239.1,310.7 244.2,309.1 249.3,307.5 254.3,305.9 259.4,304.3 264.5,302.7 269.6,301.1 274.7,299.5 279.8,297.9 284.9,296.3 290,294.7 295.1,293 300.2,291.4 305.3,289.8 310.4,288.2 315.5,286.6 320.5,284.9 325.6,283.3 330.7,281.6 335.8,279.9 340.9,278.2 346,276.5 351.1,274.8 356.2,273.1 361.3,271.3 366.4,269.6 371.5,267.9 376.6,266.2 381.6,264.5 386.7,262.8 391.8,261.2 396.9,259.6 402,258 407.1,256.5 412.2,255 417.3,253.6 422.4,252.2 427.5,250.9 432.6,249.6 437.7,248.3 442.7,247 447.8,245.8 452.9,244.6 458,243.4 463.1,242.2 468.2,241 473.3,239.8 478.4,238.6 483.5,237.3 488.6,236.1M235.1,309.2 240.2,307.2 245.3,305.2 250.4,303.2 255.5,301.2 260.6,299.2 265.7,297.3 270.8,295.3 275.9,293.3 281,291.4 286.1,289.4 291.2,287.4 296.2,285.4 301.3,283.5 306.4,281.5 311.5,279.4 316.6,277.4 321.7,275.3 326.8,273.3 331.9,271.2 337,269 342.1,266.9 347.2,264.7 352.3,262.6 357.4,260.4 362.4,258.2 367.5,256 372.6,253.9 377.7,251.8 382.8,249.7 387.9,247.7 393,245.7 398.1,243.8 403.2,242 408.3,240.3 413.4,238.7 418.5,237.1 423.5,235.7 428.6,234.3 433.7,232.9 438.8,231.6 443.9,230.3 449,229 454.1,227.8 459.2,226.6 464.3,225.3 469.4,224.1 474.5,222.9 479.6,221.6 484.6,220.3M231.2,307.6 236.3,305.2 241.4,302.9 246.5,300.6 251.6,298.3 256.7,296 261.8,293.7 266.9,291.4 272,289.1 277,286.8 282.1,284.5 287.2,282.2 292.3,279.9 297.4,277.5 302.5,275.2 307.6,272.8 312.7,270.4 317.8,268 322.9,265.6 328,263.1 333.1,260.6 338.1,258.1 343.2,255.5 348.3,253 353.4,250.4 358.5,247.8 363.6,245.3 368.7,242.8 373.8,240.3 378.9,237.9 384,235.5 389.1,233.3 394.2,231.1 399.3,229.1 404.3,227.1 409.4,225.3 414.5,223.6 419.6,222 424.7,220.4 429.8,219 434.9,217.6 440,216.2 445.1,214.9 450.2,213.6 455.3,212.4 460.4,211.1 465.4,209.8 470.5,208.5 475.6,207.2 480.7,205.9M227.3,306 232.4,303.3 237.5,300.7 242.6,298.1 247.7,295.5 252.8,292.8 257.8,290.2 262.9,287.6 268,285 273.1,282.5 278.2,279.9 283.3,277.3 288.4,274.6 293.5,272 298.6,269.4 303.7,266.7 308.8,264 313.9,261.3 318.9,258.5 324,255.7 329.1,252.9 334.2,250 339.3,247.1 344.4,244.2 349.5,241.3 354.6,238.4 359.7,235.6 364.8,232.7 369.9,229.9 375,227.2 380,224.6 385.1,222 390.2,219.6 395.3,217.4 400.4,215.2 405.5,213.2 410.6,211.3 415.7,209.6 420.8,207.9 425.9,206.4 431,204.9 436.1,203.5 441.2,202.1 446.2,200.7 451.3,199.4 456.4,198 461.5,196.7 466.6,195.4 471.7,194 476.8,192.6M223.4,304.4 228.5,301.5 233.6,298.6 238.6,295.6 243.7,292.7 248.8,289.9 253.9,287 259,284.1 264.1,281.2 269.2,278.4 274.3,275.5 279.4,272.6 284.5,269.7 289.6,266.8 294.7,263.9 299.7,261 304.8,258 309.9,255 315,251.9 320.1,248.9 325.2,245.7 330.3,242.6 335.4,239.4 340.5,236.2 345.6,233.1 350.7,229.9 355.8,226.7 360.8,223.6 365.9,220.5 371,217.5 376.1,214.7 381.2,211.9 386.3,209.3 391.4,206.8 396.5,204.5 401.6,202.3 406.7,200.3 411.8,198.4 416.9,196.6 421.9,194.9 427,193.3 432.1,191.8 437.2,190.4 442.3,188.9 447.4,187.5 452.5,186.1 457.6,184.7 462.7,183.3 467.8,181.9 472.9,180.4M219.4,302.9 224.5,299.6 229.6,296.5 234.7,293.3 239.8,290.1 244.9,287 250,283.9 255.1,280.7 260.2,277.6 265.3,274.5 270.4,271.4 275.5,268.3 280.5,265.1 285.6,262 290.7,258.8 295.8,255.6 300.9,252.4 306,249.2 311.1,245.9 316.2,242.5 321.3,239.2 326.4,235.8 331.5,232.4 336.6,228.9 341.6,225.5 346.7,222 351.8,218.6 356.9,215.3 362,212 367.1,208.8 372.2,205.7 377.3,202.8 382.4,200 387.5,197.3 392.6,194.8 397.7,192.5 402.7,190.3 407.8,188.3 412.9,186.3 418,184.6 423.1,182.9 428.2,181.2 433.3,179.7 438.4,178.2 443.5,176.7 448.6,175.2 453.7,173.7 458.8,172.2 463.8,170.7 468.9,169.2M215.5,301.3 220.6,297.8 225.7,294.4 230.8,291 235.9,287.6 241,284.2 246.1,280.9 251.2,277.5 256.2,274.2 261.3,270.8 266.4,267.5 271.5,264.2 276.6,260.8 281.7,257.4 286.8,254.1 291.9,250.6 297,247.2 302.1,243.7 307.2,240.2 312.3,236.7 317.4,233.1 322.4,229.5 327.5,225.8 332.6,222.2 337.7,218.5 342.8,214.9 347.9,211.3 353,207.7 358.1,204.3 363.2,200.9 368.3,197.6 373.4,194.5 378.5,191.5 383.5,188.7 388.6,186 393.7,183.5 398.8,181.2 403.9,179.1 409,177 414.1,175.1 419.2,173.3 424.3,171.6 429.4,169.9 434.5,168.3 439.6,166.8 444.6,165.2 449.7,163.6 454.8,162.1 459.9,160.5 465,158.9M211.6,299.7 216.7,296 221.8,292.4 226.9,288.8 232,285.2 237,281.6 242.1,278 247.2,274.5 252.3,270.9 257.4,267.4 262.5,263.8 267.6,260.3 272.7,256.7 277.8,253.2 282.9,249.6 288,246 293.1,242.3 298.1,238.7 303.2,235 308.3,231.2 313.4,227.5 318.5,223.7 323.6,219.8 328.7,216 333.8,212.2 338.9,208.4 344,204.6 349.1,200.8 354.2,197.2 359.3,193.7 364.3,190.2 369.4,186.9 374.5,183.8 379.6,180.9 384.7,178.1 389.8,175.4 394.9,173 400,170.7 405.1,168.5 410.2,166.5 415.3,164.6 420.4,162.8 425.4,161 430.5,159.3 435.6,157.7 440.7,156 445.8,154.4 450.9,152.7 456,151 461.1,149.4M207.7,298.1 212.8,294.3 217.8,290.4 222.9,286.6 228,282.8 233.1,279 238.2,275.3 243.3,271.5 248.4,267.8 253.5,264.1 258.6,260.3 263.7,256.6 268.8,252.9 273.9,249.1 278.9,245.4 284,241.6 289.1,237.8 294.2,233.9 299.3,230.1 304.4,226.2 309.5,222.2 314.6,218.3 319.7,214.3 324.8,210.3 329.9,206.3 335,202.3 340,198.4 345.1,194.5 350.2,190.8 355.3,187.1 360.4,183.5 365.5,180.1 370.6,176.8 375.7,173.7 380.8,170.8 385.9,168.1 391,165.5 396.1,163.1 401.2,160.8 406.2,158.7 411.3,156.6 416.4,154.7 421.5,152.9 426.6,151.1 431.7,149.3 436.8,147.5 441.9,145.8 447,144.1 452.1,142.3 457.2,140.6M203.7,296.6 208.8,292.5 213.9,288.5 219,284.5 224.1,280.5 229.2,276.5 234.3,272.6 239.4,268.7 244.5,264.8 249.6,260.9 254.7,257 259.7,253.1 264.8,249.2 269.9,245.3 275,241.4 280.1,237.5 285.2,233.5 290.3,229.5 295.4,225.5 300.5,221.4 305.6,217.4 310.7,213.3 315.8,209.1 320.8,205 325.9,200.9 331,196.8 336.1,192.8 341.2,188.8 346.3,184.9 351.4,181 356.5,177.4 361.6,173.8 366.7,170.5 371.8,167.2 376.9,164.2 381.9,161.3 387,158.7 392.1,156.1 397.2,153.7 402.3,151.5 407.4,149.4 412.5,147.3 417.6,145.4 422.7,143.5 427.8,141.6 432.9,139.8 438,137.9 443.1,136.1 448.1,134.3 453.2,132.5M199.8,295 204.9,290.8 210,286.6 215.1,282.4 220.2,278.3 225.3,274.2 230.4,270.1 235.5,266 240.5,261.9 245.6,257.9 250.7,253.9 255.8,249.8 260.9,245.8 266,241.7 271.1,237.7 276.2,233.6 281.3,229.5 286.4,225.4 291.5,221.2 296.6,217 301.6,212.8 306.7,208.6 311.8,204.4 316.9,200.1 322,195.9 327.1,191.7 332.2,187.5 337.3,183.4 342.4,179.4 347.5,175.5 352.6,171.7 357.7,168.1 362.7,164.6 367.8,161.3 372.9,158.2 378,155.2 383.1,152.4 388.2,149.8 393.3,147.3 398.4,144.9 403.5,142.7 408.6,140.5 413.7,138.5 418.8,136.5 423.8,134.5 428.9,132.6 434,130.7 439.1,128.8 444.2,126.9 449.3,124.9M195.9,293.4 201,289 206.1,284.7 211.2,280.4 216.2,276.1 221.3,271.8 226.4,267.6 231.5,263.4 236.6,259.2 241.7,255 246.8,250.8 251.9,246.7 257,242.5 262.1,238.3 267.2,234.1 272.3,229.9 277.4,225.7 282.4,221.4 287.5,217.2 292.6,212.9 297.7,208.6 302.8,204.2 307.9,199.9 313,195.6 318.1,191.3 323.2,187 328.3,182.7 333.4,178.5 338.5,174.4 343.5,170.4 348.6,166.6 353.7,162.9 358.8,159.3 363.9,155.9 369,152.6 374.1,149.6 379.2,146.7 384.3,143.9 389.4,141.3 394.5,138.9 399.6,136.5 404.6,134.3 409.7,132.1 414.8,130 419.9,128 425,125.9 430.1,123.9 435.2,122 440.3,120 445.4,118M192,291.8 197,287.3 202.1,282.8 207.2,278.4 212.3,274 217.4,269.6 222.5,265.2 227.6,260.9 232.7,256.5 237.8,252.2 242.9,247.9 248,243.6 253.1,239.3 258.1,235.1 263.2,230.8 268.3,226.4 273.4,222.1 278.5,217.8 283.6,213.4 288.7,209 293.8,204.6 298.9,200.2 304,195.8 309.1,191.3 314.2,186.9 319.3,182.6 324.3,178.2 329.4,174 334.5,169.8 339.6,165.8 344.7,161.8 349.8,158 354.9,154.4 360,150.9 365.1,147.5 370.2,144.4 375.3,141.4 380.4,138.5 385.4,135.9 390.5,133.3 395.6,130.8 400.7,128.5 405.8,126.2 410.9,124 416,121.9 421.1,119.8 426.2,117.7 431.3,115.6 436.4,113.6 441.5,111.5M188,290.3 193.1,285.6 198.2,281 203.3,276.4 208.4,271.9 213.5,267.4 218.6,262.9 223.7,258.4 228.8,254 233.9,249.6 238.9,245.1 244,240.7 249.1,236.3 254.2,232 259.3,227.5 264.4,223.1 269.5,218.7 274.6,214.3 279.7,209.8 284.8,205.3 289.9,200.9 295,196.4 300,191.9 305.1,187.4 310.2,182.9 315.3,178.5 320.4,174.1 325.5,169.8 330.6,165.6 335.7,161.4 340.8,157.4 345.9,153.6 351,149.8 356.1,146.3 361.2,142.9 366.2,139.6 371.3,136.5 376.4,133.6 381.5,130.8 386.6,128.1 391.7,125.6 396.8,123.2 401.9,120.8 407,118.5 412.1,116.3 417.2,114.1 422.3,111.9 427.3,109.8 432.4,107.6 437.5,105.5M184.1,288.7 189.2,283.9 194.3,279.2 199.4,274.5 204.5,269.9 209.6,265.2 214.7,260.6 219.7,256.1 224.8,251.5 229.9,247 235,242.5 240.1,238 245.2,233.5 250.3,229 255.4,224.5 260.5,220 265.6,215.5 270.7,211 275.8,206.4 280.8,201.9 285.9,197.3 291,192.8 296.1,188.2 301.2,183.7 306.3,179.1 311.4,174.7 316.5,170.2 321.6,165.9 326.7,161.6 331.8,157.4 336.9,153.3 341.9,149.4 347,145.6 352.1,142 357.2,138.5 362.3,135.2 367.4,132 372.5,129 377.6,126.1 382.7,123.4 387.8,120.7 392.9,118.2 398,115.8 403.1,113.4 408.1,111.1 413.2,108.8 418.3,106.5 423.4,104.3 428.5,102.1 433.6,99.9M180.2,287.1 185.3,282.3 190.4,277.4 195.5,272.6 200.5,267.9 205.6,263.1 210.7,258.4 215.8,253.8 220.9,249.1 226,244.5 231.1,239.9 236.2,235.3 241.3,230.7 246.4,226.2 251.5,221.6 256.6,217 261.6,212.4 266.7,207.8 271.8,203.2 276.9,198.6 282,194 287.1,189.4 292.2,184.8 297.3,180.2 302.4,175.6 307.5,171.1 312.6,166.6 317.7,162.2 322.7,157.9 327.8,153.7 332.9,149.6 338,145.6 343.1,141.7 348.2,138 353.3,134.5 358.4,131.1 363.5,127.9 368.6,124.8 373.7,121.8 378.8,119 383.8,116.2 388.9,113.6 394,111.1 399.1,108.6 404.2,106.2 409.3,103.9 414.4,101.5 419.5,99.2 424.6,96.9 429.7,94.6M176.2,285.6 181.3,280.6 186.4,275.7 191.5,270.8 196.6,265.9 201.7,261.1 206.8,256.3 211.9,251.5 217,246.8 222.1,242.1 227.2,237.4 232.3,232.7 237.4,228.1 242.4,223.4 247.5,218.8 252.6,214.1 257.7,209.5 262.8,204.8 267.9,200.2 273,195.5 278.1,190.8 283.2,186.2 288.3,181.5 293.4,176.9 298.5,172.3 303.5,167.7 308.6,163.2 313.7,158.8 318.8,154.4 323.9,150.2 329,146 334.1,142 339.2,138.1 344.3,134.3 349.4,130.7 354.5,127.3 359.6,124 364.6,120.8 369.7,117.8 374.8,114.8 379.9,112 385,109.3 390.1,106.7 395.2,104.2 400.3,101.7 405.4,99.2 410.5,96.8 415.6,94.4 420.7,92.1 425.7,89.7M172.3,284 177.4,278.9 182.5,273.9 187.6,268.9 192.7,264 197.8,259.1 202.9,254.2 208,249.4 213.1,244.6 218.1,239.8 223.2,235 228.3,230.3 233.4,225.5 238.5,220.8 243.6,216.1 248.7,211.4 253.8,206.7 258.9,202 264,197.3 269.1,192.5 274.2,187.8 279.3,183.1 284.3,178.4 289.4,173.8 294.5,169.1 299.6,164.5 304.7,160 309.8,155.5 314.9,151.2 320,146.9 325.1,142.7 330.2,138.6 335.3,134.7 340.4,130.9 345.4,127.2 350.5,123.7 355.6,120.3 360.7,117.1 365.8,114 370.9,111 376,108.1 381.1,105.3 386.2,102.6 391.3,100 396.4,97.4 401.5,94.9 406.5,92.4 411.6,90 416.7,87.6 421.8,85.1M168.4,282.4 173.5,277.3 178.6,272.2 183.7,267.1 188.8,262.1 193.9,257.1 198.9,252.2 204,247.2 209.1,242.4 214.2,237.5 219.3,232.7 224.4,227.9 229.5,223.1 234.6,218.3 239.7,213.5 244.8,208.8 249.9,204 255,199.2 260,194.5 265.1,189.7 270.2,185 275.3,180.2 280.4,175.5 285.5,170.8 290.6,166.2 295.7,161.5 300.8,157 305.9,152.5 311,148.1 316.1,143.8 321.2,139.6 326.2,135.5 331.3,131.5 336.4,127.7 341.5,123.9 346.6,120.4 351.7,116.9 356.8,113.6 361.9,110.4 367,107.4 372.1,104.4 377.2,101.6 382.3,98.8 387.3,96.1 392.4,93.5 397.5,90.9 402.6,88.3 407.7,85.8 412.8,83.3 417.9,80.8M164.5,280.8 169.6,275.6 174.7,270.4 179.7,265.3 184.8,260.2 189.9,255.2 195,250.2 200.1,245.2 205.2,240.2 210.3,235.3 215.4,230.4 220.5,225.5 225.6,220.7 230.7,215.9 235.8,211 240.8,206.2 245.9,201.4 251,196.6 256.1,191.8 261.2,187 266.3,182.2 271.4,177.5 276.5,172.7 281.6,168 286.7,163.3 291.8,158.7 296.9,154.1 301.9,149.6 307,145.2 312.1,140.8 317.2,136.6 322.3,132.5 327.4,128.5 332.5,124.6 337.6,120.8 342.7,117.2 347.8,113.7 352.9,110.4 358,107.1 363.1,104 368.1,101 373.2,98 378.3,95.2 383.4,92.4 388.5,89.7 393.6,87.1 398.7,84.4 403.8,81.9 408.9,79.3 414,76.8M160.5,279.3 165.6,274 170.7,268.7 175.8,263.5 180.9,258.4 186,253.3 191.1,248.2 196.2,243.1 201.3,238.1 206.4,233.2 211.5,228.2 216.6,223.3 221.6,218.4 226.7,213.5 231.8,208.6 236.9,203.8 242,198.9 247.1,194.1 252.2,189.3 257.3,184.4 262.4,179.6 267.5,174.8 272.6,170.1 277.7,165.3 282.7,160.6 287.8,156 292.9,151.4 298,146.9 303.1,142.4 308.2,138.1 313.3,133.8 318.4,129.7 323.5,125.6 328.6,121.7 333.7,117.9 338.8,114.3 343.8,110.7 348.9,107.3 354,104 359.1,100.8 364.2,97.7 369.3,94.7 374.4,91.8 379.5,89 384.6,86.2 389.7,83.5 394.8,80.8 399.9,78.1 405,75.5 410,72.9M156.6,277.7 161.7,272.3 166.8,267 171.9,261.8 177,256.6 182.1,251.4 187.2,246.3 192.3,241.2 197.4,236.1 202.4,231.1 207.5,226.1 212.6,221.1 217.7,216.1 222.8,211.2 227.9,206.3 233,201.4 238.1,196.5 243.2,191.6 248.3,186.8 253.4,181.9 258.5,177.1 263.5,172.3 268.6,167.5 273.7,162.8 278.8,158.1 283.9,153.4 289,148.8 294.1,144.3 299.2,139.8 304.3,135.4 309.4,131.2 314.5,127 319.6,122.9 324.6,119 329.7,115.2 334.8,111.4 339.9,107.9 345,104.4 350.1,101 355.2,97.8 360.3,94.6 365.4,91.6 370.5,88.6 375.6,85.7 380.7,82.9 385.7,80.1 390.8,77.3 395.9,74.6 401,71.9 406.1,69.3M152.7,276.1 157.8,270.7 162.9,265.3 168,260 173.1,254.8 178.1,249.5 183.2,244.4 188.3,239.2 193.4,234.1 198.5,229 203.6,224 208.7,218.9 213.8,214 218.9,209 224,204 229.1,199.1 234.2,194.2 239.3,189.3 244.3,184.4 249.4,179.5 254.5,174.7 259.6,169.9 264.7,165.1 269.8,160.3 274.9,155.6 280,150.9 285.1,146.3 290.2,141.8 295.3,137.3 300.4,132.9 305.4,128.6 310.5,124.4 315.6,120.4 320.7,116.4 325.8,112.5 330.9,108.8 336,105.1 341.1,101.6 346.2,98.2 351.3,94.9 356.4,91.7 361.5,88.6 366.5,85.6 371.6,82.6 376.7,79.7 381.8,76.8 386.9,74 392,71.3 397.1,68.6 402.2,65.9M148.8,274.5 153.9,269.1 158.9,263.7 164,258.3 169.1,253 174.2,247.7 179.3,242.5 184.4,237.3 189.5,232.1 194.6,227 199.7,221.9 204.8,216.9 209.9,211.8 215,206.8 220,201.8 225.1,196.9 230.2,191.9 235.3,187 240.4,182.1 245.5,177.2 250.6,172.4 255.7,167.5 260.8,162.7 265.9,157.9 271,153.2 276.1,148.5 281.2,143.9 286.2,139.4 291.3,134.9 296.4,130.5 301.5,126.2 306.6,122 311.7,117.9 316.8,113.9 321.9,110 327,106.2 332.1,102.6 337.2,99 342.3,95.5 347.3,92.2 352.4,88.9 357.5,85.8 362.6,82.7 367.7,79.6 372.8,76.7 377.9,73.8 383,70.9 388.1,68.1 393.2,65.3 398.3,62.6M144.8,273 149.9,267.5 155,262 160.1,256.6 165.2,251.2 170.3,245.9 175.4,240.6 180.5,235.4 185.6,230.2 190.7,225 195.8,219.9 200.8,214.8 205.9,209.7 211,204.7 216.1,199.7 221.2,194.7 226.3,189.7 231.4,184.8 236.5,179.9 241.6,175 246.7,170.1 251.8,165.2 256.9,160.4 261.9,155.7 267,150.9 272.1,146.2 277.2,141.6 282.3,137.1 287.4,132.6 292.5,128.2 297.6,123.9 302.7,119.7 307.8,115.5 312.9,111.5 318,107.6 323.1,103.8 328.1,100.1 333.2,96.5 338.3,93 343.4,89.6 348.5,86.3 353.6,83 358.7,79.9 363.8,76.8 368.9,73.8 374,70.9 379.1,68 384.2,65.1 389.2,62.3 394.3,59.5M140.9,271.4 146,265.8 151.1,260.3 156.2,254.9 161.3,249.5 166.4,244.1 171.5,238.8 176.6,233.5 181.6,228.3 186.7,223.1 191.8,217.9 196.9,212.8 202,207.7 207.1,202.7 212.2,197.6 217.3,192.6 222.4,187.6 227.5,182.6 232.6,177.7 237.7,172.8 242.7,167.9 247.8,163 252.9,158.2 258,153.4 263.1,148.7 268.2,144 273.3,139.4 278.4,134.8 283.5,130.4 288.6,126 293.7,121.6 298.8,117.4 303.8,113.3 308.9,109.2 314,105.3 319.1,101.4 324.2,97.7 329.3,94.1 334.4,90.5 339.5,87.1 344.6,83.7 349.7,80.5 354.8,77.3 359.9,74.1 365,71.1 370,68.1 375.1,65.1 380.2,62.2 385.3,59.3 390.4,56.5M137,269.8 142.1,264.2 147.2,258.7 152.3,253.2 157.4,247.8 162.4,242.4 167.5,237 172.6,231.7 177.7,226.4 182.8,221.2 187.9,216 193,210.8 198.1,205.7 203.2,200.6 208.3,195.6 213.4,190.5 218.5,185.5 223.5,180.5 228.6,175.6 233.7,170.7 238.8,165.8 243.9,160.9 249,156.1 254.1,151.3 259.2,146.6 264.3,141.9 269.4,137.3 274.5,132.7 279.6,128.2 284.6,123.8 289.7,119.5 294.8,115.2 299.9,111.1 305,107 310.1,103 315.2,99.2 320.3,95.4 325.4,91.7 330.5,88.2 335.6,84.7 340.7,81.3 345.7,78 350.8,74.7 355.9,71.6 361,68.5 366.1,65.4 371.2,62.4 376.3,59.5 381.4,56.5 386.5,53.7M133.1,268.2 138.1,262.6 143.2,257 148.3,251.5 153.4,246 158.5,240.6 163.6,235.2 168.7,229.9 173.8,224.6 178.9,219.3 184,214.1 189.1,208.9 194.2,203.8 199.3,198.7 204.3,193.6 209.4,188.5 214.5,183.5 219.6,178.5 224.7,173.5 229.8,168.6 234.9,163.7 240,158.8 245.1,154 250.2,149.2 255.3,144.5 260.4,139.8 265.4,135.2 270.5,130.6 275.6,126.1 280.7,121.7 285.8,117.4 290.9,113.1 296,109 301.1,104.9 306.2,100.9 311.3,97 316.4,93.2 321.5,89.5 326.5,85.9 331.6,82.4 336.7,78.9 341.8,75.6 346.9,72.3 352,69.1 357.1,65.9 362.2,62.8 367.3,59.8 372.4,56.8 377.5,53.9 382.6,51M129.1,266.7 134.2,261 139.3,255.4 144.4,249.8 149.5,244.3 154.6,238.9 159.7,233.5 164.8,228.1 169.9,222.8 175,217.5 180,212.2 185.1,207 190.2,201.9 195.3,196.7 200.4,191.6 205.5,186.5 210.6,181.5 215.7,176.5 220.8,171.5 225.9,166.6 231,161.7 236.1,156.8 241.2,152 246.2,147.2 251.3,142.4 256.4,137.8 261.5,133.1 266.6,128.6 271.7,124.1 276.8,119.7 281.9,115.3 287,111.1 292.1,106.9 297.2,102.8 302.3,98.8 307.3,94.9 312.4,91.1 317.5,87.3 322.6,83.7 327.7,80.1 332.8,76.7 337.9,73.3 343,70 348.1,66.7 353.2,63.5 358.3,60.4 363.4,57.3 368.4,54.3 373.5,51.3 378.6,48.3M125.2,265.1 130.3,259.4 135.4,253.8 140.5,248.2 145.6,242.6 150.7,237.2 155.8,231.7 160.8,226.3 165.9,221 171,215.7 176.1,210.4 181.2,205.2 186.3,200 191.4,194.8 196.5,189.7 201.6,184.6 206.7,179.6 211.8,174.5 216.9,169.6 221.9,164.6 227,159.7 232.1,154.8 237.2,150 242.3,145.2 247.4,140.5 252.5,135.8 257.6,131.2 262.7,126.6 267.8,122.1 272.9,117.7 278,113.3 283.1,109.1 288.1,104.9 293.2,100.8 298.3,96.8 303.4,92.8 308.5,89 313.6,85.2 318.7,81.6 323.8,78 328.9,74.5 334,71 339.1,67.7 344.2,64.4 349.2,61.2 354.3,58 359.4,54.9 364.5,51.8 369.6,48.8 374.7,45.8M121.3,263.5 126.4,257.8 131.5,252.1 136.6,246.5 141.6,241 146.7,235.5 151.8,230 156.9,224.6 162,219.2 167.1,213.9 172.2,208.6 177.3,203.3 182.4,198.1 187.5,192.9 192.6,187.8 197.7,182.7 202.7,177.6 207.8,172.6 212.9,167.6 218,162.7 223.1,157.8 228.2,152.9 233.3,148 238.4,143.3 243.5,138.5 248.6,133.8 253.7,129.2 258.8,124.7 263.8,120.2 268.9,115.7 274,111.4 279.1,107.1 284.2,102.9 289.3,98.8 294.4,94.8 299.5,90.8 304.6,87 309.7,83.2 314.8,79.5 319.9,75.9 325,72.3 330,68.9 335.1,65.5 340.2,62.2 345.3,58.9 350.4,55.7 355.5,52.6 360.6,49.4 365.7,46.4 370.8,43.4M117.4,261.9 122.4,256.2 127.5,250.5 132.6,244.9 137.7,239.3 142.8,233.8 147.9,228.3 153,222.8 158.1,217.4 163.2,212.1 168.3,206.8 173.4,201.5 178.5,196.3 183.5,191.1 188.6,185.9 193.7,180.8 198.8,175.8 203.9,170.7 209,165.7 214.1,160.8 219.2,155.8 224.3,151 229.4,146.1 234.5,141.4 239.6,136.6 244.6,131.9 249.7,127.3 254.8,122.8 259.9,118.3 265,113.9 270.1,109.5 275.2,105.2 280.3,101 285.4,96.9 290.5,92.9 295.6,88.9 300.7,85 305.7,81.2 310.8,77.5 315.9,73.8 321,70.3 326.1,66.8 331.2,63.4 336.3,60 341.4,56.7 346.5,53.5 351.6,50.3 356.7,47.2 361.8,44.1 366.9,41M113.4,260.4 118.5,254.6 123.6,248.9 128.7,243.2 133.8,237.6 138.9,232.1 144,226.6 149.1,221.1 154.2,215.7 159.3,210.3 164.3,205 169.4,199.7 174.5,194.5 179.6,189.3 184.7,184.1 189.8,179 194.9,173.9 200,168.9 205.1,163.9 210.2,158.9 215.3,154 220.4,149.1 225.4,144.3 230.5,139.5 235.6,134.8 240.7,130.1 245.8,125.5 250.9,120.9 256,116.4 261.1,112 266.2,107.6 271.3,103.4 276.4,99.1 281.5,95 286.5,91 291.6,87 296.7,83.1 301.8,79.3 306.9,75.5 312,71.8 317.1,68.3 322.2,64.7 327.3,61.3 332.4,57.9 337.5,54.6 342.6,51.3 347.6,48.1 352.7,44.9 357.8,41.8 362.9,38.7M109.5,258.8 114.6,253 119.7,247.3 124.8,241.6 129.9,236 135,230.4 140,224.9 145.1,219.4 150.2,213.9 155.3,208.6 160.4,203.2 165.5,197.9 170.6,192.7 175.7,187.5 180.8,182.3 185.9,177.2 191,172.1 196.1,167 201.2,162 206.2,157.1 211.3,152.1 216.4,147.3 221.5,142.4 226.6,137.6 231.7,132.9 236.8,128.2 241.9,123.6 247,119.1 252.1,114.6 257.2,110.2 262.3,105.8 267.3,101.5 272.4,97.3 277.5,93.2 282.6,89.1 287.7,85.1 292.8,81.2 297.9,77.4 303,73.6 308.1,69.9 313.2,66.3 318.3,62.7 323.4,59.3 328.4,55.8 333.5,52.5 338.6,49.2 343.7,46 348.8,42.8 353.9,39.6 359,36.5M105.6,257.2 110.7,251.4 115.8,245.7 120.8,240 125.9,234.3 131,228.7 136.1,223.2 141.2,217.7 146.3,212.2 151.4,206.8 156.5,201.5 161.6,196.2 166.7,190.9 171.8,185.7 176.9,180.5 181.9,175.4 187,170.3 192.1,165.2 197.2,160.2 202.3,155.2 207.4,150.3 212.5,145.4 217.6,140.6 222.7,135.8 227.8,131.1 232.9,126.4 238,121.8 243.1,117.3 248.1,112.8 253.2,108.4 258.3,104 263.4,99.7 268.5,95.5 273.6,91.3 278.7,87.3 283.8,83.3 288.9,79.3 294,75.5 299.1,71.7 304.2,68 309.2,64.4 314.3,60.8 319.4,57.3 324.5,53.8 329.6,50.5 334.7,47.1 339.8,43.9 344.9,40.7 350,37.5 355.1,34.4M101.6,255.7 106.7,249.8 111.8,244.1 116.9,238.3 122,232.7 127.1,227.1 132.2,221.5 137.3,216 142.4,210.5 147.5,205.1 152.6,199.7 157.7,194.4 162.7,189.1 167.8,183.9 172.9,178.7 178,173.6 183.1,168.5 188.2,163.4 193.3,158.4 198.4,153.4 203.5,148.5 208.6,143.7 213.7,138.8 218.8,134.1 223.8,129.3 228.9,124.7 234,120.1 239.1,115.5 244.2,111 249.3,106.6 254.4,102.2 259.5,97.9 264.6,93.7 269.7,89.6 274.8,85.5 279.9,81.5 285,77.5 290,73.6 295.1,69.8 300.2,66.1 305.3,62.5 310.4,58.9 315.5,55.3 320.6,51.9 325.7,48.5 330.8,45.1 335.9,41.8 341,38.6 346.1,35.4 351.1,32.3M97.7,254.1 102.8,248.2 107.9,242.5 113,236.7 118.1,231 123.2,225.4 128.3,219.8 133.4,214.3 138.5,208.8 143.5,203.4 148.6,198 153.7,192.7 158.8,187.4 163.9,182.2 169,177 174.1,171.8 179.2,166.7 184.3,161.7 189.4,156.6 194.5,151.7 199.6,146.8 204.6,141.9 209.7,137.1 214.8,132.3 219.9,127.6 225,122.9 230.1,118.3 235.2,113.7 240.3,109.3 245.4,104.8 250.5,100.5 255.6,96.2 260.7,92 265.7,87.8 270.8,83.7 275.9,79.7 281,75.7 286.1,71.8 291.2,68 296.3,64.3 301.4,60.6 306.5,57 311.6,53.4 316.7,50 321.8,46.5 326.9,43.2 331.9,39.8 337,36.6 342.1,33.4 347.2,30.2M93.8,252.5 98.9,246.7 104,240.9 109.1,235.1 114.2,229.4 119.3,223.8 124.3,218.2 129.4,212.6 134.5,207.2 139.6,201.7 144.7,196.3 149.8,191 154.9,185.7 160,180.4 165.1,175.2 170.2,170.1 175.3,165 180.4,159.9 185.4,154.9 190.5,149.9 195.6,145 200.7,140.1 205.8,135.3 210.9,130.5 216,125.8 221.1,121.2 226.2,116.6 231.3,112 236.4,107.5 241.5,103.1 246.5,98.7 251.6,94.4 256.7,90.2 261.8,86.1 266.9,82 272,77.9 277.1,74 282.2,70.1 287.3,66.2 292.4,62.5 297.5,58.8 302.6,55.1 307.6,51.6 312.7,48.1 317.8,44.6 322.9,41.2 328,37.9 333.1,34.6 338.2,31.4 343.3,28.2M89.9,250.9 95,245.1 100,239.3 105.1,233.5 110.2,227.8 115.3,222.1 120.4,216.5 125.5,211 130.6,205.5 135.7,200 140.8,194.6 145.9,189.3 151,184 156.1,178.7 161.2,173.5 166.2,168.4 171.3,163.2 176.4,158.2 181.5,153.2 186.6,148.2 191.7,143.3 196.8,138.4 201.9,133.6 207,128.8 212.1,124.1 217.2,119.4 222.3,114.8 227.3,110.3 232.4,105.8 237.5,101.4 242.6,97 247.7,92.7 252.8,88.5 257.9,84.3 263,80.2 268.1,76.2 273.2,72.2 278.3,68.3 283.4,64.5 288.4,60.7 293.5,57 298.6,53.3 303.7,49.7 308.8,46.2 313.9,42.7 319,39.3 324.1,36 329.2,32.7 334.3,29.4 339.4,26.2M85.9,249.4 91,243.5 96.1,237.7 101.2,231.9 106.3,226.2 111.4,220.5 116.5,214.9 121.6,209.3 126.7,203.8 131.8,198.4 136.9,193 141.9,187.6 147,182.3 152.1,177 157.2,171.8 162.3,166.6 167.4,161.5 172.5,156.5 177.6,151.4 182.7,146.5 187.8,141.6 192.9,136.7 198,131.9 203.1,127.1 208.1,122.4 213.2,117.7 218.3,113.1 223.4,108.6 228.5,104.1 233.6,99.7 238.7,95.3 243.8,91 248.9,86.8 254,82.6 259.1,78.5 264.2,74.5 269.2,70.5 274.3,66.6 279.4,62.7 284.5,58.9 289.6,55.2 294.7,51.5 299.8,47.9 304.9,44.4 310,40.9 315.1,37.5 320.2,34.1 325.3,30.8 330.3,27.5 335.4,24.3M82,247.8 87.1,241.9 92.2,236.1 97.3,230.3 102.4,224.6 107.5,218.9 112.6,213.3 117.7,207.7 122.7,202.2 127.8,196.7 132.9,191.3 138,185.9 143.1,180.6 148.2,175.3 153.3,170.1 158.4,164.9 163.5,159.8 168.6,154.8 173.7,149.7 178.8,144.8 183.8,139.9 188.9,135 194,130.2 199.1,125.4 204.2,120.7 209.3,116 214.4,111.5 219.5,106.9 224.6,102.4 229.7,98 234.8,93.6 239.9,89.3 245,85.1 250,80.9 255.1,76.8 260.2,72.8 265.3,68.8 270.4,64.8 275.5,61 280.6,57.2 285.7,53.4 290.8,49.8 295.9,46.1 301,42.6 306.1,39.1 311.1,35.6 316.2,32.2 321.3,28.9 326.4,25.6 331.5,22.4M78.1,246.2 83.2,240.3 88.3,234.5 93.4,228.7 98.5,222.9 103.5,217.3 108.6,211.6 113.7,206 118.8,200.5 123.9,195 129,189.6 134.1,184.2 139.2,178.9 144.3,173.7 149.4,168.4 154.5,163.3 159.6,158.1 164.6,153.1 169.7,148.1 174.8,143.1 179.9,138.2 185,133.3 190.1,128.5 195.2,123.7 200.3,119 205.4,114.4 210.5,109.8 215.6,105.2 220.7,100.8 225.7,96.3 230.8,92 235.9,87.7 241,83.4 246.1,79.3 251.2,75.1 256.3,71.1 261.4,67.1 266.5,63.1 271.6,59.3 276.7,55.4 281.8,51.7 286.9,48 291.9,44.4 297,40.8 302.1,37.3 307.2,33.8 312.3,30.4 317.4,27.1 322.5,23.8 327.6,20.5M74.2,244.6 79.3,238.7 84.3,232.9 89.4,227.1 94.5,221.3 99.6,215.6 104.7,210 109.8,204.4 114.9,198.9 120,193.4 125.1,188 130.2,182.6 135.3,177.3 140.4,172 145.4,166.8 150.5,161.6 155.6,156.5 160.7,151.4 165.8,146.4 170.9,141.4 176,136.5 181.1,131.6 186.2,126.8 191.3,122.1 196.4,117.4 201.5,112.7 206.5,108.1 211.6,103.6 216.7,99.1 221.8,94.7 226.9,90.3 232,86 237.1,81.8 242.2,77.6 247.3,73.5 252.4,69.4 257.5,65.4 262.6,61.4 267.6,57.6 272.7,53.7 277.8,50 282.9,46.3 288,42.6 293.1,39 298.2,35.5 303.3,32 308.4,28.6 313.5,25.3 318.6,21.9 323.7,18.7M70.2,243.1 75.3,237.2 80.4,231.3 85.5,225.5 90.6,219.7 95.7,214 100.8,208.4 105.9,202.8 111,197.2 116.1,191.7 121.2,186.3 126.2,180.9 131.3,175.6 136.4,170.3 141.5,165.1 146.6,159.9 151.7,154.8 156.8,149.7 161.9,144.7 167,139.7 172.1,134.8 177.2,130 182.3,125.1 187.3,120.4 192.4,115.7 197.5,111 202.6,106.5 207.7,101.9 212.8,97.4 217.9,93 223,88.7 228.1,84.4 233.2,80.1 238.3,75.9 243.4,71.8 248.4,67.7 253.5,63.7 258.6,59.8 263.7,55.9 268.8,52 273.9,48.3 279,44.6 284.1,40.9 289.2,37.3 294.3,33.8 299.4,30.3 304.5,26.8 309.5,23.5 314.6,20.1 319.7,16.9M66.3,241.5 71.4,235.6 76.5,229.7 81.6,223.9 86.7,218.1 91.8,212.4 96.9,206.8 101.9,201.2 107,195.6 112.1,190.1 117.2,184.7 122.3,179.3 127.4,173.9 132.5,168.7 137.6,163.4 142.7,158.3 147.8,153.1 152.9,148.1 158,143 163.1,138.1 168.1,133.2 173.2,128.3 178.3,123.5 183.4,118.7 188.5,114 193.6,109.4 198.7,104.8 203.8,100.3 208.9,95.8 214,91.4 219.1,87 224.2,82.7 229.2,78.5 234.3,74.3 239.4,70.2 244.5,66.1 249.6,62.1 254.7,58.1 259.8,54.2 264.9,50.4 270,46.6 275.1,42.9 280.2,39.2 285.3,35.6 290.3,32 295.4,28.5 300.5,25.1 305.6,21.7 310.7,18.4 315.8,15.1M62.4,239.9 67.5,234 72.6,228.1 77.7,222.3 82.7,216.5 87.8,210.8 92.9,205.1 98,199.5 103.1,194 108.2,188.5 113.3,183 118.4,177.6 123.5,172.3 128.6,167 133.7,161.8 138.8,156.6 143.8,151.5 148.9,146.4 154,141.4 159.1,136.4 164.2,131.5 169.3,126.7 174.4,121.8 179.5,117.1 184.6,112.4 189.7,107.8 194.8,103.2 199.9,98.6 205,94.2 210,89.8 215.1,85.4 220.2,81.1 225.3,76.8 230.4,72.6 235.5,68.5 240.6,64.4 245.7,60.4 250.8,56.4 255.9,52.5 261,48.7 266.1,44.9 271.1,41.2 276.2,37.5 281.3,33.9 286.4,30.3 291.5,26.8 296.6,23.3 301.7,19.9 306.8,16.6 311.9,13.3M58.5,238.3 63.5,232.4 68.6,226.5 73.7,220.7 78.8,214.9 83.9,209.2 89,203.5 94.1,197.9 99.2,192.4 104.3,186.9 109.4,181.4 114.5,176 119.6,170.7 124.6,165.4 129.7,160.1 134.8,155 139.9,149.8 145,144.8 150.1,139.7 155.2,134.8 160.3,129.9 165.4,125 170.5,120.2 175.6,115.5 180.7,110.8 185.7,106.1 190.8,101.5 195.9,97 201,92.5 206.1,88.1 211.2,83.8 216.3,79.5 221.4,75.2 226.5,71 231.6,66.9 236.7,62.8 241.8,58.8 246.9,54.8 251.9,50.9 257,47 262.1,43.2 267.2,39.5 272.3,35.8 277.4,32.2 282.5,28.6 287.6,25.1 292.7,21.6 297.8,18.2 302.9,14.8 308,11.5M54.5,236.8 59.6,230.8 64.7,224.9 69.8,219.1 74.9,213.3 80,207.6 85.1,201.9 90.2,196.3 95.3,190.7 100.4,185.2 105.4,179.8 110.5,174.4 115.6,169 120.7,163.7 125.8,158.5 130.9,153.3 136,148.2 141.1,143.1 146.2,138.1 151.3,133.1 156.4,128.2 161.5,123.4 166.5,118.6 171.6,113.8 176.7,109.1 181.8,104.5 186.9,99.9 192,95.4 197.1,90.9 202.2,86.5 207.3,82.1 212.4,77.8 217.5,73.6 222.6,69.4 227.6,65.3 232.7,61.2 237.8,57.1 242.9,53.2 248,49.2 253.1,45.4 258.2,41.6 263.3,37.8 268.4,34.1 273.5,30.5 278.6,26.9 283.7,23.4 288.8,19.9 293.8,16.5 298.9,13.1 304,9.8M50.6,235.2 55.7,229.2 60.8,223.4 65.9,217.5 71,211.7 76.1,206 81.2,200.3 86.2,194.7 91.3,189.1 96.4,183.6 101.5,178.2 106.6,172.8 111.7,167.4 116.8,162.1 121.9,156.9 127,151.7 132.1,146.6 137.2,141.5 142.3,136.5 147.3,131.5 152.4,126.6 157.5,121.8 162.6,117 167.7,112.2 172.8,107.5 177.9,102.9 183,98.3 188.1,93.8 193.2,89.3 198.3,84.9 203.4,80.5 208.4,76.2 213.5,72 218.6,67.8 223.7,63.6 228.8,59.5 233.9,55.5 239,51.5 244.1,47.6 249.2,43.7 254.3,39.9 259.4,36.2 264.5,32.5 269.5,28.8 274.6,25.2 279.7,21.7 284.8,18.2 289.9,14.8 295,11.4 300.1,8.1M243,312.3 239.1,310.7 235.1,309.2 231.2,307.6 227.3,306 223.4,304.4 219.4,302.9 215.5,301.3 211.6,299.7 207.7,298.1 203.7,296.6 199.8,295 195.9,293.4 192,291.8 188,290.3 184.1,288.7 180.2,287.1 176.2,285.6 172.3,284 168.4,282.4 164.5,280.8 160.5,279.3 156.6,277.7 152.7,276.1 148.8,274.5 144.8,273 140.9,271.4 137,269.8 133.1,268.2 129.1,266.7 125.2,265.1 121.3,263.5 117.4,261.9 113.4,260.4 109.5,258.8 105.6,257.2 101.6,255.7 97.7,254.1 93.8,252.5 89.9,250.9 85.9,249.4 82,247.8 78.1,246.2 74.2,244.6 70.2,243.1 66.3,241.5 62.4,239.9 58.5,238.3 54.5,236.8 50.6,235.2M248.1,311.1 244.2,309.1 240.2,307.2 236.3,305.2 232.4,303.3 228.5,301.5 224.5,299.6 220.6,297.8 216.7,296 212.8,294.3 208.8,292.5 204.9,290.8 201,289 197,287.3 193.1,285.6 189.2,283.9 185.3,282.3 181.3,280.6 177.4,278.9 173.5,277.3 169.6,275.6 165.6,274 161.7,272.3 157.8,270.7 153.9,269.1 149.9,267.5 146,265.8 142.1,264.2 138.1,262.6 134.2,261 130.3,259.4 126.4,257.8 122.4,256.2 118.5,254.6 114.6,253 110.7,251.4 106.7,249.8 102.8,248.2 98.9,246.7 95,245.1 91,243.5 87.1,241.9 83.2,240.3 79.3,238.7 75.3,237.2 71.4,235.6 67.5,234 63.5,232.4 59.6,230.8 55.7,229.2M253.2,309.9 249.3,307.5 245.3,305.2 241.4,302.9 237.5,300.7 233.6,298.6 229.6,296.5 225.7,294.4 221.8,292.4 217.8,290.4 213.9,288.5 210,286.6 206.1,284.7 202.1,282.8 198.2,281 194.3,279.2 190.4,277.4 186.4,275.7 182.5,273.9 178.6,272.2 174.7,270.4 170.7,268.7 166.8,267 162.9,265.3 158.9,263.7 155,262 151.1,260.3 147.2,258.7 143.2,257 139.3,255.4 135.4,253.8 131.5,252.1 127.5,250.5 123.6,248.9 119.7,247.3 115.8,245.7 111.8,244.1 107.9,242.5 104,240.9 100,239.3 96.1,237.7 92.2,236.1 88.3,234.5 84.3,232.9 80.4,231.3 76.5,229.7 72.6,228.1 68.6,226.5 64.7,224.9 60.8,223.4M258.3,308.7 254.3,305.9 250.4,303.2 246.5,300.6 242.6,298.1 238.6,295.6 234.7,293.3 230.8,291 226.9,288.8 222.9,286.6 219,284.5 215.1,282.4 211.2,280.4 207.2,278.4 203.3,276.4 199.4,274.5 195.5,272.6 191.5,270.8 187.6,268.9 183.7,267.1 179.7,265.3 175.8,263.5 171.9,261.8 168,260 164,258.3 160.1,256.6 156.2,254.9 152.3,253.2 148.3,251.5 144.4,249.8 140.5,248.2 136.6,246.5 132.6,244.9 128.7,243.2 124.8,241.6 120.8,240 116.9,238.3 113,236.7 109.1,235.1 105.1,233.5 101.2,231.9 97.3,230.3 93.4,228.7 89.4,227.1 85.5,225.5 81.6,223.9 77.7,222.3 73.7,220.7 69.8,219.1 65.9,217.5M263.4,307.5 259.4,304.3 255.5,301.2 251.6,298.3 247.7,295.5 243.7,292.7 239.8,290.1 235.9,287.6 232,285.2 228,282.8 224.1,280.5 220.2,278.3 216.2,276.1 212.3,274 208.4,271.9 204.5,269.9 200.5,267.9 196.6,265.9 192.7,264 188.8,262.1 184.8,260.2 180.9,258.4 177,256.6 173.1,254.8 169.1,253 165.2,251.2 161.3,249.5 157.4,247.8 153.4,246 149.5,244.3 145.6,242.6 141.6,241 137.7,239.3 133.8,237.6 129.9,236 125.9,234.3 122,232.7 118.1,231 114.2,229.4 110.2,227.8 106.3,226.2 102.4,224.6 98.5,222.9 94.5,221.3 90.6,219.7 86.7,218.1 82.7,216.5 78.8,214.9 74.9,213.3 71,211.7M268.5,306.3 264.5,302.7 260.6,299.2 256.7,296 252.8,292.8 248.8,289.9 244.9,287 241,284.2 237,281.6 233.1,279 229.2,276.5 225.3,274.2 221.3,271.8 217.4,269.6 213.5,267.4 209.6,265.2 205.6,263.1 201.7,261.1 197.8,259.1 193.9,257.1 189.9,255.2 186,253.3 182.1,251.4 178.1,249.5 174.2,247.7 170.3,245.9 166.4,244.1 162.4,242.4 158.5,240.6 154.6,238.9 150.7,237.2 146.7,235.5 142.8,233.8 138.9,232.1 135,230.4 131,228.7 127.1,227.1 123.2,225.4 119.3,223.8 115.3,222.1 111.4,220.5 107.5,218.9 103.5,217.3 99.6,215.6 95.7,214 91.8,212.4 87.8,210.8 83.9,209.2 80,207.6 76.1,206M273.6,305.1 269.6,301.1 265.7,297.3 261.8,293.7 257.8,290.2 253.9,287 250,283.9 246.1,280.9 242.1,278 238.2,275.3 234.3,272.6 230.4,270.1 226.4,267.6 222.5,265.2 218.6,262.9 214.7,260.6 210.7,258.4 206.8,256.3 202.9,254.2 198.9,252.2 195,250.2 191.1,248.2 187.2,246.3 183.2,244.4 179.3,242.5 175.4,240.6 171.5,238.8 167.5,237 163.6,235.2 159.7,233.5 155.8,231.7 151.8,230 147.9,228.3 144,226.6 140,224.9 136.1,223.2 132.2,221.5 128.3,219.8 124.3,218.2 120.4,216.5 116.5,214.9 112.6,213.3 108.6,211.6 104.7,210 100.8,208.4 96.9,206.8 92.9,205.1 89,203.5 85.1,201.9 81.2,200.3M278.6,303.9 274.7,299.5 270.8,295.3 266.9,291.4 262.9,287.6 259,284.1 255.1,280.7 251.2,277.5 247.2,274.5 243.3,271.5 239.4,268.7 235.5,266 231.5,263.4 227.6,260.9 223.7,258.4 219.7,256.1 215.8,253.8 211.9,251.5 208,249.4 204,247.2 200.1,245.2 196.2,243.1 192.3,241.2 188.3,239.2 184.4,237.3 180.5,235.4 176.6,233.5 172.6,231.7 168.7,229.9 164.8,228.1 160.8,226.3 156.9,224.6 153,222.8 149.1,221.1 145.1,219.4 141.2,217.7 137.3,216 133.4,214.3 129.4,212.6 125.5,211 121.6,209.3 117.7,207.7 113.7,206 109.8,204.4 105.9,202.8 101.9,201.2 98,199.5 94.1,197.9 90.2,196.3 86.2,194.7M283.7,302.7 279.8,297.9 275.9,293.3 272,289.1 268,285 264.1,281.2 260.2,277.6 256.2,274.2 252.3,270.9 248.4,267.8 244.5,264.8 240.5,261.9 236.6,259.2 232.7,256.5 228.8,254 224.8,251.5 220.9,249.1 217,246.8 213.1,244.6 209.1,242.4 205.2,240.2 201.3,238.1 197.4,236.1 193.4,234.1 189.5,232.1 185.6,230.2 181.6,228.3 177.7,226.4 173.8,224.6 169.9,222.8 165.9,221 162,219.2 158.1,217.4 154.2,215.7 150.2,213.9 146.3,212.2 142.4,210.5 138.5,208.8 134.5,207.2 130.6,205.5 126.7,203.8 122.7,202.2 118.8,200.5 114.9,198.9 111,197.2 107,195.6 103.1,194 99.2,192.4 95.3,190.7 91.3,189.1M288.8,301.5 284.9,296.3 281,291.4 277,286.8 273.1,282.5 269.2,278.4 265.3,274.5 261.3,270.8 257.4,267.4 253.5,264.1 249.6,260.9 245.6,257.9 241.7,255 237.8,252.2 233.9,249.6 229.9,247 226,244.5 222.1,242.1 218.1,239.8 214.2,237.5 210.3,235.3 206.4,233.2 202.4,231.1 198.5,229 194.6,227 190.7,225 186.7,223.1 182.8,221.2 178.9,219.3 175,217.5 171,215.7 167.1,213.9 163.2,212.1 159.3,210.3 155.3,208.6 151.4,206.8 147.5,205.1 143.5,203.4 139.6,201.7 135.7,200 131.8,198.4 127.8,196.7 123.9,195 120,193.4 116.1,191.7 112.1,190.1 108.2,188.5 104.3,186.9 100.4,185.2 96.4,183.6M293.9,300.3 290,294.7 286.1,289.4 282.1,284.5 278.2,279.9 274.3,275.5 270.4,271.4 266.4,267.5 262.5,263.8 258.6,260.3 254.7,257 250.7,253.9 246.8,250.8 242.9,247.9 238.9,245.1 235,242.5 231.1,239.9 227.2,237.4 223.2,235 219.3,232.7 215.4,230.4 211.5,228.2 207.5,226.1 203.6,224 199.7,221.9 195.8,219.9 191.8,217.9 187.9,216 184,214.1 180,212.2 176.1,210.4 172.2,208.6 168.3,206.8 164.3,205 160.4,203.2 156.5,201.5 152.6,199.7 148.6,198 144.7,196.3 140.8,194.6 136.9,193 132.9,191.3 129,189.6 125.1,188 121.2,186.3 117.2,184.7 113.3,183 109.4,181.4 105.4,179.8 101.5,178.2M299,299.1 295.1,293 291.2,287.4 287.2,282.2 283.3,277.3 279.4,272.6 275.5,268.3 271.5,264.2 267.6,260.3 263.7,256.6 259.7,253.1 255.8,249.8 251.9,246.7 248,243.6 244,240.7 240.1,238 236.2,235.3 232.3,232.7 228.3,230.3 224.4,227.9 220.5,225.5 216.6,223.3 212.6,221.1 208.7,218.9 204.8,216.9 200.8,214.8 196.9,212.8 193,210.8 189.1,208.9 185.1,207 181.2,205.2 177.3,203.3 173.4,201.5 169.4,199.7 165.5,197.9 161.6,196.2 157.7,194.4 153.7,192.7 149.8,191 145.9,189.3 141.9,187.6 138,185.9 134.1,184.2 130.2,182.6 126.2,180.9 122.3,179.3 118.4,177.6 114.5,176 110.5,174.4 106.6,172.8M304.1,297.9 300.2,291.4 296.2,285.4 292.3,279.9 288.4,274.6 284.5,269.7 280.5,265.1 276.6,260.8 272.7,256.7 268.8,252.9 264.8,249.2 260.9,245.8 257,242.5 253.1,239.3 249.1,236.3 245.2,233.5 241.3,230.7 237.4,228.1 233.4,225.5 229.5,223.1 225.6,220.7 221.6,218.4 217.7,216.1 213.8,214 209.9,211.8 205.9,209.7 202,207.7 198.1,205.7 194.2,203.8 190.2,201.9 186.3,200 182.4,198.1 178.5,196.3 174.5,194.5 170.6,192.7 166.7,190.9 162.7,189.1 158.8,187.4 154.9,185.7 151,184 147,182.3 143.1,180.6 139.2,178.9 135.3,177.3 131.3,175.6 127.4,173.9 123.5,172.3 119.6,170.7 115.6,169 111.7,167.4M309.2,296.6 305.3,289.8 301.3,283.5 297.4,277.5 293.5,272 289.6,266.8 285.6,262 281.7,257.4 277.8,253.2 273.9,249.1 269.9,245.3 266,241.7 262.1,238.3 258.1,235.1 254.2,232 250.3,229 246.4,226.2 242.4,223.4 238.5,220.8 234.6,218.3 230.7,215.9 226.7,213.5 222.8,211.2 218.9,209 215,206.8 211,204.7 207.1,202.7 203.2,200.6 199.3,198.7 195.3,196.7 191.4,194.8 187.5,192.9 183.5,191.1 179.6,189.3 175.7,187.5 171.8,185.7 167.8,183.9 163.9,182.2 160,180.4 156.1,178.7 152.1,177 148.2,175.3 144.3,173.7 140.4,172 136.4,170.3 132.5,168.7 128.6,167 124.6,165.4 120.7,163.7 116.8,162.1M314.3,295.4 310.4,288.2 306.4,281.5 302.5,275.2 298.6,269.4 294.7,263.9 290.7,258.8 286.8,254.1 282.9,249.6 278.9,245.4 275,241.4 271.1,237.7 267.2,234.1 263.2,230.8 259.3,227.5 255.4,224.5 251.5,221.6 247.5,218.8 243.6,216.1 239.7,213.5 235.8,211 231.8,208.6 227.9,206.3 224,204 220,201.8 216.1,199.7 212.2,197.6 208.3,195.6 204.3,193.6 200.4,191.6 196.5,189.7 192.6,187.8 188.6,185.9 184.7,184.1 180.8,182.3 176.9,180.5 172.9,178.7 169,177 165.1,175.2 161.2,173.5 157.2,171.8 153.3,170.1 149.4,168.4 145.4,166.8 141.5,165.1 137.6,163.4 133.7,161.8 129.7,160.1 125.8,158.5 121.9,156.9M319.4,294.2 315.5,286.6 311.5,279.4 307.6,272.8 303.7,266.7 299.7,261 295.8,255.6 291.9,250.6 288,246 284,241.6 280.1,237.5 276.2,233.6 272.3,229.9 268.3,226.4 264.4,223.1 260.5,220 256.6,217 252.6,214.1 248.7,211.4 244.8,208.8 240.8,206.2 236.9,203.8 233,201.4 229.1,199.1 225.1,196.9 221.2,194.7 217.3,192.6 213.4,190.5 209.4,188.5 205.5,186.5 201.6,184.6 197.7,182.7 193.7,180.8 189.8,179 185.9,177.2 181.9,175.4 178,173.6 174.1,171.8 170.2,170.1 166.2,168.4 162.3,166.6 158.4,164.9 154.5,163.3 150.5,161.6 146.6,159.9 142.7,158.3 138.8,156.6 134.8,155 130.9,153.3 127,151.7M324.5,293 320.5,284.9 316.6,277.4 312.7,270.4 308.8,264 304.8,258 300.9,252.4 297,247.2 293.1,242.3 289.1,237.8 285.2,233.5 281.3,229.5 277.4,225.7 273.4,222.1 269.5,218.7 265.6,215.5 261.6,212.4 257.7,209.5 253.8,206.7 249.9,204 245.9,201.4 242,198.9 238.1,196.5 234.2,194.2 230.2,191.9 226.3,189.7 222.4,187.6 218.5,185.5 214.5,183.5 210.6,181.5 206.7,179.6 202.7,177.6 198.8,175.8 194.9,173.9 191,172.1 187,170.3 183.1,168.5 179.2,166.7 175.3,165 171.3,163.2 167.4,161.5 163.5,159.8 159.6,158.1 155.6,156.5 151.7,154.8 147.8,153.1 143.8,151.5 139.9,149.8 136,148.2 132.1,146.6M329.6,291.8 325.6,283.3 321.7,275.3 317.8,268 313.9,261.3 309.9,255 306,249.2 302.1,243.7 298.1,238.7 294.2,233.9 290.3,229.5 286.4,225.4 282.4,221.4 278.5,217.8 274.6,214.3 270.7,211 266.7,207.8 262.8,204.8 258.9,202 255,199.2 251,196.6 247.1,194.1 243.2,191.6 239.3,189.3 235.3,187 231.4,184.8 227.5,182.6 223.5,180.5 219.6,178.5 215.7,176.5 211.8,174.5 207.8,172.6 203.9,170.7 200,168.9 196.1,167 192.1,165.2 188.2,163.4 184.3,161.7 180.4,159.9 176.4,158.2 172.5,156.5 168.6,154.8 164.6,153.1 160.7,151.4 156.8,149.7 152.9,148.1 148.9,146.4 145,144.8 141.1,143.1 137.2,141.5M334.7,290.6 330.7,281.6 326.8,273.3 322.9,265.6 318.9,258.5 315,251.9 311.1,245.9 307.2,240.2 303.2,235 299.3,230.1 295.4,225.5 291.5,221.2 287.5,217.2 283.6,213.4 279.7,209.8 275.8,206.4 271.8,203.2 267.9,200.2 264,197.3 260,194.5 256.1,191.8 252.2,189.3 248.3,186.8 244.3,184.4 240.4,182.1 236.5,179.9 232.6,177.7 228.6,175.6 224.7,173.5 220.8,171.5 216.9,169.6 212.9,167.6 209,165.7 205.1,163.9 201.2,162 197.2,160.2 193.3,158.4 189.4,156.6 185.4,154.9 181.5,153.2 177.6,151.4 173.7,149.7 169.7,148.1 165.8,146.4 161.9,144.7 158,143 154,141.4 150.1,139.7 146.2,138.1 142.3,136.5M339.7,289.4 335.8,279.9 331.9,271.2 328,263.1 324,255.7 320.1,248.9 316.2,242.5 312.3,236.7 308.3,231.2 304.4,226.2 300.5,221.4 296.6,217 292.6,212.9 288.7,209 284.8,205.3 280.8,201.9 276.9,198.6 273,195.5 269.1,192.5 265.1,189.7 261.2,187 257.3,184.4 253.4,181.9 249.4,179.5 245.5,177.2 241.6,175 237.7,172.8 233.7,170.7 229.8,168.6 225.9,166.6 221.9,164.6 218,162.7 214.1,160.8 210.2,158.9 206.2,157.1 202.3,155.2 198.4,153.4 194.5,151.7 190.5,149.9 186.6,148.2 182.7,146.5 178.8,144.8 174.8,143.1 170.9,141.4 167,139.7 163.1,138.1 159.1,136.4 155.2,134.8 151.3,133.1 147.3,131.5M344.8,288.2 340.9,278.2 337,269 333.1,260.6 329.1,252.9 325.2,245.7 321.3,239.2 317.4,233.1 313.4,227.5 309.5,222.2 305.6,217.4 301.6,212.8 297.7,208.6 293.8,204.6 289.9,200.9 285.9,197.3 282,194 278.1,190.8 274.2,187.8 270.2,185 266.3,182.2 262.4,179.6 258.5,177.1 254.5,174.7 250.6,172.4 246.7,170.1 242.7,167.9 238.8,165.8 234.9,163.7 231,161.7 227,159.7 223.1,157.8 219.2,155.8 215.3,154 211.3,152.1 207.4,150.3 203.5,148.5 199.6,146.8 195.6,145 191.7,143.3 187.8,141.6 183.8,139.9 179.9,138.2 176,136.5 172.1,134.8 168.1,133.2 164.2,131.5 160.3,129.9 156.4,128.2 152.4,126.6M349.9,287 346,276.5 342.1,266.9 338.1,258.1 334.2,250 330.3,242.6 326.4,235.8 322.4,229.5 318.5,223.7 314.6,218.3 310.7,213.3 306.7,208.6 302.8,204.2 298.9,200.2 295,196.4 291,192.8 287.1,189.4 283.2,186.2 279.3,183.1 275.3,180.2 271.4,177.5 267.5,174.8 263.5,172.3 259.6,169.9 255.7,167.5 251.8,165.2 247.8,163 243.9,160.9 240,158.8 236.1,156.8 232.1,154.8 228.2,152.9 224.3,151 220.4,149.1 216.4,147.3 212.5,145.4 208.6,143.7 204.6,141.9 200.7,140.1 196.8,138.4 192.9,136.7 188.9,135 185,133.3 181.1,131.6 177.2,130 173.2,128.3 169.3,126.7 165.4,125 161.5,123.4 157.5,121.8M355,285.8 351.1,274.8 347.2,264.7 343.2,255.5 339.3,247.1 335.4,239.4 331.5,232.4 327.5,225.8 323.6,219.8 319.7,214.3 315.8,209.1 311.8,204.4 307.9,199.9 304,195.8 300,191.9 296.1,188.2 292.2,184.8 288.3,181.5 284.3,178.4 280.4,175.5 276.5,172.7 272.6,170.1 268.6,167.5 264.7,165.1 260.8,162.7 256.9,160.4 252.9,158.2 249,156.1 245.1,154 241.2,152 237.2,150 233.3,148 229.4,146.1 225.4,144.3 221.5,142.4 217.6,140.6 213.7,138.8 209.7,137.1 205.8,135.3 201.9,133.6 198,131.9 194,130.2 190.1,128.5 186.2,126.8 182.3,125.1 178.3,123.5 174.4,121.8 170.5,120.2 166.5,118.6 162.6,117M360.1,284.6 356.2,273.1 352.3,262.6 348.3,253 344.4,244.2 340.5,236.2 336.6,228.9 332.6,222.2 328.7,216 324.8,210.3 320.8,205 316.9,200.1 313,195.6 309.1,191.3 305.1,187.4 301.2,183.7 297.3,180.2 293.4,176.9 289.4,173.8 285.5,170.8 281.6,168 277.7,165.3 273.7,162.8 269.8,160.3 265.9,157.9 261.9,155.7 258,153.4 254.1,151.3 250.2,149.2 246.2,147.2 242.3,145.2 238.4,143.3 234.5,141.4 230.5,139.5 226.6,137.6 222.7,135.8 218.8,134.1 214.8,132.3 210.9,130.5 207,128.8 203.1,127.1 199.1,125.4 195.2,123.7 191.3,122.1 187.3,120.4 183.4,118.7 179.5,117.1 175.6,115.5 171.6,113.8 167.7,112.2M365.2,283.4 361.3,271.3 357.4,260.4 353.4,250.4 349.5,241.3 345.6,233.1 341.6,225.5 337.7,218.5 333.8,212.2 329.9,206.3 325.9,200.9 322,195.9 318.1,191.3 314.2,186.9 310.2,182.9 306.3,179.1 302.4,175.6 298.5,172.3 294.5,169.1 290.6,166.2 286.7,163.3 282.7,160.6 278.8,158.1 274.9,155.6 271,153.2 267,150.9 263.1,148.7 259.2,146.6 255.3,144.5 251.3,142.4 247.4,140.5 243.5,138.5 239.6,136.6 235.6,134.8 231.7,132.9 227.8,131.1 223.8,129.3 219.9,127.6 216,125.8 212.1,124.1 208.1,122.4 204.2,120.7 200.3,119 196.4,117.4 192.4,115.7 188.5,114 184.6,112.4 180.7,110.8 176.7,109.1 172.8,107.5M370.3,282.2 366.4,269.6 362.4,258.2 358.5,247.8 354.6,238.4 350.7,229.9 346.7,222 342.8,214.9 338.9,208.4 335,202.3 331,196.8 327.1,191.7 323.2,187 319.3,182.6 315.3,178.5 311.4,174.7 307.5,171.1 303.5,167.7 299.6,164.5 295.7,161.5 291.8,158.7 287.8,156 283.9,153.4 280,150.9 276.1,148.5 272.1,146.2 268.2,144 264.3,141.9 260.4,139.8 256.4,137.8 252.5,135.8 248.6,133.8 244.6,131.9 240.7,130.1 236.8,128.2 232.9,126.4 228.9,124.7 225,122.9 221.1,121.2 217.2,119.4 213.2,117.7 209.3,116 205.4,114.4 201.5,112.7 197.5,111 193.6,109.4 189.7,107.8 185.7,106.1 181.8,104.5 177.9,102.9M375.4,281 371.5,267.9 367.5,256 363.6,245.3 359.7,235.6 355.8,226.7 351.8,218.6 347.9,211.3 344,204.6 340,198.4 336.1,192.8 332.2,187.5 328.3,182.7 324.3,178.2 320.4,174.1 316.5,170.2 312.6,166.6 308.6,163.2 304.7,160 300.8,157 296.9,154.1 292.9,151.4 289,148.8 285.1,146.3 281.2,143.9 277.2,141.6 273.3,139.4 269.4,137.3 265.4,135.2 261.5,133.1 257.6,131.2 253.7,129.2 249.7,127.3 245.8,125.5 241.9,123.6 238,121.8 234,120.1 230.1,118.3 226.2,116.6 222.3,114.8 218.3,113.1 214.4,111.5 210.5,109.8 206.5,108.1 202.6,106.5 198.7,104.8 194.8,103.2 190.8,101.5 186.9,99.9 183,98.3M380.5,279.8 376.6,266.2 372.6,253.9 368.7,242.8 364.8,232.7 360.8,223.6 356.9,215.3 353,207.7 349.1,200.8 345.1,194.5 341.2,188.8 337.3,183.4 333.4,178.5 329.4,174 325.5,169.8 321.6,165.9 317.7,162.2 313.7,158.8 309.8,155.5 305.9,152.5 301.9,149.6 298,146.9 294.1,144.3 290.2,141.8 286.2,139.4 282.3,137.1 278.4,134.8 274.5,132.7 270.5,130.6 266.6,128.6 262.7,126.6 258.8,124.7 254.8,122.8 250.9,120.9 247,119.1 243.1,117.3 239.1,115.5 235.2,113.7 231.3,112 227.3,110.3 223.4,108.6 219.5,106.9 215.6,105.2 211.6,103.6 207.7,101.9 203.8,100.3 199.9,98.6 195.9,97 192,95.4 188.1,93.8M385.6,278.6 381.6,264.5 377.7,251.8 373.8,240.3 369.9,229.9 365.9,220.5 362,212 358.1,204.3 354.2,197.2 350.2,190.8 346.3,184.9 342.4,179.4 338.5,174.4 334.5,169.8 330.6,165.6 326.7,161.6 322.7,157.9 318.8,154.4 314.9,151.2 311,148.1 307,145.2 303.1,142.4 299.2,139.8 295.3,137.3 291.3,134.9 287.4,132.6 283.5,130.4 279.6,128.2 275.6,126.1 271.7,124.1 267.8,122.1 263.8,120.2 259.9,118.3 256,116.4 252.1,114.6 248.1,112.8 244.2,111 240.3,109.3 236.4,107.5 232.4,105.8 228.5,104.1 224.6,102.4 220.7,100.8 216.7,99.1 212.8,97.4 208.9,95.8 205,94.2 201,92.5 197.1,90.9 193.2,89.3M390.7,277.4 386.7,262.8 382.8,249.7 378.9,237.9 375,227.2 371,217.5 367.1,208.8 363.2,200.9 359.3,193.7 355.3,187.1 351.4,181 347.5,175.5 343.5,170.4 339.6,165.8 335.7,161.4 331.8,157.4 327.8,153.7 323.9,150.2 320,146.9 316.1,143.8 312.1,140.8 308.2,138.1 304.3,135.4 300.4,132.9 296.4,130.5 292.5,128.2 288.6,126 284.6,123.8 280.7,121.7 276.8,119.7 272.9,117.7 268.9,115.7 265,113.9 261.1,112 257.2,110.2 253.2,108.4 249.3,106.6 245.4,104.8 241.5,103.1 237.5,101.4 233.6,99.7 229.7,98 225.7,96.3 221.8,94.7 217.9,93 214,91.4 210,89.8 206.1,88.1 202.2,86.5 198.3,84.9M395.8,276.2 391.8,261.2 387.9,247.7 384,235.5 380,224.6 376.1,214.7 372.2,205.7 368.3,197.6 364.3,190.2 360.4,183.5 356.5,177.4 352.6,171.7 348.6,166.6 344.7,161.8 340.8,157.4 336.9,153.3 332.9,149.6 329,146 325.1,142.7 321.2,139.6 317.2,136.6 313.3,133.8 309.4,131.2 305.4,128.6 301.5,126.2 297.6,123.9 293.7,121.6 289.7,119.5 285.8,117.4 281.9,115.3 278,113.3 274,111.4 270.1,109.5 266.2,107.6 262.3,105.8 258.3,104 254.4,102.2 250.5,100.5 246.5,98.7 242.6,97 238.7,95.3 234.8,93.6 230.8,92 226.9,90.3 223,88.7 219.1,87 215.1,85.4 211.2,83.8 207.3,82.1 203.4,80.5M400.8,275 396.9,259.6 393,245.7 389.1,233.3 385.1,222 381.2,211.9 377.3,202.8 373.4,194.5 369.4,186.9 365.5,180.1 361.6,173.8 357.7,168.1 353.7,162.9 349.8,158 345.9,153.6 341.9,149.4 338,145.6 334.1,142 330.2,138.6 326.2,135.5 322.3,132.5 318.4,129.7 314.5,127 310.5,124.4 306.6,122 302.7,119.7 298.8,117.4 294.8,115.2 290.9,113.1 287,111.1 283.1,109.1 279.1,107.1 275.2,105.2 271.3,103.4 267.3,101.5 263.4,99.7 259.5,97.9 255.6,96.2 251.6,94.4 247.7,92.7 243.8,91 239.9,89.3 235.9,87.7 232,86 228.1,84.4 224.2,82.7 220.2,81.1 216.3,79.5 212.4,77.8 208.4,76.2M405.9,273.8 402,258 398.1,243.8 394.2,231.1 390.2,219.6 386.3,209.3 382.4,200 378.5,191.5 374.5,183.8 370.6,176.8 366.7,170.5 362.7,164.6 358.8,159.3 354.9,154.4 351,149.8 347,145.6 343.1,141.7 339.2,138.1 335.3,134.7 331.3,131.5 327.4,128.5 323.5,125.6 319.6,122.9 315.6,120.4 311.7,117.9 307.8,115.5 303.8,113.3 299.9,111.1 296,109 292.1,106.9 288.1,104.9 284.2,102.9 280.3,101 276.4,99.1 272.4,97.3 268.5,95.5 264.6,93.7 260.7,92 256.7,90.2 252.8,88.5 248.9,86.8 245,85.1 241,83.4 237.1,81.8 233.2,80.1 229.2,78.5 225.3,76.8 221.4,75.2 217.5,73.6 213.5,72M411,272.6 407.1,256.5 403.2,242 399.3,229.1 395.3,217.4 391.4,206.8 387.5,197.3 383.5,188.7 379.6,180.9 375.7,173.7 371.8,167.2 367.8,161.3 363.9,155.9 360,150.9 356.1,146.3 352.1,142 348.2,138 344.3,134.3 340.4,130.9 336.4,127.7 332.5,124.6 328.6,121.7 324.6,119 320.7,116.4 316.8,113.9 312.9,111.5 308.9,109.2 305,107 301.1,104.9 297.2,102.8 293.2,100.8 289.3,98.8 285.4,96.9 281.5,95 277.5,93.2 273.6,91.3 269.7,89.6 265.7,87.8 261.8,86.1 257.9,84.3 254,82.6 250,80.9 246.1,79.3 242.2,77.6 238.3,75.9 234.3,74.3 230.4,72.6 226.5,71 222.6,69.4 218.6,67.8M416.1,271.4 412.2,255 408.3,240.3 404.3,227.1 400.4,215.2 396.5,204.5 392.6,194.8 388.6,186 384.7,178.1 380.8,170.8 376.9,164.2 372.9,158.2 369,152.6 365.1,147.5 361.2,142.9 357.2,138.5 353.3,134.5 349.4,130.7 345.4,127.2 341.5,123.9 337.6,120.8 333.7,117.9 329.7,115.2 325.8,112.5 321.9,110 318,107.6 314,105.3 310.1,103 306.2,100.9 302.3,98.8 298.3,96.8 294.4,94.8 290.5,92.9 286.5,91 282.6,89.1 278.7,87.3 274.8,85.5 270.8,83.7 266.9,82 263,80.2 259.1,78.5 255.1,76.8 251.2,75.1 247.3,73.5 243.4,71.8 239.4,70.2 235.5,68.5 231.6,66.9 227.6,65.3 223.7,63.6M421.2,270.2 417.3,253.6 413.4,238.7 409.4,225.3 405.5,213.2 401.6,202.3 397.7,192.5 393.7,183.5 389.8,175.4 385.9,168.1 381.9,161.3 378,155.2 374.1,149.6 370.2,144.4 366.2,139.6 362.3,135.2 358.4,131.1 354.5,127.3 350.5,123.7 346.6,120.4 342.7,117.2 338.8,114.3 334.8,111.4 330.9,108.8 327,106.2 323.1,103.8 319.1,101.4 315.2,99.2 311.3,97 307.3,94.9 303.4,92.8 299.5,90.8 295.6,88.9 291.6,87 287.7,85.1 283.8,83.3 279.9,81.5 275.9,79.7 272,77.9 268.1,76.2 264.2,74.5 260.2,72.8 256.3,71.1 252.4,69.4 248.4,67.7 244.5,66.1 240.6,64.4 236.7,62.8 232.7,61.2 228.8,59.5M426.3,269 422.4,252.2 418.5,237.1 414.5,223.6 410.6,211.3 406.7,200.3 402.7,190.3 398.8,181.2 394.9,173 391,165.5 387,158.7 383.1,152.4 379.2,146.7 375.3,141.4 371.3,136.5 367.4,132 363.5,127.9 359.6,124 355.6,120.3 351.7,116.9 347.8,113.7 343.8,110.7 339.9,107.9 336,105.1 332.1,102.6 328.1,100.1 324.2,97.7 320.3,95.4 316.4,93.2 312.4,91.1 308.5,89 304.6,87 300.7,85 296.7,83.1 292.8,81.2 288.9,79.3 285,77.5 281,75.7 277.1,74 273.2,72.2 269.2,70.5 265.3,68.8 261.4,67.1 257.5,65.4 253.5,63.7 249.6,62.1 245.7,60.4 241.8,58.8 237.8,57.1 233.9,55.5M431.4,267.7 427.5,250.9 423.5,235.7 419.6,222 415.7,209.6 411.8,198.4 407.8,188.3 403.9,179.1 400,170.7 396.1,163.1 392.1,156.1 388.2,149.8 384.3,143.9 380.4,138.5 376.4,133.6 372.5,129 368.6,124.8 364.6,120.8 360.7,117.1 356.8,113.6 352.9,110.4 348.9,107.3 345,104.4 341.1,101.6 337.2,99 333.2,96.5 329.3,94.1 325.4,91.7 321.5,89.5 317.5,87.3 313.6,85.2 309.7,83.2 305.7,81.2 301.8,79.3 297.9,77.4 294,75.5 290,73.6 286.1,71.8 282.2,70.1 278.3,68.3 274.3,66.6 270.4,64.8 266.5,63.1 262.6,61.4 258.6,59.8 254.7,58.1 250.8,56.4 246.9,54.8 242.9,53.2 239,51.5M436.5,266.5 432.6,249.6 428.6,234.3 424.7,220.4 420.8,207.9 416.9,196.6 412.9,186.3 409,177 405.1,168.5 401.2,160.8 397.2,153.7 393.3,147.3 389.4,141.3 385.4,135.9 381.5,130.8 377.6,126.1 373.7,121.8 369.7,117.8 365.8,114 361.9,110.4 358,107.1 354,104 350.1,101 346.2,98.2 342.3,95.5 338.3,93 334.4,90.5 330.5,88.2 326.5,85.9 322.6,83.7 318.7,81.6 314.8,79.5 310.8,77.5 306.9,75.5 303,73.6 299.1,71.7 295.1,69.8 291.2,68 287.3,66.2 283.4,64.5 279.4,62.7 275.5,61 271.6,59.3 267.6,57.6 263.7,55.9 259.8,54.2 255.9,52.5 251.9,50.9 248,49.2 244.1,47.6M441.6,265.3 437.7,248.3 433.7,232.9 429.8,219 425.9,206.4 421.9,194.9 418,184.6 414.1,175.1 410.2,166.5 406.2,158.7 402.3,151.5 398.4,144.9 394.5,138.9 390.5,133.3 386.6,128.1 382.7,123.4 378.8,119 374.8,114.8 370.9,111 367,107.4 363.1,104 359.1,100.8 355.2,97.8 351.3,94.9 347.3,92.2 343.4,89.6 339.5,87.1 335.6,84.7 331.6,82.4 327.7,80.1 323.8,78 319.9,75.9 315.9,73.8 312,71.8 308.1,69.9 304.2,68 300.2,66.1 296.3,64.3 292.4,62.5 288.4,60.7 284.5,58.9 280.6,57.2 276.7,55.4 272.7,53.7 268.8,52 264.9,50.4 261,48.7 257,47 253.1,45.4 249.2,43.7M446.7,264.1 442.7,247 438.8,231.6 434.9,217.6 431,204.9 427,193.3 423.1,182.9 419.2,173.3 415.3,164.6 411.3,156.6 407.4,149.4 403.5,142.7 399.6,136.5 395.6,130.8 391.7,125.6 387.8,120.7 383.8,116.2 379.9,112 376,108.1 372.1,104.4 368.1,101 364.2,97.7 360.3,94.6 356.4,91.7 352.4,88.9 348.5,86.3 344.6,83.7 340.7,81.3 336.7,78.9 332.8,76.7 328.9,74.5 325,72.3 321,70.3 317.1,68.3 313.2,66.3 309.2,64.4 305.3,62.5 301.4,60.6 297.5,58.8 293.5,57 289.6,55.2 285.7,53.4 281.8,51.7 277.8,50 273.9,48.3 270,46.6 266.1,44.9 262.1,43.2 258.2,41.6 254.3,39.9M451.8,262.9 447.8,245.8 443.9,230.3 440,216.2 436.1,203.5 432.1,191.8 428.2,181.2 424.3,171.6 420.4,162.8 416.4,154.7 412.5,147.3 408.6,140.5 404.6,134.3 400.7,128.5 396.8,123.2 392.9,118.2 388.9,113.6 385,109.3 381.1,105.3 377.2,101.6 373.2,98 369.3,94.7 365.4,91.6 361.5,88.6 357.5,85.8 353.6,83 349.7,80.5 345.7,78 341.8,75.6 337.9,73.3 334,71 330,68.9 326.1,66.8 322.2,64.7 318.3,62.7 314.3,60.8 310.4,58.9 306.5,57 302.6,55.1 298.6,53.3 294.7,51.5 290.8,49.8 286.9,48 282.9,46.3 279,44.6 275.1,42.9 271.1,41.2 267.2,39.5 263.3,37.8 259.4,36.2M456.9,261.7 452.9,244.6 449,229 445.1,214.9 441.2,202.1 437.2,190.4 433.3,179.7 429.4,169.9 425.4,161 421.5,152.9 417.6,145.4 413.7,138.5 409.7,132.1 405.8,126.2 401.9,120.8 398,115.8 394,111.1 390.1,106.7 386.2,102.6 382.3,98.8 378.3,95.2 374.4,91.8 370.5,88.6 366.5,85.6 362.6,82.7 358.7,79.9 354.8,77.3 350.8,74.7 346.9,72.3 343,70 339.1,67.7 335.1,65.5 331.2,63.4 327.3,61.3 323.4,59.3 319.4,57.3 315.5,55.3 311.6,53.4 307.6,51.6 303.7,49.7 299.8,47.9 295.9,46.1 291.9,44.4 288,42.6 284.1,40.9 280.2,39.2 276.2,37.5 272.3,35.8 268.4,34.1 264.5,32.5M461.9,260.5 458,243.4 454.1,227.8 450.2,213.6 446.2,200.7 442.3,188.9 438.4,178.2 434.5,168.3 430.5,159.3 426.6,151.1 422.7,143.5 418.8,136.5 414.8,130 410.9,124 407,118.5 403.1,113.4 399.1,108.6 395.2,104.2 391.3,100 387.3,96.1 383.4,92.4 379.5,89 375.6,85.7 371.6,82.6 367.7,79.6 363.8,76.8 359.9,74.1 355.9,71.6 352,69.1 348.1,66.7 344.2,64.4 340.2,62.2 336.3,60 332.4,57.9 328.4,55.8 324.5,53.8 320.6,51.9 316.7,50 312.7,48.1 308.8,46.2 304.9,44.4 301,42.6 297,40.8 293.1,39 289.2,37.3 285.3,35.6 281.3,33.9 277.4,32.2 273.5,30.5 269.5,28.8M467,259.3 463.1,242.2 459.2,226.6 455.3,212.4 451.3,199.4 447.4,187.5 443.5,176.7 439.6,166.8 435.6,157.7 431.7,149.3 427.8,141.6 423.8,134.5 419.9,128 416,121.9 412.1,116.3 408.1,111.1 404.2,106.2 400.3,101.7 396.4,97.4 392.4,93.5 388.5,89.7 384.6,86.2 380.7,82.9 376.7,79.7 372.8,76.7 368.9,73.8 365,71.1 361,68.5 357.1,65.9 353.2,63.5 349.2,61.2 345.3,58.9 341.4,56.7 337.5,54.6 333.5,52.5 329.6,50.5 325.7,48.5 321.8,46.5 317.8,44.6 313.9,42.7 310,40.9 306.1,39.1 302.1,37.3 298.2,35.5 294.3,33.8 290.3,32 286.4,30.3 282.5,28.6 278.6,26.9 274.6,25.2M472.1,258.1 468.2,241 464.3,225.3 460.4,211.1 456.4,198 452.5,186.1 448.6,175.2 444.6,165.2 440.7,156 436.8,147.5 432.9,139.8 428.9,132.6 425,125.9 421.1,119.8 417.2,114.1 413.2,108.8 409.3,103.9 405.4,99.2 401.5,94.9 397.5,90.9 393.6,87.1 389.7,83.5 385.7,80.1 381.8,76.8 377.9,73.8 374,70.9 370,68.1 366.1,65.4 362.2,62.8 358.3,60.4 354.3,58 350.4,55.7 346.5,53.5 342.6,51.3 338.6,49.2 334.7,47.1 330.8,45.1 326.9,43.2 322.9,41.2 319,39.3 315.1,37.5 311.1,35.6 307.2,33.8 303.3,32 299.4,30.3 295.4,28.5 291.5,26.8 287.6,25.1 283.7,23.4 279.7,21.7M477.2,256.9 473.3,239.8 469.4,224.1 465.4,209.8 461.5,196.7 457.6,184.7 453.7,173.7 449.7,163.6 445.8,154.4 441.9,145.8 438,137.9 434,130.7 430.1,123.9 426.2,117.7 422.3,111.9 418.3,106.5 414.4,101.5 410.5,96.8 406.5,92.4 402.6,88.3 398.7,84.4 394.8,80.8 390.8,77.3 386.9,74 383,70.9 379.1,68 375.1,65.1 371.2,62.4 367.3,59.8 363.4,57.3 359.4,54.9 355.5,52.6 351.6,50.3 347.6,48.1 343.7,46 339.8,43.9 335.9,41.8 331.9,39.8 328,37.9 324.1,36 320.2,34.1 316.2,32.2 312.3,30.4 308.4,28.6 304.5,26.8 300.5,25.1 296.6,23.3 292.7,21.6 288.8,19.9 284.8,18.2M482.3,255.7 478.4,238.6 474.5,222.9 470.5,208.5 466.6,195.4 462.7,183.3 458.8,172.2 454.8,162.1 450.9,152.7 447,144.1 443.1,136.1 439.1,128.8 435.2,122 431.3,115.6 427.3,109.8 423.4,104.3 419.5,99.2 415.6,94.4 411.6,90 407.7,85.8 403.8,81.9 399.9,78.1 395.9,74.6 392,71.3 388.1,68.1 384.2,65.1 380.2,62.2 376.3,59.5 372.4,56.8 368.4,54.3 364.5,51.8 360.6,49.4 356.7,47.2 352.7,44.9 348.8,42.8 344.9,40.7 341,38.6 337,36.6 333.1,34.6 329.2,32.7 325.3,30.8 321.3,28.9 317.4,27.1 313.5,25.3 309.5,23.5 305.6,21.7 301.7,19.9 297.8,18.2 293.8,16.5 289.9,14.8M487.4,254.5 483.5,237.3 479.6,221.6 475.6,207.2 471.7,194 467.8,181.9 463.8,170.7 459.9,160.5 456,151 452.1,142.3 448.1,134.3 444.2,126.9 440.3,120 436.4,113.6 432.4,107.6 428.5,102.1 424.6,96.9 420.7,92.1 416.7,87.6 412.8,83.3 408.9,79.3 405,75.5 401,71.9 397.1,68.6 393.2,65.3 389.2,62.3 385.3,59.3 381.4,56.5 377.5,53.9 373.5,51.3 369.6,48.8 365.7,46.4 361.8,44.1 357.8,41.8 353.9,39.6 350,37.5 346.1,35.4 342.1,33.4 338.2,31.4 334.3,29.4 330.3,27.5 326.4,25.6 322.5,23.8 318.6,21.9 314.6,20.1 310.7,18.4 306.8,16.6 302.9,14.8 298.9,13.1 295,11.4M492.5,253.3 488.6,236.1 484.6,220.3 480.7,205.9 476.8,192.6 472.9,180.4 468.9,169.2 465,158.9 461.1,149.4 457.2,140.6 453.2,132.5 449.3,124.9 445.4,118 441.5,111.5 437.5,105.5 433.6,99.9 429.7,94.6 425.7,89.7 421.8,85.1 417.9,80.8 414,76.8 410,72.9 406.1,69.3 402.2,65.9 398.3,62.6 394.3,59.5 390.4,56.5 386.5,53.7 382.6,51 378.6,48.3 374.7,45.8 370.8,43.4 366.9,41 362.9,38.7 359,36.5 355.1,34.4 351.1,32.3 347.2,30.2 343.3,28.2 339.4,26.2 335.4,24.3 331.5,22.4 327.6,20.5 323.7,18.7 319.7,16.9 315.8,15.1 311.9,13.3 308,11.5 304,9.8 300.1,8.1" fill="none" stroke="#000" stroke-opacity="0.38" stroke-width="0.45" stroke-linejoin="round"/>
<path d="M50.6,235.2L45.5,233.2M50.6,183L45.5,180.9M50.6,130.8L45.5,128.7M50.6,78.6L45.5,76.5M243,312.3L237.6,313.6M192.1,291.9L186.7,293.2M141.2,271.5L135.8,272.8M90.3,251.1L84.9,252.4M278.1,304L283.2,306M317.1,294.8L322.2,296.8M356.1,285.6L361.2,287.6M395,276.3L400.1,278.4M434,267.1L439.1,269.2M473,257.9L478.1,260" stroke="#555" stroke-width="0.7" fill="none"/>
<g font-size="12.6" fill="#262626">
<text x="40.5" y="237.4" text-anchor="end">0</text>
<text x="40.5" y="185.2" text-anchor="end">5</text>
<text x="40.5" y="133" text-anchor="end">10</text>
<text x="40.5" y="80.8" text-anchor="end">15</text>
<text x="233.3" y="328.3" text-anchor="end">0</text>
<text x="182.4" y="307.9" text-anchor="end">50</text>
<text x="131.5" y="287.5" text-anchor="end">100</text>
<text x="80.6" y="267.1" text-anchor="end">150</text>
<text x="287.1" y="321">200</text>
<text x="326.1" y="311.8">400</text>
<text x="365.1" y="302.6">600</text>
<text x="404" y="293.3">800</text>
<text x="443" y="284.1">1000</text>
<text x="482" y="274.9">1200</text>
</g>
<g font-size="15" fill="#262626">
<text x="127.3" y="329.8" text-anchor="middle">Time / s</text>
<text x="409.5" y="333.6" text-anchor="middle">Temperature / °C</text>
<text transform="translate(21.3,151.8) rotate(-90)" text-anchor="middle">Gas Evolution Volume / ml</text>
</g>
<rect x="356.8" y="11.7" width="151.8" height="17.7" fill="#fff" stroke="#555" stroke-width="0.7"/>
<circle cx="371" cy="21" r="1.5" fill="#000"/>
<text x="385" y="25.4" font-size="13.8" fill="#000">Measured Data Points</text>
<defs><linearGradient id="cb" x1="0" y1="1" x2="0" y2="0"><stop offset="0.0000" stop-color="#3e26a8"/><stop offset="0.0159" stop-color="#402ab4"/><stop offset="0.0317" stop-color="#422ec0"/><stop offset="0.0476" stop-color="#4332cb"/><stop offset="0.0635" stop-color="#4537d5"/><stop offset="0.0794" stop-color="#463cde"/><stop offset="0.0952" stop-color="#4741e5"/><stop offset="0.1111" stop-color="#4747eb"/><stop offset="0.1270" stop-color="#484df0"/><stop offset="0.1429" stop-color="#4852f4"/><stop offset="0.1587" stop-color="#4758f8"/><stop offset="0.1746" stop-color="#465efb"/><stop offset="0.1905" stop-color="#4563fd"/><stop offset="0.2063" stop-color="#4269fe"/><stop offset="0.2222" stop-color="#3e6fff"/><stop offset="0.2381" stop-color="#3875fe"/><stop offset="0.2540" stop-color="#327cfc"/><stop offset="0.2698" stop-color="#2f81fa"/><stop offset="0.2857" stop-color="#2e87f7"/><stop offset="0.3016" stop-color="#2d8cf3"/><stop offset="0.3175" stop-color="#2b91ef"/><stop offset="0.3333" stop-color="#2797eb"/><stop offset="0.3492" stop-color="#259be8"/><stop offset="0.3651" stop-color="#23a0e5"/><stop offset="0.3810" stop-color="#20a5e3"/><stop offset="0.3968" stop-color="#1ca9df"/><stop offset="0.4127" stop-color="#18addb"/><stop offset="0.4286" stop-color="#12b1d6"/><stop offset="0.4444" stop-color="#08b5d0"/><stop offset="0.4603" stop-color="#01b8ca"/><stop offset="0.4762" stop-color="#02bac3"/><stop offset="0.4921" stop-color="#0bbdbd"/><stop offset="0.5079" stop-color="#19bfb6"/><stop offset="0.5238" stop-color="#24c1ae"/><stop offset="0.5397" stop-color="#2cc4a7"/><stop offset="0.5556" stop-color="#31c69f"/><stop offset="0.5714" stop-color="#37c897"/><stop offset="0.5873" stop-color="#3fca8e"/><stop offset="0.6032" stop-color="#4acb84"/><stop offset="0.6190" stop-color="#57cc7a"/><stop offset="0.6349" stop-color="#64cd6f"/><stop offset="0.6508" stop-color="#72cd64"/><stop offset="0.6667" stop-color="#81cc59"/><stop offset="0.6825" stop-color="#8fcb4e"/><stop offset="0.6984" stop-color="#9dc943"/><stop offset="0.7143" stop-color="#abc739"/><stop offset="0.7302" stop-color="#b9c431"/><stop offset="0.7460" stop-color="#c5c22a"/><stop offset="0.7619" stop-color="#d1bf27"/><stop offset="0.7778" stop-color="#dcbd29"/><stop offset="0.7937" stop-color="#e6bb2d"/><stop offset="0.8095" stop-color="#f0ba36"/><stop offset="0.8254" stop-color="#f8ba3d"/><stop offset="0.8413" stop-color="#febe3c"/><stop offset="0.8571" stop-color="#fec338"/><stop offset="0.8730" stop-color="#fec934"/><stop offset="0.8889" stop-color="#fccf30"/><stop offset="0.9048" stop-color="#fad62d"/><stop offset="0.9206" stop-color="#f7dc2a"/><stop offset="0.9365" stop-color="#f5e327"/><stop offset="0.9524" stop-color="#f5e924"/><stop offset="0.9683" stop-color="#f6ef20"/><stop offset="0.9841" stop-color="#f7f51b"/><stop offset="1.0000" stop-color="#f9fb15"/></linearGradient></defs>
<rect x="514.5" y="9.6" width="12.5" height="302.7" fill="url(#cb)"/>
<g font-size="12.6" fill="#262626">
<text x="531" y="316.9">0</text>
<text x="531" y="222.3">5</text>
<text x="531" y="127.7">10</text>
<text x="531" y="33.1">15</text>
</g>
<path d="M524.5,217.7L527,217.7M524.5,123.1L527,123.1M524.5,28.5L527,28.5" stroke="#444" stroke-width="0.7" fill="none"/>
<g fill="#000">
<circle cx="75.3" cy="212" r="1.5"/>
<circle cx="90" cy="219.4" r="1.5"/>
<circle cx="105.2" cy="225.4" r="1.5"/>
<circle cx="120.2" cy="231.9" r="1.5"/>
<circle cx="136.4" cy="238.5" r="1.5"/>
<circle cx="151.6" cy="246.4" r="1.5"/>
<circle cx="167.8" cy="254.3" r="1.5"/>
<circle cx="182.2" cy="262.4" r="1.5"/>
<circle cx="196.8" cy="270.4" r="1.5"/>
<circle cx="211.4" cy="278.8" r="1.5"/>
<circle cx="227.1" cy="288" r="1.5"/>
<circle cx="243.2" cy="297.2" r="1.5"/>
<circle cx="94.5" cy="188.2" r="1.5"/>
<circle cx="110.1" cy="194.2" r="1.5"/>
<circle cx="125.4" cy="201" r="1.5"/>
<circle cx="140.8" cy="206.9" r="1.5"/>
<circle cx="156" cy="215.3" r="1.5"/>
<circle cx="170.9" cy="222" r="1.5"/>
<circle cx="186.5" cy="229.6" r="1.5"/>
<circle cx="201.8" cy="237.4" r="1.5"/>
<circle cx="216.4" cy="247.2" r="1.5"/>
<circle cx="232.7" cy="261" r="1.5"/>
<circle cx="247.5" cy="275" r="1.5"/>
<circle cx="263.2" cy="286.8" r="1.5"/>
<circle cx="277.7" cy="304" r="1.5"/>
<circle cx="114.6" cy="167.8" r="1.5"/>
<circle cx="129.1" cy="173.5" r="1.5"/>
<circle cx="144.8" cy="180.5" r="1.5"/>
<circle cx="159.4" cy="185.3" r="1.5"/>
<circle cx="175" cy="192.3" r="1.5"/>
<circle cx="190.5" cy="197" r="1.5"/>
<circle cx="205.6" cy="206.8" r="1.5"/>
<circle cx="220.6" cy="215.1" r="1.5"/>
<circle cx="236.2" cy="226.3" r="1.5"/>
<circle cx="250.9" cy="235.6" r="1.5"/>
<circle cx="267.2" cy="252.8" r="1.5"/>
<circle cx="282.2" cy="274.9" r="1.5"/>
<circle cx="229.7" cy="174.3" r="1.5"/>
<circle cx="244.6" cy="180.5" r="1.5"/>
<circle cx="260" cy="188.8" r="1.5"/>
<circle cx="275.1" cy="198.2" r="1.5"/>
<circle cx="290.2" cy="212.3" r="1.5"/>
<circle cx="306.2" cy="227" r="1.5"/>
<circle cx="321.5" cy="256" r="1.5"/>
<circle cx="280.9" cy="175" r="1.5"/>
<circle cx="295.1" cy="184.6" r="1.5"/>
<circle cx="310.4" cy="198" r="1.5"/>
<circle cx="325.8" cy="219" r="1.5"/>
<circle cx="340.4" cy="239.4" r="1.5"/>
<circle cx="249.8" cy="157.1" r="1.5"/>
<circle cx="210.4" cy="86.7" r="1.5"/>
<circle cx="225.8" cy="92.6" r="1.5"/>
<circle cx="256.8" cy="107.6" r="1.5"/>
<circle cx="287" cy="124" r="1.5"/>
<circle cx="303" cy="133.5" r="1.5"/>
<circle cx="318.7" cy="143" r="1.5"/>
<circle cx="333.4" cy="152" r="1.5"/>
<circle cx="348.7" cy="166.7" r="1.5"/>
<circle cx="364" cy="192.5" r="1.5"/>
<circle cx="379.4" cy="219.4" r="1.5"/>
<circle cx="352.8" cy="144.9" r="1.5"/>
<circle cx="370.7" cy="158.3" r="1.5"/>
<circle cx="385.4" cy="182.3" r="1.5"/>
<circle cx="400.1" cy="216.2" r="1.5"/>
<circle cx="251" cy="48" r="1.5"/>
<circle cx="266.3" cy="58" r="1.5"/>
<circle cx="282.6" cy="69.3" r="1.5"/>
<circle cx="297.6" cy="76.6" r="1.5"/>
<circle cx="312.9" cy="85.9" r="1.5"/>
<circle cx="327.3" cy="94.9" r="1.5"/>
<circle cx="342.9" cy="104.1" r="1.5"/>
<circle cx="358.3" cy="115" r="1.5"/>
<circle cx="373.6" cy="127.8" r="1.5"/>
<circle cx="389" cy="142" r="1.5"/>
<circle cx="403.6" cy="157.7" r="1.5"/>
<circle cx="419.6" cy="201.2" r="1.5"/>
<circle cx="297.6" cy="299.7" r="1.5"/>
<circle cx="317.2" cy="295" r="1.5"/>
<circle cx="336.6" cy="290.3" r="1.5"/>
<circle cx="356.5" cy="285.8" r="1.5"/>
<circle cx="376" cy="281.4" r="1.5"/>
<circle cx="395.3" cy="276.5" r="1.5"/>
<circle cx="414.8" cy="271.8" r="1.5"/>
<circle cx="434.4" cy="267.4" r="1.5"/>
<circle cx="271.2" cy="115.6" r="0.9"/>
<circle cx="213" cy="166.7" r="0.9"/>
<circle cx="224.7" cy="200.8" r="0.9"/>
<circle cx="240.7" cy="209.7" r="0.9"/>
<circle cx="255.4" cy="220.3" r="0.9"/>
<circle cx="270.7" cy="231.1" r="0.9"/>
<circle cx="286.4" cy="248.7" r="0.9"/>
</g>
</svg>
</body></html>
